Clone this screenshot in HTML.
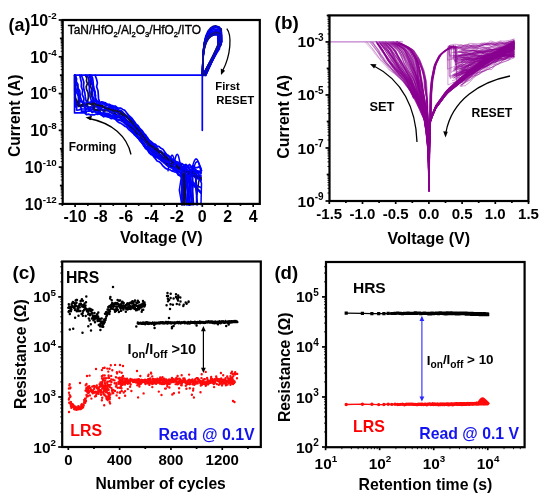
<!DOCTYPE html>
<html><head><meta charset="utf-8"><style>
html,body{margin:0;padding:0;background:#fff;}
svg{display:block;font-family:"Liberation Sans", sans-serif;filter:blur(0.35px);}
</style></head><body>
<svg width="550" height="498" viewBox="0 0 550 498">
<rect width="550" height="498" fill="#fff"/>
<line x1="60.70" y1="198.36" x2="62.70" y2="198.36" stroke="#000" stroke-width="0.9"/>
<line x1="60.70" y1="195.13" x2="62.70" y2="195.13" stroke="#000" stroke-width="0.9"/>
<line x1="60.70" y1="192.83" x2="62.70" y2="192.83" stroke="#000" stroke-width="0.9"/>
<line x1="60.70" y1="191.05" x2="62.70" y2="191.05" stroke="#000" stroke-width="0.9"/>
<line x1="60.70" y1="189.59" x2="62.70" y2="189.59" stroke="#000" stroke-width="0.9"/>
<line x1="60.70" y1="188.36" x2="62.70" y2="188.36" stroke="#000" stroke-width="0.9"/>
<line x1="60.70" y1="187.29" x2="62.70" y2="187.29" stroke="#000" stroke-width="0.9"/>
<line x1="60.70" y1="186.35" x2="62.70" y2="186.35" stroke="#000" stroke-width="0.9"/>
<line x1="60.70" y1="179.97" x2="62.70" y2="179.97" stroke="#000" stroke-width="0.9"/>
<line x1="60.70" y1="176.74" x2="62.70" y2="176.74" stroke="#000" stroke-width="0.9"/>
<line x1="60.70" y1="174.44" x2="62.70" y2="174.44" stroke="#000" stroke-width="0.9"/>
<line x1="60.70" y1="172.66" x2="62.70" y2="172.66" stroke="#000" stroke-width="0.9"/>
<line x1="60.70" y1="171.20" x2="62.70" y2="171.20" stroke="#000" stroke-width="0.9"/>
<line x1="60.70" y1="169.97" x2="62.70" y2="169.97" stroke="#000" stroke-width="0.9"/>
<line x1="60.70" y1="168.90" x2="62.70" y2="168.90" stroke="#000" stroke-width="0.9"/>
<line x1="60.70" y1="167.96" x2="62.70" y2="167.96" stroke="#000" stroke-width="0.9"/>
<line x1="60.70" y1="161.58" x2="62.70" y2="161.58" stroke="#000" stroke-width="0.9"/>
<line x1="60.70" y1="158.35" x2="62.70" y2="158.35" stroke="#000" stroke-width="0.9"/>
<line x1="60.70" y1="156.05" x2="62.70" y2="156.05" stroke="#000" stroke-width="0.9"/>
<line x1="60.70" y1="154.27" x2="62.70" y2="154.27" stroke="#000" stroke-width="0.9"/>
<line x1="60.70" y1="152.81" x2="62.70" y2="152.81" stroke="#000" stroke-width="0.9"/>
<line x1="60.70" y1="151.58" x2="62.70" y2="151.58" stroke="#000" stroke-width="0.9"/>
<line x1="60.70" y1="150.51" x2="62.70" y2="150.51" stroke="#000" stroke-width="0.9"/>
<line x1="60.70" y1="149.57" x2="62.70" y2="149.57" stroke="#000" stroke-width="0.9"/>
<line x1="60.70" y1="143.19" x2="62.70" y2="143.19" stroke="#000" stroke-width="0.9"/>
<line x1="60.70" y1="139.96" x2="62.70" y2="139.96" stroke="#000" stroke-width="0.9"/>
<line x1="60.70" y1="137.66" x2="62.70" y2="137.66" stroke="#000" stroke-width="0.9"/>
<line x1="60.70" y1="135.88" x2="62.70" y2="135.88" stroke="#000" stroke-width="0.9"/>
<line x1="60.70" y1="134.42" x2="62.70" y2="134.42" stroke="#000" stroke-width="0.9"/>
<line x1="60.70" y1="133.19" x2="62.70" y2="133.19" stroke="#000" stroke-width="0.9"/>
<line x1="60.70" y1="132.12" x2="62.70" y2="132.12" stroke="#000" stroke-width="0.9"/>
<line x1="60.70" y1="131.18" x2="62.70" y2="131.18" stroke="#000" stroke-width="0.9"/>
<line x1="60.70" y1="124.80" x2="62.70" y2="124.80" stroke="#000" stroke-width="0.9"/>
<line x1="60.70" y1="121.57" x2="62.70" y2="121.57" stroke="#000" stroke-width="0.9"/>
<line x1="60.70" y1="119.27" x2="62.70" y2="119.27" stroke="#000" stroke-width="0.9"/>
<line x1="60.70" y1="117.49" x2="62.70" y2="117.49" stroke="#000" stroke-width="0.9"/>
<line x1="60.70" y1="116.03" x2="62.70" y2="116.03" stroke="#000" stroke-width="0.9"/>
<line x1="60.70" y1="114.80" x2="62.70" y2="114.80" stroke="#000" stroke-width="0.9"/>
<line x1="60.70" y1="113.73" x2="62.70" y2="113.73" stroke="#000" stroke-width="0.9"/>
<line x1="60.70" y1="112.79" x2="62.70" y2="112.79" stroke="#000" stroke-width="0.9"/>
<line x1="60.70" y1="106.41" x2="62.70" y2="106.41" stroke="#000" stroke-width="0.9"/>
<line x1="60.70" y1="103.18" x2="62.70" y2="103.18" stroke="#000" stroke-width="0.9"/>
<line x1="60.70" y1="100.88" x2="62.70" y2="100.88" stroke="#000" stroke-width="0.9"/>
<line x1="60.70" y1="99.10" x2="62.70" y2="99.10" stroke="#000" stroke-width="0.9"/>
<line x1="60.70" y1="97.64" x2="62.70" y2="97.64" stroke="#000" stroke-width="0.9"/>
<line x1="60.70" y1="96.41" x2="62.70" y2="96.41" stroke="#000" stroke-width="0.9"/>
<line x1="60.70" y1="95.34" x2="62.70" y2="95.34" stroke="#000" stroke-width="0.9"/>
<line x1="60.70" y1="94.40" x2="62.70" y2="94.40" stroke="#000" stroke-width="0.9"/>
<line x1="60.70" y1="88.02" x2="62.70" y2="88.02" stroke="#000" stroke-width="0.9"/>
<line x1="60.70" y1="84.79" x2="62.70" y2="84.79" stroke="#000" stroke-width="0.9"/>
<line x1="60.70" y1="82.49" x2="62.70" y2="82.49" stroke="#000" stroke-width="0.9"/>
<line x1="60.70" y1="80.71" x2="62.70" y2="80.71" stroke="#000" stroke-width="0.9"/>
<line x1="60.70" y1="79.25" x2="62.70" y2="79.25" stroke="#000" stroke-width="0.9"/>
<line x1="60.70" y1="78.02" x2="62.70" y2="78.02" stroke="#000" stroke-width="0.9"/>
<line x1="60.70" y1="76.95" x2="62.70" y2="76.95" stroke="#000" stroke-width="0.9"/>
<line x1="60.70" y1="76.01" x2="62.70" y2="76.01" stroke="#000" stroke-width="0.9"/>
<line x1="60.70" y1="69.63" x2="62.70" y2="69.63" stroke="#000" stroke-width="0.9"/>
<line x1="60.70" y1="66.40" x2="62.70" y2="66.40" stroke="#000" stroke-width="0.9"/>
<line x1="60.70" y1="64.10" x2="62.70" y2="64.10" stroke="#000" stroke-width="0.9"/>
<line x1="60.70" y1="62.32" x2="62.70" y2="62.32" stroke="#000" stroke-width="0.9"/>
<line x1="60.70" y1="60.86" x2="62.70" y2="60.86" stroke="#000" stroke-width="0.9"/>
<line x1="60.70" y1="59.63" x2="62.70" y2="59.63" stroke="#000" stroke-width="0.9"/>
<line x1="60.70" y1="58.56" x2="62.70" y2="58.56" stroke="#000" stroke-width="0.9"/>
<line x1="60.70" y1="57.62" x2="62.70" y2="57.62" stroke="#000" stroke-width="0.9"/>
<line x1="60.70" y1="51.24" x2="62.70" y2="51.24" stroke="#000" stroke-width="0.9"/>
<line x1="60.70" y1="48.01" x2="62.70" y2="48.01" stroke="#000" stroke-width="0.9"/>
<line x1="60.70" y1="45.71" x2="62.70" y2="45.71" stroke="#000" stroke-width="0.9"/>
<line x1="60.70" y1="43.93" x2="62.70" y2="43.93" stroke="#000" stroke-width="0.9"/>
<line x1="60.70" y1="42.47" x2="62.70" y2="42.47" stroke="#000" stroke-width="0.9"/>
<line x1="60.70" y1="41.24" x2="62.70" y2="41.24" stroke="#000" stroke-width="0.9"/>
<line x1="60.70" y1="40.17" x2="62.70" y2="40.17" stroke="#000" stroke-width="0.9"/>
<line x1="60.70" y1="39.23" x2="62.70" y2="39.23" stroke="#000" stroke-width="0.9"/>
<line x1="60.70" y1="32.85" x2="62.70" y2="32.85" stroke="#000" stroke-width="0.9"/>
<line x1="60.70" y1="29.62" x2="62.70" y2="29.62" stroke="#000" stroke-width="0.9"/>
<line x1="60.70" y1="27.32" x2="62.70" y2="27.32" stroke="#000" stroke-width="0.9"/>
<line x1="60.70" y1="25.54" x2="62.70" y2="25.54" stroke="#000" stroke-width="0.9"/>
<line x1="60.70" y1="24.08" x2="62.70" y2="24.08" stroke="#000" stroke-width="0.9"/>
<line x1="60.70" y1="22.85" x2="62.70" y2="22.85" stroke="#000" stroke-width="0.9"/>
<line x1="60.70" y1="21.78" x2="62.70" y2="21.78" stroke="#000" stroke-width="0.9"/>
<line x1="60.70" y1="20.84" x2="62.70" y2="20.84" stroke="#000" stroke-width="0.9"/>
<line x1="58.70" y1="203.90" x2="62.70" y2="203.90" stroke="#000" stroke-width="1.7"/>
<line x1="59.90" y1="185.51" x2="62.70" y2="185.51" stroke="#000" stroke-width="1.7"/>
<line x1="58.70" y1="167.12" x2="62.70" y2="167.12" stroke="#000" stroke-width="1.7"/>
<line x1="59.90" y1="148.73" x2="62.70" y2="148.73" stroke="#000" stroke-width="1.7"/>
<line x1="58.70" y1="130.34" x2="62.70" y2="130.34" stroke="#000" stroke-width="1.7"/>
<line x1="59.90" y1="111.95" x2="62.70" y2="111.95" stroke="#000" stroke-width="1.7"/>
<line x1="58.70" y1="93.56" x2="62.70" y2="93.56" stroke="#000" stroke-width="1.7"/>
<line x1="59.90" y1="75.17" x2="62.70" y2="75.17" stroke="#000" stroke-width="1.7"/>
<line x1="58.70" y1="56.78" x2="62.70" y2="56.78" stroke="#000" stroke-width="1.7"/>
<line x1="59.90" y1="38.39" x2="62.70" y2="38.39" stroke="#000" stroke-width="1.7"/>
<line x1="58.70" y1="20.00" x2="62.70" y2="20.00" stroke="#000" stroke-width="1.7"/>
<line x1="62.38" y1="203.90" x2="62.38" y2="205.90" stroke="#000" stroke-width="1.7"/>
<line x1="75.10" y1="203.90" x2="75.10" y2="206.90" stroke="#000" stroke-width="1.7"/>
<line x1="87.82" y1="203.90" x2="87.82" y2="205.90" stroke="#000" stroke-width="1.7"/>
<line x1="100.54" y1="203.90" x2="100.54" y2="206.90" stroke="#000" stroke-width="1.7"/>
<line x1="113.26" y1="203.90" x2="113.26" y2="205.90" stroke="#000" stroke-width="1.7"/>
<line x1="125.98" y1="203.90" x2="125.98" y2="206.90" stroke="#000" stroke-width="1.7"/>
<line x1="138.70" y1="203.90" x2="138.70" y2="205.90" stroke="#000" stroke-width="1.7"/>
<line x1="151.42" y1="203.90" x2="151.42" y2="206.90" stroke="#000" stroke-width="1.7"/>
<line x1="164.14" y1="203.90" x2="164.14" y2="205.90" stroke="#000" stroke-width="1.7"/>
<line x1="176.86" y1="203.90" x2="176.86" y2="206.90" stroke="#000" stroke-width="1.7"/>
<line x1="189.58" y1="203.90" x2="189.58" y2="205.90" stroke="#000" stroke-width="1.7"/>
<line x1="202.30" y1="203.90" x2="202.30" y2="206.90" stroke="#000" stroke-width="1.7"/>
<line x1="215.02" y1="203.90" x2="215.02" y2="205.90" stroke="#000" stroke-width="1.7"/>
<line x1="227.74" y1="203.90" x2="227.74" y2="206.90" stroke="#000" stroke-width="1.7"/>
<line x1="240.46" y1="203.90" x2="240.46" y2="205.90" stroke="#000" stroke-width="1.7"/>
<line x1="253.18" y1="203.90" x2="253.18" y2="206.90" stroke="#000" stroke-width="1.7"/>
<polyline points="201.0,193.1 199.1,191.3 197.2,188.6 195.3,187.3 193.4,185.5 191.5,184.7 189.6,182.8 187.7,181.6 185.8,180.9 183.9,179.5 181.9,177.6 180.0,175.8 178.1,175.0 176.2,170.8 174.3,170.1 172.4,167.9 170.5,166.9 168.6,164.9 166.7,162.5 164.8,158.7 162.9,157.2 161.0,155.1 159.1,153.6 157.1,152.0 155.2,150.3 153.3,149.5 151.4,147.4 149.5,145.4 147.6,144.4 145.7,142.3 143.8,140.4 141.9,138.2 140.0,136.3 138.1,133.9 136.2,129.4 134.2,127.8 132.3,126.4 130.4,124.3 128.5,122.6 126.6,120.1 124.7,117.8 122.8,115.6 120.9,114.3 119.0,114.6 117.1,112.3 115.2,113.3 113.3,110.7 111.4,111.0 109.4,110.8 107.5,110.3 105.6,109.2 103.7,111.7 101.8,109.5 99.9,109.5 98.0,109.0 96.1,109.5 94.2,109.1 92.3,108.0 90.4,107.2 88.5,107.7 86.5,105.4 84.6,106.3 82.7,106.4 80.8,106.0 78.9,105.8 77.0,105.3 75.1,107.0 75.5,103.8 75.0,100.6 74.8,97.4 75.0,94.3 74.8,91.1 74.8,87.9 74.8,84.7 74.8,81.5 74.8,78.4 74.8,75.2" fill="none" stroke="#0000ff" stroke-width="1.7" stroke-opacity="1" stroke-linejoin="round" stroke-linecap="round" />
<polyline points="201.0,172.1 199.1,172.8 197.2,172.6 195.3,170.8 193.4,171.5 191.5,171.1 189.6,171.2 187.7,172.3 185.8,170.2 183.9,170.3 181.9,170.3 180.0,169.1 178.1,168.4 176.2,167.8 174.3,166.4 172.4,165.2 170.5,163.9 168.6,163.3 166.7,162.5 164.8,160.3 162.9,160.0 161.0,157.7 159.1,156.2 157.1,155.6 155.2,155.1 153.3,153.2 151.4,151.3 149.5,149.3 147.6,146.7 145.7,145.9 143.8,143.1 141.9,140.4 140.0,138.3 138.1,137.0 136.2,132.7 134.2,129.3 132.3,127.4 130.4,126.3 128.5,124.2 126.6,122.1 124.7,119.3 122.8,118.8 120.9,117.7 119.0,116.3 117.1,116.7 115.2,115.0 113.3,115.9 111.4,115.2 109.4,114.1 107.5,113.3 105.6,113.2 103.7,112.8 101.8,113.2 99.9,111.9 98.0,111.3 96.1,110.8 94.2,109.7 92.3,109.8 90.4,108.9 88.5,109.0 86.5,109.2 84.6,109.0 82.7,109.0 80.8,109.0 78.9,110.0 77.0,110.2 76.4,109.8 76.9,106.3 76.5,102.9 75.6,99.4 75.3,95.9 74.8,92.5 74.8,89.0 74.8,85.6 74.8,82.1 74.8,78.6 74.8,75.2" fill="none" stroke="#0000ff" stroke-width="1.7" stroke-opacity="1" stroke-linejoin="round" stroke-linecap="round" />
<polyline points="201.0,177.3 199.1,176.4 197.2,175.2 195.3,173.5 193.4,172.6 191.5,170.9 189.6,170.3 187.7,170.4 185.8,169.1 183.9,167.5 181.9,167.7 180.0,166.6 178.1,166.4 176.2,164.1 174.3,164.2 172.4,163.8 170.5,163.7 168.6,161.4 166.7,161.0 164.8,158.4 162.9,157.9 161.0,155.7 159.1,153.5 157.1,151.7 155.2,148.7 153.3,147.4 151.4,145.5 149.5,144.3 147.6,142.2 145.7,138.0 143.8,137.2 141.9,135.3 140.0,132.1 138.1,131.3 136.2,129.1 134.2,126.8 132.3,125.0 130.4,123.1 128.5,121.6 126.6,120.3 124.7,118.3 122.8,115.9 120.9,113.3 119.0,113.7 117.1,111.7 115.2,110.1 113.3,109.6 111.4,107.9 109.4,107.7 107.5,107.5 105.6,107.4 103.7,106.3 101.8,105.6 99.9,106.9 98.0,107.3 96.1,106.5 94.2,107.3 92.3,107.1 90.4,107.1 88.5,107.5 86.5,105.9 84.6,105.0 82.7,106.1 80.8,105.7 78.9,105.3 78.4,102.2 78.5,99.2 78.6,96.2 78.3,93.2 77.8,90.2 77.8,87.2 76.5,84.2 76.0,81.2 76.2,78.2 75.3,75.2" fill="none" stroke="#10103a" stroke-width="1.7" stroke-opacity="1" stroke-linejoin="round" stroke-linecap="round" />
<polyline points="201.0,171.8 199.1,171.0 197.2,171.8 195.3,171.6 193.4,171.5 191.5,170.2 189.6,170.8 187.7,171.6 185.8,171.5 183.9,171.4 181.9,170.7 180.0,170.2 178.1,169.4 176.2,168.9 174.3,167.8 172.4,165.7 170.5,165.6 168.6,165.2 166.7,164.3 164.8,162.8 162.9,161.2 161.0,160.3 159.1,158.5 157.1,157.1 155.2,156.3 153.3,155.0 151.4,153.8 149.5,152.0 147.6,148.9 145.7,148.5 143.8,145.1 141.9,142.9 140.0,140.5 138.1,137.5 136.2,134.4 134.2,132.4 132.3,129.9 130.4,128.0 128.5,125.9 126.6,123.6 124.7,122.7 122.8,121.6 120.9,120.3 119.0,119.6 117.1,119.2 115.2,117.3 113.3,117.1 111.4,116.8 109.4,115.5 107.5,116.3 105.6,115.0 103.7,114.4 101.8,114.9 99.9,114.2 98.0,113.4 96.1,111.9 94.2,111.2 92.3,112.2 90.4,110.6 88.5,111.1 86.5,111.0 84.6,111.2 82.7,111.2 81.5,111.8 81.2,108.1 79.6,104.4 79.9,100.8 79.4,97.1 78.8,93.5 77.6,89.8 77.4,86.1 76.2,82.5 76.6,78.8 74.8,75.2" fill="none" stroke="#0000ff" stroke-width="1.7" stroke-opacity="1" stroke-linejoin="round" stroke-linecap="round" />
<polyline points="201.0,192.2 199.1,190.2 197.2,189.3 195.3,186.6 193.4,184.8 191.5,183.7 189.6,180.4 187.7,179.6 185.8,177.2 183.9,176.1 181.9,174.2 180.0,172.1 178.1,170.7 176.2,169.3 174.3,167.2 172.4,165.8 170.5,165.2 168.6,164.8 166.7,162.5 164.8,161.0 162.9,159.4 161.0,156.5 159.1,154.5 157.1,152.8 155.2,151.5 153.3,149.1 151.4,147.2 149.5,145.5 147.6,143.2 145.7,139.8 143.8,137.7 141.9,135.2 140.0,133.6 138.1,130.0 136.2,128.5 134.2,127.1 132.3,124.1 130.4,124.6 128.5,122.8 126.6,120.8 124.7,118.9 122.8,116.9 120.9,116.6 119.0,114.8 117.1,112.1 115.2,112.1 113.3,111.7 111.4,110.0 109.4,108.8 107.5,109.0 105.6,108.6 103.7,107.2 101.8,106.2 99.9,106.3 98.0,107.9 96.1,106.2 94.2,106.7 92.3,107.5 90.4,107.7 88.5,107.4 86.5,108.4 84.6,107.0 84.0,106.3 82.9,103.2 81.5,100.1 80.3,97.0 80.1,93.9 79.7,90.7 77.7,87.6 78.0,84.5 76.1,81.4 75.7,78.3 74.8,75.2" fill="none" stroke="#0000ff" stroke-width="1.7" stroke-opacity="1" stroke-linejoin="round" stroke-linecap="round" />
<polyline points="201.0,179.3 199.1,178.3 197.2,176.2 195.3,175.2 193.4,174.5 191.5,173.9 189.6,173.3 187.7,173.1 185.8,171.9 183.9,171.9 181.9,169.8 180.0,168.5 178.1,166.0 176.2,164.9 174.3,163.0 172.4,161.2 170.5,159.2 168.6,159.0 166.7,157.4 164.8,154.4 162.9,153.8 161.0,151.6 159.1,150.9 157.1,149.3 155.2,148.9 153.3,146.2 151.4,145.5 149.5,143.9 147.6,140.1 145.7,138.6 143.8,134.6 141.9,133.9 140.0,131.8 138.1,128.9 136.2,125.5 134.2,123.8 132.3,121.0 130.4,118.9 128.5,118.0 126.6,115.7 124.7,114.6 122.8,113.5 120.9,111.1 119.0,110.6 117.1,110.4 115.2,110.4 113.3,110.4 111.4,108.4 109.4,108.2 107.5,108.6 105.6,107.1 103.7,107.2 101.8,105.6 99.9,104.7 98.0,104.1 96.1,103.7 94.2,103.3 92.3,103.7 90.4,103.0 88.5,102.9 87.8,103.7 87.7,100.8 88.3,98.0 88.3,95.1 88.0,92.3 86.5,89.4 86.2,86.6 87.4,83.7 86.5,80.9 86.8,78.0 85.4,75.2" fill="none" stroke="#10103a" stroke-width="1.7" stroke-opacity="1" stroke-linejoin="round" stroke-linecap="round" />
<polyline points="201.0,180.3 199.1,178.6 197.2,178.7 195.3,177.0 193.4,175.8 191.5,176.2 189.6,175.9 187.7,176.1 185.8,176.4 183.9,174.8 181.9,174.4 180.0,172.7 178.1,171.4 176.2,169.8 174.3,168.0 172.4,167.9 170.5,166.5 168.6,166.4 166.7,163.6 164.8,162.8 162.9,161.1 161.0,158.5 159.1,159.1 157.1,156.1 155.2,154.5 153.3,153.7 151.4,151.2 149.5,150.7 147.6,148.1 145.7,147.2 143.8,145.0 141.9,141.1 140.0,138.8 138.1,137.5 136.2,134.3 134.2,132.8 132.3,130.0 130.4,126.5 128.5,124.7 126.6,123.1 124.7,121.6 122.8,119.9 120.9,118.9 119.0,117.2 117.1,117.5 115.2,116.9 113.3,115.3 111.4,115.8 109.4,115.6 107.5,114.2 105.6,115.1 103.7,114.3 101.8,115.2 99.9,111.2 98.0,112.8 96.1,112.5 94.2,111.2 92.3,112.4 90.4,109.7 89.1,111.1 88.0,107.5 87.2,103.9 85.9,100.3 85.3,96.7 84.9,93.1 83.9,89.6 83.5,86.0 83.9,82.4 82.8,78.8 81.4,75.2" fill="none" stroke="#0000ff" stroke-width="1.7" stroke-opacity="1" stroke-linejoin="round" stroke-linecap="round" />
<polyline points="201.0,175.2 199.1,174.7 197.2,172.6 195.3,172.2 193.4,171.1 191.5,170.6 189.6,170.7 187.7,170.0 185.8,167.9 183.9,168.3 181.9,167.5 180.0,166.4 178.1,165.6 176.2,164.3 174.3,164.0 172.4,163.0 170.5,161.2 168.6,160.7 166.7,159.6 164.8,156.9 162.9,155.1 161.0,152.6 159.1,151.5 157.1,149.9 155.2,147.8 153.3,145.1 151.4,144.5 149.5,142.6 147.6,140.7 145.7,138.6 143.8,136.4 141.9,134.1 140.0,133.8 138.1,130.0 136.2,128.6 134.2,126.4 132.3,122.5 130.4,121.8 128.5,118.7 126.6,117.3 124.7,116.4 122.8,113.6 120.9,111.7 119.0,111.1 117.1,111.4 115.2,109.5 113.3,108.7 111.4,108.6 109.4,106.6 107.5,107.6 105.6,107.6 103.7,107.3 101.8,107.3 99.9,107.0 98.0,106.4 96.1,106.1 94.2,106.2 92.3,105.6 91.6,104.9 91.7,101.9 90.8,98.9 89.9,96.0 90.0,93.0 89.3,90.0 89.4,87.1 88.7,84.1 89.0,81.1 88.6,78.1 86.8,75.2" fill="none" stroke="#0000ff" stroke-width="1.7" stroke-opacity="1" stroke-linejoin="round" stroke-linecap="round" />
<polyline points="201.0,179.1 199.1,177.5 197.2,177.7 195.3,176.3 193.4,175.1 191.5,173.8 189.6,172.1 187.7,172.9 185.8,171.8 183.9,171.5 181.9,170.6 180.0,168.9 178.1,167.9 176.2,166.3 174.3,167.1 172.4,166.3 170.5,166.0 168.6,164.8 166.7,163.9 164.8,163.1 162.9,160.3 161.0,158.4 159.1,156.7 157.1,154.9 155.2,152.9 153.3,151.4 151.4,149.7 149.5,147.3 147.6,144.9 145.7,142.7 143.8,140.1 141.9,138.6 140.0,135.4 138.1,134.1 136.2,132.5 134.2,129.7 132.3,127.7 130.4,127.4 128.5,125.8 126.6,123.4 124.7,121.2 122.8,119.9 120.9,117.0 119.0,117.3 117.1,115.0 115.2,113.9 113.3,113.2 111.4,113.0 109.4,111.7 107.5,110.5 105.6,110.9 103.7,110.5 101.8,110.0 99.9,109.9 98.0,110.4 96.1,109.8 94.2,109.7 94.2,106.2 92.9,102.8 93.1,99.3 91.5,95.9 91.3,92.4 91.5,89.0 90.2,85.5 90.1,82.1 90.4,78.6 88.9,75.2" fill="none" stroke="#10103a" stroke-width="1.7" stroke-opacity="1" stroke-linejoin="round" stroke-linecap="round" />
<polyline points="201.0,173.5 199.1,172.0 197.2,171.6 195.3,169.1 193.4,168.7 191.5,167.4 189.6,167.0 187.7,166.8 185.8,164.4 183.9,165.6 181.9,163.5 180.0,163.4 178.1,162.2 176.2,162.0 174.3,161.2 172.4,159.8 170.5,158.6 168.6,159.4 166.7,157.7 164.8,155.4 162.9,154.4 161.0,151.9 159.1,150.8 157.1,148.0 155.2,146.1 153.3,143.7 151.4,142.3 149.5,141.1 147.6,137.8 145.7,136.6 143.8,133.5 141.9,131.1 140.0,129.6 138.1,128.4 136.2,125.5 134.2,124.1 132.3,122.8 130.4,120.5 128.5,117.9 126.6,117.1 124.7,115.1 122.8,113.4 120.9,112.2 119.0,110.4 117.1,108.7 115.2,107.6 113.3,106.7 111.4,106.8 109.4,104.3 107.5,104.2 105.6,103.8 103.7,103.4 101.8,104.2 99.9,104.2 98.0,103.9 96.7,103.4 96.8,100.6 95.5,97.8 94.8,94.9 95.2,92.1 94.3,89.3 93.6,86.5 93.2,83.6 93.0,80.8 92.6,78.0 91.1,75.2" fill="none" stroke="#0000ff" stroke-width="1.7" stroke-opacity="1" stroke-linejoin="round" stroke-linecap="round" />
<polyline points="201.0,168.4 199.1,166.8 197.2,167.6 195.3,167.6 193.4,165.8 191.5,166.8 189.6,164.5 187.7,166.1 185.8,165.3 183.9,165.0 181.9,164.0 180.0,164.1 178.1,163.0 176.2,161.8 174.3,161.4 172.4,161.2 170.5,161.4 168.6,162.1 166.7,161.6 164.8,160.6 162.9,160.2 161.0,158.1 159.1,156.6 157.1,155.1 155.2,153.3 153.3,151.0 151.4,149.9 149.5,147.7 147.6,144.2 145.7,141.6 143.8,139.9 141.9,136.7 140.0,134.4 138.1,132.5 136.2,130.0 134.2,128.1 132.3,126.3 130.4,124.5 128.5,123.7 126.6,123.0 124.7,120.8 122.8,119.0 120.9,117.8 119.0,116.5 117.1,115.7 115.2,115.0 113.3,114.3 111.4,112.4 109.4,111.6 107.5,110.3 105.6,108.8 103.7,109.9 101.8,108.9 99.9,107.6 99.3,109.1 98.1,105.7 96.4,102.3 95.1,98.9 95.6,95.5 94.5,92.2 93.0,88.8 92.5,85.4 91.7,82.0 90.6,78.6 89.5,75.2" fill="none" stroke="#0000ff" stroke-width="1.7" stroke-opacity="1" stroke-linejoin="round" stroke-linecap="round" />
<polyline points="201.0,180.8 199.1,178.8 197.2,178.2 195.3,177.7 193.4,174.9 191.5,174.6 189.6,173.9 187.7,171.7 185.8,170.3 183.9,169.3 181.9,166.8 180.0,164.9 178.1,164.2 176.2,163.2 174.3,162.0 172.4,159.6 170.5,157.8 168.6,156.9 166.7,155.4 164.8,153.4 162.9,153.0 161.0,151.1 159.1,151.2 157.1,148.3 155.2,146.8 153.3,145.2 151.4,143.5 149.5,141.6 147.6,138.3 145.7,135.0 143.8,133.3 141.9,130.3 140.0,128.6 138.1,125.7 136.2,124.2 134.2,121.3 132.3,119.6 130.4,117.8 128.5,117.0 126.6,116.0 124.7,114.2 122.8,112.1 120.9,110.4 119.0,110.6 117.1,109.1 115.2,108.1 113.3,107.2 111.4,107.0 109.4,105.0 107.5,104.9 105.6,102.9 103.7,102.4 101.8,101.8 99.9,103.0 98.0,101.2 96.1,101.2 94.2,102.3 92.3,101.3 90.4,102.0 88.5,102.3 86.5,102.8 84.6,103.2 82.7,103.0 80.8,101.0 80.2,101.6 78.9,99.0 78.5,96.3 77.1,93.7 76.4,91.0 75.9,88.4 74.9,85.7 74.8,83.1 74.8,80.5 74.8,77.8 74.8,75.2" fill="none" stroke="#0000ff" stroke-width="1.7" stroke-opacity="1" stroke-linejoin="round" stroke-linecap="round" />
<polyline points="201.0,176.7 199.1,175.6 197.2,176.7 195.3,174.5 193.4,176.2 191.5,175.6 189.6,175.7 187.7,174.2 185.8,174.7 183.9,174.4 181.9,173.0 180.0,172.2 178.1,171.6 176.2,170.7 174.3,170.2 172.4,167.8 170.5,167.6 168.6,166.6 166.7,165.3 164.8,163.5 162.9,161.9 161.0,160.5 159.1,158.5 157.1,157.7 155.2,157.5 153.3,155.3 151.4,154.8 149.5,153.2 147.6,150.1 145.7,148.6 143.8,146.1 141.9,142.9 140.0,140.4 138.1,138.3 136.2,136.3 134.2,134.7 132.3,130.4 130.4,129.3 128.5,126.8 126.6,125.1 124.7,123.7 122.8,121.5 120.9,120.7 119.0,120.2 117.1,119.9 115.2,118.5 113.3,118.1 111.4,118.7 109.4,117.5 107.5,117.0 105.6,116.2 103.7,116.8 101.8,115.4 100.5,113.9 99.7,110.0 99.9,106.2 99.7,102.3 98.5,98.4 98.3,94.5 98.0,90.7 96.6,86.8 97.4,82.9 96.5,79.0 95.1,75.2" fill="none" stroke="#0000ff" stroke-width="1.7" stroke-opacity="1" stroke-linejoin="round" stroke-linecap="round" />
<polyline points="201.0,178.3 199.1,177.6 197.2,177.6 195.3,176.5 193.4,175.8 191.5,173.5 189.6,174.4 187.7,172.9 185.8,171.5 183.9,170.5 181.9,169.2 180.0,167.5 178.1,167.4 176.2,165.1 174.3,163.8 172.4,162.1 170.5,159.1 168.6,160.2 166.7,157.4 164.8,156.5 162.9,153.5 161.0,152.2 159.1,152.0 157.1,149.2 155.2,149.0 153.3,146.9 151.4,146.1 149.5,144.7 147.6,142.4 145.7,139.9 143.8,137.1 141.9,134.8 140.0,131.0 138.1,129.8 136.2,127.4 134.2,125.0 132.3,122.5 130.4,120.8 128.5,118.9 126.6,116.3 124.7,115.3 122.8,114.0 120.9,112.5 119.0,111.5 117.1,111.2 115.2,110.6 113.3,110.7 111.4,109.8 109.4,109.5 107.5,108.6 105.6,108.3 103.7,107.3 101.8,106.4 99.9,105.6 98.0,105.2 96.1,104.8 94.2,103.4 92.3,104.1 90.4,104.2 88.5,103.5 86.5,104.3 84.6,104.5 82.7,104.1 80.8,105.3 78.9,106.5 77.6,104.3 77.2,101.4 75.5,98.5 74.8,95.6 74.8,92.6 74.8,89.7 74.8,86.8 74.8,83.9 74.8,81.0 74.8,78.1 74.8,75.2" fill="none" stroke="#10103a" stroke-width="1.7" stroke-opacity="1" stroke-linejoin="round" stroke-linecap="round" />
<polyline points="201.0,172.8 199.1,172.2 197.2,170.8 195.3,171.2 193.4,170.6 191.5,169.8 189.6,169.1 187.7,167.7 185.8,167.6 183.9,167.0 181.9,166.6 180.0,164.4 178.1,163.3 176.2,161.5 174.3,160.4 172.4,159.4 170.5,157.3 168.6,155.5 166.7,154.6 164.8,151.9 162.9,149.3 161.0,148.3 159.1,146.6 157.1,146.1 155.2,144.2 153.3,143.6 151.4,141.8 149.5,140.5 147.6,138.2 145.7,136.8 143.8,133.7 141.9,131.8 140.0,129.2 138.1,127.1 136.2,125.6 134.2,122.0 132.3,118.7 130.4,116.9 128.5,115.1 126.6,112.7 124.7,110.3 122.8,109.4 120.9,108.1 119.0,108.2 117.1,107.5 115.2,106.0 113.3,105.9 111.4,105.4 109.4,104.7 107.5,105.1 105.6,105.7 103.7,103.9 101.8,102.6 99.9,102.6 98.0,102.0 96.1,101.2 94.2,100.1 92.9,101.3 93.7,98.7 92.6,96.1 92.6,93.5 91.9,90.8 92.7,88.2 92.7,85.6 91.3,83.0 91.7,80.4 90.9,77.8 90.4,75.2" fill="none" stroke="#0000ff" stroke-width="1.7" stroke-opacity="1" stroke-linejoin="round" stroke-linecap="round" />
<polyline points="201.0,187.6 199.1,186.7 197.2,185.8 195.3,185.0 193.4,182.3 191.5,182.7 189.6,181.1 187.7,180.2 185.8,179.3 183.9,179.0 181.9,176.5 180.0,174.8 178.1,173.6 176.2,172.1 174.3,171.8 172.4,171.3 170.5,170.1 168.6,169.2 166.7,169.0 164.8,167.7 162.9,165.9 161.0,163.3 159.1,161.7 157.1,161.0 155.2,158.5 153.3,156.1 151.4,153.8 149.5,152.6 147.6,149.7 145.7,146.3 143.8,143.3 141.9,141.5 140.0,140.8 138.1,137.8 136.2,136.2 134.2,134.1 132.3,132.5 130.4,130.9 128.5,129.3 126.6,126.9 124.7,126.1 122.8,124.6 120.9,123.2 119.0,122.6 117.1,121.2 115.2,119.2 113.3,118.2 111.4,116.3 109.4,116.3 107.5,115.8 105.6,116.0 103.7,114.3 101.8,115.1 99.9,113.0 98.0,114.3 96.1,114.1 94.2,115.0 92.3,114.7 90.4,115.1 88.5,114.1 86.5,114.7 85.3,113.7 85.5,109.9 84.6,106.0 83.7,102.2 83.9,98.3 82.2,94.4 82.6,90.6 81.3,86.7 81.5,82.9 80.6,79.0 79.8,75.2" fill="none" stroke="#0000ff" stroke-width="1.7" stroke-opacity="1" stroke-linejoin="round" stroke-linecap="round" />
<polyline points="197.6,204.8 195.6,187.4 195.8,170.5" fill="none" stroke="#0000ff" stroke-width="1.5" stroke-opacity="1" stroke-linejoin="round" stroke-linecap="round" />
<polyline points="191.4,204.8 192.2,189.7 192.6,178.3" fill="none" stroke="#0000ff" stroke-width="1.5" stroke-opacity="1" stroke-linejoin="round" stroke-linecap="round" />
<polyline points="183.9,204.8 183.5,191.4 183.0,176.8" fill="none" stroke="#0000ff" stroke-width="1.5" stroke-opacity="1" stroke-linejoin="round" stroke-linecap="round" />
<polyline points="182.4,204.8 182.4,178.9 181.2,164.5" fill="none" stroke="#10103a" stroke-width="1.5" stroke-opacity="1" stroke-linejoin="round" stroke-linecap="round" />
<polyline points="186.7,204.8 187.8,190.1 186.3,177.3" fill="none" stroke="#0000ff" stroke-width="1.5" stroke-opacity="1" stroke-linejoin="round" stroke-linecap="round" />
<polyline points="181.7,204.8 181.3,191.1 183.3,165.8" fill="none" stroke="#0000ff" stroke-width="1.5" stroke-opacity="1" stroke-linejoin="round" stroke-linecap="round" />
<polyline points="197.0,204.8 196.5,197.2 199.0,180.0" fill="none" stroke="#10103a" stroke-width="1.5" stroke-opacity="1" stroke-linejoin="round" stroke-linecap="round" />
<polyline points="192.2,204.8 189.1,187.2 191.9,168.9" fill="none" stroke="#0000ff" stroke-width="1.5" stroke-opacity="1" stroke-linejoin="round" stroke-linecap="round" />
<polyline points="184.8,204.8 185.2,188.7 185.4,166.1" fill="none" stroke="#0000ff" stroke-width="1.5" stroke-opacity="1" stroke-linejoin="round" stroke-linecap="round" />
<polyline points="182.1,204.8 182.6,188.4 180.5,163.0" fill="none" stroke="#0000ff" stroke-width="1.5" stroke-opacity="1" stroke-linejoin="round" stroke-linecap="round" />
<polyline points="186.8,204.8 185.1,190.8 187.6,171.6" fill="none" stroke="#0000ff" stroke-width="1.5" stroke-opacity="1" stroke-linejoin="round" stroke-linecap="round" />
<polyline points="181.9,204.8 179.3,190.2 182.3,170.7" fill="none" stroke="#0000ff" stroke-width="1.5" stroke-opacity="1" stroke-linejoin="round" stroke-linecap="round" />
<polyline points="193.0,204.8 192.5,179.5 192.6,167.8" fill="none" stroke="#10103a" stroke-width="1.5" stroke-opacity="1" stroke-linejoin="round" stroke-linecap="round" />
<polyline points="184.4,204.8 185.4,194.6 184.1,173.0" fill="none" stroke="#10103a" stroke-width="1.5" stroke-opacity="1" stroke-linejoin="round" stroke-linecap="round" />
<polyline points="190.4,204.8 193.0,186.0 191.9,174.6" fill="none" stroke="#0000ff" stroke-width="1.5" stroke-opacity="1" stroke-linejoin="round" stroke-linecap="round" />
<polyline points="189.2,204.8 188.0,194.7 186.9,177.3" fill="none" stroke="#0000ff" stroke-width="1.5" stroke-opacity="1" stroke-linejoin="round" stroke-linecap="round" />
<polyline points="187.3,204.8 187.3,192.5 185.7,172.6" fill="none" stroke="#0000ff" stroke-width="1.5" stroke-opacity="1" stroke-linejoin="round" stroke-linecap="round" />
<polyline points="201.0,204.8 201.5,183.1 198.5,177.4" fill="none" stroke="#0000ff" stroke-width="1.5" stroke-opacity="1" stroke-linejoin="round" stroke-linecap="round" />
<polyline points="189.7,204.8 187.9,185.5 188.8,177.1" fill="none" stroke="#0000ff" stroke-width="1.5" stroke-opacity="1" stroke-linejoin="round" stroke-linecap="round" />
<polyline points="187.8,204.8 187.2,187.8 187.2,175.2" fill="none" stroke="#0000ff" stroke-width="1.5" stroke-opacity="1" stroke-linejoin="round" stroke-linecap="round" />
<polyline points="188.7,204.8 190.6,192.0 190.4,171.4" fill="none" stroke="#0000ff" stroke-width="1.5" stroke-opacity="1" stroke-linejoin="round" stroke-linecap="round" />
<polyline points="183.2,204.8 184.8,190.9 183.3,174.4" fill="none" stroke="#10103a" stroke-width="1.5" stroke-opacity="1" stroke-linejoin="round" stroke-linecap="round" />
<polyline points="185.0,204.8 184.0,197.3 183.6,173.7" fill="none" stroke="#10103a" stroke-width="1.5" stroke-opacity="1" stroke-linejoin="round" stroke-linecap="round" />
<polyline points="193.8,204.8 191.5,183.1 194.2,168.6" fill="none" stroke="#0000ff" stroke-width="1.5" stroke-opacity="1" stroke-linejoin="round" stroke-linecap="round" />
<polyline points="196.3,204.8 197.0,192.5 195.6,171.4" fill="none" stroke="#0000ff" stroke-width="1.5" stroke-opacity="1" stroke-linejoin="round" stroke-linecap="round" />
<polyline points="188.5,204.8 189.1,191.8 189.6,173.4" fill="none" stroke="#0000ff" stroke-width="1.5" stroke-opacity="1" stroke-linejoin="round" stroke-linecap="round" />
<polyline points="173.0,170.8 173.7,166.5 174.4,162.5 175.1,159.1 175.8,156.5 176.5,154.8 177.2,154.2 177.9,154.8 178.6,156.5 179.2,159.1 179.9,162.5 180.6,166.5 181.3,170.8" fill="none" stroke="#0000ff" stroke-width="1.5" stroke-opacity="1" stroke-linejoin="round" stroke-linecap="round" />
<polyline points="191.5,170.8 192.3,167.7 193.0,164.8 193.8,162.3 194.6,160.4 195.4,159.3 196.1,158.8 196.9,159.3 197.7,160.4 198.5,162.3 199.2,164.8 200.0,167.7 200.8,170.8" fill="none" stroke="#0000ff" stroke-width="1.5" stroke-opacity="1" stroke-linejoin="round" stroke-linecap="round" />
<polyline points="192.8,170.8 193.5,168.4 194.2,166.2 195.0,164.3 195.7,162.8 196.5,161.9 197.2,161.6 198.0,161.9 198.7,162.8 199.4,164.3 200.2,166.2 200.9,168.4 201.7,170.8" fill="none" stroke="#0000ff" stroke-width="1.5" stroke-opacity="1" stroke-linejoin="round" stroke-linecap="round" />
<polyline points="168.0,170.8 168.6,166.8 169.3,163.0 170.0,159.7 170.7,157.3 171.4,155.7 172.1,155.2 172.8,155.7 173.5,157.3 174.2,159.7 174.8,163.0 175.5,166.8 176.2,170.8" fill="none" stroke="#0000ff" stroke-width="1.5" stroke-opacity="1" stroke-linejoin="round" stroke-linecap="round" />
<polyline points="181.9,170.8 182.7,169.4 183.4,168.0 184.2,166.9 184.9,166.0 185.7,165.5 186.4,165.3 187.1,165.5 187.9,166.0 188.6,166.9 189.4,168.0 190.1,169.4 190.9,170.8" fill="none" stroke="#0000ff" stroke-width="1.5" stroke-opacity="1" stroke-linejoin="round" stroke-linecap="round" />
<polyline points="74.5,75.2 202.3,75.2" fill="none" stroke="#0000ff" stroke-width="1.7" stroke-opacity="1" stroke-linejoin="round" stroke-linecap="round" />
<polyline points="74.5,75.2 74.5,112.9 86.5,112.9" fill="none" stroke="#0000ff" stroke-width="1.6" stroke-opacity="1" stroke-linejoin="round" stroke-linecap="round" />
<polyline points="202.3,75.2 202.3,130.3" fill="none" stroke="#0000ff" stroke-width="1.7" stroke-opacity="1" stroke-linejoin="round" stroke-linecap="round" />
<polyline points="202.5,75.3 202.8,62.0 203.2,52.0 204.2,43.0 205.8,36.0 208.0,31.0 210.5,28.0 213.0,26.4 215.5,25.8 216.8,26.2 219.4,27.0 219.6,41.6 217.0,46.8 214.7,52.3 212.3,57.9 210.0,63.6 207.6,69.4 205.3,75.3" fill="none" stroke="#12127a" stroke-width="1.6" stroke-opacity="1" stroke-linejoin="round" stroke-linecap="round" />
<polyline points="202.5,75.3 202.8,62.5 203.2,52.8 204.3,44.1 206.0,37.4 208.3,32.6 210.9,29.7 213.5,28.1 216.1,27.5 217.5,27.9 221.3,29.2 221.5,42.2 218.7,47.2 216.1,52.6 213.5,58.2 210.9,63.8 208.3,69.5 205.7,75.3" fill="none" stroke="#0000ff" stroke-width="1.6" stroke-opacity="1" stroke-linejoin="round" stroke-linecap="round" />
<polyline points="202.5,75.3 202.8,62.3 203.2,52.6 204.3,43.8 206.0,37.0 208.3,32.1 210.9,29.2 213.5,27.7 216.2,27.1 217.5,27.5 220.3,28.3 220.5,45.1 217.5,49.7 214.7,54.6 211.9,59.7 209.1,64.8 206.3,70.0 203.5,75.3" fill="none" stroke="#0000ff" stroke-width="1.6" stroke-opacity="1" stroke-linejoin="round" stroke-linecap="round" />
<polyline points="202.5,75.3 202.8,62.9 203.2,53.6 204.3,45.3 205.9,38.7 208.2,34.1 210.8,31.3 213.4,29.8 216.0,29.3 217.3,29.6 220.0,30.4 220.2,45.9 217.2,50.3 214.3,55.1 211.5,60.1 208.6,65.1 205.7,70.2 202.9,75.3" fill="none" stroke="#0000ff" stroke-width="1.6" stroke-opacity="1" stroke-linejoin="round" stroke-linecap="round" />
<polyline points="202.5,75.3 202.8,62.4 203.2,52.6 204.2,43.9 205.9,37.0 208.1,32.2 210.7,29.2 213.2,27.7 215.8,27.1 217.1,27.5 221.2,28.8 221.4,42.3 218.2,47.4 215.1,52.7 212.0,58.3 208.9,63.9 205.8,69.6 202.8,75.3" fill="none" stroke="#12127a" stroke-width="1.6" stroke-opacity="1" stroke-linejoin="round" stroke-linecap="round" />
<polyline points="202.5,75.3 202.8,62.2 203.3,52.4 204.3,43.5 206.0,36.6 208.4,31.7 211.1,28.7 213.8,27.1 216.5,26.5 217.9,26.9 219.3,27.7 219.5,48.8 216.9,52.8 214.5,57.1 212.1,61.6 209.8,66.1 207.4,70.7 205.0,75.3" fill="none" stroke="#0000ff" stroke-width="1.6" stroke-opacity="1" stroke-linejoin="round" stroke-linecap="round" />
<polyline points="202.5,75.3 202.8,64.4 203.2,56.1 204.3,48.7 205.9,43.0 208.2,38.9 210.8,36.4 213.3,35.1 215.9,34.6 217.3,34.9 218.9,35.7 219.1,45.0 216.3,49.6 213.6,54.5 211.0,59.6 208.3,64.8 205.7,70.0 203.1,75.3" fill="none" stroke="#0000ff" stroke-width="1.6" stroke-opacity="1" stroke-linejoin="round" stroke-linecap="round" />
<polyline points="202.5,75.3 202.8,63.4 203.2,54.4 204.3,46.4 205.9,40.1 208.2,35.6 210.8,32.9 213.4,31.5 216.0,30.9 217.3,31.3 221.4,32.6 221.6,41.5 218.8,46.7 216.2,52.2 213.6,57.8 211.0,63.6 208.4,69.4 205.8,75.3" fill="none" stroke="#0000ff" stroke-width="1.6" stroke-opacity="1" stroke-linejoin="round" stroke-linecap="round" />
<polyline points="202.5,75.3 202.8,64.3 203.3,56.0 204.4,48.5 206.1,42.7 208.5,38.5 211.2,36.0 214.0,34.7 216.7,34.2 218.1,34.5 221.1,35.3 221.3,44.5 218.4,49.2 215.7,54.2 212.9,59.4 210.2,64.6 207.5,69.9 204.8,75.3" fill="none" stroke="#12127a" stroke-width="1.6" stroke-opacity="1" stroke-linejoin="round" stroke-linecap="round" />
<polyline points="202.5,75.3 202.8,64.0 203.2,55.6 204.3,47.9 206.0,42.0 208.3,37.8 210.9,35.2 213.5,33.9 216.1,33.4 217.5,33.7 221.6,35.0 221.8,41.9 218.4,47.0 215.3,52.4 212.2,58.0 209.0,63.7 205.9,69.5 202.7,75.3" fill="none" stroke="#0000ff" stroke-width="1.6" stroke-opacity="1" stroke-linejoin="round" stroke-linecap="round" />
<polyline points="202.5,75.3 202.8,63.5 203.2,54.6 204.2,46.6 205.9,40.4 208.1,35.9 210.7,33.2 213.2,31.8 215.8,31.3 217.1,31.6 217.7,32.4 217.9,47.8 215.3,52.0 212.9,56.5 210.6,61.1 208.2,65.8 205.8,70.5 203.4,75.3" fill="none" stroke="#0000ff" stroke-width="1.6" stroke-opacity="1" stroke-linejoin="round" stroke-linecap="round" />
<polyline points="202.5,75.3 202.8,63.4 203.3,54.4 204.4,46.3 206.1,40.0 208.5,35.5 211.2,32.8 213.9,31.4 216.7,30.9 218.1,31.2 218.8,32.0 219.0,47.5 216.6,51.8 214.4,56.3 212.2,61.0 210.0,65.7 207.8,70.5 205.6,75.3" fill="none" stroke="#0000ff" stroke-width="1.6" stroke-opacity="1" stroke-linejoin="round" stroke-linecap="round" />
<polyline points="202.5,75.3 202.8,63.8 203.3,55.1 204.3,47.3 206.0,41.2 208.4,36.9 211.1,34.3 213.8,32.9 216.4,32.4 217.8,32.8 220.1,33.6 220.3,41.2 217.5,46.4 214.9,52.0 212.3,57.7 209.7,63.5 207.1,69.4 204.5,75.3" fill="none" stroke="#12127a" stroke-width="1.6" stroke-opacity="1" stroke-linejoin="round" stroke-linecap="round" />
<rect x="62.70" y="20.00" width="197.10" height="183.90" fill="none" stroke="#000" stroke-width="2.2"/>
<path d="M131,154.5 C127,136 112,123 89,118.5" fill="none" stroke="#000" stroke-width="1.3"/>
<path d="M85.5,117.5 l6.5,-1.8 l-1.3,4.6 z" fill="#000"/>
<path d="M226.8,28.6 C232,35 231,55 222.5,71" fill="none" stroke="#000" stroke-width="1.3"/>
<path d="M221,75 l-0.2,-6.5 l4.3,2.2 z" fill="#000"/>
<text x="56.80" y="25.73" font-size="16" text-anchor="end" font-weight="bold">10<tspan font-size="9.8" dy="-6.84">-2</tspan></text>
<text x="56.80" y="62.51" font-size="16" text-anchor="end" font-weight="bold">10<tspan font-size="9.8" dy="-6.84">-4</tspan></text>
<text x="56.80" y="99.29" font-size="16" text-anchor="end" font-weight="bold">10<tspan font-size="9.8" dy="-6.84">-6</tspan></text>
<text x="56.80" y="136.07" font-size="16" text-anchor="end" font-weight="bold">10<tspan font-size="9.8" dy="-6.84">-8</tspan></text>
<text x="56.80" y="172.85" font-size="16" text-anchor="end" font-weight="bold">10<tspan font-size="9.8" dy="-6.84">-10</tspan></text>
<text x="56.80" y="209.63" font-size="16" text-anchor="end" font-weight="bold">10<tspan font-size="9.8" dy="-6.84">-12</tspan></text>
<text x="75.10" y="222.46" font-size="16" text-anchor="middle" font-weight="bold">-10</text>
<text x="100.54" y="222.46" font-size="16" text-anchor="middle" font-weight="bold">-8</text>
<text x="125.98" y="222.46" font-size="16" text-anchor="middle" font-weight="bold">-6</text>
<text x="151.42" y="222.46" font-size="16" text-anchor="middle" font-weight="bold">-4</text>
<text x="176.86" y="222.46" font-size="16" text-anchor="middle" font-weight="bold">-2</text>
<text x="202.30" y="222.46" font-size="16" text-anchor="middle" font-weight="bold">0</text>
<text x="227.74" y="222.46" font-size="16" text-anchor="middle" font-weight="bold">2</text>
<text x="253.18" y="222.46" font-size="16" text-anchor="middle" font-weight="bold">4</text>
<line x1="327.50" y1="193.02" x2="329.50" y2="193.02" stroke="#000" stroke-width="0.9"/>
<line x1="327.50" y1="188.35" x2="329.50" y2="188.35" stroke="#000" stroke-width="0.9"/>
<line x1="327.50" y1="185.04" x2="329.50" y2="185.04" stroke="#000" stroke-width="0.9"/>
<line x1="327.50" y1="182.47" x2="329.50" y2="182.47" stroke="#000" stroke-width="0.9"/>
<line x1="327.50" y1="180.37" x2="329.50" y2="180.37" stroke="#000" stroke-width="0.9"/>
<line x1="327.50" y1="178.59" x2="329.50" y2="178.59" stroke="#000" stroke-width="0.9"/>
<line x1="327.50" y1="177.06" x2="329.50" y2="177.06" stroke="#000" stroke-width="0.9"/>
<line x1="327.50" y1="175.70" x2="329.50" y2="175.70" stroke="#000" stroke-width="0.9"/>
<line x1="327.50" y1="166.50" x2="329.50" y2="166.50" stroke="#000" stroke-width="0.9"/>
<line x1="327.50" y1="161.84" x2="329.50" y2="161.84" stroke="#000" stroke-width="0.9"/>
<line x1="327.50" y1="158.52" x2="329.50" y2="158.52" stroke="#000" stroke-width="0.9"/>
<line x1="327.50" y1="155.95" x2="329.50" y2="155.95" stroke="#000" stroke-width="0.9"/>
<line x1="327.50" y1="153.85" x2="329.50" y2="153.85" stroke="#000" stroke-width="0.9"/>
<line x1="327.50" y1="152.08" x2="329.50" y2="152.08" stroke="#000" stroke-width="0.9"/>
<line x1="327.50" y1="150.54" x2="329.50" y2="150.54" stroke="#000" stroke-width="0.9"/>
<line x1="327.50" y1="149.18" x2="329.50" y2="149.18" stroke="#000" stroke-width="0.9"/>
<line x1="327.50" y1="139.99" x2="329.50" y2="139.99" stroke="#000" stroke-width="0.9"/>
<line x1="327.50" y1="135.32" x2="329.50" y2="135.32" stroke="#000" stroke-width="0.9"/>
<line x1="327.50" y1="132.01" x2="329.50" y2="132.01" stroke="#000" stroke-width="0.9"/>
<line x1="327.50" y1="129.44" x2="329.50" y2="129.44" stroke="#000" stroke-width="0.9"/>
<line x1="327.50" y1="127.34" x2="329.50" y2="127.34" stroke="#000" stroke-width="0.9"/>
<line x1="327.50" y1="125.56" x2="329.50" y2="125.56" stroke="#000" stroke-width="0.9"/>
<line x1="327.50" y1="124.03" x2="329.50" y2="124.03" stroke="#000" stroke-width="0.9"/>
<line x1="327.50" y1="122.67" x2="329.50" y2="122.67" stroke="#000" stroke-width="0.9"/>
<line x1="327.50" y1="113.48" x2="329.50" y2="113.48" stroke="#000" stroke-width="0.9"/>
<line x1="327.50" y1="108.81" x2="329.50" y2="108.81" stroke="#000" stroke-width="0.9"/>
<line x1="327.50" y1="105.49" x2="329.50" y2="105.49" stroke="#000" stroke-width="0.9"/>
<line x1="327.50" y1="102.92" x2="329.50" y2="102.92" stroke="#000" stroke-width="0.9"/>
<line x1="327.50" y1="100.83" x2="329.50" y2="100.83" stroke="#000" stroke-width="0.9"/>
<line x1="327.50" y1="99.05" x2="329.50" y2="99.05" stroke="#000" stroke-width="0.9"/>
<line x1="327.50" y1="97.51" x2="329.50" y2="97.51" stroke="#000" stroke-width="0.9"/>
<line x1="327.50" y1="96.16" x2="329.50" y2="96.16" stroke="#000" stroke-width="0.9"/>
<line x1="327.50" y1="86.96" x2="329.50" y2="86.96" stroke="#000" stroke-width="0.9"/>
<line x1="327.50" y1="82.29" x2="329.50" y2="82.29" stroke="#000" stroke-width="0.9"/>
<line x1="327.50" y1="78.98" x2="329.50" y2="78.98" stroke="#000" stroke-width="0.9"/>
<line x1="327.50" y1="76.41" x2="329.50" y2="76.41" stroke="#000" stroke-width="0.9"/>
<line x1="327.50" y1="74.31" x2="329.50" y2="74.31" stroke="#000" stroke-width="0.9"/>
<line x1="327.50" y1="72.54" x2="329.50" y2="72.54" stroke="#000" stroke-width="0.9"/>
<line x1="327.50" y1="71.00" x2="329.50" y2="71.00" stroke="#000" stroke-width="0.9"/>
<line x1="327.50" y1="69.64" x2="329.50" y2="69.64" stroke="#000" stroke-width="0.9"/>
<line x1="327.50" y1="60.45" x2="329.50" y2="60.45" stroke="#000" stroke-width="0.9"/>
<line x1="327.50" y1="55.78" x2="329.50" y2="55.78" stroke="#000" stroke-width="0.9"/>
<line x1="327.50" y1="52.47" x2="329.50" y2="52.47" stroke="#000" stroke-width="0.9"/>
<line x1="327.50" y1="49.90" x2="329.50" y2="49.90" stroke="#000" stroke-width="0.9"/>
<line x1="327.50" y1="47.80" x2="329.50" y2="47.80" stroke="#000" stroke-width="0.9"/>
<line x1="327.50" y1="46.02" x2="329.50" y2="46.02" stroke="#000" stroke-width="0.9"/>
<line x1="327.50" y1="44.48" x2="329.50" y2="44.48" stroke="#000" stroke-width="0.9"/>
<line x1="327.50" y1="43.13" x2="329.50" y2="43.13" stroke="#000" stroke-width="0.9"/>
<line x1="327.50" y1="33.93" x2="329.50" y2="33.93" stroke="#000" stroke-width="0.9"/>
<line x1="327.50" y1="29.26" x2="329.50" y2="29.26" stroke="#000" stroke-width="0.9"/>
<line x1="327.50" y1="25.95" x2="329.50" y2="25.95" stroke="#000" stroke-width="0.9"/>
<line x1="327.50" y1="23.38" x2="329.50" y2="23.38" stroke="#000" stroke-width="0.9"/>
<line x1="327.50" y1="21.28" x2="329.50" y2="21.28" stroke="#000" stroke-width="0.9"/>
<line x1="327.50" y1="19.51" x2="329.50" y2="19.51" stroke="#000" stroke-width="0.9"/>
<line x1="327.50" y1="17.97" x2="329.50" y2="17.97" stroke="#000" stroke-width="0.9"/>
<line x1="327.50" y1="16.61" x2="329.50" y2="16.61" stroke="#000" stroke-width="0.9"/>
<line x1="325.50" y1="201.00" x2="329.50" y2="201.00" stroke="#000" stroke-width="1.7"/>
<line x1="326.70" y1="174.49" x2="329.50" y2="174.49" stroke="#000" stroke-width="1.7"/>
<line x1="325.50" y1="147.97" x2="329.50" y2="147.97" stroke="#000" stroke-width="1.7"/>
<line x1="326.70" y1="121.46" x2="329.50" y2="121.46" stroke="#000" stroke-width="1.7"/>
<line x1="325.50" y1="94.94" x2="329.50" y2="94.94" stroke="#000" stroke-width="1.7"/>
<line x1="326.70" y1="68.43" x2="329.50" y2="68.43" stroke="#000" stroke-width="1.7"/>
<line x1="325.50" y1="41.91" x2="329.50" y2="41.91" stroke="#000" stroke-width="1.7"/>
<line x1="326.70" y1="15.40" x2="329.50" y2="15.40" stroke="#000" stroke-width="1.7"/>
<line x1="329.30" y1="201.00" x2="329.30" y2="204.00" stroke="#000" stroke-width="1.7"/>
<line x1="345.90" y1="201.00" x2="345.90" y2="203.00" stroke="#000" stroke-width="1.7"/>
<line x1="362.50" y1="201.00" x2="362.50" y2="204.00" stroke="#000" stroke-width="1.7"/>
<line x1="379.10" y1="201.00" x2="379.10" y2="203.00" stroke="#000" stroke-width="1.7"/>
<line x1="395.70" y1="201.00" x2="395.70" y2="204.00" stroke="#000" stroke-width="1.7"/>
<line x1="412.30" y1="201.00" x2="412.30" y2="203.00" stroke="#000" stroke-width="1.7"/>
<line x1="428.90" y1="201.00" x2="428.90" y2="204.00" stroke="#000" stroke-width="1.7"/>
<line x1="445.50" y1="201.00" x2="445.50" y2="203.00" stroke="#000" stroke-width="1.7"/>
<line x1="462.10" y1="201.00" x2="462.10" y2="204.00" stroke="#000" stroke-width="1.7"/>
<line x1="478.70" y1="201.00" x2="478.70" y2="203.00" stroke="#000" stroke-width="1.7"/>
<line x1="495.30" y1="201.00" x2="495.30" y2="204.00" stroke="#000" stroke-width="1.7"/>
<line x1="511.90" y1="201.00" x2="511.90" y2="203.00" stroke="#000" stroke-width="1.7"/>
<line x1="528.50" y1="201.00" x2="528.50" y2="204.00" stroke="#000" stroke-width="1.7"/>
<g>
<polyline points="428.8,173.9 428.9,170.9 428.9,167.9 429.0,164.9 429.0,161.9 428.9,158.9 428.7,155.9 428.5,152.9 428.4,149.9 428.3,146.9 428.4,143.9 428.6,140.9 428.8,137.9 428.9,134.9 429.0,131.9 428.8,128.9 428.4,125.9 428.0,122.9 427.7,119.9 427.4,116.9 427.4,113.9 427.5,110.9 427.6,107.9 427.7,104.9 427.7,101.9 427.5,98.9 427.1,95.9 426.7,92.9 426.2,89.9 425.9,86.9 425.7,83.9 425.7,80.9 425.4,77.9 424.9,74.9 424.4,71.9 423.5,68.9 422.2,65.9 420.9,62.9 419.4,59.9 417.3,56.9 415.4,53.9 413.6,50.9 409.8,47.9 404.5,44.9 397.9,42.0" fill="none" stroke="#880090" stroke-width="0.7" stroke-opacity="0.6" stroke-linejoin="round" stroke-linecap="round" />
<polyline points="428.3,131.0 428.3,128.0 428.3,125.0 428.3,122.0 428.2,119.0 427.9,116.0 427.7,113.0 427.4,110.0 427.1,107.0 426.9,104.0 426.7,101.0 426.7,98.0 426.6,95.0 426.5,92.0 426.3,89.0 426.1,86.0 425.8,83.0 425.5,80.0 424.5,77.0 423.7,74.0 422.9,71.0 421.9,68.0 420.9,65.0 419.9,62.0 418.6,59.0 416.7,56.0 414.8,53.0 412.8,50.0 407.8,47.0 401.7,44.0 397.5,42.0" fill="none" stroke="#880090" stroke-width="0.7" stroke-opacity="0.6" stroke-linejoin="round" stroke-linecap="round" />
<polyline points="428.9,173.6 428.9,170.6 428.8,167.6 428.7,164.6 428.7,161.6 428.6,158.6 428.6,155.6 428.6,152.6 428.6,149.6 428.7,146.6 428.7,143.6 428.6,140.6 428.6,137.6 428.4,134.6 428.3,131.6 428.1,128.6 428.0,125.6 427.9,122.6 427.8,119.6 427.7,116.6 427.6,113.6 427.4,110.6 427.2,107.6 426.9,104.6 426.6,101.6 426.3,98.6 426.0,95.6 425.7,92.6 425.5,89.6 425.4,86.6 425.2,83.6 425.0,80.6 424.3,77.6 423.4,74.6 422.5,71.6 421.3,68.6 420.1,65.6 418.9,62.6 417.6,59.6 415.8,56.6 414.0,53.6 412.2,50.6 408.1,47.6 402.5,44.6 396.8,42.0" fill="none" stroke="#880090" stroke-width="0.7" stroke-opacity="0.6" stroke-linejoin="round" stroke-linecap="round" />
<polyline points="429.2,131.7 428.8,128.7 428.1,125.7 427.5,122.7 427.0,119.7 426.8,116.7 426.8,113.7 427.1,110.7 427.4,107.7 427.5,104.7 427.5,101.7 427.0,98.7 426.3,95.7 425.6,92.7 424.9,89.7 424.4,86.7 424.3,83.7 424.4,80.7 424.2,77.7 423.8,74.7 423.2,71.7 422.1,68.7 420.6,65.7 418.9,62.7 417.1,59.7 415.0,56.7 413.1,53.7 411.4,50.7 407.9,47.7 402.9,44.7 396.7,42.0" fill="none" stroke="#880090" stroke-width="0.7" stroke-opacity="0.6" stroke-linejoin="round" stroke-linecap="round" />
<polyline points="429.0,176.0 428.9,173.0 428.7,170.0 428.6,167.0 428.5,164.0 428.5,161.0 428.6,158.0 428.8,155.0 429.0,152.0 429.1,149.0 429.1,146.0 428.8,143.0 428.5,140.0 428.1,137.0 427.9,134.0 427.9,131.0 428.0,128.0 428.3,125.0 428.5,122.0 428.6,119.0 428.5,116.0 428.1,113.0 427.6,110.0 427.1,107.0 426.7,104.0 426.5,101.0 426.5,98.0 426.6,95.0 426.8,92.0 426.9,89.0 426.9,86.0 426.6,83.0 426.0,80.0 424.9,77.0 423.8,74.0 422.9,71.0 421.9,68.0 421.1,65.0 420.3,62.0 419.3,59.0 417.6,56.0 415.7,53.0 413.6,50.0 408.3,47.0 401.8,44.0 397.8,42.0" fill="none" stroke="#880090" stroke-width="0.7" stroke-opacity="0.6" stroke-linejoin="round" stroke-linecap="round" />
<polyline points="428.9,176.2 428.9,173.2 428.9,170.2 428.9,167.2 428.8,164.2 428.7,161.2 428.6,158.2 428.5,155.2 428.5,152.2 428.5,149.2 428.6,146.2 428.7,143.2 428.8,140.2 428.8,137.2 428.7,134.2 428.6,131.2 428.3,128.2 428.0,125.2 427.8,122.2 427.8,119.2 427.8,116.2 427.8,113.2 427.8,110.2 427.8,107.2 427.6,104.2 427.3,101.2 427.0,98.2 426.7,95.2 426.4,92.2 426.2,89.2 426.1,86.2 426.1,83.2 426.1,80.2 425.5,77.2 424.8,74.2 424.0,71.2 422.9,68.2 421.5,65.2 420.3,62.2 418.9,59.2 417.1,56.2 415.3,53.2 413.6,50.2 409.1,47.2 403.2,44.2 397.9,42.0" fill="none" stroke="#880090" stroke-width="0.7" stroke-opacity="0.6" stroke-linejoin="round" stroke-linecap="round" />
<polyline points="428.7,157.0 428.4,154.0 428.2,151.0 428.1,148.0 428.2,145.0 428.4,142.0 428.7,139.0 429.0,136.0 429.0,133.0 428.9,130.0 428.4,127.0 427.8,124.0 427.3,121.0 427.0,118.0 426.9,115.0 427.0,112.0 427.2,109.0 427.3,106.0 427.3,103.0 427.0,100.0 426.5,97.0 425.8,94.0 425.2,91.0 424.7,88.0 424.4,85.0 424.3,82.0 424.2,79.0 423.7,76.0 423.1,73.0 422.4,70.0 421.0,67.0 419.4,64.0 417.8,61.0 415.8,58.0 413.8,55.0 412.1,52.0 409.5,49.0 405.2,46.0 399.2,43.0 396.6,42.0" fill="none" stroke="#880090" stroke-width="0.7" stroke-opacity="0.6" stroke-linejoin="round" stroke-linecap="round" />
<polyline points="428.8,150.5 428.6,147.5 428.3,144.5 428.2,141.5 428.1,138.5 428.2,135.5 428.4,132.5 428.6,129.5 428.6,126.5 428.5,123.5 428.3,120.5 427.8,117.5 427.4,114.5 427.0,111.5 426.7,108.5 426.6,105.5 426.6,102.5 426.7,99.5 426.7,96.5 426.5,93.5 426.3,90.5 425.8,87.5 425.3,84.5 424.8,81.5 424.1,78.5 423.2,75.5 422.6,72.5 421.9,69.5 421.0,66.5 420.0,63.5 418.9,60.5 417.0,57.5 414.9,54.5 412.7,51.5 409.2,48.5 404.0,45.5 397.6,42.5 397.0,42.0" fill="none" stroke="#880090" stroke-width="0.7" stroke-opacity="0.6" stroke-linejoin="round" stroke-linecap="round" />
<polyline points="428.9,169.8 429.1,166.8 429.1,163.8 429.0,160.8 428.8,157.8 428.5,154.8 428.2,151.8 428.0,148.8 428.1,145.8 428.3,142.8 428.6,139.8 428.9,136.8 429.1,133.8 429.1,130.8 428.6,127.8 428.0,124.8 427.4,121.8 427.0,118.8 426.7,115.8 426.8,112.8 427.0,109.8 427.3,106.8 427.4,103.8 427.2,100.8 426.7,97.8 426.0,94.8 425.3,91.8 424.7,88.8 424.2,85.8 424.1,82.8 424.2,79.8 423.8,76.8 423.3,73.8 422.6,70.8 421.4,67.8 419.9,64.8 418.2,61.8 416.3,58.8 414.2,55.8 412.3,52.8 410.5,49.8 406.3,46.8 400.8,43.8 396.5,42.0" fill="none" stroke="#880090" stroke-width="0.7" stroke-opacity="0.6" stroke-linejoin="round" stroke-linecap="round" />
<polyline points="429.0,191.0 429.0,188.0 428.9,185.0 428.9,182.0 428.9,179.0 428.8,176.0 428.8,173.0 428.8,170.0 428.8,167.0 428.8,164.0 428.8,161.0 428.8,158.0 428.7,155.0 428.6,152.0 428.5,149.0 428.5,146.0 428.5,143.0 428.5,140.0 428.6,137.0 428.6,134.0 428.6,131.0 428.5,128.0 428.2,125.0 428.0,122.0 427.7,119.0 427.6,116.0 427.4,113.0 427.4,110.0 427.3,107.0 427.2,104.0 427.1,101.0 426.8,98.0 426.5,95.0 426.2,92.0 425.9,89.0 425.6,86.0 425.4,83.0 425.3,80.0 424.6,77.0 423.9,74.0 423.2,71.0 422.1,68.0 420.9,65.0 419.6,62.0 418.1,59.0 416.2,56.0 414.3,53.0 412.4,50.0 407.7,47.0 401.8,44.0 397.4,42.0" fill="none" stroke="#880090" stroke-width="0.7" stroke-opacity="0.6" stroke-linejoin="round" stroke-linecap="round" />
<polyline points="428.4,143.3 428.2,140.3 428.1,137.3 428.2,134.3 428.4,131.3 428.7,128.3 428.7,125.3 428.7,122.3 428.4,119.3 428.0,116.3 427.6,113.3 427.2,110.3 426.9,107.3 426.9,104.3 427.0,101.3 427.1,98.3 427.2,95.3 427.2,92.3 426.9,89.3 426.5,86.3 426.1,83.3 425.6,80.3 424.7,77.3 424.0,74.3 423.4,71.3 422.8,68.3 421.9,65.3 421.0,62.3 419.7,59.3 417.7,56.3 415.5,53.3 413.3,50.3 408.5,47.3 402.4,44.3 397.9,42.0" fill="none" stroke="#880090" stroke-width="0.7" stroke-opacity="0.6" stroke-linejoin="round" stroke-linecap="round" />
<polyline points="428.8,167.3 428.8,164.3 428.7,161.3 428.7,158.3 428.6,155.3 428.6,152.3 428.6,149.3 428.6,146.3 428.5,143.3 428.5,140.3 428.5,137.3 428.4,134.3 428.4,131.3 428.2,128.3 428.1,125.3 427.9,122.3 427.7,119.3 427.6,116.3 427.4,113.3 427.2,110.3 427.0,107.3 426.8,104.3 426.5,101.3 426.3,98.3 426.0,95.3 425.7,92.3 425.4,89.3 425.2,86.3 424.9,83.3 424.7,80.3 423.9,77.3 423.0,74.3 422.2,71.3 421.1,68.3 419.8,65.3 418.6,62.3 417.3,59.3 415.4,56.3 413.5,53.3 411.7,50.3 407.2,47.3 401.5,44.3 396.7,42.0" fill="none" stroke="#880090" stroke-width="0.7" stroke-opacity="0.6" stroke-linejoin="round" stroke-linecap="round" />
<polyline points="428.7,143.0 428.9,140.0 429.0,137.0 428.9,134.0 428.6,131.0 428.2,128.0 427.8,125.0 427.5,122.0 427.4,119.0 427.5,116.0 427.7,113.0 427.8,110.0 427.8,107.0 427.6,104.0 427.2,101.0 426.7,98.0 426.2,95.0 425.8,92.0 425.5,89.0 425.5,86.0 425.5,83.0 425.6,80.0 425.1,77.0 424.4,74.0 423.5,71.0 422.2,68.0 420.7,65.0 419.3,62.0 417.7,59.0 415.9,56.0 414.3,53.0 412.7,50.0 408.2,47.0 402.4,44.0 397.4,42.0" fill="none" stroke="#880090" stroke-width="0.7" stroke-opacity="0.6" stroke-linejoin="round" stroke-linecap="round" />
<polyline points="429.0,129.1 428.8,126.1 428.3,123.1 427.7,120.1 427.2,117.1 426.8,114.1 426.7,111.1 426.8,108.1 427.0,105.1 427.2,102.1 427.2,99.1 427.0,96.1 426.5,93.1 425.8,90.1 425.2,87.1 424.7,84.1 424.4,81.1 423.9,78.1 423.5,75.1 423.1,72.1 422.4,69.1 421.4,66.1 420.0,63.1 418.5,60.1 416.3,57.1 414.1,54.1 412.0,51.1 408.4,48.1 403.5,45.1 397.4,42.1 397.0,42.0" fill="none" stroke="#880090" stroke-width="0.7" stroke-opacity="0.6" stroke-linejoin="round" stroke-linecap="round" />
<polyline points="428.8,153.3 428.7,150.3 428.6,147.3 428.4,144.3 428.2,141.3 428.0,138.3 427.9,135.3 427.9,132.3 428.0,129.3 428.0,126.3 427.9,123.3 427.8,120.3 427.5,117.3 427.0,114.3 426.5,111.3 426.0,108.3 425.5,105.3 425.0,102.3 424.6,99.3 424.2,96.3 423.8,93.3 423.3,90.3 422.8,87.3 422.2,84.3 421.6,81.3 421.1,78.3 420.5,75.3 420.1,72.3 419.6,69.3 418.9,66.3 418.1,63.3 417.3,60.3 415.6,57.3 413.7,54.3 411.8,51.3 408.3,48.3 403.3,45.3 397.3,42.3 397.0,42.0" fill="none" stroke="#880090" stroke-width="0.7" stroke-opacity="0.6" stroke-linejoin="round" stroke-linecap="round" />
<polyline points="428.4,149.2 428.2,146.2 428.1,143.2 427.9,140.2 427.7,137.2 427.6,134.2 427.4,131.2 427.3,128.2 427.0,125.2 426.8,122.2 426.5,119.2 425.9,116.2 425.3,113.2 424.7,110.2 423.9,107.2 423.2,104.2 422.4,101.2 421.7,98.2 420.9,95.2 420.1,92.2 419.4,89.2 418.6,86.2 417.9,83.2 417.1,80.2 416.1,77.2 415.1,74.2 414.1,71.2 413.1,68.2 411.9,65.2 410.8,62.2 409.5,59.2 407.8,56.2 406.1,53.2 404.4,50.2 400.6,47.2 396.0,44.2 392.5,42.0" fill="none" stroke="#880090" stroke-width="0.7" stroke-opacity="0.6" stroke-linejoin="round" stroke-linecap="round" />
<polyline points="427.4,131.9 427.0,128.9 426.8,125.9 427.0,122.9 427.4,119.9 427.6,116.9 427.6,113.9 427.3,110.9 426.6,107.9 425.6,104.9 424.5,101.9 423.6,98.9 422.8,95.9 422.4,92.9 422.3,89.9 422.4,86.9 422.5,83.9 422.3,80.9 421.7,77.9 420.9,74.9 419.9,71.9 418.8,68.9 417.6,65.9 416.7,62.9 416.1,59.9 414.9,56.9 413.7,53.9 412.3,50.9 408.7,47.9 403.5,44.9 397.0,42.0" fill="none" stroke="#880090" stroke-width="0.7" stroke-opacity="0.6" stroke-linejoin="round" stroke-linecap="round" />
<polyline points="427.4,130.7 427.3,127.7 427.1,124.7 426.9,121.7 426.6,118.7 426.0,115.7 425.3,112.7 424.7,109.7 423.9,106.7 423.2,103.7 422.5,100.7 421.8,97.7 421.1,94.7 420.4,91.7 419.6,88.7 418.9,85.7 418.1,82.7 417.3,79.7 416.3,76.7 415.3,73.7 414.4,70.7 413.4,67.7 412.3,64.7 411.3,61.7 410.0,58.7 408.2,55.7 406.5,52.7 404.4,49.7 400.5,46.7 395.6,43.7 392.9,42.0" fill="none" stroke="#880090" stroke-width="0.7" stroke-opacity="0.6" stroke-linejoin="round" stroke-linecap="round" />
<polyline points="428.9,170.2 428.9,167.2 428.8,164.2 428.7,161.2 428.6,158.2 428.4,155.2 428.2,152.2 428.2,149.2 428.2,146.2 428.2,143.2 428.3,140.2 428.3,137.2 428.2,134.2 428.0,131.2 427.5,128.2 427.1,125.2 426.7,122.2 426.3,119.2 425.9,116.2 425.6,113.2 425.4,110.2 424.9,107.2 424.2,104.2 423.4,101.2 422.4,98.2 421.3,95.2 420.3,92.2 419.4,89.2 418.7,86.2 418.1,83.2 417.6,80.2 416.8,77.2 415.9,74.2 414.8,71.2 413.4,68.2 411.9,65.2 410.3,62.2 408.7,59.2 406.8,56.2 405.1,53.2 403.5,50.2 400.0,47.2 395.6,44.2 391.6,42.0" fill="none" stroke="#880090" stroke-width="0.7" stroke-opacity="0.6" stroke-linejoin="round" stroke-linecap="round" />
<polyline points="428.5,150.4 428.2,147.4 427.9,144.4 427.7,141.4 427.5,138.4 427.5,135.4 427.6,132.4 427.7,129.4 427.6,126.4 427.4,123.4 427.1,120.4 426.4,117.4 425.7,114.4 425.1,111.4 424.5,108.4 423.9,105.4 423.5,102.4 423.1,99.4 422.7,96.4 422.2,93.4 421.5,90.4 420.8,87.4 420.1,84.4 419.5,81.4 418.9,78.4 418.4,75.4 418.1,72.4 417.8,69.4 417.2,66.4 416.6,63.4 415.9,60.4 414.3,57.4 412.6,54.4 410.8,51.4 407.7,48.4 403.1,45.4 397.5,42.4 397.0,42.0" fill="none" stroke="#880090" stroke-width="0.7" stroke-opacity="0.6" stroke-linejoin="round" stroke-linecap="round" />
<polyline points="428.3,158.2 428.3,155.2 428.3,152.2 428.3,149.2 427.9,146.2 427.5,143.2 427.1,140.2 426.7,137.2 426.3,134.2 426.1,131.2 425.8,128.2 425.5,125.2 425.1,122.2 424.5,119.2 423.3,116.2 422.0,113.2 420.7,110.2 419.1,107.2 417.5,104.2 416.1,101.2 414.7,98.2 413.2,95.2 411.8,92.2 410.3,89.2 408.7,86.2 407.0,83.2 405.2,80.2 402.2,77.2 399.3,74.2 396.4,71.2 393.9,68.2 391.7,65.2 389.6,62.2 387.6,59.2 385.9,56.2 384.1,53.2 382.2,50.2 380.0,47.2 377.8,44.2 376.5,42.0" fill="none" stroke="#880090" stroke-width="0.7" stroke-opacity="0.6" stroke-linejoin="round" stroke-linecap="round" />
<polyline points="428.6,166.4 428.5,163.4 428.3,160.4 428.2,157.4 428.1,154.4 428.1,151.4 428.0,148.4 428.0,145.4 427.9,142.4 427.8,139.4 427.6,136.4 427.3,133.4 427.0,130.4 426.5,127.4 426.1,124.4 425.8,121.4 425.4,118.4 425.0,115.4 424.6,112.4 424.2,109.4 423.4,106.4 422.6,103.4 421.7,100.4 420.8,97.4 419.9,94.4 419.2,91.4 418.7,88.4 418.4,85.4 418.1,82.4 417.8,79.4 417.3,76.4 416.7,73.4 416.1,70.4 415.3,67.4 414.5,64.4 413.8,61.4 412.9,58.4 411.8,55.4 410.7,52.4 409.1,49.4 405.3,46.4 400.1,43.4 397.0,42.0" fill="none" stroke="#880090" stroke-width="0.7" stroke-opacity="0.6" stroke-linejoin="round" stroke-linecap="round" />
<polyline points="428.5,165.3 428.6,162.3 428.8,159.3 429.0,156.3 429.0,153.3 428.9,150.3 428.5,147.3 428.1,144.3 427.7,141.3 427.4,138.3 427.4,135.3 427.6,132.3 427.9,129.3 428.0,126.3 428.0,123.3 427.8,120.3 427.1,117.3 426.3,114.3 425.5,111.3 424.7,108.3 424.1,105.3 423.8,102.3 423.5,99.3 423.3,96.3 422.9,93.3 422.4,90.3 421.6,87.3 420.7,84.3 419.8,81.3 418.9,78.3 418.1,75.3 417.7,72.3 417.3,69.3 416.8,66.3 416.2,63.3 415.4,60.3 413.6,57.3 411.6,54.3 409.5,51.3 405.9,48.3 401.1,45.3 395.5,42.3 395.6,42.0" fill="none" stroke="#880090" stroke-width="0.7" stroke-opacity="0.6" stroke-linejoin="round" stroke-linecap="round" />
<polyline points="428.4,165.8 428.3,162.8 428.2,159.8 428.2,156.8 428.2,153.8 428.2,150.8 428.1,147.8 427.9,144.8 427.7,141.8 427.3,138.8 426.9,135.8 426.5,132.8 426.1,129.8 425.6,126.8 425.2,123.8 424.8,120.8 424.1,117.8 423.1,114.8 422.0,111.8 420.7,108.8 419.2,105.8 417.6,102.8 416.0,99.8 414.4,96.8 412.9,93.8 411.4,90.8 410.0,87.8 408.5,84.8 406.9,81.8 404.8,78.8 401.8,75.8 398.9,72.8 395.9,69.8 393.4,66.8 391.1,63.8 388.8,60.8 387.0,57.8 385.3,54.8 383.5,51.8 381.6,48.8 379.4,45.8 377.1,42.8 376.5,42.0" fill="none" stroke="#880090" stroke-width="0.7" stroke-opacity="0.6" stroke-linejoin="round" stroke-linecap="round" />
<polyline points="429.0,191.0 429.0,188.0 428.9,185.0 428.9,182.0 428.9,179.0 428.9,176.0 428.8,173.0 428.7,170.0 428.6,167.0 428.6,164.0 428.6,161.0 428.6,158.0 428.6,155.0 428.7,152.0 428.6,149.0 428.5,146.0 428.3,143.0 428.1,140.0 427.8,137.0 427.6,134.0 427.4,131.0 427.3,128.0 427.2,125.0 427.1,122.0 426.9,119.0 426.4,116.0 425.7,113.0 425.0,110.0 424.1,107.0 423.2,104.0 422.3,101.0 421.5,98.0 420.7,95.0 419.9,92.0 419.1,89.0 418.3,86.0 417.3,83.0 416.3,80.0 414.8,77.0 413.3,74.0 411.9,71.0 410.4,68.0 408.9,65.0 407.5,62.0 406.0,59.0 404.1,56.0 402.2,53.0 400.1,50.0 396.3,47.0 391.9,44.0 388.9,42.0" fill="none" stroke="#880090" stroke-width="0.7" stroke-opacity="0.6" stroke-linejoin="round" stroke-linecap="round" />
<polyline points="428.6,168.3 428.4,165.3 428.2,162.3 428.1,159.3 428.2,156.3 428.4,153.3 428.7,150.3 428.7,147.3 428.6,144.3 428.3,141.3 427.7,138.3 427.1,135.3 426.5,132.3 426.2,129.3 426.0,126.3 426.0,123.3 426.1,120.3 425.7,117.3 425.0,114.3 424.1,111.3 422.7,108.3 421.1,105.3 419.6,102.3 418.2,99.3 417.0,96.3 416.0,93.3 415.1,90.3 414.2,87.3 413.2,84.3 411.8,81.3 409.8,78.3 407.1,75.3 404.5,72.3 401.9,69.3 399.8,66.3 397.9,63.3 396.2,60.3 394.7,57.3 393.1,54.3 391.3,51.3 388.7,48.3 385.3,45.3 381.7,42.3 381.6,42.0" fill="none" stroke="#880090" stroke-width="0.7" stroke-opacity="0.6" stroke-linejoin="round" stroke-linecap="round" />
<polyline points="428.2,143.6 428.1,140.6 427.9,137.6 427.3,134.6 426.6,131.6 425.7,128.6 424.9,125.6 424.4,122.6 424.1,119.6 423.5,116.6 423.0,113.6 422.3,110.6 421.0,107.6 419.4,104.6 417.6,101.6 415.6,98.6 413.6,95.6 411.9,92.6 410.4,89.6 409.2,86.6 408.1,83.6 406.9,80.6 404.5,77.6 401.7,74.6 398.5,71.6 395.3,68.6 392.5,65.6 389.8,62.6 387.4,59.6 385.9,56.6 384.5,53.6 383.1,50.6 381.3,47.6 379.2,44.6 376.5,42.0" fill="none" stroke="#880090" stroke-width="0.7" stroke-opacity="0.6" stroke-linejoin="round" stroke-linecap="round" />
<polyline points="428.8,175.7 428.7,172.7 428.6,169.7 428.4,166.7 428.4,163.7 428.4,160.7 428.5,157.7 428.6,154.7 428.7,151.7 428.6,148.7 428.4,145.7 428.0,142.7 427.5,139.7 427.1,136.7 426.8,133.7 426.6,130.7 426.5,127.7 426.4,124.7 426.3,121.7 425.8,118.7 424.9,115.7 423.8,112.7 422.6,109.7 421.2,106.7 419.8,103.7 418.6,100.7 417.4,97.7 416.4,94.7 415.3,91.7 414.1,88.7 412.7,85.7 411.1,82.7 409.3,79.7 406.6,76.7 404.0,73.7 401.5,70.7 399.3,67.7 397.3,64.7 395.4,61.7 393.5,58.7 391.6,55.7 389.6,52.7 387.3,49.7 384.2,46.7 381.1,43.7 379.8,42.0" fill="none" stroke="#880090" stroke-width="0.7" stroke-opacity="0.6" stroke-linejoin="round" stroke-linecap="round" />
<polyline points="428.1,161.6 428.0,158.6 428.0,155.6 428.1,152.6 428.4,149.6 428.4,146.6 428.4,143.6 428.1,140.6 427.7,137.6 427.1,134.6 426.5,131.6 426.0,128.6 425.7,125.6 425.7,122.6 425.7,119.6 425.4,116.6 425.0,113.6 424.3,110.6 423.3,107.6 422.0,104.6 420.7,101.6 419.6,98.6 418.6,95.6 417.9,92.6 417.5,89.6 417.1,86.6 416.8,83.6 416.2,80.6 415.1,77.6 413.7,74.6 412.3,71.6 410.9,68.6 409.7,65.6 408.8,62.6 408.1,59.6 407.1,56.6 406.0,53.6 404.9,50.6 401.8,47.6 397.4,44.6 392.6,42.0" fill="none" stroke="#880090" stroke-width="0.7" stroke-opacity="0.6" stroke-linejoin="round" stroke-linecap="round" />
<polyline points="428.1,155.8 428.2,152.8 428.3,149.8 428.1,146.8 427.9,143.8 427.5,140.8 427.1,137.8 426.6,134.8 426.1,131.8 425.7,128.8 425.2,125.8 424.9,122.8 424.5,119.8 423.6,116.8 422.6,113.8 421.4,110.8 419.8,107.8 418.2,104.8 416.5,101.8 414.9,98.8 413.3,95.8 411.8,92.8 410.5,89.8 409.1,86.8 407.6,83.8 405.9,80.8 403.3,77.8 400.3,74.8 397.2,71.8 394.4,68.8 392.0,65.8 389.8,62.8 387.7,59.8 386.1,56.8 384.6,53.8 382.9,50.8 380.8,47.8 378.5,44.8 376.5,42.0" fill="none" stroke="#880090" stroke-width="0.7" stroke-opacity="0.6" stroke-linejoin="round" stroke-linecap="round" />
<polyline points="427.6,126.5 427.1,123.5 426.6,120.5 425.9,117.5 425.2,114.5 424.7,111.5 424.1,108.5 423.6,105.5 423.1,102.5 422.6,99.5 421.8,96.5 420.9,93.5 419.9,90.5 418.9,87.5 418.0,84.5 417.2,81.5 416.4,78.5 415.6,75.5 414.9,72.5 414.2,69.5 413.1,66.5 411.9,63.5 410.6,60.5 408.7,57.5 406.8,54.5 404.9,51.5 402.1,48.5 398.2,45.5 393.4,42.5 392.6,42.0" fill="none" stroke="#880090" stroke-width="0.7" stroke-opacity="0.6" stroke-linejoin="round" stroke-linecap="round" />
<polyline points="428.5,161.4 428.5,158.4 428.4,155.4 428.4,152.4 428.3,149.4 428.1,146.4 427.9,143.4 427.7,140.4 427.4,137.4 427.2,134.4 427.0,131.4 426.6,128.4 426.2,125.4 425.8,122.4 425.3,119.4 424.4,116.4 423.5,113.4 422.5,110.4 421.3,107.4 420.0,104.4 418.7,101.4 417.3,98.4 415.9,95.4 414.4,92.4 413.0,89.4 411.5,86.4 409.9,83.4 408.4,80.4 405.9,77.4 403.3,74.4 400.7,71.4 398.2,68.4 395.8,65.4 393.4,62.4 391.1,59.4 389.1,56.4 387.1,53.4 385.1,50.4 382.6,47.4 380.0,44.4 378.1,42.0" fill="none" stroke="#880090" stroke-width="0.7" stroke-opacity="0.6" stroke-linejoin="round" stroke-linecap="round" />
<polyline points="427.7,141.8 427.6,138.8 427.5,135.8 427.4,132.8 427.3,129.8 427.0,126.8 426.6,123.8 426.1,120.8 425.4,117.8 424.6,114.8 423.9,111.8 423.1,108.8 422.3,105.8 421.5,102.8 420.6,99.8 419.6,96.8 418.6,93.8 417.5,90.8 416.4,87.8 415.3,84.8 414.3,81.8 413.1,78.8 411.7,75.8 410.3,72.8 409.0,69.8 407.6,66.8 406.1,63.8 404.6,60.8 402.8,57.8 401.0,54.8 399.2,51.8 396.8,48.8 393.4,45.8 389.3,42.8 388.2,42.0" fill="none" stroke="#880090" stroke-width="0.7" stroke-opacity="0.6" stroke-linejoin="round" stroke-linecap="round" />
<polyline points="428.1,145.2 427.7,142.2 427.1,139.2 426.5,136.2 426.0,133.2 425.7,130.2 425.3,127.2 425.1,124.2 424.9,121.2 424.3,118.2 423.4,115.2 422.2,112.2 420.8,109.2 419.1,106.2 417.5,103.2 416.1,100.2 414.7,97.2 413.5,94.2 412.4,91.2 411.3,88.2 410.1,85.2 408.7,82.2 406.8,79.2 404.2,76.2 401.5,73.2 398.9,70.2 397.0,67.2 395.2,64.2 393.6,61.2 392.3,58.2 391.0,55.2 389.5,52.2 387.6,49.2 384.9,46.2 381.9,43.2 381.0,42.0" fill="none" stroke="#880090" stroke-width="0.7" stroke-opacity="0.6" stroke-linejoin="round" stroke-linecap="round" />
<polyline points="427.3,139.8 427.1,136.8 426.8,133.8 426.7,130.8 426.3,127.8 426.0,124.8 425.5,121.8 424.9,118.8 423.9,115.8 422.9,112.8 421.9,109.8 420.7,106.8 419.6,103.8 418.4,100.8 417.2,97.8 416.0,94.8 414.8,91.8 413.5,88.8 412.2,85.8 410.9,82.8 409.5,79.8 407.4,76.8 405.3,73.8 403.3,70.8 401.5,67.8 399.8,64.8 398.0,61.8 396.3,58.8 394.6,55.8 392.9,52.8 391.1,49.8 388.2,46.8 385.1,43.8 383.3,42.0" fill="none" stroke="#880090" stroke-width="0.7" stroke-opacity="0.6" stroke-linejoin="round" stroke-linecap="round" />
<polyline points="427.5,126.9 427.3,123.9 427.2,120.9 426.9,117.9 426.4,114.9 425.9,111.9 425.4,108.9 424.7,105.9 424.0,102.9 423.3,99.9 422.6,96.9 421.9,93.9 421.3,90.9 420.7,87.9 420.1,84.9 419.5,81.9 418.7,78.9 417.9,75.9 417.0,72.9 416.2,69.9 415.1,66.9 414.0,63.9 413.0,60.9 411.4,57.9 409.7,54.9 407.9,51.9 405.3,48.9 401.1,45.9 395.6,42.9 394.0,42.0" fill="none" stroke="#880090" stroke-width="0.7" stroke-opacity="0.6" stroke-linejoin="round" stroke-linecap="round" />
<polyline points="428.3,168.4 428.3,165.4 428.4,162.4 428.6,159.4 428.8,156.4 428.9,153.4 428.8,150.4 428.5,147.4 427.9,144.4 427.4,141.4 426.9,138.4 426.6,135.4 426.6,132.4 426.8,129.4 426.9,126.4 426.8,123.4 426.5,120.4 425.6,117.4 424.3,114.4 423.0,111.4 421.6,108.4 420.4,105.4 419.4,102.4 418.6,99.4 417.8,96.4 416.9,93.4 415.9,90.4 414.6,87.4 413.0,84.4 411.2,81.4 409.0,78.4 406.7,75.4 404.6,72.4 402.7,69.4 401.2,66.4 399.8,63.4 398.1,60.4 396.3,57.4 394.2,54.4 391.9,51.4 389.0,48.4 385.7,45.4 382.2,42.4 382.6,42.0" fill="none" stroke="#880090" stroke-width="0.7" stroke-opacity="0.6" stroke-linejoin="round" stroke-linecap="round" />
<polyline points="427.2,132.5 427.1,129.5 427.1,126.5 427.2,123.5 427.4,120.5 427.2,117.5 426.8,114.5 426.2,111.5 425.4,108.5 424.5,105.5 423.7,102.5 423.0,99.5 422.5,96.5 422.2,93.5 422.0,90.5 421.8,87.5 421.4,84.5 420.9,81.5 420.2,78.5 419.3,75.5 418.6,72.5 417.9,69.5 417.1,66.5 416.5,63.5 416.1,60.5 414.9,57.5 413.5,54.5 411.9,51.5 408.8,48.5 404.0,45.5 397.8,42.5 397.0,42.0" fill="none" stroke="#880090" stroke-width="0.7" stroke-opacity="0.6" stroke-linejoin="round" stroke-linecap="round" />
<polyline points="428.8,172.4 428.8,169.4 428.8,166.4 428.8,163.4 428.7,160.4 428.7,157.4 428.6,154.4 428.5,151.4 428.5,148.4 428.4,145.4 428.3,142.4 428.3,139.4 428.2,136.4 428.2,133.4 428.1,130.4 427.9,127.4 427.7,124.4 427.5,121.4 427.2,118.4 426.9,115.4 426.6,112.4 426.3,109.4 425.8,106.4 425.4,103.4 424.8,100.4 424.2,97.4 423.6,94.4 423.0,91.4 422.5,88.4 422.0,85.4 421.6,82.4 421.2,79.4 420.8,76.4 420.4,73.4 420.0,70.4 419.1,67.4 418.2,64.4 417.2,61.4 415.8,58.4 414.0,55.4 412.2,52.4 409.9,49.4 405.5,46.4 399.8,43.4 397.0,42.0" fill="none" stroke="#880090" stroke-width="0.7" stroke-opacity="0.6" stroke-linejoin="round" stroke-linecap="round" />
<polyline points="426.5,132.5 426.2,129.5 426.1,126.5 426.3,123.5 426.5,120.5 426.2,117.5 425.6,114.5 424.8,111.5 423.5,108.5 422.0,105.5 420.6,102.5 419.4,99.5 418.4,96.5 417.8,93.5 417.2,90.5 416.7,87.5 415.9,84.5 414.8,81.5 413.2,78.5 411.1,75.5 409.0,72.5 407.0,69.5 405.4,66.5 404.0,63.5 402.9,60.5 401.6,57.5 400.2,54.5 398.6,51.5 395.8,48.5 391.9,45.5 387.3,42.5 387.0,42.0" fill="none" stroke="#880090" stroke-width="0.7" stroke-opacity="0.6" stroke-linejoin="round" stroke-linecap="round" />
<polyline points="428.7,176.5 428.5,173.5 428.3,170.5 428.2,167.5 428.3,164.5 428.4,161.5 428.7,158.5 428.9,155.5 428.9,152.5 428.7,149.5 428.1,146.5 427.4,143.5 426.8,140.5 426.4,137.5 426.3,134.5 426.5,131.5 426.7,128.5 426.7,125.5 426.5,122.5 425.8,119.5 424.5,116.5 422.9,113.5 421.5,110.5 420.0,107.5 418.8,104.5 417.8,101.5 417.0,98.5 416.2,95.5 415.1,92.5 413.7,89.5 412.0,86.5 410.0,83.5 408.0,80.5 405.4,77.5 402.8,74.5 400.6,71.5 398.8,68.5 397.2,65.5 395.6,62.5 393.7,59.5 391.7,56.5 389.4,53.5 387.0,50.5 384.1,47.5 381.2,44.5 379.9,42.0" fill="none" stroke="#880090" stroke-width="0.7" stroke-opacity="0.6" stroke-linejoin="round" stroke-linecap="round" />
<polyline points="428.5,138.8 428.6,135.8 428.4,132.8 428.1,129.8 427.7,126.8 427.3,123.8 427.0,120.8 426.7,117.8 426.6,114.8 426.5,111.8 426.4,108.8 426.0,105.8 425.5,102.8 424.8,99.8 424.0,96.8 423.2,93.8 422.4,90.8 421.9,87.8 421.5,84.8 421.3,81.8 421.2,78.8 420.9,75.8 420.6,72.8 420.0,69.8 418.9,66.8 417.7,63.8 416.6,60.8 415.0,57.8 413.2,54.8 411.7,51.8 409.1,48.8 404.8,45.8 399.0,42.8 397.0,42.0" fill="none" stroke="#880090" stroke-width="0.7" stroke-opacity="0.6" stroke-linejoin="round" stroke-linecap="round" />
<polyline points="427.4,140.2 427.1,137.2 426.8,134.2 426.6,131.2 426.3,128.2 425.8,125.2 425.4,122.2 424.8,119.2 423.7,116.2 422.6,113.2 421.5,110.2 420.1,107.2 418.7,104.2 417.3,101.2 415.9,98.2 414.4,95.2 412.9,92.2 411.3,89.2 409.7,86.2 408.0,83.2 406.3,80.2 403.6,77.2 400.7,74.2 397.9,71.2 395.3,68.2 393.0,65.2 390.6,62.2 388.4,59.2 386.5,56.2 384.5,53.2 382.5,50.2 380.2,47.2 378.0,44.2 376.5,42.0" fill="none" stroke="#880090" stroke-width="0.7" stroke-opacity="0.6" stroke-linejoin="round" stroke-linecap="round" />
<polyline points="428.7,140.5 428.4,137.5 427.9,134.5 427.4,131.5 426.8,128.5 426.5,125.5 426.5,122.5 426.7,119.5 426.7,116.5 426.7,113.5 426.5,110.5 425.8,107.5 424.8,104.5 423.8,101.5 422.7,98.5 421.9,95.5 421.3,92.5 421.1,89.5 421.1,86.5 421.1,83.5 420.9,80.5 420.5,77.5 419.7,74.5 418.8,71.5 417.7,68.5 416.6,65.5 415.7,62.5 415.0,59.5 413.8,56.5 412.6,53.5 411.4,50.5 407.8,47.5 402.6,44.5 397.0,42.0" fill="none" stroke="#880090" stroke-width="0.7" stroke-opacity="0.6" stroke-linejoin="round" stroke-linecap="round" />
<polyline points="428.4,166.4 428.4,163.4 428.4,160.4 428.3,157.4 428.3,154.4 428.1,151.4 427.8,148.4 427.4,145.4 427.1,142.4 426.8,139.4 426.6,136.4 426.4,133.4 426.3,130.4 425.8,127.4 425.2,124.4 424.5,121.4 423.4,118.4 422.1,115.4 420.8,112.4 419.6,109.4 418.1,106.4 416.8,103.4 415.5,100.4 413.9,97.4 412.3,94.4 410.6,91.4 408.9,88.4 407.1,85.4 405.3,82.4 403.3,79.4 400.5,76.4 397.8,73.4 395.1,70.4 392.9,67.4 390.7,64.4 388.5,61.4 386.4,58.4 384.6,55.4 382.8,52.4 381.0,49.4 379.1,46.4 377.2,43.4 376.5,42.0" fill="none" stroke="#880090" stroke-width="0.7" stroke-opacity="0.6" stroke-linejoin="round" stroke-linecap="round" />
<polyline points="427.4,140.5 426.9,137.5 426.4,134.5 426.1,131.5 425.7,128.5 425.4,125.5 425.2,122.5 424.8,119.5 423.9,116.5 422.9,113.5 421.7,110.5 420.1,107.5 418.5,104.5 417.0,101.5 415.6,98.5 414.3,95.5 413.0,92.5 411.8,89.5 410.6,86.5 409.2,83.5 407.6,80.5 405.1,77.5 402.3,74.5 399.6,71.5 397.2,68.5 395.2,65.5 393.4,62.5 391.6,59.5 390.2,56.5 388.6,53.5 386.9,50.5 384.5,47.5 381.8,44.5 379.6,42.0" fill="none" stroke="#880090" stroke-width="0.7" stroke-opacity="0.6" stroke-linejoin="round" stroke-linecap="round" />
<polyline points="429.0,191.0 428.9,188.0 428.9,185.0 428.9,182.0 428.9,179.0 428.8,176.0 428.8,173.0 428.8,170.0 428.7,167.0 428.5,164.0 428.4,161.0 428.3,158.0 428.3,155.0 428.3,152.0 428.3,149.0 428.2,146.0 428.1,143.0 427.9,140.0 427.6,137.0 427.2,134.0 426.8,131.0 426.4,128.0 426.0,125.0 425.6,122.0 425.2,119.0 424.5,116.0 423.7,113.0 422.8,110.0 421.5,107.0 420.1,104.0 418.7,101.0 417.2,98.0 415.7,95.0 414.3,92.0 413.0,89.0 411.7,86.0 410.4,83.0 408.9,80.0 406.4,77.0 403.8,74.0 401.1,71.0 398.5,68.0 396.2,65.0 393.8,62.0 391.7,59.0 389.9,56.0 388.0,53.0 386.2,50.0 383.6,47.0 380.8,44.0 378.8,42.0" fill="none" stroke="#880090" stroke-width="0.7" stroke-opacity="0.6" stroke-linejoin="round" stroke-linecap="round" />
<polyline points="427.6,140.7 427.2,137.7 426.8,134.7 426.5,131.7 426.4,128.7 426.2,125.7 426.0,122.7 425.7,119.7 424.9,116.7 423.8,113.7 422.7,110.7 421.2,107.7 419.8,104.7 418.5,101.7 417.3,98.7 416.1,95.7 415.0,92.7 413.8,89.7 412.5,86.7 411.0,83.7 409.3,80.7 406.9,77.7 404.2,74.7 401.6,71.7 399.2,68.7 397.2,65.7 395.3,62.7 393.3,59.7 391.6,56.7 389.7,53.7 387.6,50.7 384.9,47.7 382.0,44.7 379.7,42.0" fill="none" stroke="#880090" stroke-width="0.7" stroke-opacity="0.6" stroke-linejoin="round" stroke-linecap="round" />
<polyline points="429.0,191.0 429.0,188.0 428.9,185.0 428.9,182.0 428.8,179.0 428.6,176.0 428.5,173.0 428.5,170.0 428.5,167.0 428.6,164.0 428.6,161.0 428.7,158.0 428.6,155.0 428.4,152.0 428.2,149.0 427.8,146.0 427.4,143.0 427.2,140.0 427.1,137.0 427.1,134.0 427.2,131.0 427.0,128.0 426.7,125.0 426.1,122.0 425.4,119.0 424.3,116.0 423.2,113.0 422.4,110.0 421.4,107.0 420.5,104.0 419.7,101.0 418.8,98.0 417.7,95.0 416.5,92.0 415.1,89.0 413.7,86.0 412.3,83.0 411.1,80.0 409.2,77.0 407.6,74.0 406.0,71.0 404.5,68.0 403.0,65.0 401.4,62.0 399.5,59.0 397.6,56.0 395.6,53.0 393.7,50.0 390.6,47.0 387.3,44.0 385.2,42.0" fill="none" stroke="#880090" stroke-width="0.7" stroke-opacity="0.6" stroke-linejoin="round" stroke-linecap="round" />
<polyline points="428.3,153.9 428.0,150.9 427.8,147.9 427.8,144.9 427.9,141.9 428.2,138.9 428.3,135.9 428.3,132.9 428.0,129.9 427.3,126.9 426.5,123.9 425.8,120.9 425.1,117.9 424.5,114.9 424.1,111.9 423.7,108.9 423.1,105.9 422.3,102.9 421.2,99.9 419.8,96.9 418.2,93.9 416.5,90.9 415.0,87.9 413.8,84.9 412.8,81.9 411.7,78.9 410.2,75.9 408.5,72.9 406.6,69.9 404.4,66.9 402.0,63.9 399.5,60.9 397.1,57.9 394.9,54.9 392.9,51.9 390.8,48.9 388.1,45.9 384.9,42.9 383.3,42.0" fill="none" stroke="#880090" stroke-width="0.7" stroke-opacity="0.6" stroke-linejoin="round" stroke-linecap="round" />
<polyline points="428.0,150.5 427.9,147.5 427.8,144.5 427.8,141.5 427.6,138.5 427.4,135.5 427.0,132.5 426.5,129.5 425.8,126.5 425.2,123.5 424.7,120.5 423.9,117.5 423.1,114.5 422.2,111.5 421.2,108.5 419.9,105.5 418.4,102.5 416.8,99.5 415.0,96.5 413.3,93.5 411.6,90.5 410.1,87.5 408.6,84.5 407.2,81.5 405.2,78.5 402.5,75.5 399.7,72.5 396.8,69.5 394.1,66.5 391.5,63.5 388.9,60.5 386.9,57.5 385.1,54.5 383.4,51.5 381.5,48.5 379.4,45.5 377.3,42.5 376.5,42.0" fill="none" stroke="#880090" stroke-width="0.7" stroke-opacity="0.6" stroke-linejoin="round" stroke-linecap="round" />
<polyline points="426.7,135.4 426.9,132.4 427.1,129.4 426.9,126.4 426.5,123.4 425.8,120.4 424.4,117.4 423.0,114.4 421.7,111.4 420.4,108.4 419.4,105.4 418.5,102.4 417.7,99.4 416.7,96.4 415.4,93.4 413.8,90.4 412.0,87.4 410.1,84.4 408.2,81.4 406.0,78.4 403.6,75.4 401.4,72.4 399.5,69.4 397.8,66.4 395.9,63.4 393.8,60.4 391.6,57.4 389.3,54.4 387.0,51.4 384.4,48.4 381.8,45.4 379.3,42.4 379.6,42.0" fill="none" stroke="#880090" stroke-width="0.7" stroke-opacity="0.6" stroke-linejoin="round" stroke-linecap="round" />
<polyline points="428.1,140.2 427.6,137.2 426.9,134.2 426.2,131.2 425.4,128.2 424.9,125.2 424.7,122.2 424.5,119.2 424.2,116.2 423.7,113.2 423.0,110.2 421.7,107.2 420.1,104.2 418.5,101.2 416.9,98.2 415.4,95.2 414.3,92.2 413.5,89.2 413.0,86.2 412.4,83.2 411.6,80.2 409.8,77.2 407.8,74.2 405.5,71.2 403.4,68.2 401.6,65.2 400.0,62.2 398.8,59.2 397.8,56.2 396.8,53.2 395.7,50.2 393.1,47.2 389.6,44.2 386.2,42.0" fill="none" stroke="#880090" stroke-width="0.7" stroke-opacity="0.6" stroke-linejoin="round" stroke-linecap="round" />
<polyline points="428.3,154.1 428.3,151.1 428.1,148.1 427.8,145.1 427.4,142.1 426.9,139.1 426.5,136.1 426.2,133.1 426.0,130.1 425.7,127.1 425.3,124.1 424.9,121.1 424.0,118.1 422.8,115.1 421.5,112.1 420.1,109.1 418.5,106.1 417.0,103.1 415.6,100.1 414.1,97.1 412.7,94.1 411.2,91.1 409.7,88.1 408.1,85.1 406.3,82.1 404.1,79.1 401.1,76.1 398.1,73.1 395.3,70.1 393.1,67.1 390.9,64.1 388.8,61.1 387.0,58.1 385.2,55.1 383.4,52.1 381.4,49.1 379.1,46.1 377.0,43.1 376.5,42.0" fill="none" stroke="#880090" stroke-width="0.7" stroke-opacity="0.6" stroke-linejoin="round" stroke-linecap="round" />
<polyline points="429.0,191.0 429.0,188.0 428.9,185.0 428.8,182.0 428.7,179.0 428.5,176.0 428.4,173.0 428.3,170.0 428.4,167.0 428.5,164.0 428.7,161.0 428.7,158.0 428.6,155.0 428.3,152.0 427.9,149.0 427.3,146.0 426.8,143.0 426.6,140.0 426.6,137.0 426.7,134.0 426.9,131.0 426.7,128.0 426.1,125.0 425.3,122.0 424.1,119.0 422.5,116.0 421.1,113.0 419.9,110.0 418.6,107.0 417.6,104.0 416.7,101.0 415.5,98.0 414.0,95.0 412.2,92.0 410.2,89.0 408.1,86.0 406.0,83.0 404.2,80.0 401.5,77.0 399.0,74.0 396.6,71.0 394.6,68.0 392.5,65.0 390.1,62.0 387.7,59.0 385.5,56.0 383.3,53.0 381.2,50.0 379.1,47.0 377.3,44.0 376.5,42.0" fill="none" stroke="#880090" stroke-width="0.7" stroke-opacity="0.6" stroke-linejoin="round" stroke-linecap="round" />
<polyline points="426.0,126.4 426.0,123.4 426.2,120.4 426.1,117.4 425.8,114.4 425.2,111.4 424.1,108.4 422.7,105.4 421.1,102.4 419.6,99.4 418.3,96.4 417.3,93.4 416.6,90.4 416.0,87.4 415.4,84.4 414.5,81.4 412.9,78.4 410.7,75.4 408.3,72.4 405.9,69.4 403.8,66.4 401.9,63.4 400.3,60.4 398.9,57.4 397.5,54.4 396.0,51.4 393.4,48.4 389.8,45.4 385.5,42.4 384.8,42.0" fill="none" stroke="#880090" stroke-width="0.7" stroke-opacity="0.6" stroke-linejoin="round" stroke-linecap="round" />
<polyline points="428.0,136.6 427.4,133.6 427.0,130.6 427.0,127.6 427.2,124.6 427.7,121.6 428.0,118.6 427.9,115.6 427.6,112.6 426.9,109.6 425.8,106.6 424.7,103.6 423.8,100.6 423.1,97.6 422.8,94.6 422.7,91.6 422.7,88.6 422.7,85.6 422.3,82.6 421.6,79.6 420.6,76.6 419.5,73.6 418.5,70.6 417.4,67.6 416.5,64.6 415.9,61.6 415.1,58.6 413.8,55.6 412.3,52.6 410.1,49.6 405.4,46.6 399.3,43.6 396.1,42.0" fill="none" stroke="#880090" stroke-width="0.7" stroke-opacity="0.6" stroke-linejoin="round" stroke-linecap="round" />
<polyline points="428.1,140.5 427.9,137.5 427.8,134.5 427.5,131.5 427.2,128.5 426.9,125.5 426.6,122.5 426.3,119.5 425.7,116.5 425.2,113.5 424.7,110.5 423.9,107.5 423.1,104.5 422.2,101.5 421.2,98.5 420.2,95.5 419.2,92.5 418.3,89.5 417.4,86.5 416.6,83.5 415.8,80.5 414.6,77.5 413.3,74.5 411.9,71.5 410.5,68.5 408.9,65.5 407.4,62.5 405.8,59.5 404.0,56.5 402.3,53.5 400.6,50.5 397.3,47.5 393.3,44.5 389.3,42.0" fill="none" stroke="#880090" stroke-width="0.7" stroke-opacity="0.6" stroke-linejoin="round" stroke-linecap="round" />
<polyline points="427.2,127.3 426.7,124.3 426.1,121.3 425.3,118.3 424.5,115.3 423.8,112.3 423.2,109.3 422.4,106.3 421.6,103.3 420.7,100.3 419.6,97.3 418.4,94.3 417.0,91.3 415.7,88.3 414.4,85.3 413.3,82.3 412.1,79.3 410.6,76.3 409.1,73.3 407.5,70.3 405.8,67.3 404.0,64.3 402.1,61.3 400.1,58.3 398.0,55.3 396.1,52.3 394.0,49.3 390.9,46.3 387.3,43.3 385.6,42.0" fill="none" stroke="#880090" stroke-width="0.7" stroke-opacity="0.6" stroke-linejoin="round" stroke-linecap="round" />
<polyline points="429.0,191.0 428.9,188.0 428.9,185.0 428.9,182.0 428.9,179.0 428.8,176.0 428.7,173.0 428.5,170.0 428.2,167.0 428.1,164.0 428.0,161.0 428.1,158.0 428.3,155.0 428.5,152.0 428.5,149.0 428.3,146.0 427.8,143.0 427.2,140.0 426.6,137.0 426.1,134.0 425.7,131.0 425.5,128.0 425.4,125.0 425.3,122.0 425.0,119.0 424.1,116.0 422.9,113.0 421.5,110.0 419.8,107.0 418.1,104.0 416.7,101.0 415.4,98.0 414.4,95.0 413.4,92.0 412.5,89.0 411.3,86.0 410.0,83.0 408.3,80.0 405.7,77.0 403.0,74.0 400.5,71.0 398.5,68.0 396.9,65.0 395.4,62.0 394.1,59.0 392.8,56.0 391.3,53.0 389.6,50.0 386.7,47.0 383.5,44.0 381.8,42.0" fill="none" stroke="#880090" stroke-width="0.7" stroke-opacity="0.6" stroke-linejoin="round" stroke-linecap="round" />
<polyline points="428.8,156.8 429.0,153.8 429.2,150.8 429.1,147.8 428.7,144.8 428.2,141.8 427.6,138.8 427.2,135.8 427.1,132.8 427.3,129.8 427.7,126.8 428.1,123.8 428.3,120.8 428.1,117.8 427.4,114.8 426.6,111.8 425.6,108.8 424.6,105.8 424.0,102.8 423.6,99.8 423.5,96.8 423.5,93.8 423.5,90.8 423.2,87.8 422.6,84.8 421.7,81.8 420.7,78.8 419.8,75.8 419.0,72.8 418.6,69.8 418.1,66.8 417.7,63.8 417.4,60.8 416.3,57.8 414.5,54.8 412.5,51.8 409.2,48.8 404.1,45.8 397.8,42.8 397.0,42.0" fill="none" stroke="#880090" stroke-width="0.7" stroke-opacity="0.6" stroke-linejoin="round" stroke-linecap="round" />
<polyline points="429.0,191.0 428.9,188.0 428.9,185.0 428.8,182.0 428.8,179.0 428.8,176.0 428.7,173.0 428.7,170.0 428.6,167.0 428.5,164.0 428.4,161.0 428.4,158.0 428.4,155.0 428.4,152.0 428.3,149.0 428.2,146.0 428.0,143.0 427.8,140.0 427.6,137.0 427.4,134.0 427.1,131.0 426.9,128.0 426.6,125.0 426.4,122.0 426.1,119.0 425.5,116.0 425.0,113.0 424.4,110.0 423.5,107.0 422.6,104.0 421.8,101.0 420.9,98.0 420.1,95.0 419.4,92.0 418.7,89.0 418.1,86.0 417.4,83.0 416.8,80.0 415.8,77.0 414.7,74.0 413.7,71.0 412.7,68.0 411.6,65.0 410.6,62.0 409.5,59.0 408.1,56.0 406.6,53.0 405.1,50.0 401.3,47.0 396.6,44.0 393.2,42.0" fill="none" stroke="#880090" stroke-width="0.7" stroke-opacity="0.6" stroke-linejoin="round" stroke-linecap="round" />
<polyline points="428.8,157.9 428.7,154.9 428.5,151.9 428.2,148.9 427.8,145.9 427.4,142.9 427.1,139.9 427.0,136.9 427.1,133.9 427.2,130.9 427.0,127.9 426.6,124.9 426.0,121.9 425.1,118.9 423.8,115.9 422.6,112.9 421.5,109.9 420.3,106.9 419.2,103.9 418.2,100.9 417.0,97.9 415.6,94.9 414.0,91.9 412.2,88.9 410.3,85.9 408.4,82.9 406.5,79.9 403.8,76.9 401.2,73.9 398.7,70.9 396.4,67.9 394.1,64.9 391.7,61.9 389.2,58.9 386.8,55.9 384.5,52.9 382.2,49.9 379.7,46.9 377.5,43.9 376.5,42.0" fill="none" stroke="#880090" stroke-width="0.7" stroke-opacity="0.6" stroke-linejoin="round" stroke-linecap="round" />
<polyline points="428.2,152.4 428.0,149.4 427.7,146.4 427.5,143.4 427.3,140.4 427.2,137.4 427.1,134.4 427.0,131.4 426.6,128.4 426.1,125.4 425.5,122.4 424.9,119.4 423.8,116.4 422.9,113.4 422.0,110.4 420.9,107.4 419.9,104.4 418.8,101.4 417.6,98.4 416.2,95.4 414.8,92.4 413.4,89.4 412.0,86.4 410.6,83.4 409.3,80.4 407.4,77.4 405.4,74.4 403.4,71.4 401.5,68.4 399.7,65.4 397.7,62.4 395.8,59.4 393.9,56.4 392.1,53.4 390.4,50.4 387.9,47.4 385.1,44.4 382.6,42.0" fill="none" stroke="#880090" stroke-width="0.7" stroke-opacity="0.6" stroke-linejoin="round" stroke-linecap="round" />
<polyline points="428.7,159.7 428.6,156.7 428.3,153.7 428.0,150.7 427.6,147.7 427.4,144.7 427.4,141.7 427.5,138.7 427.6,135.7 427.7,132.7 427.5,129.7 426.9,126.7 426.2,123.7 425.4,120.7 424.4,117.7 423.5,114.7 422.8,111.7 422.2,108.7 421.6,105.7 420.8,102.7 419.9,99.7 418.6,96.7 417.1,93.7 415.5,90.7 414.1,87.7 412.7,84.7 411.7,81.7 410.5,78.7 409.1,75.7 407.6,72.7 406.0,69.7 404.4,66.7 402.5,63.7 400.4,60.7 398.3,57.7 396.3,54.7 394.6,51.7 392.5,48.7 389.7,45.7 386.4,42.7 385.3,42.0" fill="none" stroke="#880090" stroke-width="0.7" stroke-opacity="0.6" stroke-linejoin="round" stroke-linecap="round" />
<polyline points="428.7,156.5 428.5,153.5 428.1,150.5 427.5,147.5 426.9,144.5 426.5,141.5 426.4,138.5 426.5,135.5 426.7,132.5 426.8,129.5 426.4,126.5 425.7,123.5 424.7,120.5 423.1,117.5 421.5,114.5 420.1,111.5 418.9,108.5 417.8,105.5 416.8,102.5 415.8,99.5 414.5,96.5 412.9,93.5 411.0,90.5 408.8,87.5 406.7,84.5 404.7,81.5 402.4,78.5 399.8,75.5 397.4,72.5 395.1,69.5 393.2,66.5 391.1,63.5 388.6,60.5 386.4,57.5 384.2,54.5 382.0,51.5 379.9,48.5 378.0,45.5 376.4,42.5 376.5,42.0" fill="none" stroke="#880090" stroke-width="0.7" stroke-opacity="0.6" stroke-linejoin="round" stroke-linecap="round" />
<polyline points="429.0,191.0 428.9,188.0 428.9,185.0 428.9,182.0 428.8,179.0 428.8,176.0 428.7,173.0 428.7,170.0 428.6,167.0 428.5,164.0 428.5,161.0 428.4,158.0 428.3,155.0 428.3,152.0 428.2,149.0 428.0,146.0 427.8,143.0 427.6,140.0 427.4,137.0 427.1,134.0 426.9,131.0 426.5,128.0 426.1,125.0 425.7,122.0 425.1,119.0 424.2,116.0 423.3,113.0 422.4,110.0 421.2,107.0 420.0,104.0 418.7,101.0 417.4,98.0 416.0,95.0 414.6,92.0 413.3,89.0 411.9,86.0 410.5,83.0 409.1,80.0 406.8,77.0 404.5,74.0 402.1,71.0 399.9,68.0 397.8,65.0 395.7,62.0 393.6,59.0 391.8,56.0 389.9,53.0 388.1,50.0 385.4,47.0 382.5,44.0 380.6,42.0" fill="none" stroke="#880090" stroke-width="0.7" stroke-opacity="0.6" stroke-linejoin="round" stroke-linecap="round" />
<polyline points="428.5,161.1 428.4,158.1 428.4,155.1 428.3,152.1 428.2,149.1 427.9,146.1 427.7,143.1 427.5,140.1 427.4,137.1 427.3,134.1 427.2,131.1 426.9,128.1 426.6,125.1 426.3,122.1 425.8,119.1 425.1,116.1 424.5,113.1 423.9,110.1 423.1,107.1 422.4,104.1 421.8,101.1 421.1,98.1 420.4,95.1 419.6,92.1 418.9,89.1 418.3,86.1 417.7,83.1 417.1,80.1 416.4,77.1 415.8,74.1 415.2,71.1 414.6,68.1 413.9,65.1 413.2,62.1 412.2,59.1 410.8,56.1 409.4,53.1 408.0,50.1 404.2,47.1 399.5,44.1 395.8,42.0" fill="none" stroke="#880090" stroke-width="0.7" stroke-opacity="0.6" stroke-linejoin="round" stroke-linecap="round" />
<polyline points="428.7,158.1 428.7,155.1 428.7,152.1 428.6,149.1 428.3,146.1 428.1,143.1 427.9,140.1 427.7,137.1 427.7,134.1 427.6,131.1 427.6,128.1 427.4,125.1 427.2,122.1 426.8,119.1 426.1,116.1 425.4,113.1 424.7,110.1 423.8,107.1 423.0,104.1 422.3,101.1 421.5,98.1 420.7,95.1 419.8,92.1 418.8,89.1 417.7,86.1 416.6,83.1 415.5,80.1 414.0,77.1 412.5,74.1 411.1,71.1 409.6,68.1 408.1,65.1 406.6,62.1 404.8,59.1 402.7,56.1 400.6,53.1 398.5,50.1 394.9,47.1 390.7,44.1 387.9,42.0" fill="none" stroke="#880090" stroke-width="0.7" stroke-opacity="0.6" stroke-linejoin="round" stroke-linecap="round" />
<polyline points="427.6,143.5 427.3,140.5 427.0,137.5 426.8,134.5 426.6,131.5 426.3,128.5 425.8,125.5 425.3,122.5 424.7,119.5 423.6,116.5 422.5,113.5 421.3,110.5 419.9,107.5 418.6,104.5 417.2,101.5 415.8,98.5 414.3,95.5 412.8,92.5 411.2,89.5 409.5,86.5 407.8,83.5 406.1,80.5 403.4,77.5 400.6,74.5 397.8,71.5 395.3,68.5 393.0,65.5 390.6,62.5 388.3,59.5 386.4,56.5 384.5,53.5 382.5,50.5 380.3,47.5 378.1,44.5 376.5,42.0" fill="none" stroke="#880090" stroke-width="0.7" stroke-opacity="0.6" stroke-linejoin="round" stroke-linecap="round" />
<polyline points="428.6,170.1 428.5,167.1 428.4,164.1 428.4,161.1 428.5,158.1 428.7,155.1 428.8,152.1 428.8,149.1 428.6,146.1 428.2,143.1 427.8,140.1 427.3,137.1 427.0,134.1 426.9,131.1 426.9,128.1 426.9,125.1 426.9,122.1 426.6,119.1 425.9,116.1 425.0,113.1 423.9,110.1 422.6,107.1 421.4,104.1 420.4,101.1 419.4,98.1 418.6,95.1 417.8,92.1 416.9,89.1 415.8,86.1 414.5,83.1 413.0,80.1 410.8,77.1 408.6,74.1 406.6,71.1 404.7,68.1 403.1,65.1 401.5,62.1 399.9,59.1 398.1,56.1 396.0,53.1 393.8,50.1 390.3,47.1 386.5,44.1 384.2,42.0" fill="none" stroke="#880090" stroke-width="0.7" stroke-opacity="0.6" stroke-linejoin="round" stroke-linecap="round" />
<polyline points="428.0,146.0 427.7,143.0 427.5,140.0 427.3,137.0 427.1,134.0 426.9,131.0 426.5,128.0 426.0,125.0 425.5,122.0 424.9,119.0 423.9,116.0 422.9,113.0 421.9,110.0 420.6,107.0 419.3,104.0 417.9,101.0 416.5,98.0 414.9,95.0 413.3,92.0 411.7,89.0 410.1,86.0 408.5,83.0 406.8,80.0 404.1,77.0 401.3,74.0 398.5,71.0 396.0,68.0 393.5,65.0 391.0,62.0 388.6,59.0 386.6,56.0 384.6,53.0 382.6,50.0 380.2,47.0 377.9,44.0 376.5,42.0" fill="none" stroke="#880090" stroke-width="0.7" stroke-opacity="0.6" stroke-linejoin="round" stroke-linecap="round" />
<polyline points="428.7,165.3 428.7,162.3 428.5,159.3 428.3,156.3 428.1,153.3 428.0,150.3 427.8,147.3 427.7,144.3 427.8,141.3 427.8,138.3 427.8,135.3 427.7,132.3 427.4,129.3 426.9,126.3 426.3,123.3 425.9,120.3 425.2,117.3 424.8,114.3 424.5,111.3 424.1,108.3 423.6,105.3 423.0,102.3 422.3,99.3 421.4,96.3 420.5,93.3 419.6,90.3 418.9,87.3 418.5,84.3 418.2,81.3 418.0,78.3 417.6,75.3 417.3,72.3 416.8,69.3 416.0,66.3 415.1,63.3 414.2,60.3 412.7,57.3 411.3,54.3 410.1,51.3 407.5,48.3 403.4,45.3 398.0,42.3 397.0,42.0" fill="none" stroke="#880090" stroke-width="0.7" stroke-opacity="0.6" stroke-linejoin="round" stroke-linecap="round" />
<polyline points="428.5,147.7 428.4,144.7 428.3,141.7 428.1,138.7 428.0,135.7 427.9,132.7 427.8,129.7 427.8,126.7 427.7,123.7 427.6,120.7 427.2,117.7 426.9,114.7 426.4,111.7 425.9,108.7 425.4,105.7 424.8,102.7 424.3,99.7 423.8,96.7 423.3,93.7 422.8,90.7 422.4,87.7 421.9,84.7 421.4,81.7 420.9,78.7 420.4,75.7 419.9,72.7 419.4,69.7 418.6,66.7 417.8,63.7 417.0,60.7 415.4,57.7 413.7,54.7 411.9,51.7 409.0,48.7 404.3,45.7 398.3,42.7 397.0,42.0" fill="none" stroke="#880090" stroke-width="0.7" stroke-opacity="0.6" stroke-linejoin="round" stroke-linecap="round" />
<polyline points="428.5,171.7 428.5,168.7 428.5,165.7 428.5,162.7 428.5,159.7 428.4,156.7 428.3,153.7 428.1,150.7 427.8,147.7 427.6,144.7 427.4,141.7 427.2,138.7 427.1,135.7 427.0,132.7 426.8,129.7 426.4,126.7 425.9,123.7 425.3,120.7 424.4,117.7 423.4,114.7 422.5,111.7 421.6,108.7 420.7,105.7 419.7,102.7 418.7,99.7 417.5,96.7 416.3,93.7 415.0,90.7 413.7,87.7 412.5,84.7 411.4,81.7 410.0,78.7 408.3,75.7 406.7,72.7 405.1,69.7 403.6,66.7 402.1,63.7 400.4,60.7 398.7,57.7 397.0,54.7 395.4,51.7 393.2,48.7 390.3,45.7 386.7,42.7 385.9,42.0" fill="none" stroke="#880090" stroke-width="0.7" stroke-opacity="0.6" stroke-linejoin="round" stroke-linecap="round" />
<polyline points="427.3,140.2 427.2,137.2 427.3,134.2 427.4,131.2 427.3,128.2 426.9,125.2 426.5,122.2 425.8,119.2 424.8,116.2 423.9,113.2 423.2,110.2 422.4,107.2 421.8,104.2 421.2,101.2 420.5,98.2 419.7,95.2 418.8,92.2 417.7,89.2 416.6,86.2 415.5,83.2 414.6,80.2 413.5,77.2 412.5,74.2 411.7,71.2 410.8,68.2 409.8,65.2 408.7,62.2 407.3,59.2 405.5,56.2 403.7,53.2 402.0,50.2 398.6,47.2 394.5,44.2 391.4,42.0" fill="none" stroke="#880090" stroke-width="0.7" stroke-opacity="0.6" stroke-linejoin="round" stroke-linecap="round" />
<polyline points="428.1,161.4 428.0,158.4 428.1,155.4 428.2,152.4 428.2,149.4 428.1,146.4 427.9,143.4 427.6,140.4 427.1,137.4 426.6,134.4 426.1,131.4 425.7,128.4 425.4,125.4 425.1,122.4 424.9,119.4 424.1,116.4 423.3,113.4 422.3,110.4 421.0,107.4 419.5,104.4 418.1,101.4 416.8,98.4 415.6,95.4 414.6,92.4 413.7,89.4 412.8,86.4 411.8,83.4 410.7,80.4 408.8,77.4 406.8,74.4 404.7,71.4 402.9,68.4 401.3,65.4 399.9,62.4 398.7,59.4 397.5,56.4 396.2,53.4 394.9,50.4 392.2,47.4 388.8,44.4 385.7,42.0" fill="none" stroke="#880090" stroke-width="0.7" stroke-opacity="0.6" stroke-linejoin="round" stroke-linecap="round" />
<polyline points="429.0,191.0 429.0,188.0 428.9,185.0 428.9,182.0 428.9,179.0 428.9,176.0 428.9,173.0 428.8,170.0 428.7,167.0 428.6,164.0 428.5,161.0 428.5,158.0 428.5,155.0 428.6,152.0 428.6,149.0 428.6,146.0 428.5,143.0 428.3,140.0 428.0,137.0 427.8,134.0 427.5,131.0 427.3,128.0 427.2,125.0 427.2,122.0 427.1,119.0 426.7,116.0 426.3,113.0 425.7,110.0 424.9,107.0 424.0,104.0 423.2,101.0 422.4,98.0 421.7,95.0 421.0,92.0 420.4,89.0 419.8,86.0 419.2,83.0 418.4,80.0 417.3,77.0 416.2,74.0 415.0,71.0 413.7,68.0 412.4,65.0 411.2,62.0 409.8,59.0 408.1,56.0 406.4,53.0 404.5,50.0 400.4,47.0 395.5,44.0 392.1,42.0" fill="none" stroke="#880090" stroke-width="0.7" stroke-opacity="0.6" stroke-linejoin="round" stroke-linecap="round" />
<polyline points="427.2,126.3 426.9,123.3 426.6,120.3 426.0,117.3 425.4,114.3 424.8,111.3 424.1,108.3 423.3,105.3 422.6,102.3 421.8,99.3 421.0,96.3 420.1,93.3 419.2,90.3 418.3,87.3 417.4,84.3 416.6,81.3 415.6,78.3 414.4,75.3 413.3,72.3 412.1,69.3 410.8,66.3 409.5,63.3 408.2,60.3 406.4,57.3 404.6,54.3 402.8,51.3 399.9,48.3 396.0,45.3 391.2,42.3 390.7,42.0" fill="none" stroke="#880090" stroke-width="0.7" stroke-opacity="0.6" stroke-linejoin="round" stroke-linecap="round" />
<polyline points="427.6,144.3 427.2,141.3 427.0,138.3 426.9,135.3 426.9,132.3 426.9,129.3 426.6,126.3 426.2,123.3 425.7,120.3 424.5,117.3 423.3,114.3 422.2,111.3 421.0,108.3 419.9,105.3 418.9,102.3 417.9,99.3 416.8,96.3 415.5,93.3 414.1,90.3 412.6,87.3 410.9,84.3 409.3,81.3 407.2,78.3 404.9,75.3 402.8,72.3 400.8,69.3 399.0,66.3 397.1,63.3 395.1,60.3 393.1,57.3 391.0,54.3 388.9,51.3 386.4,48.3 383.7,45.3 380.8,42.3 380.9,42.0" fill="none" stroke="#880090" stroke-width="0.7" stroke-opacity="0.6" stroke-linejoin="round" stroke-linecap="round" />
<polyline points="427.4,137.7 426.7,134.7 426.0,131.7 425.5,128.7 425.3,125.7 425.3,122.7 425.4,119.7 424.9,116.7 424.2,113.7 423.1,110.7 421.6,107.7 419.9,104.7 418.2,101.7 416.6,98.7 415.4,95.7 414.4,92.7 413.6,89.7 412.8,86.7 411.9,83.7 410.6,80.7 408.4,77.7 405.7,74.7 403.0,71.7 400.5,68.7 398.5,65.7 396.9,62.7 395.4,59.7 394.3,56.7 393.0,53.7 391.5,50.7 388.9,47.7 385.6,44.7 382.3,42.0" fill="none" stroke="#880090" stroke-width="0.7" stroke-opacity="0.6" stroke-linejoin="round" stroke-linecap="round" />
<polyline points="428.8,176.7 428.7,173.7 428.7,170.7 428.7,167.7 428.6,164.7 428.6,161.7 428.5,158.7 428.4,155.7 428.3,152.7 428.2,149.7 428.0,146.7 427.8,143.7 427.7,140.7 427.5,137.7 427.3,134.7 427.0,131.7 426.7,128.7 426.2,125.7 425.7,122.7 425.2,119.7 424.2,116.7 423.3,113.7 422.3,110.7 421.1,107.7 419.8,104.7 418.5,101.7 417.1,98.7 415.5,95.7 414.0,92.7 412.4,89.7 410.8,86.7 409.1,83.7 407.5,80.7 405.1,77.7 402.4,74.7 399.6,71.7 396.9,68.7 394.4,65.7 391.8,62.7 389.3,59.7 387.2,56.7 385.2,53.7 383.1,50.7 380.9,47.7 378.6,44.7 376.5,42.0" fill="none" stroke="#880090" stroke-width="0.7" stroke-opacity="0.6" stroke-linejoin="round" stroke-linecap="round" />
<polyline points="428.9,177.4 428.8,174.4 428.7,171.4 428.6,168.4 428.5,165.4 428.5,162.4 428.5,159.4 428.6,156.4 428.7,153.4 428.7,150.4 428.6,147.4 428.4,144.4 428.1,141.4 427.8,138.4 427.5,135.4 427.3,132.4 427.3,129.4 427.2,126.4 427.2,123.4 427.1,120.4 426.6,117.4 426.0,114.4 425.3,111.4 424.4,108.4 423.5,105.4 422.6,102.4 421.9,99.4 421.2,96.4 420.6,93.4 419.9,90.4 419.2,87.4 418.3,84.4 417.4,81.4 416.2,78.4 414.9,75.4 413.6,72.4 412.4,69.4 411.2,66.4 410.0,63.4 408.9,60.4 407.3,57.4 405.5,54.4 403.6,51.4 400.6,48.4 396.4,45.4 391.4,42.4 390.9,42.0" fill="none" stroke="#880090" stroke-width="0.7" stroke-opacity="0.6" stroke-linejoin="round" stroke-linecap="round" />
<polyline points="429.0,191.0 428.9,188.0 428.8,185.0 428.7,182.0 428.7,179.0 428.7,176.0 428.7,173.0 428.7,170.0 428.6,167.0 428.5,164.0 428.3,161.0 428.1,158.0 427.9,155.0 427.8,152.0 427.8,149.0 427.7,146.0 427.7,143.0 427.6,140.0 427.4,137.0 427.0,134.0 426.5,131.0 425.8,128.0 425.1,125.0 424.5,122.0 423.9,119.0 423.1,116.0 422.4,113.0 421.6,110.0 420.4,107.0 419.1,104.0 417.6,101.0 415.9,98.0 414.2,95.0 412.7,92.0 411.3,89.0 410.1,86.0 409.0,83.0 407.9,80.0 405.7,77.0 403.4,74.0 401.0,71.0 398.6,68.0 396.4,65.0 394.3,62.0 392.4,59.0 390.9,56.0 389.5,53.0 388.2,50.0 386.0,47.0 383.4,44.0 381.1,42.0" fill="none" stroke="#880090" stroke-width="0.7" stroke-opacity="0.6" stroke-linejoin="round" stroke-linecap="round" />
<polyline points="429.0,191.0 429.0,188.0 428.9,185.0 428.9,182.0 428.9,179.0 428.8,176.0 428.8,173.0 428.8,170.0 428.7,167.0 428.7,164.0 428.7,161.0 428.7,158.0 428.7,155.0 428.6,152.0 428.6,149.0 428.5,146.0 428.3,143.0 428.2,140.0 428.1,137.0 428.0,134.0 428.0,131.0 427.9,128.0 427.8,125.0 427.6,122.0 427.4,119.0 427.1,116.0 426.7,113.0 426.3,110.0 425.8,107.0 425.2,104.0 424.7,101.0 424.2,98.0 423.7,95.0 423.2,92.0 422.7,89.0 422.2,86.0 421.7,83.0 421.2,80.0 420.8,77.0 420.3,74.0 419.9,71.0 419.1,68.0 418.3,65.0 417.4,62.0 416.3,59.0 414.5,56.0 412.7,53.0 410.9,50.0 406.4,47.0 400.9,44.0 397.0,42.0" fill="none" stroke="#880090" stroke-width="0.7" stroke-opacity="0.6" stroke-linejoin="round" stroke-linecap="round" />
<polyline points="427.6,141.2 427.4,138.2 427.2,135.2 427.0,132.2 426.7,129.2 426.3,126.2 425.8,123.2 425.4,120.2 424.6,117.2 423.7,114.2 422.9,111.2 421.9,108.2 420.9,105.2 419.8,102.2 418.7,99.2 417.5,96.2 416.3,93.2 415.1,90.2 414.0,87.2 412.9,84.2 411.7,81.2 410.2,78.2 408.5,75.2 406.7,72.2 405.0,69.2 403.4,66.2 401.7,63.2 400.1,60.2 398.5,57.2 396.8,54.2 395.2,51.2 392.8,48.2 389.6,45.2 386.0,42.2 385.7,42.0" fill="none" stroke="#880090" stroke-width="0.7" stroke-opacity="0.6" stroke-linejoin="round" stroke-linecap="round" />
<polyline points="428.6,153.2 428.4,150.2 428.3,147.2 428.2,144.2 428.2,141.2 428.3,138.2 428.3,135.2 428.3,132.2 428.2,129.2 428.0,126.2 427.7,123.2 427.4,120.2 426.9,117.2 426.6,114.2 426.3,111.2 426.1,108.2 425.7,105.2 425.4,102.2 424.9,99.2 424.3,96.2 423.6,93.2 422.8,90.2 422.2,87.2 421.7,84.2 421.3,81.2 421.0,78.2 420.7,75.2 420.4,72.2 419.9,69.2 419.0,66.2 418.0,63.2 417.0,60.2 415.0,57.2 413.1,54.2 411.4,51.2 408.0,48.2 403.3,45.2 397.5,42.2 397.0,42.0" fill="none" stroke="#880090" stroke-width="0.7" stroke-opacity="0.6" stroke-linejoin="round" stroke-linecap="round" />
<polyline points="428.8,173.8 428.6,170.8 428.3,167.8 428.1,164.8 428.0,161.8 428.0,158.8 428.2,155.8 428.4,152.8 428.7,149.8 428.6,146.8 428.3,143.8 427.7,140.8 427.1,137.8 426.5,134.8 426.0,131.8 425.8,128.8 425.8,125.8 425.9,122.8 426.0,119.8 425.4,116.8 424.6,113.8 423.5,110.8 422.1,107.8 420.6,104.8 419.3,101.8 418.3,98.8 417.5,95.8 417.0,92.8 416.5,89.8 416.0,86.8 415.2,83.8 414.2,80.8 412.5,77.8 410.7,74.8 408.9,71.8 407.5,68.8 406.4,65.8 405.6,62.8 404.9,59.8 403.9,56.8 402.7,53.8 401.2,50.8 398.1,47.8 394.0,44.8 389.9,42.0" fill="none" stroke="#880090" stroke-width="0.7" stroke-opacity="0.6" stroke-linejoin="round" stroke-linecap="round" />
<polyline points="428.7,155.3 428.7,152.3 428.5,149.3 428.1,146.3 427.6,143.3 427.2,140.3 426.9,137.3 426.8,134.3 427.0,131.3 427.1,128.3 427.0,125.3 426.9,122.3 426.4,119.3 425.4,116.3 424.4,113.3 423.5,110.3 422.5,107.3 421.7,104.3 421.2,101.3 420.8,98.3 420.3,95.3 419.7,92.3 419.0,89.3 418.1,86.3 417.1,83.3 416.1,80.3 415.0,77.3 414.0,74.3 413.4,71.3 412.8,68.3 412.2,65.3 411.6,62.3 410.7,59.3 409.2,56.3 407.5,53.3 405.7,50.3 401.8,47.3 397.2,44.3 393.9,42.0" fill="none" stroke="#880090" stroke-width="0.7" stroke-opacity="0.6" stroke-linejoin="round" stroke-linecap="round" />
<polyline points="427.8,141.3 427.3,138.3 427.1,135.3 427.1,132.3 427.3,129.3 427.6,126.3 427.8,123.3 427.7,120.3 427.1,117.3 426.3,114.3 425.3,111.3 424.3,108.3 423.4,105.3 422.7,102.3 422.3,99.3 422.1,96.3 421.8,93.3 421.4,90.3 420.7,87.3 419.8,84.3 418.7,81.3 417.5,78.3 416.3,75.3 415.3,72.3 414.6,69.3 413.9,66.3 413.3,63.3 412.6,60.3 411.1,57.3 409.2,54.3 407.1,51.3 403.6,48.3 398.8,45.3 393.3,42.3 393.6,42.0" fill="none" stroke="#880090" stroke-width="0.7" stroke-opacity="0.6" stroke-linejoin="round" stroke-linecap="round" />
<polyline points="429.0,191.0 428.9,188.0 428.8,185.0 428.8,182.0 428.8,179.0 428.9,176.0 428.9,173.0 428.8,170.0 428.6,167.0 428.4,164.0 428.1,161.0 427.9,158.0 427.9,155.0 428.0,152.0 428.2,149.0 428.3,146.0 428.4,143.0 428.2,140.0 427.7,137.0 427.1,134.0 426.5,131.0 425.8,128.0 425.4,125.0 425.3,122.0 425.2,119.0 424.9,116.0 424.5,113.0 423.8,110.0 422.6,107.0 421.2,104.0 419.8,101.0 418.4,98.0 417.1,95.0 416.2,92.0 415.6,89.0 415.1,86.0 414.6,83.0 413.9,80.0 412.3,77.0 410.6,74.0 408.7,71.0 406.8,68.0 405.2,65.0 403.8,62.0 402.7,59.0 401.6,56.0 400.5,53.0 399.3,50.0 396.1,47.0 392.1,44.0 388.7,42.0" fill="none" stroke="#880090" stroke-width="0.7" stroke-opacity="0.6" stroke-linejoin="round" stroke-linecap="round" />
<polyline points="427.0,129.3 426.7,126.3 426.3,123.3 425.9,120.3 425.2,117.3 424.4,114.3 423.7,111.3 422.9,108.3 422.0,105.3 421.1,102.3 420.3,99.3 419.3,96.3 418.3,93.3 417.4,90.3 416.4,87.3 415.5,84.3 414.6,81.3 413.5,78.3 412.2,75.3 410.9,72.3 409.7,69.3 408.4,66.3 407.2,63.3 405.9,60.3 404.3,57.3 402.7,54.3 401.0,51.3 398.4,48.3 394.8,45.3 390.4,42.3 389.9,42.0" fill="none" stroke="#880090" stroke-width="0.7" stroke-opacity="0.6" stroke-linejoin="round" stroke-linecap="round" />
<polyline points="429.0,191.0 428.9,188.0 428.9,185.0 428.8,182.0 428.8,179.0 428.8,176.0 428.7,173.0 428.6,170.0 428.6,167.0 428.5,164.0 428.4,161.0 428.4,158.0 428.3,155.0 428.3,152.0 428.2,149.0 428.0,146.0 427.8,143.0 427.6,140.0 427.3,137.0 427.1,134.0 426.8,131.0 426.4,128.0 426.0,125.0 425.6,122.0 425.0,119.0 424.1,116.0 423.2,113.0 422.3,110.0 421.1,107.0 419.8,104.0 418.6,101.0 417.2,98.0 415.9,95.0 414.5,92.0 413.2,89.0 411.8,86.0 410.4,83.0 409.0,80.0 406.7,77.0 404.4,74.0 402.0,71.0 399.8,68.0 397.8,65.0 395.7,62.0 393.7,59.0 391.9,56.0 390.1,53.0 388.3,50.0 385.6,47.0 382.7,44.0 380.8,42.0" fill="none" stroke="#880090" stroke-width="0.7" stroke-opacity="0.6" stroke-linejoin="round" stroke-linecap="round" />
<polyline points="427.4,144.8 427.2,141.8 427.2,138.8 427.1,135.8 427.0,132.8 426.8,129.8 426.2,126.8 425.5,123.8 424.7,120.8 423.6,117.8 422.5,114.8 421.5,111.8 420.6,108.8 419.5,105.8 418.3,102.8 417.1,99.8 415.6,96.8 413.9,93.8 412.2,90.8 410.4,87.8 408.8,84.8 407.3,81.8 405.5,78.8 403.2,75.8 400.9,72.8 398.5,69.8 396.4,66.8 394.2,63.8 391.8,60.8 389.7,57.8 387.8,54.8 386.0,51.8 384.1,48.8 381.9,45.8 379.7,42.8 378.9,42.0" fill="none" stroke="#880090" stroke-width="0.7" stroke-opacity="0.6" stroke-linejoin="round" stroke-linecap="round" />
<polyline points="428.1,159.7 428.0,156.7 428.1,153.7 428.2,150.7 428.3,147.7 428.2,144.7 428.1,141.7 427.8,138.7 427.4,135.7 426.8,132.7 426.3,129.7 425.8,126.7 425.4,123.7 425.3,120.7 424.9,117.7 424.3,114.7 423.6,111.7 422.6,108.7 421.3,105.7 419.9,102.7 418.5,99.7 417.0,96.7 415.8,93.7 414.8,90.7 414.0,87.7 413.1,84.7 412.2,81.7 410.8,78.7 408.7,75.7 406.6,72.7 404.4,69.7 402.4,66.7 400.6,63.7 399.0,60.7 397.6,57.7 396.2,54.7 394.8,51.7 392.7,48.7 389.7,45.7 385.9,42.7 384.8,42.0" fill="none" stroke="#880090" stroke-width="0.7" stroke-opacity="0.6" stroke-linejoin="round" stroke-linecap="round" />
<polyline points="428.4,159.7 428.1,156.7 427.9,153.7 427.8,150.7 427.7,147.7 427.8,144.7 427.9,141.7 427.9,138.7 427.8,135.7 427.4,132.7 426.8,129.7 425.9,126.7 425.0,123.7 424.4,120.7 423.6,117.7 422.9,114.7 422.3,111.7 421.5,108.7 420.3,105.7 418.9,102.7 417.2,99.7 415.3,96.7 413.3,93.7 411.5,90.7 409.9,87.7 408.5,84.7 407.2,81.7 405.5,78.7 403.1,75.7 400.3,72.7 397.3,69.7 394.5,66.7 391.7,63.7 388.9,60.7 386.7,57.7 384.9,54.7 383.3,51.7 381.6,48.7 379.8,45.7 377.7,42.7 376.5,42.0" fill="none" stroke="#880090" stroke-width="0.7" stroke-opacity="0.6" stroke-linejoin="round" stroke-linecap="round" />
<polyline points="427.7,131.9 427.5,128.9 427.1,125.9 426.8,122.9 426.4,119.9 425.8,116.9 425.2,113.9 424.7,110.9 424.0,107.9 423.3,104.9 422.5,101.9 421.7,98.9 420.7,95.9 419.7,92.9 418.7,89.9 417.8,86.9 416.9,83.9 416.1,80.9 415.1,77.9 413.9,74.9 412.7,71.9 411.5,68.9 410.1,65.9 408.6,62.9 407.1,59.9 405.2,56.9 403.4,53.9 401.6,50.9 398.5,47.9 394.6,44.9 390.1,42.0" fill="none" stroke="#880090" stroke-width="0.7" stroke-opacity="0.6" stroke-linejoin="round" stroke-linecap="round" />
<polyline points="427.7,140.1 427.9,137.1 428.1,134.1 428.0,131.1 427.6,128.1 427.0,125.1 426.3,122.1 425.6,119.1 424.9,116.1 424.4,113.1 424.3,110.1 424.0,107.1 423.7,104.1 423.3,101.1 422.6,98.1 421.6,95.1 420.5,92.1 419.5,89.1 418.8,86.1 418.3,83.1 418.1,80.1 417.9,77.1 417.8,74.1 417.7,71.1 417.2,68.1 416.3,65.1 415.2,62.1 413.9,59.1 412.2,56.1 410.7,53.1 409.4,50.1 405.8,47.1 401.2,44.1 397.0,42.0" fill="none" stroke="#880090" stroke-width="0.7" stroke-opacity="0.6" stroke-linejoin="round" stroke-linecap="round" />
<polyline points="428.5,143.9 428.7,140.9 428.6,137.9 428.2,134.9 427.6,131.9 426.8,128.9 426.2,125.9 425.8,122.9 425.8,119.9 425.6,116.9 425.6,113.9 425.5,110.9 425.0,107.9 424.1,104.9 422.9,101.9 421.5,98.9 420.2,95.9 419.1,92.9 418.4,89.9 418.0,86.9 417.8,83.9 417.6,80.9 417.0,77.9 416.0,74.9 414.7,71.9 413.1,68.9 411.4,65.9 409.8,62.9 408.6,59.9 407.1,56.9 406.0,53.9 404.8,50.9 402.1,47.9 398.1,44.9 392.3,42.0" fill="none" stroke="#880090" stroke-width="0.7" stroke-opacity="0.6" stroke-linejoin="round" stroke-linecap="round" />
<polyline points="428.4,147.7 428.1,144.7 427.8,141.7 427.5,138.7 427.4,135.7 427.4,132.7 427.4,129.7 427.3,126.7 427.1,123.7 426.8,120.7 426.2,117.7 425.4,114.7 424.6,111.7 423.8,108.7 423.0,105.7 422.3,102.7 421.6,99.7 421.0,96.7 420.2,93.7 419.4,90.7 418.5,87.7 417.5,84.7 416.5,81.7 415.4,78.7 414.1,75.7 413.0,72.7 412.0,69.7 410.9,66.7 409.8,63.7 408.6,60.7 406.9,57.7 405.0,54.7 403.1,51.7 400.4,48.7 396.5,45.7 391.7,42.7 390.9,42.0" fill="none" stroke="#880090" stroke-width="0.7" stroke-opacity="0.6" stroke-linejoin="round" stroke-linecap="round" />
<polyline points="425.9,130.1 425.4,127.1 424.9,124.1 424.4,121.1 423.5,118.1 422.2,115.1 421.0,112.1 419.6,109.1 418.0,106.1 416.5,103.1 415.0,100.1 413.4,97.1 411.9,94.1 410.3,91.1 408.7,88.1 407.1,85.1 405.4,82.1 403.3,79.1 400.3,76.1 397.4,73.1 394.5,70.1 392.3,67.1 390.1,64.1 388.0,61.1 386.2,58.1 384.6,55.1 382.9,52.1 381.1,49.1 379.1,46.1 377.1,43.1 376.5,42.0" fill="none" stroke="#880090" stroke-width="0.7" stroke-opacity="0.6" stroke-linejoin="round" stroke-linecap="round" />
<polyline points="428.8,174.7 428.8,171.7 428.7,168.7 428.6,165.7 428.6,162.7 428.5,159.7 428.4,156.7 428.4,153.7 428.4,150.7 428.3,147.7 428.1,144.7 428.0,141.7 427.8,138.7 427.6,135.7 427.3,132.7 427.1,129.7 426.7,126.7 426.3,123.7 426.0,120.7 425.4,117.7 424.7,114.7 424.0,111.7 423.1,108.7 422.0,105.7 420.9,102.7 419.7,99.7 418.5,96.7 417.3,93.7 416.1,90.7 414.9,87.7 413.8,84.7 412.6,81.7 411.0,78.7 409.0,75.7 407.0,72.7 404.9,69.7 402.9,66.7 400.9,63.7 398.9,60.7 397.0,57.7 395.1,54.7 393.3,51.7 390.9,48.7 387.8,45.7 384.3,42.7 383.3,42.0" fill="none" stroke="#880090" stroke-width="0.7" stroke-opacity="0.6" stroke-linejoin="round" stroke-linecap="round" />
<polyline points="428.4,148.4 428.6,145.4 428.6,142.4 428.4,139.4 427.9,136.4 427.2,133.4 426.5,130.4 426.0,127.4 425.7,124.4 425.8,121.4 425.8,118.4 425.7,115.4 425.5,112.4 424.9,109.4 423.8,106.4 422.5,103.4 421.2,100.4 420.0,97.4 419.0,94.4 418.5,91.4 418.2,88.4 418.1,85.4 417.8,82.4 417.3,79.4 416.3,76.4 415.0,73.4 413.5,70.4 412.1,67.4 410.8,64.4 409.9,61.4 409.0,58.4 408.0,55.4 407.1,52.4 405.4,49.4 401.7,46.4 396.5,43.4 393.5,42.0" fill="none" stroke="#880090" stroke-width="0.7" stroke-opacity="0.6" stroke-linejoin="round" stroke-linecap="round" />
<polyline points="428.7,156.6 428.3,153.6 428.0,150.6 427.6,147.6 427.4,144.6 427.4,141.6 427.5,138.6 427.8,135.6 427.9,132.6 427.8,129.6 427.2,126.6 426.4,123.6 425.5,120.6 424.4,117.6 423.5,114.6 422.8,111.6 422.2,108.6 421.6,105.6 421.0,102.6 420.0,99.6 418.7,96.6 417.2,93.6 415.5,90.6 413.8,87.6 412.4,84.6 411.1,81.6 409.9,78.6 408.3,75.6 406.8,72.6 405.1,69.6 403.3,66.6 401.2,63.6 398.9,60.6 396.6,57.6 394.4,54.6 392.4,51.6 390.2,48.6 387.6,45.6 384.6,42.6 383.7,42.0" fill="none" stroke="#880090" stroke-width="0.7" stroke-opacity="0.6" stroke-linejoin="round" stroke-linecap="round" />
<polyline points="429.0,191.0 428.9,188.0 428.9,185.0 428.9,182.0 428.9,179.0 428.9,176.0 428.8,173.0 428.6,170.0 428.5,167.0 428.4,164.0 428.3,161.0 428.4,158.0 428.5,155.0 428.6,152.0 428.7,149.0 428.5,146.0 428.3,143.0 427.9,140.0 427.5,137.0 427.2,134.0 427.0,131.0 426.9,128.0 426.9,125.0 427.0,122.0 426.9,119.0 426.5,116.0 425.9,113.0 425.2,110.0 424.2,107.0 423.3,104.0 422.6,101.0 422.0,98.0 421.6,95.0 421.3,92.0 421.0,89.0 420.6,86.0 420.2,83.0 419.5,80.0 418.7,77.0 417.9,74.0 417.3,71.0 416.6,68.0 416.0,65.0 415.6,62.0 414.9,59.0 413.6,56.0 412.2,53.0 410.6,50.0 406.2,47.0 400.7,44.0 397.0,42.0" fill="none" stroke="#880090" stroke-width="0.7" stroke-opacity="0.6" stroke-linejoin="round" stroke-linecap="round" />
<polyline points="428.0,136.4 428.0,133.4 428.0,130.4 427.9,127.4 427.8,124.4 427.6,121.4 427.3,118.4 426.8,115.4 426.3,112.4 425.9,109.4 425.4,106.4 425.0,103.4 424.6,100.4 424.1,97.4 423.6,94.4 423.0,91.4 422.4,88.4 421.9,85.4 421.3,82.4 420.8,79.4 420.3,76.4 419.9,73.4 419.6,70.4 418.9,67.4 418.1,64.4 417.3,61.4 415.9,58.4 414.0,55.4 412.2,52.4 409.8,49.4 405.4,46.4 399.7,43.4 397.0,42.0" fill="none" stroke="#880090" stroke-width="0.7" stroke-opacity="0.6" stroke-linejoin="round" stroke-linecap="round" />
<polyline points="427.1,143.6 426.9,140.6 426.9,137.6 427.1,134.6 427.4,131.6 427.5,128.6 427.3,125.6 426.6,122.6 425.6,119.6 424.2,116.6 422.8,113.6 421.7,110.6 420.7,107.6 419.9,104.6 419.2,101.6 418.5,98.6 417.4,95.6 415.9,92.6 414.1,89.6 412.1,86.6 410.1,83.6 408.3,80.6 406.2,77.6 404.1,74.6 402.2,71.6 400.4,68.6 398.6,65.6 396.5,62.6 394.1,59.6 391.7,56.6 389.2,53.6 386.8,50.6 384.1,47.6 381.5,44.6 379.9,42.0" fill="none" stroke="#880090" stroke-width="0.7" stroke-opacity="0.6" stroke-linejoin="round" stroke-linecap="round" />
<polyline points="428.7,157.8 428.7,154.8 428.7,151.8 428.6,148.8 428.4,145.8 428.2,142.8 428.1,139.8 427.9,136.8 427.9,133.8 427.8,130.8 427.8,127.8 427.7,124.8 427.6,121.8 427.3,118.8 426.9,115.8 426.4,112.8 426.0,109.8 425.4,106.8 424.8,103.8 424.4,100.8 423.9,97.8 423.4,94.8 422.9,91.8 422.4,88.8 421.9,85.8 421.3,82.8 420.8,79.8 420.3,76.8 419.8,73.8 419.4,70.8 418.7,67.8 417.9,64.8 417.1,61.8 416.0,58.8 414.2,55.8 412.4,52.8 410.4,49.8 405.9,46.8 400.3,43.8 397.0,42.0" fill="none" stroke="#880090" stroke-width="0.7" stroke-opacity="0.6" stroke-linejoin="round" stroke-linecap="round" />
<polyline points="426.8,130.2 426.5,127.2 426.5,124.2 426.7,121.2 426.9,118.2 426.8,115.2 426.5,112.2 425.7,109.2 424.6,106.2 423.3,103.2 422.1,100.2 421.1,97.2 420.3,94.2 419.9,91.2 419.6,88.2 419.3,85.2 418.9,82.2 418.1,79.2 416.7,76.2 415.2,73.2 413.6,70.2 411.9,67.2 410.5,64.2 409.5,61.2 408.3,58.2 407.0,55.2 405.6,52.2 403.4,49.2 399.3,46.2 394.0,43.2 391.6,42.0" fill="none" stroke="#880090" stroke-width="0.7" stroke-opacity="0.6" stroke-linejoin="round" stroke-linecap="round" />
<polyline points="428.2,142.2 427.7,139.2 427.0,136.2 426.3,133.2 425.7,130.2 425.3,127.2 425.1,124.2 425.1,121.2 424.9,118.2 424.3,115.2 423.4,112.2 422.1,109.2 420.4,106.2 418.7,103.2 417.1,100.2 415.6,97.2 414.4,94.2 413.5,91.2 412.7,88.2 411.8,85.2 410.7,82.2 409.1,79.2 406.5,76.2 403.9,73.2 401.2,70.2 399.1,67.2 397.2,64.2 395.7,61.2 394.4,58.2 393.3,55.2 391.9,52.2 390.0,49.2 387.1,46.2 383.6,43.2 382.3,42.0" fill="none" stroke="#880090" stroke-width="0.7" stroke-opacity="0.6" stroke-linejoin="round" stroke-linecap="round" />
<polyline points="429.0,191.0 429.0,188.0 429.0,185.0 429.0,182.0 428.9,179.0 428.9,176.0 428.7,173.0 428.6,170.0 428.4,167.0 428.4,164.0 428.4,161.0 428.5,158.0 428.7,155.0 428.8,152.0 428.8,149.0 428.6,146.0 428.2,143.0 427.8,140.0 427.4,137.0 427.1,134.0 427.0,131.0 427.1,128.0 427.2,125.0 427.3,122.0 427.1,119.0 426.5,116.0 425.8,113.0 424.9,110.0 423.8,107.0 422.9,104.0 422.2,101.0 421.6,98.0 421.2,95.0 420.8,92.0 420.3,89.0 419.7,86.0 418.9,83.0 417.9,80.0 416.6,77.0 415.5,74.0 414.5,71.0 413.6,68.0 412.7,65.0 412.0,62.0 411.0,59.0 409.5,56.0 407.7,53.0 405.8,50.0 401.5,47.0 396.4,44.0 393.3,42.0" fill="none" stroke="#880090" stroke-width="0.7" stroke-opacity="0.6" stroke-linejoin="round" stroke-linecap="round" />
<polyline points="427.3,141.8 427.2,138.8 427.1,135.8 426.9,132.8 426.5,129.8 425.9,126.8 425.1,123.8 424.4,120.8 423.4,117.8 422.3,114.8 421.3,111.8 420.2,108.8 419.0,105.8 417.6,102.8 416.2,99.8 414.5,96.8 412.7,93.8 410.9,90.8 409.2,87.8 407.5,84.8 405.9,81.8 404.0,78.8 401.4,75.8 398.7,72.8 395.9,69.8 393.5,66.8 391.0,63.8 388.5,60.8 386.4,57.8 384.6,54.8 382.8,51.8 381.0,48.8 379.1,45.8 377.3,42.8 376.5,42.0" fill="none" stroke="#880090" stroke-width="0.7" stroke-opacity="0.6" stroke-linejoin="round" stroke-linecap="round" />
<polyline points="428.9,177.1 428.9,174.1 428.9,171.1 428.8,168.1 428.6,165.1 428.3,162.1 428.0,159.1 427.8,156.1 427.8,153.1 428.0,150.1 428.1,147.1 428.3,144.1 428.2,141.1 428.0,138.1 427.4,135.1 426.6,132.1 425.8,129.1 425.0,126.1 424.5,123.1 424.3,120.1 423.8,117.1 423.3,114.1 422.6,111.1 421.4,108.1 419.8,105.1 417.9,102.1 415.9,99.1 413.9,96.1 412.2,93.1 410.8,90.1 409.7,87.1 408.6,84.1 407.4,81.1 405.2,78.1 402.3,75.1 399.1,72.1 395.9,69.1 393.0,66.1 390.3,63.1 387.9,60.1 386.3,57.1 384.9,54.1 383.5,51.1 381.8,48.1 379.6,45.1 377.2,42.1 376.5,42.0" fill="none" stroke="#880090" stroke-width="0.7" stroke-opacity="0.6" stroke-linejoin="round" stroke-linecap="round" />
<polyline points="428.3,153.4 428.4,150.4 428.4,147.4 428.4,144.4 428.4,141.4 428.2,138.4 428.0,135.4 427.6,132.4 427.3,129.4 427.0,126.4 426.8,123.4 426.7,120.4 426.4,117.4 426.1,114.4 425.8,111.4 425.2,108.4 424.4,105.4 423.5,102.4 422.6,99.4 421.8,96.4 421.0,93.4 420.3,90.4 419.9,87.4 419.5,84.4 419.0,81.4 418.3,78.4 417.5,75.4 416.5,72.4 415.4,69.4 414.2,66.4 413.0,63.4 412.0,60.4 410.5,57.4 409.0,54.4 407.5,51.4 404.7,48.4 400.4,45.4 395.0,42.4 393.9,42.0" fill="none" stroke="#880090" stroke-width="0.7" stroke-opacity="0.6" stroke-linejoin="round" stroke-linecap="round" />
<polyline points="427.4,129.1 426.9,126.1 426.3,123.1 425.8,120.1 424.9,117.1 424.2,114.1 423.5,111.1 422.8,108.1 422.0,105.1 421.1,102.1 420.1,99.1 418.9,96.1 417.6,93.1 416.2,90.1 414.9,87.1 413.7,84.1 412.6,81.1 411.2,78.1 409.6,75.1 408.0,72.1 406.3,69.1 404.5,66.1 402.6,63.1 400.6,60.1 398.6,57.1 396.6,54.1 394.8,51.1 392.2,48.1 389.1,45.1 385.5,42.1 385.2,42.0" fill="none" stroke="#880090" stroke-width="0.7" stroke-opacity="0.6" stroke-linejoin="round" stroke-linecap="round" />
<polyline points="428.6,162.9 428.8,159.9 428.9,156.9 428.9,153.9 428.7,150.9 428.2,147.9 427.6,144.9 427.0,141.9 426.8,138.9 426.7,135.9 427.0,132.9 427.3,129.9 427.3,126.9 427.0,123.9 426.3,120.9 425.1,117.9 423.7,114.9 422.3,111.9 421.1,108.9 420.0,105.9 419.2,102.9 418.5,99.9 417.6,96.9 416.5,93.9 415.0,90.9 413.2,87.9 411.2,84.9 409.3,81.9 407.1,78.9 404.7,75.9 402.5,72.9 400.6,69.9 398.9,66.9 397.1,63.9 395.0,60.9 392.7,57.9 390.3,54.9 387.8,51.9 385.1,48.9 382.3,45.9 379.7,42.9 379.6,42.0" fill="none" stroke="#880090" stroke-width="0.7" stroke-opacity="0.6" stroke-linejoin="round" stroke-linecap="round" />
<polyline points="428.5,160.5 428.1,157.5 427.8,154.5 427.6,151.5 427.6,148.5 427.7,145.5 427.9,142.5 428.0,139.5 428.0,136.5 427.7,133.5 427.1,130.5 426.2,127.5 425.3,124.5 424.6,121.5 423.9,118.5 423.4,115.5 423.0,112.5 422.5,109.5 421.7,106.5 420.5,103.5 419.0,100.5 417.3,97.5 415.5,94.5 413.8,91.5 412.4,88.5 411.4,85.5 410.6,82.5 409.7,79.5 408.1,76.5 406.1,73.5 403.9,70.5 401.6,67.5 399.3,64.5 397.0,61.5 395.0,58.5 393.3,55.5 392.0,52.5 390.6,49.5 388.4,46.5 385.5,43.5 383.0,42.0" fill="none" stroke="#880090" stroke-width="0.7" stroke-opacity="0.6" stroke-linejoin="round" stroke-linecap="round" />
<polyline points="428.5,164.1 428.5,161.1 428.5,158.1 428.5,155.1 428.5,152.1 428.5,149.1 428.4,146.1 428.2,143.1 427.9,140.1 427.7,137.1 427.4,134.1 427.2,131.1 427.0,128.1 426.8,125.1 426.6,122.1 426.3,119.1 425.8,116.1 425.1,113.1 424.4,110.1 423.4,107.1 422.4,104.1 421.4,101.1 420.4,98.1 419.5,95.1 418.6,92.1 417.8,89.1 416.9,86.1 416.0,83.1 415.0,80.1 413.4,77.1 411.8,74.1 410.3,71.1 408.7,68.1 407.2,65.1 405.8,62.1 404.3,59.1 402.6,56.1 400.8,53.1 398.9,50.1 395.4,47.1 391.3,44.1 388.2,42.0" fill="none" stroke="#880090" stroke-width="0.7" stroke-opacity="0.6" stroke-linejoin="round" stroke-linecap="round" />
<polyline points="428.5,153.8 428.4,150.8 428.3,147.8 428.1,144.8 428.0,141.8 427.8,138.8 427.7,135.8 427.5,132.8 427.4,129.8 427.1,126.8 426.9,123.8 426.6,120.8 426.2,117.8 425.6,114.8 425.1,111.8 424.5,108.8 423.7,105.8 423.0,102.8 422.3,99.8 421.6,96.8 420.8,93.8 420.1,90.8 419.4,87.8 418.8,84.8 418.1,81.8 417.4,78.8 416.6,75.8 415.8,72.8 414.9,69.8 413.9,66.8 412.9,63.8 411.9,60.8 410.5,57.8 408.9,54.8 407.3,51.8 404.8,48.8 400.7,45.8 395.5,42.8 394.0,42.0" fill="none" stroke="#880090" stroke-width="0.7" stroke-opacity="0.6" stroke-linejoin="round" stroke-linecap="round" />
<polyline points="428.3,159.6 427.9,156.6 427.8,153.6 427.8,150.6 427.8,147.6 428.0,144.6 428.2,141.6 428.2,138.6 427.9,135.6 427.4,132.6 426.6,129.6 425.7,126.6 425.0,123.6 424.6,120.6 424.1,117.6 423.7,114.6 423.3,111.6 422.6,108.6 421.5,105.6 420.1,102.6 418.4,99.6 416.6,96.6 414.8,93.6 413.4,90.6 412.2,87.6 411.4,84.6 410.6,81.6 409.3,78.6 407.3,75.6 405.0,72.6 402.5,69.6 400.0,66.6 397.6,63.6 395.3,60.6 393.5,57.6 392.1,54.6 390.8,51.6 389.1,48.6 386.6,45.6 383.5,42.6 382.0,42.0" fill="none" stroke="#880090" stroke-width="0.7" stroke-opacity="0.6" stroke-linejoin="round" stroke-linecap="round" />
<polyline points="428.3,154.3 428.4,151.3 428.4,148.3 428.4,145.3 428.2,142.3 428.0,139.3 427.6,136.3 427.3,133.3 426.9,130.3 426.6,127.3 426.3,124.3 426.2,121.3 425.9,118.3 425.4,115.3 424.7,112.3 423.9,109.3 422.8,106.3 421.6,103.3 420.5,100.3 419.4,97.3 418.3,94.3 417.4,91.3 416.6,88.3 415.8,85.3 414.9,82.3 413.7,79.3 412.0,76.3 410.2,73.3 408.4,70.3 406.6,67.3 405.0,64.3 403.4,61.3 401.9,58.3 400.3,55.3 398.6,52.3 396.6,49.3 393.2,46.3 389.0,43.3 387.0,42.0" fill="none" stroke="#880090" stroke-width="0.7" stroke-opacity="0.6" stroke-linejoin="round" stroke-linecap="round" />
<polyline points="427.7,141.2 427.7,138.2 427.9,135.2 428.1,132.2 428.3,129.2 428.3,126.2 428.1,123.2 427.7,120.2 427.0,117.2 426.3,114.2 425.8,111.2 425.3,108.2 425.0,105.2 424.8,102.2 424.6,99.2 424.3,96.2 423.8,93.2 423.1,90.2 422.3,87.2 421.5,84.2 420.7,81.2 420.2,78.2 419.8,75.2 419.7,72.2 419.5,69.2 418.9,66.2 418.2,63.2 417.3,60.2 415.3,57.2 413.2,54.2 411.1,51.2 407.6,48.2 402.8,45.2 397.0,42.2 397.0,42.0" fill="none" stroke="#880090" stroke-width="0.7" stroke-opacity="0.6" stroke-linejoin="round" stroke-linecap="round" />
<polyline points="428.4,136.9 428.5,133.9 428.5,130.9 428.2,127.9 427.8,124.9 427.3,121.9 426.8,118.9 426.4,115.9 426.1,112.9 426.0,109.9 425.8,106.9 425.6,103.9 425.2,100.9 424.6,97.9 423.8,94.9 422.9,91.9 422.1,88.9 421.5,85.9 421.0,82.9 420.8,79.9 420.6,76.9 420.5,73.9 420.3,70.9 419.5,67.9 418.5,64.9 417.4,61.9 415.8,58.9 413.8,55.9 412.0,52.9 410.3,49.9 406.1,46.9 400.9,43.9 397.0,42.0" fill="none" stroke="#880090" stroke-width="0.7" stroke-opacity="0.6" stroke-linejoin="round" stroke-linecap="round" />
<polyline points="428.6,163.6 428.6,160.6 428.7,157.6 428.8,154.6 428.8,151.6 428.7,148.6 428.4,145.6 428.1,142.6 427.9,139.6 427.7,136.6 427.6,133.6 427.7,130.6 427.8,127.6 427.9,124.6 427.8,121.6 427.5,118.6 427.0,115.6 426.4,112.6 425.7,109.6 425.1,106.6 424.5,103.6 424.1,100.6 423.8,97.6 423.5,94.6 423.1,91.6 422.6,88.6 422.0,85.6 421.3,82.6 420.6,79.6 420.0,76.6 419.4,73.6 419.1,70.6 418.5,67.6 417.9,64.6 417.3,61.6 416.1,58.6 414.3,55.6 412.4,52.6 410.1,49.6 405.5,46.6 399.7,43.6 397.0,42.0" fill="none" stroke="#880090" stroke-width="0.7" stroke-opacity="0.6" stroke-linejoin="round" stroke-linecap="round" />
<polyline points="428.5,157.1 428.4,154.1 428.3,151.1 428.2,148.1 428.1,145.1 428.1,142.1 428.0,139.1 427.9,136.1 427.8,133.1 427.5,130.1 427.2,127.1 426.9,124.1 426.6,121.1 426.2,118.1 425.8,115.1 425.4,112.1 424.9,109.1 424.3,106.1 423.6,103.1 422.9,100.1 422.1,97.1 421.3,94.1 420.6,91.1 419.9,88.1 419.4,85.1 419.0,82.1 418.5,79.1 417.8,76.1 417.2,73.1 416.5,70.1 415.5,67.1 414.5,64.1 413.5,61.1 412.1,58.1 410.6,55.1 409.1,52.1 406.8,49.1 402.8,46.1 397.5,43.1 395.3,42.0" fill="none" stroke="#880090" stroke-width="0.7" stroke-opacity="0.6" stroke-linejoin="round" stroke-linecap="round" />
<polyline points="429.0,191.0 428.9,188.0 428.9,185.0 428.9,182.0 428.8,179.0 428.8,176.0 428.6,173.0 428.4,170.0 428.2,167.0 428.1,164.0 428.0,161.0 428.1,158.0 428.2,155.0 428.4,152.0 428.3,149.0 428.1,146.0 427.6,143.0 427.0,140.0 426.4,137.0 425.9,134.0 425.6,131.0 425.3,128.0 425.0,125.0 424.8,122.0 424.3,119.0 423.1,116.0 421.8,113.0 420.3,110.0 418.5,107.0 416.7,104.0 415.1,101.0 413.6,98.0 412.3,95.0 411.0,92.0 409.7,89.0 408.2,86.0 406.5,83.0 404.6,80.0 401.4,77.0 398.2,74.0 395.2,71.0 392.7,68.0 390.6,65.0 388.7,62.0 387.0,59.0 385.6,56.0 383.9,53.0 382.1,50.0 379.9,47.0 377.6,44.0 376.5,42.0" fill="none" stroke="#880090" stroke-width="0.7" stroke-opacity="0.6" stroke-linejoin="round" stroke-linecap="round" />
<polyline points="428.4,161.6 428.3,158.6 428.3,155.6 428.2,152.6 428.2,149.6 428.0,146.6 427.8,143.6 427.5,140.6 427.3,137.6 427.0,134.6 426.8,131.6 426.4,128.6 426.0,125.6 425.6,122.6 425.2,119.6 424.4,116.6 423.5,113.6 422.7,110.6 421.6,107.6 420.5,104.6 419.4,101.6 418.2,98.6 417.1,95.6 415.9,92.6 414.8,89.6 413.8,86.6 412.7,83.6 411.7,80.6 410.0,77.6 408.3,74.6 406.5,71.6 404.9,68.6 403.3,65.6 401.8,62.6 400.3,59.6 398.8,56.6 397.3,53.6 395.7,50.6 393.0,47.6 389.6,44.6 386.3,42.0" fill="none" stroke="#880090" stroke-width="0.7" stroke-opacity="0.6" stroke-linejoin="round" stroke-linecap="round" />
<polyline points="428.6,175.7 428.5,172.7 428.4,169.7 428.4,166.7 428.6,163.7 428.8,160.7 428.9,157.7 429.0,154.7 428.8,151.7 428.5,148.7 428.0,145.7 427.5,142.7 427.2,139.7 427.1,136.7 427.3,133.7 427.7,130.7 427.9,127.7 427.9,124.7 427.7,121.7 427.0,118.7 426.0,115.7 425.1,112.7 424.3,109.7 423.7,106.7 423.3,103.7 423.2,100.7 423.1,97.7 422.8,94.7 422.3,91.7 421.5,88.7 420.6,85.7 419.6,82.7 418.8,79.7 418.1,76.7 417.8,73.7 417.7,70.7 417.5,67.7 417.2,64.7 416.7,61.7 415.5,58.7 413.6,55.7 411.6,52.7 409.4,49.7 404.9,46.7 399.5,43.7 397.0,42.0" fill="none" stroke="#880090" stroke-width="0.7" stroke-opacity="0.6" stroke-linejoin="round" stroke-linecap="round" />
<polyline points="428.7,169.6 428.6,166.6 428.6,163.6 428.6,160.6 428.6,157.6 428.6,154.6 428.6,151.6 428.5,148.6 428.3,145.6 428.1,142.6 428.0,139.6 427.8,136.6 427.7,133.6 427.6,130.6 427.5,127.6 427.4,124.6 427.2,121.6 426.9,118.6 426.5,115.6 426.0,112.6 425.5,109.6 424.8,106.6 424.2,103.6 423.7,100.6 423.1,97.6 422.6,94.6 422.0,91.6 421.5,88.6 421.1,85.6 420.5,82.6 420.0,79.6 419.5,76.6 418.9,73.6 418.5,70.6 417.7,67.6 417.0,64.6 416.3,61.6 415.1,58.6 413.5,55.6 411.9,52.6 409.8,49.6 405.4,46.6 399.9,43.6 396.9,42.0" fill="none" stroke="#880090" stroke-width="0.7" stroke-opacity="0.6" stroke-linejoin="round" stroke-linecap="round" />
<polyline points="427.0,129.9 426.5,126.9 425.7,123.9 424.9,120.9 423.6,117.9 422.4,114.9 421.3,111.9 420.4,108.9 419.4,105.9 418.4,102.9 417.3,99.9 415.9,96.9 414.2,93.9 412.4,90.9 410.6,87.9 408.8,84.9 407.2,81.9 405.4,78.9 403.2,75.9 401.0,72.9 398.8,69.9 396.8,66.9 394.6,63.9 392.2,60.9 390.0,57.9 387.9,54.9 386.0,51.9 384.1,48.9 381.9,45.9 379.8,42.9 379.1,42.0" fill="none" stroke="#880090" stroke-width="0.7" stroke-opacity="0.6" stroke-linejoin="round" stroke-linecap="round" />
<polyline points="372.6,42.0 374.8,46.0 378.6,50.0 380.1,54.0 383.1,58.0 385.3,62.0 390.1,66.0 392.7,70.0 397.2,74.0 401.1,78.0 404.6,82.0 407.1,86.0 409.6,90.0 412.1,94.0 413.3,98.0" fill="none" stroke="#880090" stroke-width="0.5" stroke-opacity="0.5" stroke-linejoin="round" stroke-linecap="round" />
<polyline points="367.0,42.0 370.5,46.0 373.7,50.0 376.1,54.0 379.4,58.0 383.2,62.0 387.0,66.0 390.0,70.0 395.5,74.0 398.7,78.0 403.5,82.0 406.6,86.0 409.4,90.0 411.7,94.0 413.3,98.0" fill="none" stroke="#880090" stroke-width="0.5" stroke-opacity="0.5" stroke-linejoin="round" stroke-linecap="round" />
<polyline points="371.2,42.0 374.2,46.0 376.5,50.0 380.0,54.0 382.5,58.0 385.0,62.0 388.5,66.0 392.6,70.0 396.2,74.0 400.0,78.0 403.9,82.0 406.7,86.0 409.1,90.0 412.4,94.0 413.8,98.0" fill="none" stroke="#880090" stroke-width="0.5" stroke-opacity="0.5" stroke-linejoin="round" stroke-linecap="round" />
<polyline points="369.7,42.0 372.9,46.0 376.5,50.0 379.0,54.0 381.5,58.0 384.9,62.0 388.4,66.0 392.2,70.0 396.0,74.0 399.7,78.0 404.6,82.0 407.0,86.0 409.7,90.0 411.7,94.0 413.9,98.0" fill="none" stroke="#880090" stroke-width="0.5" stroke-opacity="0.5" stroke-linejoin="round" stroke-linecap="round" />
<polyline points="366.6,42.0 370.0,46.0 373.4,50.0 376.8,54.0 379.0,58.0 383.1,62.0 386.8,66.0 390.5,70.0 395.4,74.0 399.6,78.0 403.3,82.0 406.5,86.0 409.3,90.0 412.7,94.0 413.7,98.0" fill="none" stroke="#880090" stroke-width="0.5" stroke-opacity="0.5" stroke-linejoin="round" stroke-linecap="round" />
<polyline points="372.6,42.0 375.3,46.0 379.1,50.0 380.7,54.0 383.8,58.0 386.9,62.0 389.4,66.0 393.0,70.0 397.1,74.0 401.9,78.0 404.6,82.0 406.3,86.0 409.9,90.0 412.1,94.0 413.1,98.0" fill="none" stroke="#880090" stroke-width="0.5" stroke-opacity="0.5" stroke-linejoin="round" stroke-linecap="round" />
<polyline points="370.8,42.0 373.2,46.0 376.4,50.0 378.8,54.0 381.7,58.0 384.4,62.0 389.6,66.0 391.6,70.0 396.3,74.0 400.9,78.0 404.0,82.0 407.2,86.0 409.4,90.0 412.3,94.0 414.1,98.0" fill="none" stroke="#880090" stroke-width="0.5" stroke-opacity="0.5" stroke-linejoin="round" stroke-linecap="round" />
<polyline points="369.6,42.0 372.9,46.0 375.8,50.0 379.1,54.0 380.7,58.0 384.4,62.0 388.0,66.0 392.0,70.0 395.0,74.0 400.1,78.0 403.8,82.0 406.8,86.0 410.4,90.0 411.8,94.0 413.9,98.0" fill="none" stroke="#880090" stroke-width="0.5" stroke-opacity="0.5" stroke-linejoin="round" stroke-linecap="round" />
<polyline points="371.6,42.0 374.9,46.0 377.7,50.0 379.9,54.0 382.8,58.0 385.6,62.0 388.1,66.0 392.4,70.0 396.7,74.0 400.8,78.0 404.8,82.0 407.3,86.0 409.2,90.0 412.0,94.0 413.4,98.0" fill="none" stroke="#880090" stroke-width="0.5" stroke-opacity="0.5" stroke-linejoin="round" stroke-linecap="round" />
<polyline points="364.9,42.0 368.4,46.0 372.4,50.0 374.9,54.0 378.6,58.0 381.7,62.0 385.4,66.0 389.0,70.0 394.5,74.0 399.9,78.0 403.2,82.0 405.9,86.0 409.7,90.0 411.2,94.0 413.4,98.0" fill="none" stroke="#880090" stroke-width="0.5" stroke-opacity="0.5" stroke-linejoin="round" stroke-linecap="round" />
<polyline points="372.9,42.0 375.8,46.0 378.4,50.0 381.4,54.0 383.9,58.0 386.5,62.0 389.2,66.0 393.2,70.0 397.5,74.0 401.0,78.0 403.9,82.0 406.9,86.0 410.4,90.0 411.3,94.0 414.2,98.0" fill="none" stroke="#880090" stroke-width="0.5" stroke-opacity="0.5" stroke-linejoin="round" stroke-linecap="round" />
<polyline points="372.0,42.0 375.1,46.0 377.8,50.0 379.8,54.0 383.1,58.0 385.5,62.0 389.2,66.0 392.9,70.0 396.6,74.0 400.3,78.0 404.1,82.0 407.2,86.0 409.8,90.0 411.2,94.0 413.9,98.0" fill="none" stroke="#880090" stroke-width="0.5" stroke-opacity="0.5" stroke-linejoin="round" stroke-linecap="round" />
<polyline points="329.5,41.9 402.3,41.9" fill="none" stroke="#b060c0" stroke-width="1.0" stroke-opacity="1" stroke-linejoin="round" stroke-linecap="round" />
<polyline points="429.1,191.0 429.1,187.0 429.2,183.0 429.2,179.0 429.3,175.0 429.3,171.0 429.4,167.0 429.5,163.0 429.5,159.0 429.6,155.0 429.6,151.0 429.7,147.0 429.8,143.0 430.0,139.0 430.1,135.0 430.2,131.0 430.3,127.0 430.4,123.0 430.6,119.0 430.6,115.0 430.7,111.0 430.8,107.0 430.8,103.0 430.9,99.0 431.0,95.0 431.2,91.0 431.6,87.0 431.9,83.0 432.4,79.0 433.2,75.0 434.0,71.0 434.8,67.0 436.2,63.0 438.2,59.0 440.2,55.0 445.0,51.0 451.4,47.0 447.9,46.4 447.9,85.0 456.1,81.3 464.4,75.7 472.7,69.0 480.9,65.6 489.2,62.9 497.5,55.5 505.7,50.7 514.0,46.1" fill="none" stroke="#880090" stroke-width="0.6" stroke-opacity="0.6" stroke-linejoin="round" stroke-linecap="round" />
<polyline points="429.3,164.0 429.4,160.0 429.4,156.0 429.5,152.0 429.6,148.0 429.7,144.0 429.8,140.0 429.9,136.0 430.0,132.0 430.1,128.0 430.2,124.0 430.3,120.0 430.1,116.0 430.2,112.0 430.2,108.0 430.3,104.0 430.4,100.0 430.4,96.0 430.6,92.0 431.0,88.0 431.3,84.0 431.7,80.0 432.5,76.0 433.3,72.0 434.1,68.0 435.2,64.0 437.2,60.0 439.2,56.0 443.3,52.0 449.2,48.0 451.4,48.6 451.0,59.3 459.2,58.3 467.0,57.5 474.9,58.6 482.7,56.4 490.5,53.1 498.3,54.3 506.2,54.7 514.0,52.9" fill="none" stroke="#880090" stroke-width="0.6" stroke-opacity="0.6" stroke-linejoin="round" stroke-linecap="round" />
<polyline points="429.8,152.0 429.9,148.0 430.0,144.0 430.1,140.0 430.2,136.0 430.3,132.0 430.4,128.0 430.5,124.0 430.6,120.0 431.2,116.0 431.2,112.0 431.3,108.0 431.3,104.0 431.4,100.0 431.5,96.0 431.7,92.0 432.0,88.0 432.4,84.0 432.7,80.0 433.5,76.0 434.3,72.0 435.1,68.0 436.2,64.0 438.2,60.0 440.2,56.0 444.3,52.0 450.2,48.0 449.2,48.8 450.1,57.0 457.3,56.5 465.4,54.8 473.5,52.6 481.6,49.3 489.7,47.3 497.8,47.3 505.9,45.4 514.0,43.0" fill="none" stroke="#880090" stroke-width="0.6" stroke-opacity="0.6" stroke-linejoin="round" stroke-linecap="round" />
<polyline points="429.2,158.0 429.3,154.0 429.3,150.0 429.4,146.0 429.6,142.0 429.7,138.0 429.8,134.0 429.9,130.0 430.0,126.0 430.1,122.0 429.5,118.0 429.6,114.0 429.6,110.0 429.7,106.0 429.8,102.0 429.8,98.0 429.9,94.0 430.2,90.0 430.6,86.0 430.9,82.0 431.5,78.0 432.3,74.0 433.1,70.0 433.9,66.0 435.6,62.0 437.6,58.0 440.3,54.0 445.1,50.0 452.1,46.0 449.6,46.2 450.1,78.5 457.6,75.0 465.7,72.7 473.7,69.8 481.8,67.4 489.8,64.3 497.9,60.4 505.9,58.5 514.0,55.2" fill="none" stroke="#880090" stroke-width="0.6" stroke-opacity="0.6" stroke-linejoin="round" stroke-linecap="round" />
<polyline points="429.7,154.0 429.8,150.0 429.9,146.0 430.0,142.0 430.1,138.0 430.2,134.0 430.3,130.0 430.4,126.0 430.5,122.0 431.0,118.0 431.0,114.0 431.1,110.0 431.2,106.0 431.2,102.0 431.3,98.0 431.4,94.0 431.7,90.0 432.0,86.0 432.4,82.0 433.0,78.0 433.8,74.0 434.6,70.0 435.4,66.0 437.1,62.0 439.1,58.0 441.8,54.0 446.6,50.0 453.6,46.0 448.7,45.6 449.1,76.3 456.9,73.6 465.1,70.3 473.2,66.3 481.4,63.2 489.5,61.3 497.7,54.8 505.8,53.2 514.0,49.1" fill="none" stroke="#880090" stroke-width="0.6" stroke-opacity="0.6" stroke-linejoin="round" stroke-linecap="round" />
<polyline points="429.4,160.0 429.4,156.0 429.5,152.0 429.6,148.0 429.7,144.0 429.8,140.0 429.9,136.0 430.0,132.0 430.1,128.0 430.2,124.0 430.3,120.0 430.1,116.0 430.2,112.0 430.3,108.0 430.3,104.0 430.4,100.0 430.5,96.0 430.7,92.0 431.0,88.0 431.4,84.0 431.7,80.0 432.5,76.0 433.3,72.0 434.1,68.0 435.2,64.0 437.2,60.0 439.2,56.0 443.3,52.0 449.2,48.0 455.4,46.2 455.6,63.0 462.7,61.8 470.0,62.3 477.3,58.3 484.7,56.9 492.0,59.0 499.3,57.8 506.7,55.4 514.0,55.0" fill="none" stroke="#880090" stroke-width="0.6" stroke-opacity="0.6" stroke-linejoin="round" stroke-linecap="round" />
<polyline points="430.0,127.0 430.1,123.0 429.6,119.0 429.7,115.0 429.7,111.0 429.8,107.0 429.9,103.0 429.9,99.0 430.0,95.0 430.3,91.0 430.6,87.0 431.0,83.0 431.4,79.0 432.2,75.0 433.0,71.0 433.8,67.0 435.2,63.0 437.2,59.0 439.2,55.0 444.0,51.0 450.5,47.0 456.7,46.5 461.1,44.7 465.5,45.9 469.9,46.9 474.3,45.2 478.8,45.6 483.2,46.5 487.6,45.3 492.0,42.5 496.4,45.3 500.8,44.7 505.2,43.9 509.6,44.4 514.0,45.4" fill="none" stroke="#880090" stroke-width="0.6" stroke-opacity="0.6" stroke-linejoin="round" stroke-linecap="round" />
<polyline points="430.3,129.0 430.4,125.0 430.5,121.0 430.8,117.0 430.8,113.0 430.9,109.0 430.9,105.0 431.0,101.0 431.1,97.0 431.2,93.0 431.6,89.0 431.9,85.0 432.2,81.0 432.9,77.0 433.7,73.0 434.5,69.0 435.3,65.0 437.3,61.0 439.3,57.0 442.7,53.0 448.1,49.0 451.2,45.9 451.2,72.5 459.0,66.9 466.9,63.2 474.7,61.8 482.6,59.5 490.4,54.6 498.3,52.8 506.1,48.9 514.0,45.3" fill="none" stroke="#880090" stroke-width="0.6" stroke-opacity="0.6" stroke-linejoin="round" stroke-linecap="round" />
<polyline points="429.1,191.0 429.2,187.0 429.3,183.0 429.3,179.0 429.4,175.0 429.4,171.0 429.5,167.0 429.6,163.0 429.6,159.0 429.7,155.0 429.7,151.0 429.8,147.0 429.9,143.0 430.1,139.0 430.2,135.0 430.3,131.0 430.4,127.0 430.5,123.0 430.9,119.0 431.0,115.0 431.0,111.0 431.1,107.0 431.1,103.0 431.2,99.0 431.3,95.0 431.5,91.0 431.9,87.0 432.2,83.0 432.7,79.0 433.5,75.0 434.3,71.0 435.1,67.0 436.5,63.0 438.5,59.0 440.5,55.0 445.3,51.0 451.7,47.0 456.9,47.2 457.5,63.4 464.0,61.8 471.2,61.8 478.3,58.3 485.4,59.3 492.6,57.5 499.7,58.6 506.9,57.4 514.0,55.2" fill="none" stroke="#880090" stroke-width="0.6" stroke-opacity="0.6" stroke-linejoin="round" stroke-linecap="round" />
<polyline points="430.3,127.0 430.4,123.0 430.7,119.0 430.7,115.0 430.8,111.0 430.9,107.0 430.9,103.0 431.0,99.0 431.1,95.0 431.3,91.0 431.7,87.0 432.0,83.0 432.5,79.0 433.3,75.0 434.1,71.0 434.9,67.0 436.3,63.0 438.3,59.0 440.3,55.0 445.1,51.0 451.5,47.0 456.4,46.9 457.0,83.4 463.6,78.1 470.8,74.6 478.0,72.3 485.2,66.4 492.4,63.4 499.6,58.1 506.8,52.4 514.0,49.9" fill="none" stroke="#880090" stroke-width="0.6" stroke-opacity="0.6" stroke-linejoin="round" stroke-linecap="round" />
<polyline points="429.6,157.0 429.6,153.0 429.7,149.0 429.8,145.0 429.9,141.0 430.1,137.0 430.2,133.0 430.3,129.0 430.4,125.0 430.5,121.0 430.7,117.0 430.8,113.0 430.9,109.0 430.9,105.0 431.0,101.0 431.1,97.0 431.2,93.0 431.5,89.0 431.9,85.0 432.2,81.0 432.9,77.0 433.7,73.0 434.5,69.0 435.3,65.0 437.3,61.0 439.3,57.0 442.7,53.0 448.1,49.0 448.0,49.0 447.7,60.2 456.3,57.3 464.5,56.0 472.8,56.7 481.0,55.8 489.3,54.1 497.5,52.5 505.8,50.2 514.0,49.7" fill="none" stroke="#880090" stroke-width="0.6" stroke-opacity="0.6" stroke-linejoin="round" stroke-linecap="round" />
<polyline points="429.7,159.0 429.8,155.0 429.9,151.0 430.0,147.0 430.1,143.0 430.2,139.0 430.3,135.0 430.4,131.0 430.5,127.0 430.6,123.0 431.3,119.0 431.4,115.0 431.4,111.0 431.5,107.0 431.6,103.0 431.6,99.0 431.7,95.0 432.0,91.0 432.3,87.0 432.6,83.0 433.1,79.0 433.9,75.0 434.7,71.0 435.5,67.0 436.9,63.0 438.9,59.0 440.9,55.0 445.7,51.0 452.2,47.0 450.4,47.4 455.3,47.5 460.2,48.3 465.0,44.4 469.9,45.6 474.8,46.4 479.7,45.4 484.6,44.2 489.5,43.2 494.4,44.3 499.3,44.0 504.2,42.9 509.1,41.6 514.0,40.7" fill="none" stroke="#880090" stroke-width="0.6" stroke-opacity="0.6" stroke-linejoin="round" stroke-linecap="round" />
<polyline points="429.9,139.0 430.0,135.0 430.1,131.0 430.2,127.0 430.3,123.0 430.4,119.0 430.5,115.0 430.5,111.0 430.6,107.0 430.7,103.0 430.7,99.0 430.8,95.0 431.1,91.0 431.4,87.0 431.7,83.0 432.2,79.0 433.0,75.0 433.8,71.0 434.6,67.0 436.0,63.0 438.0,59.0 440.0,55.0 444.8,51.0 451.2,47.0 455.5,47.6 456.4,81.0 462.8,76.7 470.1,72.4 477.5,67.2 484.8,63.9 492.1,58.7 499.4,56.0 506.7,51.0 514.0,47.4" fill="none" stroke="#880090" stroke-width="0.6" stroke-opacity="0.6" stroke-linejoin="round" stroke-linecap="round" />
<polyline points="429.5,159.0 429.5,155.0 429.6,151.0 429.7,147.0 429.8,143.0 429.9,139.0 430.0,135.0 430.1,131.0 430.2,127.0 430.3,123.0 430.4,119.0 430.5,115.0 430.5,111.0 430.6,107.0 430.7,103.0 430.7,99.0 430.8,95.0 431.1,91.0 431.4,87.0 431.7,83.0 432.2,79.0 433.0,75.0 433.8,71.0 434.6,67.0 436.0,63.0 438.0,59.0 440.0,55.0 444.8,51.0 451.3,47.0 455.4,45.2 455.1,69.8 462.7,68.7 470.0,63.5 477.4,60.9 484.7,59.6 492.0,54.1 499.3,50.9 506.7,48.2 514.0,45.1" fill="none" stroke="#880090" stroke-width="0.6" stroke-opacity="0.6" stroke-linejoin="round" stroke-linecap="round" />
<polyline points="429.6,151.0 429.7,147.0 429.8,143.0 429.9,139.0 430.0,135.0 430.1,131.0 430.2,127.0 430.3,123.0 430.4,119.0 430.4,115.0 430.5,111.0 430.6,107.0 430.6,103.0 430.7,99.0 430.8,95.0 431.0,91.0 431.4,87.0 431.7,83.0 432.2,79.0 433.0,75.0 433.8,71.0 434.6,67.0 436.0,63.0 438.0,59.0 440.0,55.0 444.8,51.0 451.2,47.0 454.4,47.0 455.4,64.5 461.9,62.6 469.3,59.0 476.8,57.3 484.2,54.7 491.7,54.6 499.1,52.7 506.6,50.2 514.0,48.2" fill="none" stroke="#880090" stroke-width="0.6" stroke-opacity="0.6" stroke-linejoin="round" stroke-linecap="round" />
<polyline points="428.9,191.0 429.0,187.0 429.0,183.0 429.1,179.0 429.1,175.0 429.2,171.0 429.3,167.0 429.3,163.0 429.4,159.0 429.4,155.0 429.5,151.0 429.6,147.0 429.7,143.0 429.8,139.0 429.9,135.0 430.0,131.0 430.2,127.0 430.2,123.0 430.1,119.0 430.2,115.0 430.2,111.0 430.3,107.0 430.4,103.0 430.4,99.0 430.5,95.0 430.8,91.0 431.1,87.0 431.5,83.0 431.9,79.0 432.7,75.0 433.5,71.0 434.3,67.0 435.7,63.0 437.7,59.0 439.7,55.0 444.5,51.0 451.0,47.0 447.1,48.1 447.5,69.2 455.5,66.0 463.9,65.4 472.2,65.0 480.6,61.6 488.9,59.5 497.3,56.0 505.6,56.1 514.0,52.2" fill="none" stroke="#880090" stroke-width="0.6" stroke-opacity="0.6" stroke-linejoin="round" stroke-linecap="round" />
<polyline points="430.2,125.0 430.3,121.0 430.2,117.0 430.2,113.0 430.3,109.0 430.4,105.0 430.4,101.0 430.5,97.0 430.6,93.0 431.0,89.0 431.3,85.0 431.7,81.0 432.4,77.0 433.2,73.0 434.0,69.0 434.8,65.0 436.8,61.0 438.8,57.0 442.2,53.0 447.5,49.0 455.8,49.0 456.0,57.0 463.1,53.5 470.4,53.6 477.7,52.6 484.9,50.7 492.2,49.2 499.5,46.7 506.7,46.3 514.0,44.2" fill="none" stroke="#880090" stroke-width="0.6" stroke-opacity="0.6" stroke-linejoin="round" stroke-linecap="round" />
<polyline points="429.2,167.0 429.2,163.0 429.3,159.0 429.3,155.0 429.4,151.0 429.5,147.0 429.6,143.0 429.7,139.0 429.8,135.0 430.0,131.0 430.1,127.0 430.2,123.0 429.8,119.0 429.9,115.0 429.9,111.0 430.0,107.0 430.1,103.0 430.1,99.0 430.2,95.0 430.5,91.0 430.8,87.0 431.2,83.0 431.6,79.0 432.4,75.0 433.2,71.0 434.0,67.0 435.4,63.0 437.4,59.0 439.4,55.0 444.2,51.0 450.7,47.0 455.9,47.8 456.3,67.5 463.2,66.2 470.5,62.9 477.7,60.5 485.0,56.4 492.2,56.5 499.5,51.9 506.7,50.9 514.0,46.3" fill="none" stroke="#880090" stroke-width="0.6" stroke-opacity="0.6" stroke-linejoin="round" stroke-linecap="round" />
<polyline points="429.8,154.0 429.9,150.0 430.0,146.0 430.1,142.0 430.2,138.0 430.3,134.0 430.4,130.0 430.5,126.0 430.6,122.0 431.3,118.0 431.4,114.0 431.5,110.0 431.5,106.0 431.6,102.0 431.7,98.0 431.7,94.0 432.1,90.0 432.4,86.0 432.8,82.0 433.3,78.0 434.1,74.0 434.9,70.0 435.7,66.0 437.4,62.0 439.4,58.0 442.1,54.0 446.9,50.0 453.9,46.0 453.6,48.5 458.2,47.1 462.9,47.9 467.5,47.9 472.2,46.5 476.8,47.7 481.5,45.6 486.1,44.3 490.8,42.5 495.4,43.6 500.1,43.2 504.7,43.4 509.4,41.7 514.0,41.4" fill="none" stroke="#880090" stroke-width="0.6" stroke-opacity="0.6" stroke-linejoin="round" stroke-linecap="round" />
<polyline points="429.1,191.0 429.2,187.0 429.2,183.0 429.3,179.0 429.3,175.0 429.4,171.0 429.4,167.0 429.5,163.0 429.6,159.0 429.6,155.0 429.7,151.0 429.8,147.0 429.9,143.0 430.0,139.0 430.1,135.0 430.2,131.0 430.3,127.0 430.4,123.0 430.7,119.0 430.8,115.0 430.8,111.0 430.9,107.0 431.0,103.0 431.0,99.0 431.1,95.0 431.4,91.0 431.7,87.0 432.0,83.0 432.5,79.0 433.3,75.0 434.1,71.0 434.9,67.0 436.3,63.0 438.3,59.0 440.3,55.0 445.1,51.0 451.6,47.0 448.5,46.7 449.1,55.2 456.7,55.9 464.9,55.7 473.1,54.5 481.2,55.7 489.4,55.2 497.6,55.5 505.8,55.5 514.0,56.7" fill="none" stroke="#880090" stroke-width="0.6" stroke-opacity="0.6" stroke-linejoin="round" stroke-linecap="round" />
<polyline points="429.8,146.0 429.9,142.0 430.0,138.0 430.1,134.0 430.2,130.0 430.4,126.0 430.4,122.0 430.7,118.0 430.8,114.0 430.8,110.0 430.9,106.0 431.0,102.0 431.0,98.0 431.1,94.0 431.4,90.0 431.8,86.0 432.1,82.0 432.7,78.0 433.5,74.0 434.3,70.0 435.1,66.0 436.8,62.0 438.8,58.0 441.5,54.0 446.3,50.0 453.3,46.0 455.0,46.8 459.6,45.8 464.1,46.0 468.6,44.8 473.2,46.0 477.7,45.5 482.2,44.2 486.8,44.0 491.3,46.2 495.9,45.1 500.4,44.2 504.9,43.6 509.5,44.5 514.0,42.2" fill="none" stroke="#880090" stroke-width="0.6" stroke-opacity="0.6" stroke-linejoin="round" stroke-linecap="round" />
<polyline points="429.8,143.0 429.9,139.0 430.0,135.0 430.1,131.0 430.2,127.0 430.3,123.0 430.2,119.0 430.3,115.0 430.4,111.0 430.4,107.0 430.5,103.0 430.6,99.0 430.6,95.0 430.9,91.0 431.3,87.0 431.6,83.0 432.1,79.0 432.9,75.0 433.7,71.0 434.5,67.0 435.9,63.0 437.9,59.0 439.9,55.0 444.7,51.0 451.1,47.0 450.2,48.4 455.1,47.7 460.0,46.9 464.9,46.4 469.8,46.3 474.7,44.2 479.6,43.4 484.6,44.5 489.5,44.0 494.4,42.5 499.3,43.1 504.2,42.0 509.1,42.3 514.0,41.4" fill="none" stroke="#880090" stroke-width="0.6" stroke-opacity="0.6" stroke-linejoin="round" stroke-linecap="round" />
<polyline points="429.2,191.0 429.3,187.0 429.3,183.0 429.4,179.0 429.4,175.0 429.5,171.0 429.5,167.0 429.6,163.0 429.7,159.0 429.7,155.0 429.8,151.0 429.9,147.0 430.0,143.0 430.1,139.0 430.2,135.0 430.3,131.0 430.4,127.0 430.5,123.0 431.0,119.0 431.1,115.0 431.2,111.0 431.2,107.0 431.3,103.0 431.4,99.0 431.4,95.0 431.7,91.0 432.0,87.0 432.4,83.0 432.8,79.0 433.6,75.0 434.4,71.0 435.2,67.0 436.6,63.0 438.6,59.0 440.6,55.0 445.4,51.0 451.9,47.0 453.7,46.0 453.8,57.8 461.3,57.4 468.8,57.6 476.3,55.4 483.9,58.4 491.4,56.9 498.9,56.3 506.5,55.8 514.0,56.6" fill="none" stroke="#880090" stroke-width="0.6" stroke-opacity="0.6" stroke-linejoin="round" stroke-linecap="round" />
<polyline points="429.8,139.0 429.9,135.0 430.1,131.0 430.2,127.0 430.3,123.0 430.1,119.0 430.2,115.0 430.3,111.0 430.3,107.0 430.4,103.0 430.5,99.0 430.5,95.0 430.8,91.0 431.1,87.0 431.5,83.0 431.9,79.0 432.7,75.0 433.5,71.0 434.3,67.0 435.7,63.0 437.7,59.0 439.7,55.0 444.5,51.0 451.0,47.0 453.9,46.8 458.5,46.5 463.1,46.0 467.7,46.3 472.4,44.7 477.0,46.5 481.6,43.0 486.2,43.5 490.9,40.9 495.5,42.5 500.1,41.0 504.7,41.1 509.4,40.3 514.0,39.4" fill="none" stroke="#880090" stroke-width="0.6" stroke-opacity="0.6" stroke-linejoin="round" stroke-linecap="round" />
<polyline points="429.6,144.0 429.7,140.0 429.8,136.0 429.9,132.0 430.1,128.0 430.2,124.0 430.2,120.0 429.9,116.0 430.0,112.0 430.0,108.0 430.1,104.0 430.2,100.0 430.2,96.0 430.4,92.0 430.8,88.0 431.1,84.0 431.5,80.0 432.3,76.0 433.1,72.0 433.9,68.0 435.0,64.0 437.0,60.0 439.0,56.0 443.1,52.0 449.0,48.0 455.8,46.2 456.5,73.7 463.1,70.7 470.3,65.1 477.6,63.6 484.9,60.0 492.2,56.1 499.4,52.5 506.7,46.7 514.0,45.7" fill="none" stroke="#880090" stroke-width="0.6" stroke-opacity="0.6" stroke-linejoin="round" stroke-linecap="round" />
<polyline points="430.0,137.0 430.1,133.0 430.2,129.0 430.3,125.0 430.4,121.0 430.5,117.0 430.6,113.0 430.7,109.0 430.7,105.0 430.8,101.0 430.9,97.0 431.0,93.0 431.3,89.0 431.7,85.0 432.0,81.0 432.7,77.0 433.5,73.0 434.3,69.0 435.1,65.0 437.1,61.0 439.1,57.0 442.5,53.0 447.9,49.0 453.6,45.1 453.7,60.0 461.1,57.1 468.7,57.9 476.2,57.8 483.8,54.8 491.3,55.4 498.9,53.5 506.4,52.1 514.0,52.2" fill="none" stroke="#880090" stroke-width="0.6" stroke-opacity="0.6" stroke-linejoin="round" stroke-linecap="round" />
<polyline points="429.8,141.0 429.9,137.0 430.0,133.0 430.1,129.0 430.2,125.0 430.3,121.0 430.2,117.0 430.3,113.0 430.4,109.0 430.4,105.0 430.5,101.0 430.5,97.0 430.7,93.0 431.0,89.0 431.4,85.0 431.7,81.0 432.4,77.0 433.2,73.0 434.0,69.0 434.8,65.0 436.8,61.0 438.8,57.0 442.2,53.0 447.5,49.0 454.8,48.8 459.4,47.9 463.9,50.0 468.5,44.2 473.0,47.9 477.6,47.4 482.1,45.4 486.7,43.8 491.2,44.4 495.8,44.7 500.3,41.3 504.9,44.3 509.4,41.7 514.0,42.4" fill="none" stroke="#880090" stroke-width="0.6" stroke-opacity="0.6" stroke-linejoin="round" stroke-linecap="round" />
<polyline points="429.6,145.0 429.7,141.0 429.8,137.0 429.9,133.0 430.0,129.0 430.2,125.0 430.2,121.0 430.0,117.0 430.0,113.0 430.1,109.0 430.2,105.0 430.2,101.0 430.3,97.0 430.4,93.0 430.8,89.0 431.1,85.0 431.4,81.0 432.1,77.0 432.9,73.0 433.7,69.0 434.5,65.0 436.5,61.0 438.5,57.0 441.9,53.0 447.3,49.0 449.9,45.1 454.8,44.2 459.7,44.8 464.7,45.9 469.6,43.3 474.5,43.6 479.5,45.6 484.4,42.8 489.3,43.4 494.3,44.5 499.2,42.8 504.1,42.7 509.1,43.3 514.0,42.7" fill="none" stroke="#880090" stroke-width="0.6" stroke-opacity="0.6" stroke-linejoin="round" stroke-linecap="round" />
<polyline points="430.1,127.0 430.2,123.0 429.9,119.0 430.0,115.0 430.0,111.0 430.1,107.0 430.2,103.0 430.2,99.0 430.3,95.0 430.6,91.0 430.9,87.0 431.3,83.0 431.7,79.0 432.5,75.0 433.3,71.0 434.1,67.0 435.5,63.0 437.5,59.0 439.5,55.0 444.3,51.0 450.8,47.0 449.2,49.0 454.2,48.4 459.2,47.5 464.2,47.3 469.2,47.1 474.1,46.5 479.1,46.4 484.1,44.7 489.1,44.2 494.1,44.0 499.1,45.8 504.0,44.8 509.0,41.7 514.0,38.8" fill="none" stroke="#880090" stroke-width="0.6" stroke-opacity="0.6" stroke-linejoin="round" stroke-linecap="round" />
<polyline points="430.3,132.0 430.4,128.0 430.5,124.0 430.5,120.0 431.0,116.0 431.0,112.0 431.1,108.0 431.2,104.0 431.2,100.0 431.3,96.0 431.5,92.0 431.9,88.0 432.2,84.0 432.5,80.0 433.3,76.0 434.1,72.0 434.9,68.0 436.0,64.0 438.0,60.0 440.0,56.0 444.1,52.0 450.0,48.0 449.7,45.3 450.2,77.3 457.7,71.5 465.8,68.1 473.8,66.3 481.8,61.2 489.9,54.7 497.9,51.4 506.0,45.2 514.0,42.2" fill="none" stroke="#880090" stroke-width="0.6" stroke-opacity="0.6" stroke-linejoin="round" stroke-linecap="round" />
<polyline points="514.0,43.8 511.0,45.5 508.0,47.2 505.0,48.9 502.0,50.5 499.0,52.2 496.0,53.9 493.0,55.6 490.0,57.4 487.0,59.6 484.0,61.7 481.0,63.9 478.0,66.0 475.0,68.2 472.0,70.3 469.0,72.5 466.0,75.0 463.0,77.6 460.0,80.2 457.0,82.7 454.0,85.3 451.0,87.9 448.0,90.4 445.0,94.0 442.0,98.1 439.0,102.2 436.0,106.3 433.0,113.1 430.0,121.3 429.6,135.0 429.2,141.4" fill="none" stroke="#880090" stroke-width="0.6" stroke-opacity="0.6" stroke-linejoin="round" stroke-linecap="round" />
<polyline points="514.0,46.7 511.0,48.3 508.0,49.9 505.0,51.5 502.0,53.1 499.0,54.7 496.0,56.3 493.0,58.0 490.0,59.7 487.0,61.8 484.0,63.9 481.0,66.0 478.0,68.1 475.0,70.2 472.0,72.3 469.0,74.4 466.0,76.9 463.0,79.4 460.0,81.9 457.0,84.4 454.0,86.9 451.0,89.4 448.0,91.9 445.0,95.5 442.0,99.5 439.0,103.6 436.0,107.6 433.0,114.4 430.0,122.4 429.6,135.0 429.2,144.6" fill="none" stroke="#880090" stroke-width="0.6" stroke-opacity="0.6" stroke-linejoin="round" stroke-linecap="round" />
<polyline points="514.0,48.3 511.0,49.9 508.0,51.4 505.0,53.0 502.0,54.6 499.0,56.2 496.0,57.8 493.0,59.3 490.0,61.1 487.0,63.1 484.0,65.2 481.0,67.3 478.0,69.3 475.0,71.4 472.0,73.4 469.0,75.5 466.0,78.0 463.0,80.4 460.0,82.9 457.0,85.4 454.0,87.9 451.0,90.3 448.0,92.8 445.0,96.3 442.0,100.3 439.0,104.3 436.0,108.3 433.0,115.0 430.0,123.1 429.6,135.0 429.2,154.0" fill="none" stroke="#880090" stroke-width="0.6" stroke-opacity="0.6" stroke-linejoin="round" stroke-linecap="round" />
<polyline points="514.0,40.4 511.0,42.1 508.0,43.9 505.0,45.6 502.0,47.4 499.0,49.1 496.0,50.9 493.0,52.6 490.0,54.5 487.0,56.8 484.0,59.0 481.0,61.2 478.0,63.4 475.0,65.7 472.0,67.9 469.0,70.1 466.0,72.8 463.0,75.4 460.0,78.0 457.0,80.7 454.0,83.3 451.0,85.9 448.0,88.6 445.0,92.2 442.0,96.4 439.0,100.6 436.0,104.8 433.0,111.7 430.0,119.9 429.6,135.0 429.2,171.8" fill="none" stroke="#880090" stroke-width="0.6" stroke-opacity="0.6" stroke-linejoin="round" stroke-linecap="round" />
<polyline points="514.0,42.3 511.0,44.0 508.0,45.7 505.0,47.4 502.0,49.1 499.0,50.8 496.0,52.5 493.0,54.3 490.0,56.1 487.0,58.3 484.0,60.5 481.0,62.7 478.0,64.9 475.0,67.1 472.0,69.2 469.0,71.4 466.0,74.0 463.0,76.6 460.0,79.2 457.0,81.8 454.0,84.4 451.0,87.0 448.0,89.6 445.0,93.2 442.0,97.4 439.0,101.5 436.0,105.7 433.0,112.5 430.0,120.7 429.6,135.0 429.2,152.2" fill="none" stroke="#880090" stroke-width="0.6" stroke-opacity="0.6" stroke-linejoin="round" stroke-linecap="round" />
<polyline points="514.0,45.5 511.0,47.1 508.0,48.7 505.0,50.4 502.0,52.0 499.0,53.7 496.0,55.3 493.0,56.9 490.0,58.7 487.0,60.9 484.0,63.0 481.0,65.1 478.0,67.2 475.0,69.3 472.0,71.5 469.0,73.6 466.0,76.1 463.0,78.6 460.0,81.2 457.0,83.7 454.0,86.2 451.0,88.8 448.0,91.3 445.0,94.9 442.0,98.9 439.0,103.0 436.0,107.1 433.0,113.8 430.0,122.0 429.6,135.0 429.2,164.1" fill="none" stroke="#880090" stroke-width="0.6" stroke-opacity="0.6" stroke-linejoin="round" stroke-linecap="round" />
<polyline points="514.0,41.3 511.0,43.0 508.0,44.8 505.0,46.5 502.0,48.2 499.0,49.9 496.0,51.7 493.0,53.4 490.0,55.3 487.0,57.5 484.0,59.7 481.0,61.9 478.0,64.1 475.0,66.3 472.0,68.5 469.0,70.7 466.0,73.4 463.0,76.0 460.0,78.6 457.0,81.2 454.0,83.8 451.0,86.5 448.0,89.1 445.0,92.7 442.0,96.9 439.0,101.0 436.0,105.2 433.0,112.1 430.0,120.3 429.6,135.0 429.2,151.2" fill="none" stroke="#880090" stroke-width="0.6" stroke-opacity="0.6" stroke-linejoin="round" stroke-linecap="round" />
<polyline points="514.0,47.7 511.0,49.2 508.0,50.8 505.0,52.4 502.0,54.0 499.0,55.6 496.0,57.2 493.0,58.8 490.0,60.6 487.0,62.6 484.0,64.7 481.0,66.8 478.0,68.9 475.0,70.9 472.0,73.0 469.0,75.1 466.0,77.6 463.0,80.0 460.0,82.5 457.0,85.0 454.0,87.5 451.0,90.0 448.0,92.5 445.0,96.0 442.0,100.0 439.0,104.0 436.0,108.1 433.0,114.8 430.0,122.8 429.6,135.0 429.2,191.0" fill="none" stroke="#880090" stroke-width="0.6" stroke-opacity="0.6" stroke-linejoin="round" stroke-linecap="round" />
<polyline points="514.0,43.7 511.0,45.4 508.0,47.1 505.0,48.8 502.0,50.4 499.0,52.1 496.0,53.8 493.0,55.5 490.0,57.3 487.0,59.5 484.0,61.6 481.0,63.8 478.0,65.9 475.0,68.1 472.0,70.3 469.0,72.4 466.0,75.0 463.0,77.5 460.0,80.1 457.0,82.7 454.0,85.2 451.0,87.8 448.0,90.4 445.0,94.0 442.0,98.1 439.0,102.2 436.0,106.3 433.0,113.1 430.0,121.3 429.6,135.0 429.2,140.2" fill="none" stroke="#880090" stroke-width="0.6" stroke-opacity="0.6" stroke-linejoin="round" stroke-linecap="round" />
<polyline points="514.0,46.3 511.0,47.9 508.0,49.5 505.0,51.1 502.0,52.8 499.0,54.4 496.0,56.0 493.0,57.6 490.0,59.4 487.0,61.5 484.0,63.6 481.0,65.7 478.0,67.8 475.0,69.9 472.0,72.0 469.0,74.1 466.0,76.7 463.0,79.2 460.0,81.7 457.0,84.2 454.0,86.7 451.0,89.2 448.0,91.7 445.0,95.3 442.0,99.3 439.0,103.4 436.0,107.4 433.0,114.2 430.0,122.3 429.6,135.0 429.2,147.8" fill="none" stroke="#880090" stroke-width="0.6" stroke-opacity="0.6" stroke-linejoin="round" stroke-linecap="round" />
<polyline points="514.0,43.0 511.0,44.7 508.0,46.4 505.0,48.1 502.0,49.8 499.0,51.5 496.0,53.2 493.0,54.9 490.0,56.7 487.0,58.9 484.0,61.1 481.0,63.2 478.0,65.4 475.0,67.6 472.0,69.7 469.0,71.9 466.0,74.5 463.0,77.1 460.0,79.7 457.0,82.2 454.0,84.8 451.0,87.4 448.0,90.0 445.0,93.6 442.0,97.7 439.0,101.9 436.0,106.0 433.0,112.8 430.0,121.0 429.6,135.0 429.2,150.7" fill="none" stroke="#880090" stroke-width="0.6" stroke-opacity="0.6" stroke-linejoin="round" stroke-linecap="round" />
<polyline points="514.0,42.4 511.0,44.1 508.0,45.8 505.0,47.5 502.0,49.2 499.0,50.9 496.0,52.7 493.0,54.4 490.0,56.2 487.0,58.4 484.0,60.6 481.0,62.8 478.0,65.0 475.0,67.1 472.0,69.3 469.0,71.5 466.0,74.1 463.0,76.7 460.0,79.3 457.0,81.9 454.0,84.5 451.0,87.1 448.0,89.7 445.0,93.3 442.0,97.4 439.0,101.6 436.0,105.7 433.0,112.5 430.0,120.7 429.6,135.0 429.2,175.0" fill="none" stroke="#880090" stroke-width="0.6" stroke-opacity="0.6" stroke-linejoin="round" stroke-linecap="round" />
<polyline points="514.0,47.9 511.0,49.5 508.0,51.1 505.0,52.7 502.0,54.3 499.0,55.9 496.0,57.5 493.0,59.0 490.0,60.8 487.0,62.9 484.0,64.9 481.0,67.0 478.0,69.1 475.0,71.1 472.0,73.2 469.0,75.3 466.0,77.7 463.0,80.2 460.0,82.7 457.0,85.2 454.0,87.7 451.0,90.1 448.0,92.6 445.0,96.1 442.0,100.1 439.0,104.2 436.0,108.2 433.0,114.9 430.0,123.0 429.6,135.0 429.2,166.8" fill="none" stroke="#880090" stroke-width="0.6" stroke-opacity="0.6" stroke-linejoin="round" stroke-linecap="round" />
<polyline points="514.0,42.4 511.0,44.1 508.0,45.8 505.0,47.5 502.0,49.2 499.0,50.9 496.0,52.6 493.0,54.3 490.0,56.2 487.0,58.4 484.0,60.6 481.0,62.8 478.0,64.9 475.0,67.1 472.0,69.3 469.0,71.5 466.0,74.1 463.0,76.7 460.0,79.3 457.0,81.9 454.0,84.5 451.0,87.1 448.0,89.7 445.0,93.3 442.0,97.4 439.0,101.6 436.0,105.7 433.0,112.5 430.0,120.7 429.6,135.0 429.2,173.1" fill="none" stroke="#880090" stroke-width="0.6" stroke-opacity="0.6" stroke-linejoin="round" stroke-linecap="round" />
<polyline points="514.0,43.3 511.0,45.0 508.0,46.7 505.0,48.4 502.0,50.1 499.0,51.8 496.0,53.4 493.0,55.1 490.0,57.0 487.0,59.1 484.0,61.3 481.0,63.5 478.0,65.6 475.0,67.8 472.0,70.0 469.0,72.1 466.0,74.7 463.0,77.3 460.0,79.9 457.0,82.4 454.0,85.0 451.0,87.6 448.0,90.2 445.0,93.8 442.0,97.9 439.0,102.0 436.0,106.1 433.0,112.9 430.0,121.1 429.6,135.0 429.2,143.0" fill="none" stroke="#880090" stroke-width="0.6" stroke-opacity="0.6" stroke-linejoin="round" stroke-linecap="round" />
<polyline points="514.0,47.3 511.0,48.9 508.0,50.5 505.0,52.1 502.0,53.7 499.0,55.3 496.0,56.9 493.0,58.5 490.0,60.3 487.0,62.4 484.0,64.4 481.0,66.5 478.0,68.6 475.0,70.7 472.0,72.8 469.0,74.9 466.0,77.3 463.0,79.8 460.0,82.3 457.0,84.8 454.0,87.3 451.0,89.8 448.0,92.3 445.0,95.8 442.0,99.8 439.0,103.9 436.0,107.9 433.0,114.6 430.0,122.7 429.6,135.0 429.2,160.7" fill="none" stroke="#880090" stroke-width="0.6" stroke-opacity="0.6" stroke-linejoin="round" stroke-linecap="round" />
<polyline points="514.0,48.1 511.0,49.7 508.0,51.3 505.0,52.9 502.0,54.5 499.0,56.1 496.0,57.6 493.0,59.2 490.0,61.0 487.0,63.0 484.0,65.1 481.0,67.2 478.0,69.2 475.0,71.3 472.0,73.4 469.0,75.4 466.0,77.9 463.0,80.4 460.0,82.8 457.0,85.3 454.0,87.8 451.0,90.3 448.0,92.7 445.0,96.2 442.0,100.2 439.0,104.3 436.0,108.3 433.0,115.0 430.0,123.0 429.6,135.0 429.2,153.2" fill="none" stroke="#880090" stroke-width="0.6" stroke-opacity="0.6" stroke-linejoin="round" stroke-linecap="round" />
<polyline points="514.0,44.7 511.0,46.4 508.0,48.0 505.0,49.7 502.0,51.3 499.0,53.0 496.0,54.7 493.0,56.3 490.0,58.1 487.0,60.3 484.0,62.4 481.0,64.5 478.0,66.7 475.0,68.8 472.0,70.9 469.0,73.1 466.0,75.6 463.0,78.2 460.0,80.7 457.0,83.3 454.0,85.8 451.0,88.4 448.0,90.9 445.0,94.5 442.0,98.6 439.0,102.7 436.0,106.7 433.0,113.5 430.0,121.7 429.6,135.0 429.2,171.9" fill="none" stroke="#880090" stroke-width="0.6" stroke-opacity="0.6" stroke-linejoin="round" stroke-linecap="round" />
<polyline points="514.0,46.3 511.0,47.9 508.0,49.5 505.0,51.1 502.0,52.8 499.0,54.4 496.0,56.0 493.0,57.6 490.0,59.4 487.0,61.5 484.0,63.6 481.0,65.7 478.0,67.8 475.0,69.9 472.0,72.0 469.0,74.1 466.0,76.7 463.0,79.2 460.0,81.7 457.0,84.2 454.0,86.7 451.0,89.2 448.0,91.7 445.0,95.3 442.0,99.3 439.0,103.4 436.0,107.4 433.0,114.2 430.0,122.3 429.6,135.0 429.2,163.0" fill="none" stroke="#880090" stroke-width="0.6" stroke-opacity="0.6" stroke-linejoin="round" stroke-linecap="round" />
<polyline points="514.0,43.1 511.0,44.8 508.0,46.5 505.0,48.2 502.0,49.9 499.0,51.6 496.0,53.2 493.0,54.9 490.0,56.8 487.0,59.0 484.0,61.1 481.0,63.3 478.0,65.5 475.0,67.6 472.0,69.8 469.0,72.0 466.0,74.6 463.0,77.1 460.0,79.7 457.0,82.3 454.0,84.9 451.0,87.5 448.0,90.0 445.0,93.6 442.0,97.8 439.0,101.9 436.0,106.0 433.0,112.8 430.0,121.0 429.6,135.0 429.2,150.6" fill="none" stroke="#880090" stroke-width="0.6" stroke-opacity="0.6" stroke-linejoin="round" stroke-linecap="round" />
<polyline points="514.0,44.8 511.0,46.4 508.0,48.1 505.0,49.7 502.0,51.4 499.0,53.0 496.0,54.7 493.0,56.4 490.0,58.2 487.0,60.3 484.0,62.4 481.0,64.6 478.0,66.7 475.0,68.8 472.0,71.0 469.0,73.1 466.0,75.7 463.0,78.2 460.0,80.7 457.0,83.3 454.0,85.8 451.0,88.4 448.0,90.9 445.0,94.5 442.0,98.6 439.0,102.7 436.0,106.8 433.0,113.5 430.0,121.7 429.6,135.0 429.2,164.5" fill="none" stroke="#880090" stroke-width="0.6" stroke-opacity="0.6" stroke-linejoin="round" stroke-linecap="round" />
<polyline points="514.0,47.8 511.0,49.4 508.0,51.0 505.0,52.6 502.0,54.2 499.0,55.7 496.0,57.3 493.0,58.9 490.0,60.7 487.0,62.8 484.0,64.8 481.0,66.9 478.0,69.0 475.0,71.0 472.0,73.1 469.0,75.2 466.0,77.7 463.0,80.1 460.0,82.6 457.0,85.1 454.0,87.6 451.0,90.1 448.0,92.5 445.0,96.0 442.0,100.1 439.0,104.1 436.0,108.1 433.0,114.8 430.0,122.9 429.6,135.0 429.2,161.3" fill="none" stroke="#880090" stroke-width="0.6" stroke-opacity="0.6" stroke-linejoin="round" stroke-linecap="round" />
<polyline points="514.0,47.2 511.0,48.8 508.0,50.5 505.0,52.1 502.0,53.7 499.0,55.3 496.0,56.9 493.0,58.5 490.0,60.2 487.0,62.3 484.0,64.4 481.0,66.5 478.0,68.6 475.0,70.6 472.0,72.7 469.0,74.8 466.0,77.3 463.0,79.8 460.0,82.3 457.0,84.8 454.0,87.3 451.0,89.8 448.0,92.2 445.0,95.8 442.0,99.8 439.0,103.8 436.0,107.9 433.0,114.6 430.0,122.7 429.6,135.0 429.2,175.3" fill="none" stroke="#880090" stroke-width="0.6" stroke-opacity="0.6" stroke-linejoin="round" stroke-linecap="round" />
<polyline points="514.0,48.8 511.0,50.4 508.0,52.0 505.0,53.5 502.0,55.1 499.0,56.7 496.0,58.2 493.0,59.8 490.0,61.5 487.0,63.6 484.0,65.6 481.0,67.7 478.0,69.7 475.0,71.8 472.0,73.8 469.0,75.9 466.0,78.3 463.0,80.8 460.0,83.2 457.0,85.7 454.0,88.2 451.0,90.6 448.0,93.1 445.0,96.6 442.0,100.6 439.0,104.6 436.0,108.6 433.0,115.3 430.0,123.3 429.6,135.0 429.2,151.2" fill="none" stroke="#880090" stroke-width="0.6" stroke-opacity="0.6" stroke-linejoin="round" stroke-linecap="round" />
<polyline points="514.0,48.7 511.0,50.3 508.0,51.9 505.0,53.4 502.0,55.0 499.0,56.6 496.0,58.1 493.0,59.7 490.0,61.4 487.0,63.5 484.0,65.6 481.0,67.6 478.0,69.7 475.0,71.7 472.0,73.8 469.0,75.8 466.0,78.3 463.0,80.7 460.0,83.2 457.0,85.7 454.0,88.1 451.0,90.6 448.0,93.0 445.0,96.5 442.0,100.5 439.0,104.5 436.0,108.5 433.0,115.2 430.0,123.3 429.6,135.0 429.2,146.1" fill="none" stroke="#880090" stroke-width="0.6" stroke-opacity="0.6" stroke-linejoin="round" stroke-linecap="round" />
<polyline points="514.0,45.4 511.0,47.0 508.0,48.7 505.0,50.3 502.0,52.0 499.0,53.6 496.0,55.2 493.0,56.9 490.0,58.7 487.0,60.8 484.0,62.9 481.0,65.1 478.0,67.2 475.0,69.3 472.0,71.4 469.0,73.5 466.0,76.1 463.0,78.6 460.0,81.1 457.0,83.7 454.0,86.2 451.0,88.7 448.0,91.3 445.0,94.8 442.0,98.9 439.0,103.0 436.0,107.0 433.0,113.8 430.0,121.9 429.6,135.0 429.2,143.0" fill="none" stroke="#880090" stroke-width="0.6" stroke-opacity="0.6" stroke-linejoin="round" stroke-linecap="round" />
<polyline points="514.0,45.8 511.0,47.5 508.0,49.1 505.0,50.7 502.0,52.4 499.0,54.0 496.0,55.6 493.0,57.3 490.0,59.1 487.0,61.2 484.0,63.3 481.0,65.4 478.0,67.5 475.0,69.6 472.0,71.7 469.0,73.8 466.0,76.4 463.0,78.9 460.0,81.4 457.0,83.9 454.0,86.4 451.0,89.0 448.0,91.5 445.0,95.0 442.0,99.1 439.0,103.2 436.0,107.2 433.0,114.0 430.0,122.1 429.6,135.0 429.2,163.7" fill="none" stroke="#880090" stroke-width="0.6" stroke-opacity="0.6" stroke-linejoin="round" stroke-linecap="round" />
<polyline points="514.0,48.8 511.0,50.4 508.0,52.0 505.0,53.5 502.0,55.1 499.0,56.7 496.0,58.2 493.0,59.8 490.0,61.5 487.0,63.6 484.0,65.6 481.0,67.7 478.0,69.7 475.0,71.8 472.0,73.8 469.0,75.9 466.0,78.3 463.0,80.8 460.0,83.2 457.0,85.7 454.0,88.2 451.0,90.6 448.0,93.1 445.0,96.6 442.0,100.6 439.0,104.6 436.0,108.6 433.0,115.3 430.0,123.3 429.6,135.0 429.2,150.7" fill="none" stroke="#880090" stroke-width="0.6" stroke-opacity="0.6" stroke-linejoin="round" stroke-linecap="round" />
<polyline points="514.0,40.9 511.0,42.7 508.0,44.4 505.0,46.2 502.0,47.9 499.0,49.6 496.0,51.4 493.0,53.1 490.0,55.0 487.0,57.2 484.0,59.4 481.0,61.6 478.0,63.9 475.0,66.1 472.0,68.3 469.0,70.5 466.0,73.1 463.0,75.8 460.0,78.4 457.0,81.0 454.0,83.6 451.0,86.3 448.0,88.9 445.0,92.5 442.0,96.7 439.0,100.9 436.0,105.0 433.0,111.9 430.0,120.1 429.6,135.0 429.2,149.8" fill="none" stroke="#880090" stroke-width="0.6" stroke-opacity="0.6" stroke-linejoin="round" stroke-linecap="round" />
<polyline points="514.0,44.7 511.0,46.3 508.0,48.0 505.0,49.6 502.0,51.3 499.0,53.0 496.0,54.6 493.0,56.3 490.0,58.1 487.0,60.2 484.0,62.4 481.0,64.5 478.0,66.6 475.0,68.8 472.0,70.9 469.0,73.1 466.0,75.6 463.0,78.1 460.0,80.7 457.0,83.2 454.0,85.8 451.0,88.3 448.0,90.9 445.0,94.4 442.0,98.5 439.0,102.6 436.0,106.7 433.0,113.5 430.0,121.6 429.6,135.0 429.2,145.7" fill="none" stroke="#880090" stroke-width="0.6" stroke-opacity="0.6" stroke-linejoin="round" stroke-linecap="round" />
<polyline points="514.0,43.0 511.0,44.7 508.0,46.4 505.0,48.1 502.0,49.8 499.0,51.5 496.0,53.2 493.0,54.8 490.0,56.7 487.0,58.9 484.0,61.0 481.0,63.2 478.0,65.4 475.0,67.6 472.0,69.7 469.0,71.9 466.0,74.5 463.0,77.1 460.0,79.6 457.0,82.2 454.0,84.8 451.0,87.4 448.0,90.0 445.0,93.6 442.0,97.7 439.0,101.8 436.0,106.0 433.0,112.8 430.0,120.9 429.6,135.0 429.2,158.1" fill="none" stroke="#880090" stroke-width="0.6" stroke-opacity="0.6" stroke-linejoin="round" stroke-linecap="round" />
<polyline points="514.0,44.2 511.0,45.8 508.0,47.5 505.0,49.2 502.0,50.8 499.0,52.5 496.0,54.2 493.0,55.8 490.0,57.7 487.0,59.8 484.0,62.0 481.0,64.1 478.0,66.3 475.0,68.4 472.0,70.6 469.0,72.7 466.0,75.3 463.0,77.8 460.0,80.4 457.0,82.9 454.0,85.5 451.0,88.0 448.0,90.6 445.0,94.2 442.0,98.3 439.0,102.4 436.0,106.5 433.0,113.3 430.0,121.4 429.6,135.0 429.2,176.3" fill="none" stroke="#880090" stroke-width="0.6" stroke-opacity="0.6" stroke-linejoin="round" stroke-linecap="round" />
<polyline points="514.0,43.5 511.0,45.2 508.0,46.8 505.0,48.5 502.0,50.2 499.0,51.9 496.0,53.6 493.0,55.3 490.0,57.1 487.0,59.3 484.0,61.4 481.0,63.6 478.0,65.7 475.0,67.9 472.0,70.1 469.0,72.2 466.0,74.8 463.0,77.4 460.0,80.0 457.0,82.5 454.0,85.1 451.0,87.7 448.0,90.2 445.0,93.8 442.0,98.0 439.0,102.1 436.0,106.2 433.0,113.0 430.0,121.1 429.6,135.0 429.2,191.0" fill="none" stroke="#880090" stroke-width="0.6" stroke-opacity="0.6" stroke-linejoin="round" stroke-linecap="round" />
<polyline points="514.0,44.5 511.0,46.1 508.0,47.8 505.0,49.4 502.0,51.1 499.0,52.8 496.0,54.4 493.0,56.1 490.0,57.9 487.0,60.0 484.0,62.2 481.0,64.3 478.0,66.5 475.0,68.6 472.0,70.8 469.0,72.9 466.0,75.4 463.0,78.0 460.0,80.6 457.0,83.1 454.0,85.7 451.0,88.2 448.0,90.8 445.0,94.3 442.0,98.4 439.0,102.5 436.0,106.6 433.0,113.4 430.0,121.5 429.6,135.0 429.2,152.6" fill="none" stroke="#880090" stroke-width="0.6" stroke-opacity="0.6" stroke-linejoin="round" stroke-linecap="round" />
<polyline points="514.0,42.8 511.0,44.5 508.0,46.2 505.0,47.9 502.0,49.6 499.0,51.3 496.0,53.0 493.0,54.7 490.0,56.6 487.0,58.7 484.0,60.9 481.0,63.1 478.0,65.3 475.0,67.4 472.0,69.6 469.0,71.8 466.0,74.4 463.0,77.0 460.0,79.6 457.0,82.1 454.0,84.7 451.0,87.3 448.0,89.9 445.0,93.5 442.0,97.6 439.0,101.8 436.0,105.9 433.0,112.7 430.0,120.9 429.6,135.0 429.2,163.4" fill="none" stroke="#880090" stroke-width="0.6" stroke-opacity="0.6" stroke-linejoin="round" stroke-linecap="round" />
<polyline points="514.0,43.5 511.0,45.2 508.0,46.8 505.0,48.5 502.0,50.2 499.0,51.9 496.0,53.6 493.0,55.2 490.0,57.1 487.0,59.3 484.0,61.4 481.0,63.6 478.0,65.7 475.0,67.9 472.0,70.1 469.0,72.2 466.0,74.8 463.0,77.4 460.0,79.9 457.0,82.5 454.0,85.1 451.0,87.7 448.0,90.2 445.0,93.8 442.0,97.9 439.0,102.1 436.0,106.2 433.0,113.0 430.0,121.1 429.6,135.0 429.2,175.2" fill="none" stroke="#880090" stroke-width="0.6" stroke-opacity="0.6" stroke-linejoin="round" stroke-linecap="round" />
<polyline points="514.0,42.6 511.0,44.3 508.0,46.0 505.0,47.7 502.0,49.4 499.0,51.1 496.0,52.8 493.0,54.5 490.0,56.4 487.0,58.6 484.0,60.8 481.0,62.9 478.0,65.1 475.0,67.3 472.0,69.5 469.0,71.7 466.0,74.2 463.0,76.8 460.0,79.4 457.0,82.0 454.0,84.6 451.0,87.2 448.0,89.8 445.0,93.4 442.0,97.5 439.0,101.7 436.0,105.8 433.0,112.6 430.0,120.8 429.6,135.0 429.2,166.8" fill="none" stroke="#880090" stroke-width="0.6" stroke-opacity="0.6" stroke-linejoin="round" stroke-linecap="round" />
<polyline points="514.0,46.9 511.0,48.5 508.0,50.1 505.0,51.8 502.0,53.4 499.0,55.0 496.0,56.6 493.0,58.2 490.0,60.0 487.0,62.0 484.0,64.1 481.0,66.2 478.0,68.3 475.0,70.4 472.0,72.5 469.0,74.6 466.0,77.1 463.0,79.6 460.0,82.1 457.0,84.6 454.0,87.1 451.0,89.6 448.0,92.1 445.0,95.6 442.0,99.6 439.0,103.7 436.0,107.7 433.0,114.5 430.0,122.5 429.6,135.0 429.2,163.6" fill="none" stroke="#880090" stroke-width="0.6" stroke-opacity="0.6" stroke-linejoin="round" stroke-linecap="round" />
<polyline points="514.0,48.5 511.0,50.0 508.0,51.6 505.0,53.2 502.0,54.8 499.0,56.3 496.0,57.9 493.0,59.5 490.0,61.2 487.0,63.3 484.0,65.3 481.0,67.4 478.0,69.5 475.0,71.5 472.0,73.6 469.0,75.6 466.0,78.1 463.0,80.6 460.0,83.0 457.0,85.5 454.0,88.0 451.0,90.4 448.0,92.9 445.0,96.4 442.0,100.4 439.0,104.4 436.0,108.4 433.0,115.1 430.0,123.2 429.6,135.0 429.2,148.6" fill="none" stroke="#880090" stroke-width="0.6" stroke-opacity="0.6" stroke-linejoin="round" stroke-linecap="round" />
<polyline points="514.0,44.6 511.0,46.2 508.0,47.9 505.0,49.5 502.0,51.2 499.0,52.9 496.0,54.5 493.0,56.2 490.0,58.0 487.0,60.1 484.0,62.3 481.0,64.4 478.0,66.6 475.0,68.7 472.0,70.8 469.0,73.0 466.0,75.5 463.0,78.1 460.0,80.6 457.0,83.2 454.0,85.7 451.0,88.3 448.0,90.8 445.0,94.4 442.0,98.5 439.0,102.6 436.0,106.7 433.0,113.5 430.0,121.6 429.6,135.0 429.2,167.4" fill="none" stroke="#880090" stroke-width="0.6" stroke-opacity="0.6" stroke-linejoin="round" stroke-linecap="round" />
<polyline points="514.0,42.1 511.0,43.8 508.0,45.5 505.0,47.2 502.0,49.0 499.0,50.7 496.0,52.4 493.0,54.1 490.0,56.0 487.0,58.2 484.0,60.3 481.0,62.5 478.0,64.7 475.0,66.9 472.0,69.1 469.0,71.3 466.0,73.9 463.0,76.5 460.0,79.1 457.0,81.7 454.0,84.3 451.0,86.9 448.0,89.5 445.0,93.1 442.0,97.3 439.0,101.4 436.0,105.6 433.0,112.4 430.0,120.6 429.6,135.0 429.2,175.7" fill="none" stroke="#880090" stroke-width="0.6" stroke-opacity="0.6" stroke-linejoin="round" stroke-linecap="round" />
<polyline points="514.0,45.0 511.0,46.7 508.0,48.3 505.0,50.0 502.0,51.6 499.0,53.3 496.0,54.9 493.0,56.6 490.0,58.4 487.0,60.5 484.0,62.6 481.0,64.8 478.0,66.9 475.0,69.0 472.0,71.1 469.0,73.3 466.0,75.8 463.0,78.4 460.0,80.9 457.0,83.4 454.0,86.0 451.0,88.5 448.0,91.1 445.0,94.6 442.0,98.7 439.0,102.8 436.0,106.9 433.0,113.6 430.0,121.8 429.6,135.0 429.2,177.7" fill="none" stroke="#880090" stroke-width="0.6" stroke-opacity="0.6" stroke-linejoin="round" stroke-linecap="round" />
<polyline points="514.0,46.1 511.0,47.7 508.0,49.3 505.0,51.0 502.0,52.6 499.0,54.2 496.0,55.8 493.0,57.5 490.0,59.3 487.0,61.4 484.0,63.5 481.0,65.6 478.0,67.7 475.0,69.8 472.0,71.9 469.0,74.0 466.0,76.5 463.0,79.0 460.0,81.6 457.0,84.1 454.0,86.6 451.0,89.1 448.0,91.6 445.0,95.2 442.0,99.2 439.0,103.3 436.0,107.4 433.0,114.1 430.0,122.2 429.6,135.0 429.2,176.3" fill="none" stroke="#880090" stroke-width="0.6" stroke-opacity="0.6" stroke-linejoin="round" stroke-linecap="round" />
<polyline points="514.0,48.2 511.0,49.8 508.0,51.4 505.0,53.0 502.0,54.6 499.0,56.1 496.0,57.7 493.0,59.3 490.0,61.1 487.0,63.1 484.0,65.2 481.0,67.2 478.0,69.3 475.0,71.4 472.0,73.4 469.0,75.5 466.0,78.0 463.0,80.4 460.0,82.9 457.0,85.4 454.0,87.8 451.0,90.3 448.0,92.8 445.0,96.3 442.0,100.3 439.0,104.3 436.0,108.3 433.0,115.0 430.0,123.1 429.6,135.0 429.2,164.8" fill="none" stroke="#880090" stroke-width="0.6" stroke-opacity="0.6" stroke-linejoin="round" stroke-linecap="round" />
<polyline points="514.0,44.1 511.0,45.8 508.0,47.5 505.0,49.1 502.0,50.8 499.0,52.5 496.0,54.2 493.0,55.8 490.0,57.6 487.0,59.8 484.0,61.9 481.0,64.1 478.0,66.2 475.0,68.4 472.0,70.5 469.0,72.7 466.0,75.2 463.0,77.8 460.0,80.4 457.0,82.9 454.0,85.5 451.0,88.0 448.0,90.6 445.0,94.2 442.0,98.3 439.0,102.4 436.0,106.5 433.0,113.3 430.0,121.4 429.6,135.0 429.2,172.7" fill="none" stroke="#880090" stroke-width="0.6" stroke-opacity="0.6" stroke-linejoin="round" stroke-linecap="round" />
<polyline points="514.0,47.7 511.0,49.3 508.0,50.9 505.0,52.5 502.0,54.1 499.0,55.6 496.0,57.2 493.0,58.8 490.0,60.6 487.0,62.7 484.0,64.7 481.0,66.8 478.0,68.9 475.0,71.0 472.0,73.0 469.0,75.1 466.0,77.6 463.0,80.1 460.0,82.5 457.0,85.0 454.0,87.5 451.0,90.0 448.0,92.5 445.0,96.0 442.0,100.0 439.0,104.0 436.0,108.1 433.0,114.8 430.0,122.9 429.6,135.0 429.2,163.4" fill="none" stroke="#880090" stroke-width="0.6" stroke-opacity="0.6" stroke-linejoin="round" stroke-linecap="round" />
<polyline points="514.0,42.7 511.0,44.4 508.0,46.1 505.0,47.8 502.0,49.5 499.0,51.2 496.0,52.9 493.0,54.6 490.0,56.5 487.0,58.6 484.0,60.8 481.0,63.0 478.0,65.2 475.0,67.4 472.0,69.5 469.0,71.7 466.0,74.3 463.0,76.9 460.0,79.5 457.0,82.1 454.0,84.6 451.0,87.2 448.0,89.8 445.0,93.4 442.0,97.6 439.0,101.7 436.0,105.8 433.0,112.7 430.0,120.8 429.6,135.0 429.2,170.5" fill="none" stroke="#880090" stroke-width="0.6" stroke-opacity="0.6" stroke-linejoin="round" stroke-linecap="round" />
<polyline points="514.0,41.5 511.0,43.3 508.0,45.0 505.0,46.7 502.0,48.4 499.0,50.2 496.0,51.9 493.0,53.6 490.0,55.5 487.0,57.7 484.0,59.9 481.0,62.1 478.0,64.3 475.0,66.5 472.0,68.7 469.0,70.9 466.0,73.5 463.0,76.1 460.0,78.7 457.0,81.4 454.0,84.0 451.0,86.6 448.0,89.2 445.0,92.8 442.0,97.0 439.0,101.2 436.0,105.3 433.0,112.2 430.0,120.4 429.6,135.0 429.2,191.0" fill="none" stroke="#880090" stroke-width="0.6" stroke-opacity="0.6" stroke-linejoin="round" stroke-linecap="round" />
<polyline points="514.0,45.2 511.0,46.8 508.0,48.5 505.0,50.1 502.0,51.7 499.0,53.4 496.0,55.0 493.0,56.7 490.0,58.5 487.0,60.6 484.0,62.7 481.0,64.9 478.0,67.0 475.0,69.1 472.0,71.3 469.0,73.4 466.0,75.9 463.0,78.5 460.0,81.0 457.0,83.5 454.0,86.1 451.0,88.6 448.0,91.1 445.0,94.7 442.0,98.8 439.0,102.9 436.0,106.9 433.0,113.7 430.0,121.8 429.6,135.0 429.2,176.0" fill="none" stroke="#880090" stroke-width="0.6" stroke-opacity="0.6" stroke-linejoin="round" stroke-linecap="round" />
<polyline points="514.0,42.2 511.0,43.9 508.0,45.6 505.0,47.3 502.0,49.0 499.0,50.7 496.0,52.5 493.0,54.2 490.0,56.0 487.0,58.2 484.0,60.4 481.0,62.6 478.0,64.8 475.0,67.0 472.0,69.2 469.0,71.4 466.0,74.0 463.0,76.6 460.0,79.2 457.0,81.8 454.0,84.4 451.0,86.9 448.0,89.5 445.0,93.2 442.0,97.3 439.0,101.5 436.0,105.6 433.0,112.4 430.0,120.6 429.6,135.0 429.2,169.3" fill="none" stroke="#880090" stroke-width="0.6" stroke-opacity="0.6" stroke-linejoin="round" stroke-linecap="round" />
<polyline points="514.0,44.2 511.0,45.9 508.0,47.5 505.0,49.2 502.0,50.9 499.0,52.5 496.0,54.2 493.0,55.9 490.0,57.7 487.0,59.9 484.0,62.0 481.0,64.1 478.0,66.3 475.0,68.4 472.0,70.6 469.0,72.7 466.0,75.3 463.0,77.8 460.0,80.4 457.0,83.0 454.0,85.5 451.0,88.1 448.0,90.6 445.0,94.2 442.0,98.3 439.0,102.4 436.0,106.5 433.0,113.3 430.0,121.4 429.6,135.0 429.2,164.2" fill="none" stroke="#880090" stroke-width="0.6" stroke-opacity="0.6" stroke-linejoin="round" stroke-linecap="round" />
<polyline points="514.0,41.2 511.0,42.9 508.0,44.7 505.0,46.4 502.0,48.1 499.0,49.9 496.0,51.6 493.0,53.3 490.0,55.2 487.0,57.4 484.0,59.6 481.0,61.8 478.0,64.1 475.0,66.3 472.0,68.5 469.0,70.7 466.0,73.3 463.0,75.9 460.0,78.5 457.0,81.2 454.0,83.8 451.0,86.4 448.0,89.0 445.0,92.7 442.0,96.8 439.0,101.0 436.0,105.2 433.0,112.0 430.0,120.2 429.6,135.0 429.2,176.9" fill="none" stroke="#880090" stroke-width="0.6" stroke-opacity="0.6" stroke-linejoin="round" stroke-linecap="round" />
<polyline points="514.0,44.6 511.0,46.2 508.0,47.9 505.0,49.5 502.0,51.2 499.0,52.9 496.0,54.5 493.0,56.2 490.0,58.0 487.0,60.1 484.0,62.3 481.0,64.4 478.0,66.6 475.0,68.7 472.0,70.8 469.0,73.0 466.0,75.5 463.0,78.1 460.0,80.6 457.0,83.2 454.0,85.7 451.0,88.3 448.0,90.8 445.0,94.4 442.0,98.5 439.0,102.6 436.0,106.7 433.0,113.5 430.0,121.6 429.6,135.0 429.2,165.0" fill="none" stroke="#880090" stroke-width="0.6" stroke-opacity="0.6" stroke-linejoin="round" stroke-linecap="round" />
<polyline points="514.0,43.9 511.0,45.6 508.0,47.3 505.0,49.0 502.0,50.6 499.0,52.3 496.0,54.0 493.0,55.6 490.0,57.5 487.0,59.6 484.0,61.8 481.0,63.9 478.0,66.1 475.0,68.2 472.0,70.4 469.0,72.5 466.0,75.1 463.0,77.7 460.0,80.2 457.0,82.8 454.0,85.4 451.0,87.9 448.0,90.5 445.0,94.1 442.0,98.2 439.0,102.3 436.0,106.4 433.0,113.2 430.0,121.3 429.6,135.0 429.2,191.0" fill="none" stroke="#880090" stroke-width="0.6" stroke-opacity="0.6" stroke-linejoin="round" stroke-linecap="round" />
<polyline points="514.0,40.4 511.0,42.1 508.0,43.9 505.0,45.6 502.0,47.4 499.0,49.1 496.0,50.9 493.0,52.6 490.0,54.5 487.0,56.7 484.0,59.0 481.0,61.2 478.0,63.4 475.0,65.7 472.0,67.9 469.0,70.1 466.0,72.7 463.0,75.4 460.0,78.0 457.0,80.7 454.0,83.3 451.0,85.9 448.0,88.6 445.0,92.2 442.0,96.4 439.0,100.6 436.0,104.8 433.0,111.7 430.0,119.9 429.6,135.0 429.2,159.0" fill="none" stroke="#880090" stroke-width="0.6" stroke-opacity="0.6" stroke-linejoin="round" stroke-linecap="round" />
<polyline points="514.0,48.6 511.0,50.2 508.0,51.8 505.0,53.3 502.0,54.9 499.0,56.5 496.0,58.1 493.0,59.6 490.0,61.4 487.0,63.4 484.0,65.5 481.0,67.5 478.0,69.6 475.0,71.6 472.0,73.7 469.0,75.7 466.0,78.2 463.0,80.7 460.0,83.1 457.0,85.6 454.0,88.1 451.0,90.5 448.0,93.0 445.0,96.5 442.0,100.5 439.0,104.5 436.0,108.5 433.0,115.2 430.0,123.2 429.6,135.0 429.2,175.3" fill="none" stroke="#880090" stroke-width="0.6" stroke-opacity="0.6" stroke-linejoin="round" stroke-linecap="round" />
<polyline points="514.0,46.5 511.0,48.1 508.0,49.7 505.0,51.4 502.0,53.0 499.0,54.6 496.0,56.2 493.0,57.8 490.0,59.6 487.0,61.7 484.0,63.8 481.0,65.9 478.0,68.0 475.0,70.1 472.0,72.2 469.0,74.3 466.0,76.8 463.0,79.3 460.0,81.8 457.0,84.3 454.0,86.8 451.0,89.3 448.0,91.8 445.0,95.4 442.0,99.4 439.0,103.5 436.0,107.5 433.0,114.3 430.0,122.4 429.6,135.0 429.2,170.9" fill="none" stroke="#880090" stroke-width="0.6" stroke-opacity="0.6" stroke-linejoin="round" stroke-linecap="round" />
<polyline points="514.0,46.8 511.0,48.4 508.0,50.1 505.0,51.7 502.0,53.3 499.0,54.9 496.0,56.5 493.0,58.1 490.0,59.9 487.0,62.0 484.0,64.1 481.0,66.2 478.0,68.2 475.0,70.3 472.0,72.4 469.0,74.5 466.0,77.0 463.0,79.5 460.0,82.0 457.0,84.5 454.0,87.0 451.0,89.5 448.0,92.0 445.0,95.6 442.0,99.6 439.0,103.6 436.0,107.7 433.0,114.4 430.0,122.5 429.6,135.0 429.2,161.6" fill="none" stroke="#880090" stroke-width="0.6" stroke-opacity="0.6" stroke-linejoin="round" stroke-linecap="round" />
<polyline points="514.0,40.9 511.0,42.7 508.0,44.4 505.0,46.1 502.0,47.9 499.0,49.6 496.0,51.3 493.0,53.1 490.0,55.0 487.0,57.2 484.0,59.4 481.0,61.6 478.0,63.8 475.0,66.1 472.0,68.3 469.0,70.5 466.0,73.1 463.0,75.7 460.0,78.4 457.0,81.0 454.0,83.6 451.0,86.2 448.0,88.9 445.0,92.5 442.0,96.7 439.0,100.9 436.0,105.0 433.0,111.9 430.0,120.1 429.6,135.0 429.2,152.5" fill="none" stroke="#880090" stroke-width="0.6" stroke-opacity="0.6" stroke-linejoin="round" stroke-linecap="round" />
<polyline points="514.0,46.7 511.0,48.3 508.0,49.9 505.0,51.5 502.0,53.1 499.0,54.7 496.0,56.4 493.0,58.0 490.0,59.7 487.0,61.8 484.0,63.9 481.0,66.0 478.0,68.1 475.0,70.2 472.0,72.3 469.0,74.4 466.0,76.9 463.0,79.4 460.0,81.9 457.0,84.4 454.0,86.9 451.0,89.4 448.0,91.9 445.0,95.5 442.0,99.5 439.0,103.6 436.0,107.6 433.0,114.4 430.0,122.4 429.6,135.0 429.2,140.0" fill="none" stroke="#880090" stroke-width="0.6" stroke-opacity="0.6" stroke-linejoin="round" stroke-linecap="round" />
<polyline points="514.0,47.9 511.0,49.5 508.0,51.1 505.0,52.7 502.0,54.3 499.0,55.9 496.0,57.5 493.0,59.0 490.0,60.8 487.0,62.9 484.0,64.9 481.0,67.0 478.0,69.1 475.0,71.1 472.0,73.2 469.0,75.3 466.0,77.7 463.0,80.2 460.0,82.7 457.0,85.2 454.0,87.7 451.0,90.1 448.0,92.6 445.0,96.1 442.0,100.1 439.0,104.2 436.0,108.2 433.0,114.9 430.0,123.0 429.6,135.0 429.2,152.0" fill="none" stroke="#880090" stroke-width="0.6" stroke-opacity="0.6" stroke-linejoin="round" stroke-linecap="round" />
<polyline points="514.0,42.1 511.0,43.8 508.0,45.5 505.0,47.2 502.0,48.9 499.0,50.6 496.0,52.4 493.0,54.1 490.0,55.9 487.0,58.1 484.0,60.3 481.0,62.5 478.0,64.7 475.0,66.9 472.0,69.1 469.0,71.3 466.0,73.9 463.0,76.5 460.0,79.1 457.0,81.7 454.0,84.3 451.0,86.9 448.0,89.5 445.0,93.1 442.0,97.3 439.0,101.4 436.0,105.6 433.0,112.4 430.0,120.6 429.6,135.0 429.2,153.5" fill="none" stroke="#880090" stroke-width="0.6" stroke-opacity="0.6" stroke-linejoin="round" stroke-linecap="round" />
<polyline points="514.0,46.8 511.0,48.4 508.0,50.0 505.0,51.6 502.0,53.2 499.0,54.8 496.0,56.4 493.0,58.0 490.0,59.8 487.0,61.9 484.0,64.0 481.0,66.1 478.0,68.2 475.0,70.3 472.0,72.4 469.0,74.5 466.0,77.0 463.0,79.5 460.0,82.0 457.0,84.5 454.0,87.0 451.0,89.5 448.0,92.0 445.0,95.5 442.0,99.6 439.0,103.6 436.0,107.7 433.0,114.4 430.0,122.5 429.6,135.0 429.2,163.9" fill="none" stroke="#880090" stroke-width="0.6" stroke-opacity="0.6" stroke-linejoin="round" stroke-linecap="round" />
<polyline points="514.0,44.7 511.0,46.3 508.0,48.0 505.0,49.7 502.0,51.3 499.0,53.0 496.0,54.6 493.0,56.3 490.0,58.1 487.0,60.2 484.0,62.4 481.0,64.5 478.0,66.7 475.0,68.8 472.0,70.9 469.0,73.1 466.0,75.6 463.0,78.2 460.0,80.7 457.0,83.2 454.0,85.8 451.0,88.3 448.0,90.9 445.0,94.5 442.0,98.5 439.0,102.6 436.0,106.7 433.0,113.5 430.0,121.6 429.6,135.0 429.2,159.9" fill="none" stroke="#880090" stroke-width="0.6" stroke-opacity="0.6" stroke-linejoin="round" stroke-linecap="round" />
<polyline points="514.0,46.6 511.0,48.2 508.0,49.8 505.0,51.4 502.0,53.0 499.0,54.7 496.0,56.3 493.0,57.9 490.0,59.7 487.0,61.8 484.0,63.9 481.0,66.0 478.0,68.1 475.0,70.2 472.0,72.3 469.0,74.3 466.0,76.9 463.0,79.4 460.0,81.9 457.0,84.4 454.0,86.9 451.0,89.4 448.0,91.9 445.0,95.4 442.0,99.5 439.0,103.5 436.0,107.6 433.0,114.3 430.0,122.4 429.6,135.0 429.2,169.8" fill="none" stroke="#880090" stroke-width="0.6" stroke-opacity="0.6" stroke-linejoin="round" stroke-linecap="round" />
<polyline points="459.7,51.9 464.2,50.1 468.7,51.0 473.2,50.3 477.8,52.8 482.3,52.3 486.8,50.6 491.4,49.7 495.9,49.5 500.4,48.9 504.9,51.4 509.5,48.1 514.0,46.6" fill="none" stroke="#880090" stroke-width="0.7" stroke-opacity="0.55" stroke-linejoin="round" stroke-linecap="round" />
<polyline points="455.1,78.5 460.0,77.6 464.9,74.3 469.8,70.3 474.7,68.5 479.6,64.0 484.5,60.6 489.4,57.8 494.4,53.2 499.3,51.4 504.2,46.9 509.1,44.6 514.0,42.1" fill="none" stroke="#880090" stroke-width="0.7" stroke-opacity="0.55" stroke-linejoin="round" stroke-linecap="round" />
<polyline points="454.4,60.0 459.4,59.4 464.4,59.4 469.3,58.8 474.3,61.1 479.3,56.7 484.2,56.1 489.2,55.7 494.1,54.5 499.1,54.3 504.1,54.5 509.0,54.1 514.0,53.6" fill="none" stroke="#880090" stroke-width="0.7" stroke-opacity="0.55" stroke-linejoin="round" stroke-linecap="round" />
<polyline points="452.1,52.5 457.3,51.7 462.4,52.0 467.6,52.3 472.7,50.4 477.9,50.6 483.1,50.8 488.2,48.9 493.4,49.6 498.5,49.0 503.7,49.3 508.8,47.2 514.0,47.1" fill="none" stroke="#880090" stroke-width="0.7" stroke-opacity="0.55" stroke-linejoin="round" stroke-linecap="round" />
<polyline points="461.4,51.2 465.8,50.1 470.1,50.5 474.5,49.7 478.9,52.4 483.3,51.6 487.7,52.2 492.1,53.0 496.5,53.8 500.8,53.3 505.2,54.2 509.6,53.0 514.0,55.9" fill="none" stroke="#880090" stroke-width="0.7" stroke-opacity="0.55" stroke-linejoin="round" stroke-linecap="round" />
<polyline points="459.8,85.5 464.4,82.7 468.9,78.9 473.4,74.5 477.9,72.9 482.4,68.9 486.9,67.2 491.4,63.4 495.9,62.1 500.5,56.9 505.0,56.1 509.5,51.2 514.0,49.5" fill="none" stroke="#880090" stroke-width="0.7" stroke-opacity="0.55" stroke-linejoin="round" stroke-linecap="round" />
<polyline points="458.8,74.6 463.4,73.5 468.0,71.3 472.6,69.2 477.2,68.5 481.8,66.6 486.4,66.0 491.0,62.8 495.6,62.3 500.2,58.4 504.8,59.8 509.4,55.9 514.0,54.7" fill="none" stroke="#880090" stroke-width="0.7" stroke-opacity="0.55" stroke-linejoin="round" stroke-linecap="round" />
<polyline points="460.8,85.8 465.2,82.0 469.7,77.9 474.1,72.9 478.5,69.9 483.0,66.4 487.4,63.2 491.8,58.8 496.3,56.3 500.7,53.0 505.1,49.0 509.6,45.3 514.0,43.6" fill="none" stroke="#880090" stroke-width="0.7" stroke-opacity="0.55" stroke-linejoin="round" stroke-linecap="round" />
<polyline points="454.8,61.3 459.7,61.0 464.7,58.5 469.6,59.3 474.5,58.8 479.5,56.2 484.4,54.7 489.3,53.0 494.3,52.5 499.2,50.6 504.1,49.3 509.1,48.6 514.0,48.3" fill="none" stroke="#880090" stroke-width="0.7" stroke-opacity="0.55" stroke-linejoin="round" stroke-linecap="round" />
<polyline points="456.9,71.9 461.6,69.4 466.4,69.3 471.2,66.2 475.9,65.1 480.7,60.6 485.4,59.8 490.2,57.9 495.0,57.1 499.7,53.5 504.5,53.2 509.2,51.9 514.0,49.2" fill="none" stroke="#880090" stroke-width="0.7" stroke-opacity="0.55" stroke-linejoin="round" stroke-linecap="round" />
<polyline points="454.5,75.6 459.5,73.2 464.5,70.7 469.4,67.8 474.4,65.0 479.3,62.1 484.3,61.4 489.2,59.6 494.2,55.2 499.1,54.1 504.1,53.8 509.0,49.2 514.0,47.3" fill="none" stroke="#880090" stroke-width="0.7" stroke-opacity="0.55" stroke-linejoin="round" stroke-linecap="round" />
<polyline points="460.9,72.7 465.3,70.5 469.7,70.2 474.2,68.0 478.6,64.1 483.0,63.2 487.4,59.6 491.9,56.5 496.3,54.9 500.7,53.4 505.1,51.6 509.6,47.8 514.0,44.5" fill="none" stroke="#880090" stroke-width="0.7" stroke-opacity="0.55" stroke-linejoin="round" stroke-linecap="round" />
<polyline points="452.8,74.4 457.9,72.7 463.0,70.1 468.1,64.9 473.2,63.1 478.3,60.9 483.4,58.5 488.5,58.3 493.6,54.8 498.7,51.6 503.8,50.5 508.9,46.6 514.0,46.3" fill="none" stroke="#880090" stroke-width="0.7" stroke-opacity="0.55" stroke-linejoin="round" stroke-linecap="round" />
<polyline points="461.6,69.5 465.9,68.4 470.3,65.2 474.7,63.6 479.0,61.3 483.4,59.1 487.8,58.0 492.1,55.7 496.5,52.0 500.9,50.4 505.3,48.2 509.6,43.9 514.0,43.0" fill="none" stroke="#880090" stroke-width="0.7" stroke-opacity="0.55" stroke-linejoin="round" stroke-linecap="round" />
<polyline points="454.2,52.4 459.1,52.6 464.1,52.0 469.1,53.2 474.1,53.3 479.1,51.9 484.1,52.4 489.1,51.0 494.1,51.8 499.0,53.4 504.0,54.6 509.0,52.1 514.0,53.6" fill="none" stroke="#880090" stroke-width="0.7" stroke-opacity="0.55" stroke-linejoin="round" stroke-linecap="round" />
<polyline points="457.5,58.5 462.2,57.6 466.9,56.7 471.6,55.6 476.3,54.2 481.0,52.6 485.7,51.8 490.5,51.5 495.2,49.5 499.9,47.7 504.6,47.8 509.3,46.1 514.0,43.8" fill="none" stroke="#880090" stroke-width="0.7" stroke-opacity="0.55" stroke-linejoin="round" stroke-linecap="round" />
<polyline points="460.2,75.3 464.6,71.7 469.1,70.8 473.6,67.9 478.1,64.4 482.6,62.0 487.1,62.4 491.6,60.5 496.1,57.5 500.5,56.4 505.0,51.6 509.5,51.5 514.0,50.4" fill="none" stroke="#880090" stroke-width="0.7" stroke-opacity="0.55" stroke-linejoin="round" stroke-linecap="round" />
<polyline points="455.3,68.7 460.2,67.1 465.1,67.9 470.0,65.9 474.9,64.5 479.7,64.1 484.6,62.5 489.5,61.2 494.4,60.7 499.3,58.9 504.2,59.0 509.1,59.1 514.0,54.5" fill="none" stroke="#880090" stroke-width="0.7" stroke-opacity="0.55" stroke-linejoin="round" stroke-linecap="round" />
<polyline points="455.7,61.8 460.5,61.0 465.4,58.9 470.3,59.1 475.1,55.1 480.0,54.5 484.8,52.7 489.7,51.7 494.6,48.6 499.4,48.6 504.3,47.4 509.1,44.6 514.0,43.4" fill="none" stroke="#880090" stroke-width="0.7" stroke-opacity="0.55" stroke-linejoin="round" stroke-linecap="round" />
<polyline points="454.0,71.4 459.0,69.1 464.0,67.8 469.0,64.6 474.0,62.2 479.0,60.9 484.0,58.5 489.0,55.7 494.0,52.4 499.0,49.7 504.0,47.1 509.0,45.2 514.0,43.7" fill="none" stroke="#880090" stroke-width="0.7" stroke-opacity="0.55" stroke-linejoin="round" stroke-linecap="round" />
<polyline points="460.2,72.4 464.7,71.9 469.2,69.9 473.7,68.8 478.2,64.4 482.6,65.6 487.1,61.9 491.6,58.4 496.1,56.7 500.6,55.6 505.0,53.1 509.5,53.1 514.0,51.0" fill="none" stroke="#880090" stroke-width="0.7" stroke-opacity="0.55" stroke-linejoin="round" stroke-linecap="round" />
<polyline points="454.7,75.0 459.6,75.7 464.6,71.2 469.5,69.6 474.5,69.6 479.4,64.6 484.4,62.7 489.3,60.7 494.2,57.7 499.2,54.6 504.1,51.8 509.1,51.1 514.0,48.3" fill="none" stroke="#880090" stroke-width="0.7" stroke-opacity="0.55" stroke-linejoin="round" stroke-linecap="round" />
<polyline points="457.5,57.4 462.2,53.5 466.9,55.1 471.6,54.5 476.3,53.9 481.0,51.3 485.7,51.2 490.4,50.0 495.2,48.9 499.9,48.3 504.6,46.4 509.3,46.8 514.0,42.4" fill="none" stroke="#880090" stroke-width="0.7" stroke-opacity="0.55" stroke-linejoin="round" stroke-linecap="round" />
<polyline points="456.3,76.2 461.1,73.8 465.9,70.2 470.7,68.3 475.5,64.7 480.4,61.6 485.2,59.7 490.0,57.9 494.8,54.9 499.6,52.3 504.4,48.9 509.2,46.7 514.0,43.3" fill="none" stroke="#880090" stroke-width="0.7" stroke-opacity="0.55" stroke-linejoin="round" stroke-linecap="round" />
<polyline points="460.6,78.8 465.0,78.0 469.5,72.6 473.9,70.8 478.4,69.7 482.8,63.0 487.3,62.4 491.7,58.2 496.2,56.7 500.6,53.6 505.1,52.4 509.5,46.8 514.0,46.6" fill="none" stroke="#880090" stroke-width="0.7" stroke-opacity="0.55" stroke-linejoin="round" stroke-linecap="round" />
<polyline points="452.3,76.2 457.5,74.9 462.6,70.7 467.7,70.1 472.9,67.8 478.0,64.5 483.2,63.8 488.3,58.3 493.4,56.8 498.6,53.7 503.7,49.9 508.9,48.2 514.0,48.1" fill="none" stroke="#880090" stroke-width="0.7" stroke-opacity="0.55" stroke-linejoin="round" stroke-linecap="round" />
<polyline points="457.5,66.9 462.2,66.2 466.9,65.4 471.6,64.3 476.3,63.0 481.1,66.3 485.8,60.7 490.5,63.2 495.2,59.9 499.9,59.3 504.6,58.1 509.3,56.1 514.0,57.5" fill="none" stroke="#880090" stroke-width="0.7" stroke-opacity="0.55" stroke-linejoin="round" stroke-linecap="round" />
<polyline points="453.0,70.3 458.1,68.7 463.2,67.0 468.3,65.2 473.3,62.1 478.4,60.3 483.5,57.4 488.6,55.3 493.7,54.2 498.8,50.3 503.8,50.4 508.9,46.2 514.0,45.0" fill="none" stroke="#880090" stroke-width="0.7" stroke-opacity="0.55" stroke-linejoin="round" stroke-linecap="round" />
<polyline points="455.9,64.2 460.8,64.2 465.6,61.4 470.4,60.8 475.3,57.8 480.1,58.0 485.0,56.3 489.8,53.1 494.6,52.3 499.5,51.6 504.3,50.7 509.2,47.8 514.0,47.8" fill="none" stroke="#880090" stroke-width="0.7" stroke-opacity="0.55" stroke-linejoin="round" stroke-linecap="round" />
<polyline points="458.1,64.7 462.7,64.9 467.4,62.8 472.1,62.5 476.7,61.5 481.4,61.3 486.0,59.3 490.7,58.0 495.4,59.8 500.0,57.3 504.7,56.4 509.3,57.3 514.0,55.3" fill="none" stroke="#880090" stroke-width="0.7" stroke-opacity="0.55" stroke-linejoin="round" stroke-linecap="round" />
<polyline points="454.0,69.4 459.0,66.3 464.0,66.8 469.0,63.9 474.0,62.1 479.0,61.1 484.0,60.6 489.0,56.8 494.0,55.6 499.0,53.2 504.0,52.6 509.0,49.4 514.0,47.6" fill="none" stroke="#880090" stroke-width="0.7" stroke-opacity="0.55" stroke-linejoin="round" stroke-linecap="round" />
<polyline points="457.6,62.6 462.3,61.2 467.0,60.7 471.7,61.6 476.4,59.3 481.1,58.4 485.8,56.2 490.5,56.2 495.2,53.4 499.9,53.1 504.6,52.8 509.3,52.7 514.0,50.1" fill="none" stroke="#880090" stroke-width="0.7" stroke-opacity="0.55" stroke-linejoin="round" stroke-linecap="round" />
<polyline points="454.0,77.7 459.0,75.4 464.0,69.9 469.0,70.3 474.0,68.7 479.0,62.3 484.0,64.1 489.0,58.1 494.0,56.1 499.0,54.3 504.0,51.6 509.0,48.2 514.0,47.4" fill="none" stroke="#880090" stroke-width="0.7" stroke-opacity="0.55" stroke-linejoin="round" stroke-linecap="round" />
<polyline points="461.9,55.3 466.2,52.5 470.6,53.5 474.9,51.7 479.3,51.8 483.6,49.1 488.0,48.1 492.3,46.3 496.6,44.9 501.0,43.8 505.3,44.0 509.7,43.4 514.0,43.8" fill="none" stroke="#880090" stroke-width="0.7" stroke-opacity="0.55" stroke-linejoin="round" stroke-linecap="round" />
<polyline points="453.5,78.1 458.5,75.8 463.6,73.8 468.6,70.4 473.7,70.0 478.7,68.0 483.7,67.7 488.8,64.8 493.8,61.3 498.9,60.1 503.9,59.8 509.0,56.9 514.0,56.6" fill="none" stroke="#880090" stroke-width="0.7" stroke-opacity="0.55" stroke-linejoin="round" stroke-linecap="round" />
<polyline points="461.6,61.2 466.0,59.5 470.4,58.1 474.7,56.4 479.1,55.8 483.4,57.4 487.8,55.1 492.2,53.6 496.5,52.1 500.9,51.0 505.3,49.5 509.6,49.8 514.0,49.3" fill="none" stroke="#880090" stroke-width="0.7" stroke-opacity="0.55" stroke-linejoin="round" stroke-linecap="round" />
<polyline points="460.0,82.6 464.5,79.9 469.0,77.5 473.5,74.3 478.0,69.6 482.5,67.8 487.0,66.1 491.5,59.7 496.0,57.9 500.5,55.4 505.0,51.3 509.5,47.1 514.0,44.7" fill="none" stroke="#880090" stroke-width="0.7" stroke-opacity="0.55" stroke-linejoin="round" stroke-linecap="round" />
<polyline points="461.7,59.2 466.0,57.9 470.4,57.3 474.7,55.8 479.1,55.2 483.5,56.3 487.8,53.4 492.2,54.8 496.6,51.6 500.9,53.1 505.3,51.0 509.6,50.9 514.0,49.3" fill="none" stroke="#880090" stroke-width="0.7" stroke-opacity="0.55" stroke-linejoin="round" stroke-linecap="round" />
<polyline points="456.2,83.4 461.0,80.9 465.8,80.5 470.6,76.9 475.4,73.8 480.3,71.8 485.1,71.0 489.9,68.2 494.7,66.1 499.5,63.1 504.4,61.5 509.2,59.9 514.0,57.9" fill="none" stroke="#880090" stroke-width="0.7" stroke-opacity="0.55" stroke-linejoin="round" stroke-linecap="round" />
<polyline points="461.6,59.7 466.0,59.0 470.3,59.3 474.7,58.1 479.1,59.2 483.4,57.5 487.8,57.3 492.2,56.1 496.5,56.7 500.9,55.3 505.3,56.1 509.6,56.4 514.0,54.1" fill="none" stroke="#880090" stroke-width="0.7" stroke-opacity="0.55" stroke-linejoin="round" stroke-linecap="round" />
<polyline points="455.1,51.1 460.0,47.5 464.9,49.5 469.8,48.7 474.7,48.5 479.6,48.6 484.5,47.6 489.5,47.0 494.4,45.9 499.3,45.8 504.2,45.3 509.1,45.3 514.0,46.2" fill="none" stroke="#880090" stroke-width="0.7" stroke-opacity="0.55" stroke-linejoin="round" stroke-linecap="round" />
<polyline points="459.3,50.1 463.9,50.5 468.4,51.0 473.0,50.2 477.6,51.8 482.1,50.9 486.7,54.0 491.2,54.8 495.8,54.2 500.3,55.1 504.9,55.1 509.4,54.0 514.0,55.9" fill="none" stroke="#880090" stroke-width="0.7" stroke-opacity="0.55" stroke-linejoin="round" stroke-linecap="round" />
<polyline points="456.4,78.2 461.2,75.2 466.0,72.1 470.8,71.2 475.6,66.2 480.4,64.9 485.2,61.5 490.0,59.2 494.8,57.2 499.6,54.6 504.4,52.8 509.2,46.8 514.0,45.0" fill="none" stroke="#880090" stroke-width="0.7" stroke-opacity="0.55" stroke-linejoin="round" stroke-linecap="round" />
<polyline points="461.6,68.1 465.9,66.6 470.3,65.3 474.7,62.0 479.0,62.0 483.4,57.0 487.8,58.5 492.1,55.5 496.5,55.2 500.9,52.5 505.3,52.2 509.6,51.3 514.0,50.0" fill="none" stroke="#880090" stroke-width="0.7" stroke-opacity="0.55" stroke-linejoin="round" stroke-linecap="round" />
<polyline points="461.9,48.8 466.3,48.7 470.6,48.9 475.0,48.6 479.3,50.3 483.6,49.3 488.0,49.6 492.3,52.0 496.6,49.5 501.0,51.1 505.3,49.5 509.7,51.0 514.0,50.7" fill="none" stroke="#880090" stroke-width="0.7" stroke-opacity="0.55" stroke-linejoin="round" stroke-linecap="round" />
<polyline points="454.0,68.2 459.0,65.6 464.0,64.6 469.0,60.5 474.0,60.0 479.0,58.4 484.0,57.0 489.0,55.7 494.0,52.5 499.0,50.0 504.0,48.6 509.0,46.8 514.0,44.4" fill="none" stroke="#880090" stroke-width="0.7" stroke-opacity="0.55" stroke-linejoin="round" stroke-linecap="round" />
<polyline points="457.7,78.0 462.4,77.6 467.1,74.4 471.8,71.7 476.5,69.7 481.2,69.1 485.9,65.7 490.6,61.7 495.2,58.7 499.9,56.7 504.6,53.2 509.3,51.8 514.0,49.3" fill="none" stroke="#880090" stroke-width="0.7" stroke-opacity="0.55" stroke-linejoin="round" stroke-linecap="round" />
<polyline points="461.5,64.7 465.9,64.5 470.3,62.0 474.7,61.3 479.0,61.1 483.4,60.0 487.8,60.1 492.1,58.4 496.5,58.7 500.9,58.2 505.3,59.6 509.6,55.8 514.0,56.6" fill="none" stroke="#880090" stroke-width="0.7" stroke-opacity="0.55" stroke-linejoin="round" stroke-linecap="round" />
<polyline points="457.5,76.2 462.2,73.5 466.9,72.1 471.6,68.3 476.3,65.9 481.0,62.1 485.7,60.1 490.4,57.4 495.2,54.9 499.9,51.5 504.6,48.7 509.3,46.0 514.0,42.8" fill="none" stroke="#880090" stroke-width="0.7" stroke-opacity="0.55" stroke-linejoin="round" stroke-linecap="round" />
<polyline points="453.2,82.8 458.3,81.2 463.3,78.8 468.4,75.1 473.5,72.5 478.5,68.8 483.6,65.3 488.7,61.0 493.7,60.1 498.8,57.5 503.9,54.5 508.9,50.5 514.0,48.2" fill="none" stroke="#880090" stroke-width="0.7" stroke-opacity="0.55" stroke-linejoin="round" stroke-linecap="round" />
<polyline points="458.7,83.1 463.3,80.8 467.9,76.1 472.5,73.9 477.1,71.6 481.7,67.1 486.3,65.5 490.9,59.7 495.6,56.9 500.2,55.1 504.8,51.5 509.4,49.9 514.0,45.5" fill="none" stroke="#880090" stroke-width="0.7" stroke-opacity="0.55" stroke-linejoin="round" stroke-linecap="round" />
<polyline points="454.7,55.9 459.6,56.3 464.6,54.8 469.5,54.7 474.5,52.9 479.4,55.8 484.4,52.9 489.3,53.3 494.2,51.7 499.2,53.1 504.1,51.5 509.1,52.0 514.0,51.1" fill="none" stroke="#880090" stroke-width="0.7" stroke-opacity="0.55" stroke-linejoin="round" stroke-linecap="round" />
<polyline points="459.1,75.0 463.6,72.3 468.2,71.8 472.8,68.8 477.4,67.1 481.9,63.7 486.5,61.6 491.1,60.0 495.7,57.7 500.3,54.8 504.8,50.7 509.4,51.0 514.0,46.4" fill="none" stroke="#880090" stroke-width="0.7" stroke-opacity="0.55" stroke-linejoin="round" stroke-linecap="round" />
<polyline points="453.5,87.7 458.6,84.3 463.6,79.9 468.6,76.8 473.7,73.8 478.7,70.5 483.8,65.6 488.8,62.5 493.8,57.1 498.9,54.0 503.9,52.4 509.0,48.0 514.0,43.0" fill="none" stroke="#880090" stroke-width="0.7" stroke-opacity="0.55" stroke-linejoin="round" stroke-linecap="round" />
<polyline points="460.2,68.4 464.7,67.9 469.2,65.5 473.7,65.9 478.2,63.9 482.6,63.7 487.1,61.4 491.6,58.5 496.1,58.9 500.6,58.2 505.0,55.0 509.5,54.7 514.0,53.0" fill="none" stroke="#880090" stroke-width="0.7" stroke-opacity="0.55" stroke-linejoin="round" stroke-linecap="round" />
<polyline points="454.2,77.7 459.2,74.1 464.2,72.2 469.1,70.5 474.1,68.9 479.1,65.4 484.1,64.1 489.1,60.3 494.1,58.7 499.0,57.5 504.0,54.9 509.0,53.5 514.0,51.8" fill="none" stroke="#880090" stroke-width="0.7" stroke-opacity="0.55" stroke-linejoin="round" stroke-linecap="round" />
<polyline points="456.7,47.5 461.5,49.6 466.2,48.5 471.0,47.1 475.8,47.3 480.6,46.3 485.3,44.3 490.1,45.3 494.9,43.9 499.7,42.6 504.4,43.7 509.2,42.3 514.0,40.6" fill="none" stroke="#880090" stroke-width="0.7" stroke-opacity="0.55" stroke-linejoin="round" stroke-linecap="round" />
<polyline points="457.7,56.7 462.4,54.5 467.1,55.0 471.8,52.0 476.5,51.7 481.1,52.5 485.8,52.0 490.5,49.4 495.2,49.5 499.9,49.6 504.6,48.5 509.3,47.1 514.0,47.1" fill="none" stroke="#880090" stroke-width="0.7" stroke-opacity="0.55" stroke-linejoin="round" stroke-linecap="round" />
<polyline points="461.4,76.2 465.8,72.6 470.1,70.9 474.5,69.8 478.9,67.1 483.3,63.2 487.7,62.0 492.1,61.1 496.5,59.8 500.8,57.5 505.2,55.5 509.6,53.3 514.0,50.4" fill="none" stroke="#880090" stroke-width="0.7" stroke-opacity="0.55" stroke-linejoin="round" stroke-linecap="round" />
<polyline points="452.3,80.6 457.4,79.3 462.5,76.4 467.7,74.4 472.8,72.0 478.0,70.6 483.1,66.5 488.3,65.7 493.4,63.6 498.6,60.9 503.7,60.1 508.9,58.0 514.0,54.1" fill="none" stroke="#880090" stroke-width="0.7" stroke-opacity="0.55" stroke-linejoin="round" stroke-linecap="round" />
<polyline points="461.3,61.3 465.7,59.4 470.1,59.2 474.5,58.0 478.9,59.6 483.3,57.5 487.7,57.5 492.1,57.1 496.4,57.1 500.8,55.2 505.2,57.1 509.6,55.0 514.0,56.0" fill="none" stroke="#880090" stroke-width="0.7" stroke-opacity="0.55" stroke-linejoin="round" stroke-linecap="round" />
<polyline points="456.2,53.5 461.0,55.5 465.8,54.2 470.6,54.5 475.4,53.0 480.3,52.6 485.1,54.3 489.9,53.6 494.7,54.0 499.5,52.3 504.4,52.4 509.2,52.9 514.0,52.1" fill="none" stroke="#880090" stroke-width="0.7" stroke-opacity="0.55" stroke-linejoin="round" stroke-linecap="round" />
<polyline points="461.7,85.8 466.0,81.6 470.4,79.3 474.8,75.9 479.1,74.3 483.5,71.2 487.8,68.2 492.2,67.0 496.6,61.6 500.9,60.1 505.3,57.4 509.6,54.9 514.0,51.5" fill="none" stroke="#880090" stroke-width="0.7" stroke-opacity="0.55" stroke-linejoin="round" stroke-linecap="round" />
<polyline points="454.1,61.0 459.1,59.0 464.1,57.5 469.1,55.9 474.1,54.4 479.0,53.7 484.0,52.8 489.0,49.2 494.0,50.5 499.0,47.7 504.0,48.1 509.0,47.0 514.0,46.0" fill="none" stroke="#880090" stroke-width="0.7" stroke-opacity="0.55" stroke-linejoin="round" stroke-linecap="round" />
<polyline points="454.8,60.6 459.8,59.5 464.7,58.2 469.6,58.9 474.6,59.5 479.5,57.5 484.4,57.9 489.4,56.2 494.3,56.5 499.2,56.2 504.1,55.3 509.1,55.2 514.0,54.9" fill="none" stroke="#880090" stroke-width="0.7" stroke-opacity="0.55" stroke-linejoin="round" stroke-linecap="round" />
<polyline points="459.9,69.2 464.4,67.6 468.9,65.6 473.4,63.2 477.9,60.2 482.4,58.7 486.9,58.2 491.4,56.2 496.0,52.6 500.5,51.4 505.0,47.5 509.5,47.9 514.0,44.8" fill="none" stroke="#880090" stroke-width="0.7" stroke-opacity="0.55" stroke-linejoin="round" stroke-linecap="round" />
<polyline points="457.0,67.9 461.8,69.1 466.5,66.4 471.3,65.0 476.0,60.3 480.8,60.7 485.5,57.0 490.3,56.4 495.0,53.5 499.8,51.7 504.5,50.1 509.3,49.3 514.0,45.9" fill="none" stroke="#880090" stroke-width="0.7" stroke-opacity="0.55" stroke-linejoin="round" stroke-linecap="round" />
<polyline points="458.2,55.5 462.9,56.9 467.5,54.5 472.2,54.6 476.8,56.2 481.5,55.2 486.1,55.7 490.8,57.2 495.4,56.6 500.1,57.7 504.7,55.9 509.4,56.7 514.0,57.1" fill="none" stroke="#880090" stroke-width="0.7" stroke-opacity="0.55" stroke-linejoin="round" stroke-linecap="round" />
<polyline points="460.0,71.4 464.5,70.4 469.0,67.5 473.5,67.4 478.0,65.1 482.5,63.3 487.0,64.8 491.5,62.0 496.0,62.0 500.5,59.2 505.0,58.1 509.5,55.4 514.0,55.0" fill="none" stroke="#880090" stroke-width="0.7" stroke-opacity="0.55" stroke-linejoin="round" stroke-linecap="round" />
<polyline points="461.0,85.5 465.4,81.0 469.8,76.9 474.2,73.1 478.7,70.5 483.1,69.0 487.5,65.9 491.9,62.1 496.3,60.3 500.7,58.0 505.2,54.1 509.6,50.2 514.0,46.7" fill="none" stroke="#880090" stroke-width="0.7" stroke-opacity="0.55" stroke-linejoin="round" stroke-linecap="round" />
<polyline points="454.8,60.1 459.8,60.1 464.7,58.5 469.6,60.3 474.6,60.3 479.5,58.2 484.4,57.8 489.3,57.8 494.3,56.6 499.2,56.5 504.1,55.6 509.1,55.6 514.0,54.2" fill="none" stroke="#880090" stroke-width="0.7" stroke-opacity="0.55" stroke-linejoin="round" stroke-linecap="round" />
<polyline points="452.1,77.1 457.3,73.9 462.4,72.2 467.6,68.3 472.8,65.9 477.9,63.5 483.1,60.0 488.2,57.2 493.4,55.6 498.5,53.3 503.7,49.6 508.8,46.3 514.0,43.9" fill="none" stroke="#880090" stroke-width="0.7" stroke-opacity="0.55" stroke-linejoin="round" stroke-linecap="round" />
<polyline points="461.2,70.1 465.6,69.0 470.0,65.1 474.4,62.3 478.8,61.0 483.2,58.4 487.6,54.8 492.0,53.4 496.4,50.3 500.8,47.7 505.2,47.3 509.6,44.4 514.0,42.4" fill="none" stroke="#880090" stroke-width="0.7" stroke-opacity="0.55" stroke-linejoin="round" stroke-linecap="round" />
<polyline points="460.6,57.1 465.1,57.9 469.5,57.3 474.0,54.9 478.4,51.7 482.9,52.4 487.3,51.9 491.8,50.6 496.2,49.0 500.7,46.9 505.1,47.3 509.6,45.9 514.0,44.5" fill="none" stroke="#880090" stroke-width="0.7" stroke-opacity="0.55" stroke-linejoin="round" stroke-linecap="round" />
<polyline points="461.2,49.1 465.6,50.1 470.0,50.2 474.4,50.6 478.8,47.9 483.2,47.4 487.6,48.8 492.0,48.0 496.4,45.9 500.8,47.8 505.2,48.3 509.6,48.0 514.0,45.5" fill="none" stroke="#880090" stroke-width="0.7" stroke-opacity="0.55" stroke-linejoin="round" stroke-linecap="round" />
<polyline points="461.8,70.5 466.1,67.0 470.5,63.4 474.8,63.4 479.2,62.4 483.5,59.1 487.9,58.9 492.2,57.2 496.6,55.0 500.9,53.3 505.3,49.9 509.6,48.7 514.0,46.3" fill="none" stroke="#880090" stroke-width="0.7" stroke-opacity="0.55" stroke-linejoin="round" stroke-linecap="round" />
<polyline points="461.5,84.6 465.9,82.2 470.3,80.0 474.7,76.0 479.0,70.2 483.4,67.7 487.8,65.9 492.1,63.0 496.5,58.6 500.9,54.4 505.3,51.2 509.6,49.8 514.0,46.0" fill="none" stroke="#880090" stroke-width="0.7" stroke-opacity="0.55" stroke-linejoin="round" stroke-linecap="round" />
<polyline points="456.2,83.2 461.0,79.2 465.8,78.0 470.6,75.3 475.5,72.0 480.3,67.9 485.1,66.3 489.9,63.7 494.7,61.4 499.5,58.3 504.4,55.3 509.2,54.4 514.0,51.3" fill="none" stroke="#880090" stroke-width="0.7" stroke-opacity="0.55" stroke-linejoin="round" stroke-linecap="round" />
<polyline points="458.7,62.8 463.3,61.0 467.9,60.8 472.5,59.6 477.1,59.5 481.7,58.9 486.3,59.7 491.0,57.6 495.6,56.6 500.2,55.3 504.8,54.5 509.4,54.2 514.0,52.5" fill="none" stroke="#880090" stroke-width="0.7" stroke-opacity="0.55" stroke-linejoin="round" stroke-linecap="round" />
<polyline points="456.8,66.2 461.6,64.5 466.4,60.8 471.1,60.6 475.9,59.9 480.6,58.2 485.4,56.1 490.2,54.5 494.9,54.6 499.7,50.7 504.5,49.0 509.2,46.9 514.0,45.8" fill="none" stroke="#880090" stroke-width="0.7" stroke-opacity="0.55" stroke-linejoin="round" stroke-linecap="round" />
<polyline points="453.2,55.3 458.2,55.3 463.3,55.1 468.4,55.8 473.4,55.3 478.5,56.6 483.6,56.7 488.7,55.3 493.7,56.7 498.8,55.4 503.9,55.1 508.9,54.8 514.0,52.6" fill="none" stroke="#880090" stroke-width="0.7" stroke-opacity="0.55" stroke-linejoin="round" stroke-linecap="round" />
<polyline points="455.3,64.6 460.2,62.5 465.1,62.7 470.0,61.3 474.9,58.4 479.8,58.7 484.6,57.8 489.5,58.0 494.4,54.0 499.3,53.5 504.2,52.5 509.1,51.1 514.0,51.7" fill="none" stroke="#880090" stroke-width="0.7" stroke-opacity="0.55" stroke-linejoin="round" stroke-linecap="round" />
<polyline points="452.4,57.5 457.5,58.1 462.7,54.3 467.8,53.7 472.9,53.5 478.1,52.3 483.2,53.6 488.3,53.6 493.5,49.9 498.6,49.7 503.7,50.2 508.9,51.2 514.0,48.7" fill="none" stroke="#880090" stroke-width="0.7" stroke-opacity="0.55" stroke-linejoin="round" stroke-linecap="round" />
<polyline points="458.0,51.9 462.7,52.2 467.4,51.3 472.0,51.3 476.7,50.4 481.3,51.5 486.0,50.6 490.7,49.4 495.3,52.4 500.0,50.0 504.7,50.5 509.3,51.6 514.0,49.7" fill="none" stroke="#880090" stroke-width="0.7" stroke-opacity="0.55" stroke-linejoin="round" stroke-linecap="round" />
<polyline points="458.1,52.1 462.8,52.2 467.5,54.2 472.1,50.6 476.8,51.9 481.4,52.3 486.1,50.8 490.7,51.7 495.4,48.4 500.0,47.2 504.7,49.0 509.3,47.4 514.0,46.3" fill="none" stroke="#880090" stroke-width="0.7" stroke-opacity="0.55" stroke-linejoin="round" stroke-linecap="round" />
<polyline points="461.9,52.7 466.2,51.3 470.6,50.5 474.9,50.3 479.3,51.9 483.6,52.1 487.9,50.7 492.3,51.4 496.6,52.6 501.0,50.6 505.3,52.2 509.7,52.7 514.0,49.9" fill="none" stroke="#880090" stroke-width="0.7" stroke-opacity="0.55" stroke-linejoin="round" stroke-linecap="round" />
<polyline points="452.5,86.0 457.7,84.1 462.8,82.2 467.9,79.3 473.0,76.2 478.2,74.5 483.3,70.1 488.4,67.2 493.5,64.2 498.6,64.2 503.8,59.5 508.9,57.1 514.0,54.4" fill="none" stroke="#880090" stroke-width="0.7" stroke-opacity="0.55" stroke-linejoin="round" stroke-linecap="round" />
<polyline points="454.0,68.4 459.0,65.6 464.0,62.5 469.0,62.4 474.0,58.5 479.0,58.3 484.0,55.7 489.0,51.2 494.0,50.7 499.0,49.5 504.0,44.8 509.0,44.0 514.0,42.0" fill="none" stroke="#880090" stroke-width="0.7" stroke-opacity="0.55" stroke-linejoin="round" stroke-linecap="round" />
<polyline points="459.8,58.1 464.3,56.6 468.9,57.9 473.4,55.7 477.9,56.8 482.4,56.0 486.9,56.5 491.4,57.1 495.9,54.5 500.5,54.9 505.0,54.6 509.5,54.5 514.0,52.8" fill="none" stroke="#880090" stroke-width="0.7" stroke-opacity="0.55" stroke-linejoin="round" stroke-linecap="round" />
<polyline points="458.0,74.0 462.7,71.4 467.4,70.2 472.0,67.3 476.7,66.6 481.4,64.4 486.0,60.5 490.7,60.1 495.3,56.2 500.0,55.2 504.7,54.8 509.3,53.4 514.0,49.6" fill="none" stroke="#880090" stroke-width="0.7" stroke-opacity="0.55" stroke-linejoin="round" stroke-linecap="round" />
<polyline points="453.0,75.3 458.1,73.9 463.2,69.8 468.3,70.6 473.3,67.6 478.4,66.1 483.5,62.5 488.6,59.7 493.7,57.5 498.8,56.4 503.8,53.9 508.9,50.5 514.0,48.3" fill="none" stroke="#880090" stroke-width="0.7" stroke-opacity="0.55" stroke-linejoin="round" stroke-linecap="round" />
<polyline points="458.2,80.5 462.9,77.7 467.5,74.6 472.2,71.7 476.8,68.4 481.5,65.4 486.1,63.0 490.8,58.9 495.4,56.1 500.1,52.0 504.7,49.2 509.4,46.8 514.0,44.3" fill="none" stroke="#880090" stroke-width="0.7" stroke-opacity="0.55" stroke-linejoin="round" stroke-linecap="round" />
<polyline points="460.6,86.2 465.1,85.8 469.5,82.4 474.0,77.5 478.4,74.5 482.9,71.8 487.3,69.5 491.8,69.6 496.2,63.7 500.7,62.2 505.1,58.8 509.6,54.8 514.0,53.2" fill="none" stroke="#880090" stroke-width="0.7" stroke-opacity="0.55" stroke-linejoin="round" stroke-linecap="round" />
<polyline points="459.5,55.9 464.1,55.8 468.6,54.5 473.1,53.6 477.7,56.0 482.2,55.3 486.8,55.9 491.3,54.3 495.8,54.8 500.4,55.8 504.9,55.5 509.5,55.4 514.0,54.8" fill="none" stroke="#880090" stroke-width="0.7" stroke-opacity="0.55" stroke-linejoin="round" stroke-linecap="round" />
<polyline points="453.4,56.3 458.4,55.5 463.5,55.1 468.5,54.6 473.6,52.7 478.6,51.2 483.7,50.4 488.7,51.9 493.8,49.1 498.8,50.3 503.9,47.0 508.9,46.8 514.0,44.3" fill="none" stroke="#880090" stroke-width="0.7" stroke-opacity="0.55" stroke-linejoin="round" stroke-linecap="round" />
<polyline points="455.3,61.9 460.2,60.1 465.1,60.2 470.0,58.6 474.9,57.0 479.8,58.1 484.7,55.4 489.5,54.9 494.4,55.5 499.3,54.7 504.2,52.8 509.1,52.6 514.0,51.3" fill="none" stroke="#880090" stroke-width="0.7" stroke-opacity="0.55" stroke-linejoin="round" stroke-linecap="round" />
<polyline points="461.4,66.2 465.7,64.0 470.1,62.4 474.5,60.1 478.9,60.1 483.3,56.9 487.7,55.7 492.1,52.5 496.5,52.6 500.8,50.2 505.2,46.7 509.6,44.4 514.0,41.9" fill="none" stroke="#880090" stroke-width="0.7" stroke-opacity="0.55" stroke-linejoin="round" stroke-linecap="round" />
<polyline points="454.5,75.0 459.5,71.5 464.4,70.0 469.4,69.1 474.4,68.3 479.3,66.9 484.3,67.2 489.2,64.2 494.2,61.4 499.1,61.7 504.1,57.8 509.0,58.7 514.0,56.5" fill="none" stroke="#880090" stroke-width="0.7" stroke-opacity="0.55" stroke-linejoin="round" stroke-linecap="round" />
<polyline points="461.4,72.7 465.8,72.2 470.2,70.4 474.6,65.8 479.0,63.7 483.3,62.0 487.7,58.9 492.1,56.3 496.5,53.5 500.9,52.8 505.2,50.5 509.6,48.3 514.0,43.2" fill="none" stroke="#880090" stroke-width="0.7" stroke-opacity="0.55" stroke-linejoin="round" stroke-linecap="round" />
<polyline points="453.6,75.7 458.6,72.9 463.6,70.8 468.7,68.9 473.7,66.6 478.8,66.1 483.8,62.2 488.8,61.3 493.9,59.0 498.9,57.3 503.9,54.7 509.0,52.6 514.0,51.9" fill="none" stroke="#880090" stroke-width="0.7" stroke-opacity="0.55" stroke-linejoin="round" stroke-linecap="round" />
<polyline points="456.2,75.4 461.0,73.9 465.8,72.0 470.6,68.5 475.4,66.9 480.3,66.5 485.1,63.7 489.9,61.8 494.7,60.2 499.5,58.8 504.4,57.0 509.2,54.9 514.0,53.4" fill="none" stroke="#880090" stroke-width="0.7" stroke-opacity="0.55" stroke-linejoin="round" stroke-linecap="round" />
<polyline points="457.9,51.2 462.6,52.7 467.2,52.5 471.9,54.9 476.6,53.4 481.3,52.8 485.9,54.0 490.6,54.3 495.3,56.0 500.0,55.2 504.6,56.1 509.3,55.6 514.0,54.9" fill="none" stroke="#880090" stroke-width="0.7" stroke-opacity="0.55" stroke-linejoin="round" stroke-linecap="round" />
<polyline points="461.5,59.8 465.9,59.6 470.3,58.1 474.7,60.3 479.0,58.2 483.4,58.3 487.8,58.5 492.1,57.9 496.5,57.7 500.9,56.1 505.3,57.5 509.6,56.5 514.0,56.4" fill="none" stroke="#880090" stroke-width="0.7" stroke-opacity="0.55" stroke-linejoin="round" stroke-linecap="round" />
<polyline points="460.8,62.8 465.2,59.3 469.7,59.2 474.1,59.9 478.5,56.9 483.0,57.2 487.4,54.3 491.8,53.7 496.3,52.0 500.7,51.4 505.1,50.7 509.6,48.8 514.0,48.4" fill="none" stroke="#880090" stroke-width="0.7" stroke-opacity="0.55" stroke-linejoin="round" stroke-linecap="round" />
<polyline points="460.8,47.8 465.2,47.9 469.7,47.8 474.1,47.5 478.5,48.2 483.0,47.8 487.4,47.6 491.8,49.8 496.3,51.0 500.7,48.6 505.1,48.2 509.6,47.7 514.0,48.8" fill="none" stroke="#880090" stroke-width="0.7" stroke-opacity="0.55" stroke-linejoin="round" stroke-linecap="round" />
<polyline points="453.6,70.8 458.6,67.1 463.6,66.8 468.7,65.3 473.7,63.9 478.7,62.0 483.8,58.6 488.8,56.7 493.9,56.1 498.9,56.0 503.9,53.3 509.0,50.1 514.0,49.3" fill="none" stroke="#880090" stroke-width="0.7" stroke-opacity="0.55" stroke-linejoin="round" stroke-linecap="round" />
<polyline points="458.2,77.2 462.9,73.9 467.5,70.8 472.2,68.5 476.8,65.7 481.5,60.7 486.1,60.1 490.8,56.8 495.4,52.8 500.1,51.9 504.7,47.9 509.4,45.2 514.0,42.8" fill="none" stroke="#880090" stroke-width="0.7" stroke-opacity="0.55" stroke-linejoin="round" stroke-linecap="round" />
<polyline points="455.9,84.3 460.8,80.1 465.6,79.8 470.5,75.8 475.3,71.8 480.1,68.3 485.0,66.1 489.8,62.6 494.6,58.1 499.5,56.7 504.3,53.5 509.2,48.7 514.0,42.8" fill="none" stroke="#880090" stroke-width="0.7" stroke-opacity="0.55" stroke-linejoin="round" stroke-linecap="round" />
<polyline points="456.7,86.7 461.5,81.8 466.3,79.1 471.0,75.2 475.8,71.8 480.6,68.6 485.4,66.9 490.1,64.6 494.9,59.8 499.7,56.7 504.5,52.5 509.2,51.0 514.0,47.0" fill="none" stroke="#880090" stroke-width="0.7" stroke-opacity="0.55" stroke-linejoin="round" stroke-linecap="round" />
<polyline points="452.8,86.8 457.9,83.8 463.0,82.2 468.1,77.9 473.2,76.4 478.3,72.9 483.4,71.1 488.5,69.2 493.6,66.5 498.7,64.0 503.8,62.0 508.9,60.1 514.0,54.4" fill="none" stroke="#880090" stroke-width="0.7" stroke-opacity="0.55" stroke-linejoin="round" stroke-linecap="round" />
</g>
<rect x="329.50" y="15.40" width="198.90" height="185.60" fill="none" stroke="#000" stroke-width="2.2"/>
<path d="M417,142 C416,108 402,80 374,66" fill="none" stroke="#000" stroke-width="1.3"/>
<path d="M370,64 l6.5,0.3 l-2.4,4.2 z" fill="#000"/>
<path d="M510,76 C480,82 452,100 446,132" fill="none" stroke="#000" stroke-width="1.3"/>
<path d="M445.5,137.5 l-2.3,-6.2 l4.6,0.4 z" fill="#000"/>
<text x="323.70" y="47.46" font-size="15.5" text-anchor="end" font-weight="bold">10<tspan font-size="10.0" dy="-6.24">-3</tspan></text>
<text x="323.70" y="100.49" font-size="15.5" text-anchor="end" font-weight="bold">10<tspan font-size="10.0" dy="-6.24">-5</tspan></text>
<text x="323.70" y="153.52" font-size="15.5" text-anchor="end" font-weight="bold">10<tspan font-size="10.0" dy="-6.24">-7</tspan></text>
<text x="323.70" y="206.55" font-size="15.5" text-anchor="end" font-weight="bold">10<tspan font-size="10.0" dy="-6.24">-9</tspan></text>
<text x="329.30" y="218.64" font-size="15.0" text-anchor="middle" font-weight="bold">-1.5</text>
<text x="362.50" y="218.64" font-size="15.0" text-anchor="middle" font-weight="bold">-1.0</text>
<text x="395.70" y="218.64" font-size="15.0" text-anchor="middle" font-weight="bold">-0.5</text>
<text x="428.90" y="218.64" font-size="15.0" text-anchor="middle" font-weight="bold">0.0</text>
<text x="462.10" y="218.64" font-size="15.0" text-anchor="middle" font-weight="bold">0.5</text>
<text x="495.30" y="218.64" font-size="15.0" text-anchor="middle" font-weight="bold">1.0</text>
<text x="528.50" y="218.64" font-size="15.0" text-anchor="middle" font-weight="bold">1.5</text>
<line x1="60.20" y1="431.94" x2="62.20" y2="431.94" stroke="#000" stroke-width="0.9"/>
<line x1="60.20" y1="423.13" x2="62.20" y2="423.13" stroke="#000" stroke-width="0.9"/>
<line x1="60.20" y1="416.88" x2="62.20" y2="416.88" stroke="#000" stroke-width="0.9"/>
<line x1="60.20" y1="412.03" x2="62.20" y2="412.03" stroke="#000" stroke-width="0.9"/>
<line x1="60.20" y1="408.07" x2="62.20" y2="408.07" stroke="#000" stroke-width="0.9"/>
<line x1="60.20" y1="404.72" x2="62.20" y2="404.72" stroke="#000" stroke-width="0.9"/>
<line x1="60.20" y1="401.82" x2="62.20" y2="401.82" stroke="#000" stroke-width="0.9"/>
<line x1="60.20" y1="399.26" x2="62.20" y2="399.26" stroke="#000" stroke-width="0.9"/>
<line x1="60.20" y1="381.91" x2="62.20" y2="381.91" stroke="#000" stroke-width="0.9"/>
<line x1="60.20" y1="373.09" x2="62.20" y2="373.09" stroke="#000" stroke-width="0.9"/>
<line x1="60.20" y1="366.84" x2="62.20" y2="366.84" stroke="#000" stroke-width="0.9"/>
<line x1="60.20" y1="361.99" x2="62.20" y2="361.99" stroke="#000" stroke-width="0.9"/>
<line x1="60.20" y1="358.03" x2="62.20" y2="358.03" stroke="#000" stroke-width="0.9"/>
<line x1="60.20" y1="354.68" x2="62.20" y2="354.68" stroke="#000" stroke-width="0.9"/>
<line x1="60.20" y1="351.78" x2="62.20" y2="351.78" stroke="#000" stroke-width="0.9"/>
<line x1="60.20" y1="349.22" x2="62.20" y2="349.22" stroke="#000" stroke-width="0.9"/>
<line x1="60.20" y1="331.87" x2="62.20" y2="331.87" stroke="#000" stroke-width="0.9"/>
<line x1="60.20" y1="323.06" x2="62.20" y2="323.06" stroke="#000" stroke-width="0.9"/>
<line x1="60.20" y1="316.81" x2="62.20" y2="316.81" stroke="#000" stroke-width="0.9"/>
<line x1="60.20" y1="311.96" x2="62.20" y2="311.96" stroke="#000" stroke-width="0.9"/>
<line x1="60.20" y1="308.00" x2="62.20" y2="308.00" stroke="#000" stroke-width="0.9"/>
<line x1="60.20" y1="304.65" x2="62.20" y2="304.65" stroke="#000" stroke-width="0.9"/>
<line x1="60.20" y1="301.75" x2="62.20" y2="301.75" stroke="#000" stroke-width="0.9"/>
<line x1="60.20" y1="299.19" x2="62.20" y2="299.19" stroke="#000" stroke-width="0.9"/>
<line x1="60.20" y1="281.84" x2="62.20" y2="281.84" stroke="#000" stroke-width="0.9"/>
<line x1="60.20" y1="273.03" x2="62.20" y2="273.03" stroke="#000" stroke-width="0.9"/>
<line x1="60.20" y1="266.78" x2="62.20" y2="266.78" stroke="#000" stroke-width="0.9"/>
<line x1="60.20" y1="261.93" x2="62.20" y2="261.93" stroke="#000" stroke-width="0.9"/>
<line x1="58.20" y1="447.00" x2="62.20" y2="447.00" stroke="#000" stroke-width="1.7"/>
<line x1="58.20" y1="396.97" x2="62.20" y2="396.97" stroke="#000" stroke-width="1.7"/>
<line x1="58.20" y1="346.93" x2="62.20" y2="346.93" stroke="#000" stroke-width="1.7"/>
<line x1="58.20" y1="296.90" x2="62.20" y2="296.90" stroke="#000" stroke-width="1.7"/>
<line x1="68.30" y1="447.00" x2="68.30" y2="450.00" stroke="#000" stroke-width="1.7"/>
<line x1="93.96" y1="447.00" x2="93.96" y2="449.00" stroke="#000" stroke-width="1.7"/>
<line x1="119.62" y1="447.00" x2="119.62" y2="450.00" stroke="#000" stroke-width="1.7"/>
<line x1="145.28" y1="447.00" x2="145.28" y2="449.00" stroke="#000" stroke-width="1.7"/>
<line x1="170.94" y1="447.00" x2="170.94" y2="450.00" stroke="#000" stroke-width="1.7"/>
<line x1="196.60" y1="447.00" x2="196.60" y2="449.00" stroke="#000" stroke-width="1.7"/>
<line x1="222.26" y1="447.00" x2="222.26" y2="450.00" stroke="#000" stroke-width="1.7"/>
<line x1="247.92" y1="447.00" x2="247.92" y2="449.00" stroke="#000" stroke-width="1.7"/>
<path d="M68.3 307.8h0M68.6 311.8h0M68.8 304.3h0M69.1 310.9h0M69.3 306.6h0M69.6 306.6h0M69.8 314.0h0M70.1 308.0h0M70.4 307.4h0M70.6 310.0h0M70.9 311.3h0M71.1 307.4h0M71.4 309.5h0M71.6 304.2h0M71.9 306.3h0M72.1 306.0h0M72.4 303.0h0M72.7 302.4h0M72.9 302.0h0M73.2 306.7h0M73.4 306.9h0M73.7 306.4h0M73.9 307.7h0M74.2 303.0h0M74.5 307.2h0M74.7 308.3h0M75.0 310.1h0M75.2 304.6h0M75.5 306.1h0M75.7 300.6h0M76.0 305.8h0M76.3 300.0h0M76.5 302.7h0M76.8 311.2h0M77.0 300.0h0M77.3 310.2h0M77.5 308.6h0M77.8 306.4h0M78.1 309.1h0M78.3 309.3h0M78.6 311.1h0M78.8 306.7h0M79.1 305.5h0M79.3 305.4h0M79.6 304.1h0M79.8 307.3h0M80.1 304.8h0M80.4 311.1h0M80.6 301.1h0M80.9 303.8h0M81.1 304.3h0M81.4 300.4h0M81.6 314.0h0M81.9 299.3h0M82.2 306.5h0M82.4 305.7h0M82.7 313.1h0M82.9 300.7h0M83.2 311.1h0M83.4 305.0h0M83.7 307.0h0M84.0 305.2h0M84.2 309.7h0M84.5 303.6h0M84.7 307.2h0M82.5 332.8h0M69.8 329.4h0M75.1 317.7h0M73.2 328.8h0M82.9 315.8h0M78.5 315.8h0M85.0 309.2h0M85.2 307.6h0M85.5 305.4h0M85.7 315.9h0M86.0 302.3h0M86.3 296.6h0M86.5 309.0h0M86.8 309.2h0M87.0 311.2h0M87.3 309.5h0M87.5 309.9h0M87.8 311.8h0M88.1 314.3h0M88.3 309.6h0M88.6 310.1h0M88.8 318.4h0M89.1 313.7h0M89.3 308.7h0M89.6 320.5h0M89.9 315.3h0M90.1 310.8h0M90.4 309.0h0M90.6 314.4h0M90.9 310.7h0M91.1 310.1h0M91.4 309.5h0M91.7 312.5h0M91.9 318.4h0M92.2 313.3h0M92.4 310.0h0M92.7 317.6h0M92.9 315.8h0M93.2 318.7h0M93.4 320.2h0M93.7 315.7h0M94.0 316.0h0M94.2 316.6h0M94.5 313.0h0M94.7 319.6h0M95.0 322.3h0M95.2 318.3h0M95.5 317.1h0M95.8 317.3h0M96.0 315.7h0M96.3 315.9h0M96.5 317.5h0M96.8 316.2h0M97.0 317.9h0M97.3 314.1h0M97.6 321.1h0M97.8 320.3h0M98.1 316.4h0M98.3 312.6h0M98.6 320.8h0M98.8 325.0h0M99.1 318.8h0M99.3 319.9h0M99.6 319.9h0M99.9 324.4h0M100.1 319.1h0M100.4 326.0h0M100.6 321.8h0M100.9 326.3h0M101.1 323.4h0M101.4 322.7h0M101.7 318.6h0M101.9 321.6h0M102.2 323.4h0M102.4 326.8h0M102.7 325.6h0M88.3 326.3h0M97.5 319.9h0M90.8 324.3h0M100.0 326.3h0M100.3 321.2h0M91.0 330.4h0M102.9 322.9h0M103.2 326.7h0M103.5 321.4h0M103.7 323.0h0M104.0 323.6h0M104.2 319.4h0M104.5 320.2h0M104.7 321.9h0M105.0 313.8h0M105.3 319.4h0M105.5 319.9h0M105.8 318.4h0M106.0 312.2h0M106.3 316.4h0M106.5 312.1h0M106.8 315.7h0M107.0 315.1h0M107.3 313.2h0M107.6 309.5h0M107.8 309.3h0M108.1 312.9h0M108.3 306.9h0M108.6 310.4h0M108.8 309.7h0M109.1 306.6h0M109.4 313.9h0M109.6 306.1h0M109.9 311.6h0M110.1 298.4h0M110.4 297.0h0M110.6 308.9h0M110.9 307.9h0M111.2 305.1h0M111.4 305.8h0M111.7 300.3h0M111.9 304.1h0M112.2 302.9h0M112.4 305.3h0M112.7 308.7h0M112.9 306.2h0M113.2 307.1h0M113.5 303.9h0M113.7 304.7h0M114.0 306.3h0M114.2 305.2h0M114.5 309.8h0M114.7 303.4h0M115.0 311.7h0M115.3 303.1h0M115.5 309.2h0M115.8 303.7h0M116.0 310.9h0M116.3 306.4h0M116.5 307.2h0M116.8 308.2h0M117.1 304.1h0M117.3 302.9h0M117.6 299.9h0M117.8 309.7h0M118.1 303.9h0M118.3 304.2h0M118.6 305.9h0M118.9 312.0h0M119.1 300.8h0M119.4 306.7h0M119.6 304.8h0M119.9 307.6h0M120.1 300.6h0M120.4 304.8h0M120.6 308.5h0M120.9 310.7h0M121.2 310.8h0M121.4 303.4h0M121.7 306.2h0M121.9 305.7h0M122.2 301.9h0M122.4 301.7h0M122.7 308.3h0M123.0 306.7h0M123.2 305.6h0M123.5 309.6h0M123.7 303.0h0M124.0 307.6h0M124.2 306.0h0M124.5 305.8h0M124.8 307.5h0M125.0 306.5h0M125.3 306.8h0M125.5 306.8h0M125.8 311.8h0M126.0 305.1h0M126.3 309.0h0M126.5 307.8h0M126.8 305.0h0M127.1 308.4h0M127.3 303.4h0M127.6 309.5h0M127.8 303.6h0M128.1 304.5h0M128.3 307.0h0M128.6 308.5h0M128.9 308.7h0M129.1 308.7h0M129.4 305.4h0M129.6 303.1h0M129.9 307.6h0M130.1 306.9h0M130.4 303.1h0M130.7 308.9h0M130.9 306.6h0M131.2 303.1h0M131.4 307.3h0M131.7 302.0h0M131.9 303.4h0M132.2 307.2h0M132.4 301.3h0M132.7 306.1h0M133.0 301.9h0M133.2 308.2h0M133.5 303.8h0M133.7 306.5h0M134.0 301.5h0M134.2 305.0h0M134.5 308.8h0M134.8 307.4h0M135.0 300.5h0M135.3 308.8h0M135.5 308.7h0M135.8 304.9h0M136.0 310.3h0M136.3 302.8h0M136.6 305.7h0M136.8 309.3h0M137.1 309.9h0M137.3 309.8h0M137.6 302.7h0M137.8 300.7h0M138.1 307.2h0M138.4 301.7h0M138.6 305.6h0M138.9 302.2h0M139.1 309.2h0M139.4 308.4h0M139.6 307.7h0M139.9 306.1h0M140.1 306.1h0M140.4 305.1h0M140.7 307.2h0M140.9 306.7h0M141.2 307.4h0M141.4 304.7h0M141.7 311.7h0M141.9 306.8h0M142.2 310.2h0M142.5 310.0h0M142.7 303.4h0M143.0 300.9h0M143.2 309.8h0M143.5 304.8h0M143.7 306.2h0M144.0 305.2h0M144.3 306.4h0M144.5 302.4h0M144.8 305.7h0M145.0 304.6h0M177.8 298.6h0M180.5 301.6h0M176.0 294.3h0M188.5 302.0h0M167.9 298.7h0M183.3 305.9h0M167.5 293.1h0M177.0 298.5h0M186.6 303.7h0M173.6 298.4h0M179.4 304.5h0M170.6 298.1h0M168.0 301.3h0M166.6 305.2h0M178.0 300.5h0M168.0 296.0h0M176.8 304.1h0M178.4 296.7h0M188.6 301.6h0M178.2 295.6h0M172.9 304.7h0M169.1 299.9h0M180.3 297.6h0M183.7 304.8h0M185.7 302.6h0M170.7 293.8h0M176.0 297.1h0M170.5 304.3h0M170.0 309.0h0M169.0 318.0h0M167.0 296.0h0M113.0 287.0h0M196.6 325.5h0M172.0 327.0h0M100.4 330.0h0M154.6 328.1h0M228.7 324.6h0M226.2 326.0h0M154.2 324.9h0M136.3 326.5h0M171.9 328.3h0M218.0 324.3h0M173.6 325.9h0" stroke="#000" stroke-width="2.50" stroke-linecap="round" fill="none"/>
<path d="M137.6 323.4h0M137.7 322.3h0M137.8 323.8h0M138.0 323.5h0M138.1 322.6h0M138.2 323.1h0M138.4 323.4h0M138.5 323.7h0M138.6 323.4h0M138.7 324.0h0M138.9 323.4h0M139.0 322.9h0M139.1 323.1h0M139.2 323.7h0M139.4 323.1h0M139.5 323.7h0M139.6 323.8h0M139.8 323.6h0M139.9 323.8h0M140.0 323.3h0M140.1 323.4h0M140.3 323.1h0M140.4 323.1h0M140.5 322.6h0M140.7 323.1h0M140.8 322.9h0M140.9 322.7h0M141.0 323.4h0M141.2 323.5h0M141.3 323.2h0M141.4 324.0h0M141.6 323.8h0M141.7 323.8h0M141.8 323.1h0M141.9 322.7h0M142.1 323.6h0M142.2 323.5h0M142.3 323.7h0M142.5 323.5h0M142.6 323.9h0M142.7 323.2h0M142.8 323.6h0M143.0 322.9h0M143.1 322.3h0M143.2 323.1h0M143.4 324.0h0M143.5 322.6h0M143.6 323.8h0M143.7 323.0h0M143.9 323.1h0M144.0 323.3h0M144.1 323.4h0M144.3 322.9h0M144.4 323.3h0M144.5 323.5h0M144.6 323.7h0M144.8 322.9h0M144.9 324.0h0M145.0 324.1h0M145.2 324.4h0M145.3 322.7h0M145.4 323.4h0M145.5 322.4h0M145.7 323.4h0M145.8 323.5h0M145.9 322.7h0M146.0 322.6h0M146.2 323.3h0M146.3 323.5h0M146.4 322.9h0M146.6 323.1h0M146.7 322.1h0M146.8 322.9h0M146.9 323.3h0M147.1 323.3h0M147.2 324.0h0M147.3 322.7h0M147.5 322.2h0M147.6 323.4h0M147.7 323.0h0M147.8 323.4h0M148.0 323.6h0M148.1 323.5h0M148.2 323.9h0M148.4 323.8h0M148.5 322.5h0M148.6 323.2h0M148.7 324.1h0M148.9 323.0h0M149.0 323.7h0M149.1 323.2h0M149.3 323.0h0M149.4 323.9h0M149.5 323.7h0M149.6 323.1h0M149.8 323.6h0M149.9 322.6h0M150.0 322.9h0M150.2 323.6h0M150.3 323.2h0M150.4 322.7h0M150.5 323.4h0M150.7 323.3h0M150.8 323.8h0M150.9 323.6h0M151.1 323.1h0M151.2 323.0h0M151.3 323.1h0M151.4 323.1h0M151.6 323.8h0M151.7 323.9h0M151.8 323.8h0M152.0 323.3h0M152.1 323.1h0M152.2 323.6h0M152.3 323.0h0M152.5 323.3h0M152.6 322.4h0M152.7 323.0h0M152.8 323.8h0M153.0 322.7h0M153.1 322.5h0M153.2 323.1h0M153.4 323.9h0M153.5 323.8h0M153.6 323.0h0M153.7 322.9h0M153.9 323.1h0M154.0 322.7h0M154.1 323.2h0M154.3 323.0h0M154.4 322.5h0M154.5 322.9h0M154.6 323.0h0M154.8 322.7h0M154.9 322.6h0M155.0 323.5h0M155.2 324.0h0M155.3 323.0h0M155.4 322.9h0M155.5 323.3h0M155.7 323.0h0M155.8 322.8h0M155.9 323.7h0M156.1 322.6h0M156.2 322.8h0M156.3 322.8h0M156.4 322.7h0M156.6 323.0h0M156.7 323.4h0M156.8 323.7h0M157.0 323.4h0M157.1 323.1h0M157.2 322.5h0M157.3 323.1h0M157.5 322.7h0M157.6 323.0h0M157.7 323.5h0M157.9 323.2h0M158.0 323.0h0M158.1 322.7h0M158.2 323.1h0M158.4 323.1h0M158.5 322.6h0M158.6 322.8h0M158.8 323.5h0M158.9 322.3h0M159.0 322.9h0M159.1 322.5h0M159.3 323.7h0M159.4 323.3h0M159.5 323.3h0M159.6 323.2h0M159.8 323.2h0M159.9 323.2h0M160.0 322.3h0M160.2 323.2h0M160.3 323.3h0M160.4 322.4h0M160.5 323.4h0M160.7 323.3h0M160.8 322.3h0M160.9 322.8h0M161.1 322.9h0M161.2 322.8h0M161.3 323.2h0M161.4 322.4h0M161.6 322.9h0M161.7 323.1h0M161.8 323.3h0M162.0 323.0h0M162.1 322.9h0M162.2 323.3h0M162.3 322.1h0M162.5 323.4h0M162.6 322.9h0M162.7 322.4h0M162.9 322.8h0M163.0 322.2h0M163.1 322.1h0M163.2 322.8h0M163.4 322.6h0M163.5 323.3h0M163.6 322.6h0M163.8 322.4h0M163.9 322.5h0M164.0 323.7h0M164.1 323.0h0M164.3 322.7h0M164.4 322.5h0M164.5 322.5h0M164.7 322.9h0M164.8 323.2h0M164.9 323.5h0M165.0 323.5h0M165.2 323.1h0M165.3 322.7h0M165.4 322.6h0M165.6 321.9h0M165.7 322.5h0M165.8 323.1h0M165.9 322.8h0M166.1 323.1h0M166.2 322.3h0M166.3 323.3h0M166.4 323.1h0M166.6 323.0h0M166.7 323.1h0M166.8 321.9h0M167.0 322.7h0M167.1 322.5h0M167.2 323.7h0M167.3 322.8h0M167.5 322.7h0M167.6 323.3h0M167.7 322.4h0M167.9 323.6h0M168.0 322.6h0M168.1 322.9h0M168.2 322.5h0M168.4 323.3h0M168.5 321.9h0M168.6 323.2h0M168.8 322.5h0M168.9 322.9h0M169.0 322.4h0M169.1 323.0h0M169.3 323.0h0M169.4 323.2h0M169.5 323.0h0M169.7 323.2h0M169.8 323.3h0M169.9 322.7h0M170.0 322.4h0M170.2 322.3h0M170.3 323.2h0M170.4 322.7h0M170.6 323.3h0M170.7 322.9h0M170.8 322.4h0M170.9 323.3h0M171.1 323.7h0M171.2 322.8h0M171.3 322.4h0M171.5 322.5h0M171.6 323.3h0M171.7 322.6h0M171.8 322.7h0M172.0 323.2h0M172.1 322.9h0M172.2 322.9h0M172.4 322.6h0M172.5 322.6h0M172.6 322.9h0M172.7 322.9h0M172.9 323.1h0M173.0 322.6h0M173.1 323.0h0M173.2 323.0h0M173.4 322.9h0M173.5 323.1h0M173.6 323.3h0M173.8 322.9h0M173.9 322.9h0M174.0 322.4h0M174.1 323.0h0M174.3 322.8h0M174.4 322.7h0M174.5 322.4h0M174.7 323.1h0M174.8 324.0h0M174.9 323.0h0M175.0 322.8h0M175.2 323.0h0M175.3 322.5h0M175.4 322.8h0M175.6 322.5h0M175.7 322.5h0M175.8 322.9h0M175.9 322.9h0M176.1 322.7h0M176.2 322.4h0M176.3 322.9h0M176.5 322.3h0M176.6 323.1h0M176.7 322.6h0M176.8 322.8h0M177.0 323.1h0M177.1 323.0h0M177.2 322.2h0M177.4 322.7h0M177.5 322.9h0M177.6 322.3h0M177.7 321.7h0M177.9 322.7h0M178.0 322.7h0M178.1 322.9h0M178.3 322.8h0M178.4 322.8h0M178.5 322.9h0M178.6 323.4h0M178.8 323.0h0M178.9 323.0h0M179.0 322.6h0M179.2 323.2h0M179.3 322.6h0M179.4 323.1h0M179.5 321.8h0M179.7 322.8h0M179.8 322.7h0M179.9 322.5h0M180.0 323.3h0M180.2 322.9h0M180.3 322.7h0M180.4 322.5h0M180.6 323.6h0M180.7 323.0h0M180.8 323.0h0M180.9 322.4h0M181.1 323.3h0M181.2 323.0h0M181.3 322.6h0M181.5 322.7h0M181.6 322.0h0M181.7 323.0h0M181.8 322.2h0M182.0 323.1h0M182.1 322.5h0M182.2 322.4h0M182.4 322.8h0M182.5 322.8h0M182.6 322.2h0M182.7 322.6h0M182.9 322.9h0M183.0 322.6h0M183.1 322.1h0M183.3 322.6h0M183.4 322.2h0M183.5 322.4h0M183.6 322.7h0M183.8 322.6h0M183.9 322.6h0M184.0 321.9h0M184.2 322.8h0M184.3 322.6h0M184.4 322.5h0M184.5 322.7h0M184.7 323.5h0M184.8 322.1h0M184.9 321.9h0M185.1 323.0h0M185.2 322.3h0M185.3 323.2h0M185.4 322.2h0M185.6 322.4h0M185.7 323.0h0M185.8 323.0h0M186.0 322.8h0M186.1 322.8h0M186.2 322.6h0M186.3 322.4h0M186.5 322.5h0M186.6 323.2h0M186.7 322.9h0M186.8 322.6h0M187.0 322.8h0M187.1 323.0h0M187.2 323.1h0M187.4 322.5h0M187.5 322.6h0M187.6 322.7h0M187.7 323.8h0M187.9 322.7h0M188.0 323.2h0M188.1 321.9h0M188.3 323.0h0M188.4 322.0h0M188.5 322.1h0M188.6 322.3h0M188.8 322.5h0M188.9 322.7h0M189.0 322.7h0M189.2 322.7h0M189.3 322.4h0M189.4 323.7h0M189.5 322.7h0M189.7 322.9h0M189.8 323.5h0M189.9 323.0h0M190.1 322.8h0M190.2 322.7h0M190.3 323.4h0M190.4 322.1h0M190.6 322.1h0M190.7 322.6h0M190.8 321.6h0M191.0 322.2h0M191.1 323.0h0M191.2 322.3h0M191.3 322.6h0M191.5 322.8h0M191.6 322.0h0M191.7 322.7h0M191.9 322.3h0M192.0 322.0h0M192.1 322.4h0M192.2 322.5h0M192.4 322.3h0M192.5 322.2h0M192.6 322.9h0M192.8 323.0h0M192.9 322.8h0M193.0 322.5h0M193.1 322.0h0M193.3 322.1h0M193.4 322.0h0M193.5 322.6h0M193.6 322.9h0M193.8 322.9h0M193.9 322.5h0M194.0 322.3h0M194.2 322.6h0M194.3 322.5h0M194.4 322.8h0M194.5 323.1h0M194.7 322.2h0M194.8 323.4h0M194.9 321.5h0M195.1 321.7h0M195.2 321.8h0M195.3 322.0h0M195.4 322.4h0M195.6 323.4h0M195.7 322.2h0M195.8 323.0h0M196.0 322.3h0M196.1 322.5h0M196.2 322.0h0M196.3 323.5h0M196.5 322.4h0M196.6 322.2h0M196.7 323.5h0M196.9 322.5h0M197.0 322.6h0M197.1 322.4h0M197.2 322.1h0M197.4 321.8h0M197.5 322.4h0M197.6 323.2h0M197.8 322.6h0M197.9 322.4h0M198.0 322.9h0M198.1 322.0h0M198.3 323.0h0M198.4 322.4h0M198.5 322.1h0M198.7 322.7h0M198.8 322.7h0M198.9 322.3h0M199.0 322.5h0M199.2 322.9h0M199.3 323.0h0M199.4 322.0h0M199.6 321.2h0M199.7 323.3h0M199.8 322.3h0M199.9 322.2h0M200.1 322.6h0M200.2 322.2h0M200.3 322.9h0M200.4 321.8h0M200.6 322.3h0M200.7 321.8h0M200.8 323.1h0M201.0 322.3h0M201.1 322.9h0M201.2 323.0h0M201.3 321.8h0M201.5 322.3h0M201.6 322.7h0M201.7 322.4h0M201.9 322.3h0M202.0 322.7h0M202.1 322.8h0M202.2 322.1h0M202.4 322.3h0M202.5 322.7h0M202.6 322.5h0M202.8 322.4h0M202.9 321.9h0M203.0 323.1h0M203.1 322.2h0M203.3 322.5h0M203.4 322.3h0M203.5 322.4h0M203.7 322.4h0M203.8 322.0h0M203.9 322.5h0M204.0 322.9h0M204.2 322.5h0M204.3 322.7h0M204.4 322.5h0M204.6 322.3h0M204.7 323.1h0M204.8 322.0h0M204.9 322.5h0M205.1 322.8h0M205.2 322.4h0M205.3 321.8h0M205.5 321.8h0M205.6 323.0h0M205.7 321.9h0M205.8 322.3h0M206.0 322.5h0M206.1 322.3h0M206.2 321.5h0M206.4 321.5h0M206.5 322.3h0M206.6 322.0h0M206.7 322.2h0M206.9 322.3h0M207.0 322.4h0M207.1 321.7h0M207.2 321.5h0M207.4 322.7h0M207.5 322.0h0M207.6 321.8h0M207.8 321.4h0M207.9 322.5h0M208.0 321.7h0M208.1 321.8h0M208.3 322.5h0M208.4 322.4h0M208.5 322.5h0M208.7 321.7h0M208.8 321.0h0M208.9 321.8h0M209.0 322.1h0M209.2 322.0h0M209.3 322.7h0M209.4 322.4h0M209.6 321.8h0M209.7 322.5h0M209.8 322.2h0M209.9 322.0h0M210.1 322.7h0M210.2 321.5h0M210.3 322.7h0M210.5 322.7h0M210.6 321.3h0M210.7 322.1h0M210.8 322.2h0M211.0 321.7h0M211.1 322.0h0M211.2 321.9h0M211.4 322.2h0M211.5 322.0h0M211.6 321.3h0M211.7 322.7h0M211.9 322.6h0M212.0 321.8h0M212.1 322.6h0M212.3 323.1h0M212.4 321.5h0M212.5 322.0h0M212.6 322.0h0M212.8 322.4h0M212.9 322.1h0M213.0 321.6h0M213.2 322.8h0M213.3 322.0h0M213.4 322.5h0M213.5 323.2h0M213.7 321.8h0M213.8 322.0h0M213.9 322.6h0M214.0 322.1h0M214.2 322.4h0M214.3 322.2h0M214.4 323.4h0M214.6 322.5h0M214.7 322.3h0M214.8 322.2h0M214.9 322.3h0M215.1 321.4h0M215.2 322.0h0M215.3 322.5h0M215.5 321.6h0M215.6 322.2h0M215.7 322.1h0M215.8 321.9h0M216.0 323.3h0M216.1 322.5h0M216.2 322.3h0M216.4 321.8h0M216.5 322.2h0M216.6 322.0h0M216.7 322.1h0M216.9 322.2h0M217.0 323.3h0M217.1 322.7h0M217.3 322.9h0M217.4 322.7h0M217.5 323.4h0M217.6 321.8h0M217.8 321.5h0M217.9 322.2h0M218.0 322.2h0M218.2 322.1h0M218.3 321.8h0M218.4 322.4h0M218.5 322.9h0M218.7 322.2h0M218.8 322.0h0M218.9 322.6h0M219.1 322.0h0M219.2 321.9h0M219.3 322.2h0M219.4 321.1h0M219.6 322.9h0M219.7 322.0h0M219.8 322.3h0M220.0 322.2h0M220.1 322.3h0M220.2 321.5h0M220.3 322.9h0M220.5 322.3h0M220.6 322.2h0M220.7 323.5h0M220.8 321.5h0M221.0 322.4h0M221.1 322.0h0M221.2 321.4h0M221.4 322.9h0M221.5 321.4h0M221.6 322.1h0M221.7 322.0h0M221.9 322.1h0M222.0 321.6h0M222.1 322.7h0M222.3 322.2h0M222.4 321.5h0M222.5 321.5h0M222.6 322.2h0M222.8 321.5h0M222.9 322.2h0M223.0 322.2h0M223.2 321.8h0M223.3 321.2h0M223.4 321.4h0M223.5 322.2h0M223.7 321.8h0M223.8 322.9h0M223.9 321.8h0M224.1 322.2h0M224.2 322.3h0M224.3 322.1h0M224.4 322.2h0M224.6 322.5h0M224.7 321.9h0M224.8 322.2h0M225.0 321.8h0M225.1 322.9h0M225.2 322.1h0M225.3 322.4h0M225.5 320.7h0M225.6 321.8h0M225.7 321.5h0M225.9 322.0h0M226.0 321.8h0M226.1 321.5h0M226.2 321.9h0M226.4 322.4h0M226.5 322.5h0M226.6 321.7h0M226.8 322.5h0M226.9 321.7h0M227.0 322.3h0M227.1 321.6h0M227.3 322.4h0M227.4 323.0h0M227.5 321.8h0M227.6 322.5h0M227.8 321.3h0M227.9 321.7h0M228.0 323.2h0M228.2 321.9h0M228.3 322.2h0M228.4 321.2h0M228.5 321.9h0M228.7 321.6h0M228.8 322.5h0M228.9 321.7h0M229.1 323.1h0M229.2 321.4h0M229.3 322.1h0M229.4 321.0h0M229.6 321.7h0M229.7 322.5h0M229.8 321.9h0M230.0 321.3h0M230.1 322.1h0M230.2 322.3h0M230.3 322.1h0M230.5 322.4h0M230.6 321.3h0M230.7 322.7h0M230.9 322.2h0M231.0 321.0h0M231.1 322.7h0M231.2 321.7h0M231.4 322.1h0M231.5 321.0h0M231.6 321.6h0M231.8 321.1h0M231.9 322.3h0M232.0 321.8h0M232.1 321.5h0M232.3 321.7h0M232.4 322.4h0M232.5 321.5h0M232.7 322.1h0M232.8 321.3h0M232.9 321.1h0M233.0 321.7h0M233.2 321.7h0M233.3 322.0h0M233.4 322.3h0M233.6 321.7h0M233.7 321.7h0M233.8 322.2h0M233.9 322.1h0M234.1 321.8h0M234.2 322.0h0M234.3 320.9h0M234.4 321.6h0M234.6 321.1h0M234.7 321.7h0M234.8 322.3h0M235.0 321.1h0M235.1 322.3h0M235.2 321.6h0M235.3 321.7h0M235.5 321.6h0M235.6 322.2h0M235.7 321.5h0M235.9 320.9h0M236.0 322.0h0M236.1 321.8h0M236.2 322.1h0M236.4 322.1h0M236.5 321.3h0M236.6 321.9h0M236.8 321.9h0M236.9 321.8h0M237.0 321.9h0M237.1 322.0h0M237.3 321.6h0M237.4 321.7h0M237.5 322.2h0" stroke="#000" stroke-width="2.10" stroke-linecap="round" fill="none"/>
<path d="M68.9 388.5h0M69.1 398.3h0M69.4 385.4h0M69.0 392.7h0M70.1 388.4h0M70.5 387.7h0M70.5 396.4h0M68.9 399.5h0M69.6 394.9h0M70.2 396.8h0M69.7 384.2h0M70.8 401.9h0M69.9 395.7h0M69.2 402.8h0M69.0 412.0h0M70.6 404.2h0M70.7 404.0h0M70.9 405.9h0M71.0 402.2h0M71.1 403.1h0M71.3 407.8h0M71.4 404.5h0M71.5 405.3h0M71.6 405.2h0M71.8 404.6h0M71.9 405.4h0M72.0 404.4h0M72.1 406.7h0M72.3 406.6h0M72.4 406.7h0M72.5 405.2h0M72.7 404.2h0M72.8 405.8h0M72.9 405.3h0M73.0 406.8h0M73.2 404.9h0M73.3 405.7h0M73.4 406.9h0M73.6 407.2h0M73.7 407.0h0M73.8 405.7h0M73.9 406.4h0M74.1 409.1h0M74.2 408.2h0M74.3 406.5h0M74.5 409.3h0M74.6 407.3h0M74.7 407.5h0M74.8 406.7h0M75.0 409.1h0M75.1 407.8h0M75.2 407.7h0M75.4 406.9h0M75.5 406.6h0M75.6 408.1h0M75.7 408.0h0M75.9 409.5h0M76.0 407.1h0M76.1 407.7h0M76.3 409.1h0M76.4 409.0h0M76.5 407.5h0M76.6 409.7h0M76.8 408.7h0M76.9 409.1h0M77.0 408.6h0M77.2 409.2h0M77.3 407.9h0M77.4 408.1h0M77.5 409.4h0M77.7 408.7h0M77.8 408.7h0M77.9 409.4h0M78.1 408.5h0M78.2 408.7h0M78.3 406.1h0M78.4 407.7h0M78.6 409.0h0M78.7 407.3h0M78.8 407.9h0M78.9 408.4h0M79.1 408.0h0M79.2 408.9h0M79.3 408.5h0M79.5 407.8h0M79.6 409.0h0M79.7 407.5h0M79.8 407.1h0M80.0 408.1h0M80.1 408.4h0M80.2 407.5h0M80.4 406.6h0M80.5 407.1h0M80.6 407.7h0M80.7 408.1h0M80.9 409.1h0M81.0 407.1h0M81.1 407.0h0M81.3 405.0h0M81.4 408.3h0M81.5 407.9h0M81.6 406.9h0M81.8 406.1h0M81.9 404.1h0M82.0 407.4h0M82.2 405.8h0M82.3 408.0h0M82.4 407.1h0M82.5 407.6h0M82.7 406.0h0M82.8 407.3h0M82.9 404.6h0M83.1 407.3h0M83.2 405.7h0M83.3 404.5h0M83.4 405.2h0M83.6 404.5h0M83.7 405.6h0M84.0 402.3h0M84.2 400.0h0M84.5 401.4h0M84.7 400.8h0M85.0 401.0h0M85.2 401.3h0M85.5 401.8h0M85.7 398.8h0M86.0 401.0h0M86.3 389.8h0M86.5 394.9h0M86.8 396.5h0M87.0 390.0h0M87.3 391.9h0M87.5 392.0h0M87.8 386.7h0M88.1 388.3h0M88.3 390.3h0M88.6 387.1h0M85.0 398.6h0M85.2 402.8h0M85.5 390.6h0M85.7 385.3h0M86.0 390.8h0M86.3 388.2h0M86.5 383.9h0M86.8 389.0h0M87.0 388.6h0M87.3 389.2h0M87.5 395.6h0M87.8 396.3h0M88.1 393.0h0M88.3 389.2h0M88.6 393.1h0M88.8 391.1h0M89.1 392.1h0M89.3 386.1h0M89.6 375.6h0M89.9 395.4h0M90.1 388.0h0M90.4 388.5h0M90.6 390.9h0M90.9 390.7h0M91.1 389.5h0M91.4 398.6h0M91.7 391.6h0M91.9 392.1h0M92.2 386.6h0M92.4 390.5h0M92.7 393.3h0M92.9 390.6h0M93.2 392.6h0M93.4 386.3h0M93.7 392.9h0M94.0 385.9h0M94.2 388.8h0M94.5 387.1h0M94.7 391.9h0M95.0 396.4h0M95.2 392.4h0M95.5 386.6h0M95.8 391.7h0M96.0 396.1h0M96.3 394.6h0M96.5 393.5h0M96.8 385.4h0M97.0 388.2h0M97.3 387.6h0M97.6 388.6h0M97.8 392.1h0M98.1 391.2h0M98.3 389.2h0M98.6 393.8h0M98.8 387.4h0M99.1 389.4h0M99.3 391.5h0M99.6 384.2h0M99.9 386.7h0M100.1 384.1h0M100.4 385.8h0M100.6 390.3h0M100.9 390.4h0M101.1 392.7h0M101.4 392.6h0M101.7 385.3h0M101.9 400.3h0M102.2 397.7h0M102.4 384.9h0M102.7 387.6h0M102.9 388.6h0M103.2 392.0h0M103.5 394.0h0M103.7 391.0h0M104.0 378.2h0M104.2 405.2h0M104.5 395.2h0M104.7 395.1h0M105.0 387.3h0M105.3 391.5h0M105.5 395.6h0M105.8 388.6h0M106.0 396.6h0M106.3 391.4h0M106.5 398.8h0M106.8 391.2h0M107.0 398.4h0M107.3 383.0h0M107.6 398.2h0M107.8 393.2h0M108.1 389.1h0M108.3 396.3h0M108.6 389.7h0M108.8 395.1h0M109.1 395.7h0M109.4 396.2h0M109.6 402.0h0M109.9 397.8h0M110.1 403.4h0M110.4 394.5h0M104.6 394.7h0M112.0 390.2h0M117.1 373.4h0M102.2 383.4h0M115.1 364.9h0M100.5 382.5h0M101.9 376.3h0M109.6 368.7h0M115.9 377.1h0M110.5 381.2h0M113.5 390.3h0M116.5 385.2h0M106.0 378.3h0M108.2 385.0h0M114.6 383.3h0M110.8 365.2h0M104.8 382.6h0M105.6 386.2h0M113.1 379.7h0M104.3 380.4h0M102.5 387.8h0M105.9 392.0h0M119.6 377.7h0M109.8 381.3h0M101.2 382.7h0M108.3 371.6h0M116.2 383.3h0M105.4 389.2h0M104.7 375.5h0M116.2 377.4h0M102.6 384.9h0M108.6 375.5h0M111.3 379.4h0M109.0 386.1h0M114.5 380.4h0M104.6 367.7h0M119.8 387.7h0M121.7 372.7h0M103.4 386.7h0M103.0 368.1h0M113.3 389.9h0M119.0 382.0h0M120.1 380.1h0M105.1 385.7h0M118.5 378.2h0M110.0 387.1h0M120.6 384.0h0M121.1 385.4h0M107.3 368.6h0M106.5 397.5h0M102.2 388.3h0M105.2 380.4h0M120.8 386.1h0M107.6 400.0h0M107.0 386.0h0M112.6 393.2h0M109.1 377.7h0M118.6 383.7h0M120.7 384.3h0M101.9 370.1h0M105.8 385.2h0M121.5 388.2h0M120.1 392.2h0M102.9 379.1h0M109.7 399.3h0M106.2 389.6h0M106.7 388.7h0M120.5 382.3h0M107.2 382.2h0M120.0 380.9h0M109.1 377.9h0M113.3 393.0h0M105.8 391.0h0M100.9 390.9h0M119.4 381.5h0M107.5 387.8h0M102.9 380.2h0M109.3 392.6h0M107.7 381.8h0M117.4 392.4h0M109.9 385.0h0M103.0 375.4h0M104.1 388.9h0M108.7 377.0h0M111.6 388.1h0M108.3 378.0h0M108.4 393.4h0M110.8 384.6h0M111.2 375.9h0M116.0 386.5h0M104.4 387.7h0M119.3 383.6h0M104.2 385.6h0M102.1 378.4h0M112.2 391.7h0M119.5 371.7h0M121.7 390.9h0M102.7 386.4h0M116.8 372.2h0M117.7 387.7h0M122.2 377.2h0M112.3 370.3h0M102.1 386.5h0M102.2 381.9h0M118.5 381.9h0M101.0 394.8h0M105.0 383.6h0M111.5 382.0h0M120.8 386.6h0M116.6 395.4h0M119.6 379.5h0M119.9 379.6h0M120.1 381.4h0M120.4 381.2h0M120.6 382.2h0M120.9 383.4h0M121.2 382.6h0M121.4 381.3h0M121.7 380.8h0M121.9 381.1h0M122.2 382.5h0M122.4 380.1h0M122.7 379.1h0M123.0 381.2h0M123.2 383.2h0M123.5 383.5h0M123.7 382.5h0M124.0 378.5h0M124.2 381.3h0M124.5 382.6h0M124.8 383.2h0M125.0 384.5h0M125.3 380.0h0M125.5 382.1h0M125.8 379.0h0M126.0 381.2h0M126.3 380.9h0M126.5 382.8h0M126.8 381.8h0M127.1 378.7h0M127.3 381.3h0M127.6 382.1h0M127.8 383.8h0M128.1 380.4h0M128.3 380.1h0M128.6 380.6h0M128.9 383.1h0M129.1 381.1h0M129.4 381.7h0M129.6 382.2h0M129.9 380.2h0M130.1 383.2h0M130.4 378.9h0M130.7 384.4h0M130.9 380.5h0M131.2 380.1h0M131.4 380.3h0M131.7 379.7h0M131.9 380.1h0M132.2 380.2h0M132.4 379.7h0M132.7 381.2h0M133.0 382.0h0M133.2 380.6h0M133.5 381.8h0M133.7 380.2h0M134.0 381.9h0M134.2 381.0h0M134.5 379.8h0M134.8 381.7h0M135.0 381.2h0M135.3 380.5h0M135.5 381.4h0M135.8 382.4h0M136.0 379.6h0M136.3 380.7h0M136.6 382.5h0M136.8 381.5h0M137.1 382.8h0M137.3 385.3h0M137.6 379.5h0M137.8 382.1h0M138.1 380.9h0M138.4 383.8h0M138.6 382.4h0M138.9 379.3h0M139.1 383.2h0M139.4 381.5h0M139.6 381.0h0M139.9 381.5h0M140.1 381.8h0M140.4 380.1h0M140.7 380.9h0M140.9 383.7h0M141.2 379.9h0M141.4 380.5h0M141.7 382.7h0M141.9 380.0h0M142.2 381.2h0M142.5 382.0h0M142.7 380.1h0M143.0 381.0h0M143.2 380.1h0M143.5 381.2h0M143.7 381.9h0M144.0 381.5h0M144.3 381.9h0M144.5 382.1h0M144.8 382.8h0M145.0 379.8h0M145.3 381.7h0M145.5 384.0h0M145.8 381.1h0M146.0 381.1h0M146.3 381.5h0M146.6 380.3h0M146.8 382.4h0M147.1 381.5h0M147.3 381.2h0M147.6 382.7h0M147.8 383.4h0M148.1 379.2h0M148.4 380.7h0M148.6 381.1h0M148.9 379.3h0M149.1 382.6h0M149.4 384.9h0M149.6 382.8h0M149.9 383.5h0M150.2 378.4h0M150.4 380.8h0M150.7 379.4h0M150.9 382.7h0M151.2 381.3h0M151.4 381.2h0M151.7 382.3h0M152.0 382.7h0M152.2 384.1h0M152.5 383.7h0M152.7 383.0h0M153.0 378.9h0M153.2 383.5h0M153.5 381.6h0M153.7 379.1h0M154.0 381.8h0M154.3 381.1h0M154.5 381.4h0M154.8 383.0h0M155.0 379.3h0M155.3 382.5h0M155.5 383.4h0M155.8 379.7h0M156.1 383.7h0M156.3 380.4h0M156.6 380.3h0M156.8 383.0h0M157.1 381.5h0M157.3 378.6h0M157.6 380.5h0M157.9 382.6h0M158.1 380.6h0M158.4 380.7h0M158.6 381.5h0M158.9 381.5h0M159.1 380.4h0M159.4 380.0h0M159.6 382.2h0M159.9 383.5h0M160.2 377.5h0M160.4 382.2h0M160.7 383.1h0M160.9 380.1h0M161.2 383.8h0M161.4 379.1h0M161.7 383.0h0M162.0 384.1h0M162.2 384.0h0M162.5 377.3h0M162.7 381.6h0M163.0 379.9h0M163.2 382.1h0M163.5 383.7h0M163.8 382.2h0M164.0 384.1h0M164.3 378.8h0M164.5 380.2h0M164.8 380.7h0M165.0 382.6h0M165.3 383.4h0M165.6 380.2h0M165.8 380.0h0M166.1 382.9h0M166.3 379.4h0M166.6 382.4h0M166.8 380.2h0M167.1 381.4h0M167.3 384.8h0M167.6 381.1h0M167.9 381.6h0M168.1 380.2h0M168.4 382.4h0M168.6 383.9h0M168.9 382.5h0M169.1 379.4h0M169.4 382.1h0M169.7 384.0h0M169.9 380.0h0M170.2 381.3h0M170.4 380.0h0M170.7 380.6h0M170.9 379.9h0M171.2 379.4h0M171.5 382.3h0M171.7 381.4h0M172.0 378.0h0M172.2 379.8h0M172.5 380.3h0M172.7 379.7h0M173.0 381.7h0M173.2 381.2h0M173.5 382.1h0M173.8 379.3h0M174.0 380.3h0M174.3 380.8h0M174.5 380.9h0M174.8 380.9h0M175.0 380.3h0M175.3 381.3h0M175.6 384.1h0M175.8 380.3h0M176.1 378.9h0M176.3 382.0h0M176.6 380.0h0M176.8 382.8h0M177.1 383.2h0M177.4 384.2h0M177.6 381.7h0M177.9 378.8h0M178.1 384.1h0M178.4 383.0h0M178.6 383.6h0M178.9 381.7h0M179.2 380.9h0M179.4 381.5h0M179.7 378.6h0M179.9 383.1h0M180.2 380.5h0M180.4 380.5h0M180.7 382.1h0M180.9 380.1h0M181.2 382.8h0M181.5 380.5h0M181.7 385.3h0M182.0 383.5h0M182.2 382.6h0M182.5 382.0h0M182.7 381.6h0M183.0 380.7h0M183.3 378.5h0M183.5 380.6h0M183.8 380.3h0M184.0 380.7h0M184.3 381.7h0M184.5 378.5h0M184.8 379.5h0M185.1 380.4h0M185.3 380.8h0M185.6 383.0h0M185.8 385.8h0M186.1 381.3h0M186.3 382.6h0M186.6 381.5h0M186.8 381.9h0M187.1 384.3h0M187.4 381.8h0M187.6 382.4h0M187.9 381.6h0M188.1 380.5h0M188.4 383.2h0M188.6 381.3h0M188.9 383.9h0M189.2 379.7h0M189.4 382.2h0M189.7 384.2h0M189.9 380.5h0M190.2 382.1h0M190.4 383.9h0M190.7 382.2h0M191.0 380.2h0M191.2 381.0h0M191.5 382.0h0M191.7 380.6h0M192.0 380.9h0M192.2 381.7h0M192.5 379.5h0M192.8 384.2h0M193.0 380.6h0M193.3 381.5h0M193.5 381.7h0M193.8 383.8h0M194.0 380.9h0M194.3 384.8h0M194.5 384.5h0M194.8 382.7h0M195.1 379.4h0M195.3 379.4h0M195.6 381.1h0M195.8 382.0h0M196.1 382.6h0M196.3 383.5h0M196.6 382.3h0M196.9 381.6h0M197.1 382.2h0M197.4 378.3h0M197.6 383.4h0M197.9 379.1h0M198.1 378.4h0M198.4 380.4h0M198.7 380.8h0M198.9 379.6h0M199.2 381.2h0M199.4 381.7h0M199.7 382.5h0M199.9 382.1h0M200.2 380.7h0M200.4 381.7h0M200.7 383.6h0M201.0 381.1h0M201.2 381.3h0M201.5 378.1h0M201.7 382.0h0M202.0 384.8h0M202.2 382.7h0M202.5 381.2h0M202.8 383.5h0M203.0 383.5h0M203.3 383.7h0M203.5 379.7h0M203.8 379.7h0M204.0 382.7h0M204.3 382.4h0M204.6 382.3h0M204.8 379.2h0M205.1 382.8h0M205.3 384.6h0M205.6 383.4h0M205.8 385.7h0M206.1 382.3h0M206.4 381.7h0M206.6 384.4h0M206.9 383.1h0M207.1 377.9h0M207.4 379.1h0M207.6 382.0h0M207.9 380.7h0M208.1 384.4h0M208.4 384.1h0M208.7 383.6h0M208.9 381.0h0M209.2 381.2h0M209.4 382.8h0M209.7 381.0h0M209.9 382.6h0M210.2 382.0h0M210.5 382.8h0M210.7 381.7h0M211.0 380.3h0M211.2 376.9h0M211.5 379.4h0M211.7 379.2h0M212.0 382.6h0M212.3 379.2h0M212.5 380.6h0M212.8 382.3h0M213.0 382.6h0M213.3 383.2h0M213.5 382.2h0M213.8 384.0h0M214.0 380.6h0M214.3 383.4h0M214.6 379.3h0M214.8 380.9h0M215.1 382.2h0M215.3 382.5h0M215.6 381.1h0M215.8 380.5h0M216.1 379.5h0M216.4 377.9h0M216.6 378.4h0M216.9 384.1h0M217.1 378.6h0M217.4 379.0h0M217.6 378.9h0M217.9 381.1h0M218.2 381.1h0M218.4 380.5h0M218.7 379.4h0M218.9 381.3h0M219.2 379.2h0M219.4 382.0h0M219.7 383.9h0M220.0 380.0h0M220.2 381.8h0M220.5 380.7h0M220.7 380.8h0M221.0 379.3h0M221.2 381.6h0M221.5 381.5h0M221.7 383.5h0M222.0 385.4h0M222.3 379.8h0M222.5 383.3h0M222.8 380.1h0M223.0 380.6h0M223.3 379.6h0M223.5 382.3h0M223.8 383.5h0M224.1 381.3h0M224.3 381.8h0M224.6 380.2h0M224.8 381.0h0M225.1 379.4h0M225.3 381.4h0M225.6 378.2h0M225.9 385.2h0M226.1 383.5h0M226.4 380.5h0M226.6 380.7h0M226.9 380.8h0M227.1 381.7h0M227.4 381.9h0M227.6 384.5h0M227.9 380.7h0M228.2 378.4h0M228.4 381.9h0M228.7 382.2h0M228.9 380.1h0M229.2 382.8h0M229.4 381.2h0M229.7 380.2h0M230.0 381.3h0M230.2 379.4h0M230.5 380.8h0M230.7 384.2h0M231.0 383.4h0M231.2 382.5h0M231.5 381.7h0M231.8 381.9h0M232.0 379.6h0M232.3 381.8h0M232.5 380.3h0M232.8 380.5h0M233.0 384.0h0M233.3 380.3h0M233.6 381.6h0M233.8 381.6h0M234.1 383.1h0M234.3 381.1h0M234.6 382.3h0M234.8 382.1h0M200.5 392.3h0M224.5 382.0h0M191.9 394.7h0M176.3 378.0h0M221.2 378.5h0M214.1 387.1h0M120.5 380.0h0M196.6 378.1h0M127.5 380.0h0M148.1 376.1h0M167.3 386.5h0M195.2 383.3h0M139.4 386.5h0M223.4 380.1h0M159.1 379.3h0M173.9 393.3h0M177.6 375.9h0M223.2 375.2h0M139.6 384.4h0M200.8 385.5h0M211.1 378.1h0M165.8 388.6h0M125.1 391.1h0M181.7 375.3h0M218.8 384.8h0M186.4 388.7h0M201.7 374.3h0M174.6 381.5h0M158.8 391.6h0M120.0 392.8h0M140.3 376.0h0M156.0 383.4h0M200.4 381.0h0M210.9 379.2h0M149.1 379.9h0M179.1 388.3h0M152.2 376.4h0M223.6 381.1h0M203.0 380.5h0M151.2 373.6h0M165.1 388.6h0M152.3 387.1h0M121.7 377.8h0M189.8 388.3h0M230.4 384.7h0M130.3 380.9h0M122.6 384.7h0M189.1 374.6h0M205.7 371.9h0M230.3 378.2h0M148.6 374.6h0M123.0 375.9h0M153.4 380.0h0M179.0 392.5h0M224.6 383.4h0M220.9 373.0h0M193.3 388.8h0M152.2 384.1h0M151.0 372.6h0M216.2 376.4h0M127.8 389.1h0M119.3 398.0h0M161.5 395.0h0M138.1 397.4h0M181.0 385.1h0M115.0 390.9h0M143.6 393.4h0M193.1 390.6h0M123.7 392.5h0M125.1 395.7h0M130.1 386.7h0M172.3 394.5h0M169.4 387.5h0M131.4 391.0h0M193.9 397.5h0M232.4 378.2h0M234.4 373.5h0M230.4 376.1h0M235.6 373.8h0M233.3 376.1h0M235.2 374.0h0M231.0 373.3h0M237.0 378.3h0M235.1 374.4h0M231.0 378.0h0M232.0 371.7h0M227.2 376.4h0M232.0 377.8h0M232.8 373.9h0M237.2 373.9h0M235.2 372.3h0M234.5 402.0h0M120.0 365.0h0M123.0 366.0h0M96.0 369.0h0M87.0 376.0h0M137.0 371.0h0M80.0 383.0h0M233.0 401.0h0" stroke="#ff0a0a" stroke-width="2.40" stroke-linecap="round" fill="none"/>
<line x1="203.40" y1="329.50" x2="203.40" y2="369.50" stroke="#000" stroke-width="1.2"/>
<path d="M203.4,326 l-2.4,5.2 l4.8,0 z" fill="#000"/>
<path d="M203.4,373 l-2.4,-5.2 l4.8,0 z" fill="#000"/>
<rect x="62.20" y="261.50" width="198.60" height="185.50" fill="none" stroke="#000" stroke-width="2.2"/>
<text x="56.00" y="452.55" font-size="15.5" text-anchor="end" font-weight="bold">10<tspan font-size="9.8" dy="-6.38">2</tspan></text>
<text x="56.00" y="402.52" font-size="15.5" text-anchor="end" font-weight="bold">10<tspan font-size="9.8" dy="-6.38">3</tspan></text>
<text x="56.00" y="352.48" font-size="15.5" text-anchor="end" font-weight="bold">10<tspan font-size="9.8" dy="-6.38">4</tspan></text>
<text x="56.00" y="302.45" font-size="15.5" text-anchor="end" font-weight="bold">10<tspan font-size="9.8" dy="-6.38">5</tspan></text>
<text x="68.30" y="465.04" font-size="15.0" text-anchor="middle" font-weight="bold">0</text>
<text x="119.62" y="465.04" font-size="15.0" text-anchor="middle" font-weight="bold">400</text>
<text x="170.94" y="465.04" font-size="15.0" text-anchor="middle" font-weight="bold">800</text>
<text x="222.26" y="465.04" font-size="15.0" text-anchor="middle" font-weight="bold">1200</text>
<line x1="324.00" y1="431.94" x2="326.00" y2="431.94" stroke="#000" stroke-width="0.9"/>
<line x1="324.00" y1="423.13" x2="326.00" y2="423.13" stroke="#000" stroke-width="0.9"/>
<line x1="324.00" y1="416.88" x2="326.00" y2="416.88" stroke="#000" stroke-width="0.9"/>
<line x1="324.00" y1="412.03" x2="326.00" y2="412.03" stroke="#000" stroke-width="0.9"/>
<line x1="324.00" y1="408.07" x2="326.00" y2="408.07" stroke="#000" stroke-width="0.9"/>
<line x1="324.00" y1="404.72" x2="326.00" y2="404.72" stroke="#000" stroke-width="0.9"/>
<line x1="324.00" y1="401.82" x2="326.00" y2="401.82" stroke="#000" stroke-width="0.9"/>
<line x1="324.00" y1="399.26" x2="326.00" y2="399.26" stroke="#000" stroke-width="0.9"/>
<line x1="324.00" y1="381.91" x2="326.00" y2="381.91" stroke="#000" stroke-width="0.9"/>
<line x1="324.00" y1="373.09" x2="326.00" y2="373.09" stroke="#000" stroke-width="0.9"/>
<line x1="324.00" y1="366.84" x2="326.00" y2="366.84" stroke="#000" stroke-width="0.9"/>
<line x1="324.00" y1="361.99" x2="326.00" y2="361.99" stroke="#000" stroke-width="0.9"/>
<line x1="324.00" y1="358.03" x2="326.00" y2="358.03" stroke="#000" stroke-width="0.9"/>
<line x1="324.00" y1="354.68" x2="326.00" y2="354.68" stroke="#000" stroke-width="0.9"/>
<line x1="324.00" y1="351.78" x2="326.00" y2="351.78" stroke="#000" stroke-width="0.9"/>
<line x1="324.00" y1="349.22" x2="326.00" y2="349.22" stroke="#000" stroke-width="0.9"/>
<line x1="324.00" y1="331.87" x2="326.00" y2="331.87" stroke="#000" stroke-width="0.9"/>
<line x1="324.00" y1="323.06" x2="326.00" y2="323.06" stroke="#000" stroke-width="0.9"/>
<line x1="324.00" y1="316.81" x2="326.00" y2="316.81" stroke="#000" stroke-width="0.9"/>
<line x1="324.00" y1="311.96" x2="326.00" y2="311.96" stroke="#000" stroke-width="0.9"/>
<line x1="324.00" y1="308.00" x2="326.00" y2="308.00" stroke="#000" stroke-width="0.9"/>
<line x1="324.00" y1="304.65" x2="326.00" y2="304.65" stroke="#000" stroke-width="0.9"/>
<line x1="324.00" y1="301.75" x2="326.00" y2="301.75" stroke="#000" stroke-width="0.9"/>
<line x1="324.00" y1="299.19" x2="326.00" y2="299.19" stroke="#000" stroke-width="0.9"/>
<line x1="324.00" y1="281.84" x2="326.00" y2="281.84" stroke="#000" stroke-width="0.9"/>
<line x1="324.00" y1="273.03" x2="326.00" y2="273.03" stroke="#000" stroke-width="0.9"/>
<line x1="324.00" y1="266.78" x2="326.00" y2="266.78" stroke="#000" stroke-width="0.9"/>
<line x1="322.00" y1="447.00" x2="326.00" y2="447.00" stroke="#000" stroke-width="1.7"/>
<line x1="322.00" y1="396.97" x2="326.00" y2="396.97" stroke="#000" stroke-width="1.7"/>
<line x1="322.00" y1="346.93" x2="326.00" y2="346.93" stroke="#000" stroke-width="1.7"/>
<line x1="322.00" y1="296.90" x2="326.00" y2="296.90" stroke="#000" stroke-width="1.7"/>
<line x1="325.60" y1="447.20" x2="325.60" y2="450.20" stroke="#000" stroke-width="1.7"/>
<line x1="341.87" y1="447.20" x2="341.87" y2="449.20" stroke="#000" stroke-width="0.9"/>
<line x1="351.39" y1="447.20" x2="351.39" y2="449.20" stroke="#000" stroke-width="0.9"/>
<line x1="358.14" y1="447.20" x2="358.14" y2="449.20" stroke="#000" stroke-width="0.9"/>
<line x1="363.38" y1="447.20" x2="363.38" y2="449.20" stroke="#000" stroke-width="0.9"/>
<line x1="367.66" y1="447.20" x2="367.66" y2="449.20" stroke="#000" stroke-width="0.9"/>
<line x1="371.28" y1="447.20" x2="371.28" y2="449.20" stroke="#000" stroke-width="0.9"/>
<line x1="374.41" y1="447.20" x2="374.41" y2="449.20" stroke="#000" stroke-width="0.9"/>
<line x1="377.18" y1="447.20" x2="377.18" y2="449.20" stroke="#000" stroke-width="0.9"/>
<line x1="379.65" y1="447.20" x2="379.65" y2="450.20" stroke="#000" stroke-width="1.7"/>
<line x1="395.92" y1="447.20" x2="395.92" y2="449.20" stroke="#000" stroke-width="0.9"/>
<line x1="405.44" y1="447.20" x2="405.44" y2="449.20" stroke="#000" stroke-width="0.9"/>
<line x1="412.19" y1="447.20" x2="412.19" y2="449.20" stroke="#000" stroke-width="0.9"/>
<line x1="417.43" y1="447.20" x2="417.43" y2="449.20" stroke="#000" stroke-width="0.9"/>
<line x1="421.71" y1="447.20" x2="421.71" y2="449.20" stroke="#000" stroke-width="0.9"/>
<line x1="425.33" y1="447.20" x2="425.33" y2="449.20" stroke="#000" stroke-width="0.9"/>
<line x1="428.46" y1="447.20" x2="428.46" y2="449.20" stroke="#000" stroke-width="0.9"/>
<line x1="431.23" y1="447.20" x2="431.23" y2="449.20" stroke="#000" stroke-width="0.9"/>
<line x1="433.70" y1="447.20" x2="433.70" y2="450.20" stroke="#000" stroke-width="1.7"/>
<line x1="449.97" y1="447.20" x2="449.97" y2="449.20" stroke="#000" stroke-width="0.9"/>
<line x1="459.49" y1="447.20" x2="459.49" y2="449.20" stroke="#000" stroke-width="0.9"/>
<line x1="466.24" y1="447.20" x2="466.24" y2="449.20" stroke="#000" stroke-width="0.9"/>
<line x1="471.48" y1="447.20" x2="471.48" y2="449.20" stroke="#000" stroke-width="0.9"/>
<line x1="475.76" y1="447.20" x2="475.76" y2="449.20" stroke="#000" stroke-width="0.9"/>
<line x1="479.38" y1="447.20" x2="479.38" y2="449.20" stroke="#000" stroke-width="0.9"/>
<line x1="482.51" y1="447.20" x2="482.51" y2="449.20" stroke="#000" stroke-width="0.9"/>
<line x1="485.28" y1="447.20" x2="485.28" y2="449.20" stroke="#000" stroke-width="0.9"/>
<line x1="487.75" y1="447.20" x2="487.75" y2="450.20" stroke="#000" stroke-width="1.7"/>
<line x1="504.02" y1="447.20" x2="504.02" y2="449.20" stroke="#000" stroke-width="0.9"/>
<line x1="513.54" y1="447.20" x2="513.54" y2="449.20" stroke="#000" stroke-width="0.9"/>
<line x1="520.29" y1="447.20" x2="520.29" y2="449.20" stroke="#000" stroke-width="0.9"/>
<polyline points="346.2,313.2 362.4,313.4 371.9,313.7 378.7,313.7 383.9,313.6 388.2,313.4 391.8,313.5 395.0,313.4 397.7,313.1 400.2,313.3 402.4,313.6 404.5,313.4 406.4,313.3 408.1,313.2 409.7,313.4 411.2,313.3 412.7,313.4 414.0,313.5 415.3,312.9 416.5,313.4 417.6,313.1 418.7,313.2 419.8,313.2 420.8,313.6 421.7,313.5 422.6,313.5 423.5,313.3 424.4,313.1 425.2,313.3 426.0,313.4 426.8,313.4 427.5,313.5 428.2,313.3 428.9,313.8 429.6,313.5 430.3,313.8 430.9,313.4 431.5,313.4 432.1,313.2 432.7,313.6 433.3,313.6 433.9,313.4 434.4,313.5 435.0,313.3 435.5,313.3 436.0,313.3 436.5,313.0 437.0,313.2 437.5,313.4 438.0,313.4 438.4,313.6 438.9,313.5 439.3,313.5 439.8,313.4 440.2,312.9 440.6,313.4 441.1,313.2 441.5,313.5 441.9,313.3 442.3,313.3 442.6,313.3 443.0,313.3 443.4,313.0 443.8,313.1 444.1,313.6 444.5,313.5 444.8,313.3 445.2,313.3 445.5,313.3 445.9,314.0 446.2,313.5 446.5,313.4 446.9,313.3 447.2,312.9 447.5,313.4 447.8,313.7 448.1,313.6 448.4,313.5 448.7,313.3 449.0,313.2 449.3,313.4 449.6,313.3 449.9,313.2 450.2,313.7 450.4,313.2 450.7,313.3 451.0,312.9 451.2,313.7 451.5,313.4 451.8,313.4 452.0,313.5 452.3,313.2 452.5,313.3 452.8,313.5 453.0,313.2 453.3,313.5 453.5,313.6 453.8,313.5 454.0,313.7 454.3,313.6 454.5,313.7 454.7,313.5 454.9,313.5 455.2,313.2 455.4,313.4 455.6,313.3 455.8,313.4 456.1,313.2 456.3,313.5 456.5,313.9 456.7,313.2 456.9,313.5 457.1,313.5 457.3,313.3 457.5,313.3 457.7,313.3 457.9,313.5 458.1,313.3 458.3,313.9 458.5,313.6 458.7,313.6 458.9,313.8 459.1,313.7 459.3,313.4 459.5,313.5 459.7,313.4 459.9,313.5 460.0,313.6 460.2,313.0 460.4,313.1 460.6,313.3 460.8,313.5 460.9,313.3 461.1,313.4 461.3,313.6 461.5,313.6 461.6,313.4 461.8,313.4 462.0,313.1 462.1,313.5 462.3,313.5 462.5,313.3 462.6,313.6 462.8,313.4 463.0,313.4 463.1,313.2 463.3,313.7 463.5,313.3 463.6,313.6 463.8,313.5 463.9,313.4 464.1,313.5 464.2,313.5 464.4,313.5 464.5,313.6 464.7,313.4 464.8,313.7 465.0,313.6 465.1,313.3 465.3,313.6 465.4,313.5 465.6,313.7 465.7,313.1 465.9,313.6 466.0,313.1 466.1,313.5 466.3,314.2 466.4,313.7 466.6,313.8 466.7,313.5 466.8,313.4 467.0,313.6 467.1,313.7 467.3,313.6 467.4,313.5 467.5,313.5 467.7,313.6 467.8,314.0 467.9,313.6 468.0,313.6 468.2,313.6 468.3,313.5 468.4,313.4 468.6,313.7 468.7,314.0 468.8,313.8 468.9,313.4 469.1,314.0 469.2,313.8 469.3,314.1 469.4,313.7 469.6,313.4 469.7,313.8 469.8,313.7 469.9,313.5 470.0,313.6 470.2,313.7 470.3,313.6 470.4,313.9 470.5,313.8 470.6,313.7 470.8,313.7 470.9,313.9 471.0,313.9 471.1,313.5 471.2,313.8 471.3,314.1 471.4,313.9 471.6,313.6 471.7,314.1 471.8,314.3 471.9,313.8 472.0,313.4 472.1,313.5 472.2,314.2 472.3,313.8 472.4,314.0 472.5,314.0 472.7,313.9 472.8,314.2 472.9,313.9 473.0,314.0 473.1,313.9 473.2,313.9 473.3,314.4 473.4,313.7 473.5,313.6 473.6,314.1 473.7,313.6 473.8,313.9 473.9,313.7 474.0,314.1 474.1,313.9 474.2,314.1 474.3,313.8 474.4,313.9 474.5,313.5 474.6,314.1 474.7,314.0 474.8,313.9 474.9,313.9 475.0,313.9 475.1,313.9 475.2,314.3 475.3,313.8 475.4,313.9 475.5,314.1 475.6,314.0 475.7,313.8 475.8,314.3 475.9,314.3 475.9,313.9 476.0,314.3 476.1,313.7 476.2,314.3 476.3,313.7 476.4,314.1 476.5,314.0 476.6,313.9 476.7,314.1 476.8,313.8 476.9,313.9 476.9,313.8 477.0,314.3 477.1,313.9 477.2,314.1 477.3,314.0 477.4,314.2 477.5,313.8 477.6,313.9 477.7,313.9 477.7,314.1 477.8,313.9 477.9,314.1 478.0,314.2 478.1,314.3 478.2,314.2 478.3,314.3 478.3,314.0 478.4,314.0 478.5,313.9 478.6,313.9 478.7,313.8 478.8,314.2 478.8,314.1 478.9,313.7 479.0,314.1 479.1,313.9 479.2,313.9 479.2,314.0 479.3,314.3 479.4,314.1 479.5,313.7 479.6,314.2 479.6,313.9 479.7,314.4 479.8,314.0 479.9,314.1 480.0,314.1 480.0,314.0 480.1,314.0 480.2,314.1 480.3,314.6 480.3,314.2 480.4,314.2 480.5,314.2 480.6,314.2 480.7,314.2 480.7,314.4 480.8,313.6 480.9,314.0 481.0,314.0 481.0,314.3 481.1,314.0 481.2,314.4 481.3,314.4 481.3,314.1 481.4,314.3 481.5,314.1 481.6,314.3 481.6,314.3 481.7,314.4 481.8,314.4 481.8,314.0 481.9,314.5 482.0,314.2 482.1,314.4 482.1,314.2 482.2,314.4 482.3,314.0 482.3,314.5 482.4,314.0 482.5,314.2 482.6,314.3 482.6,313.9 482.7,314.3 482.8,314.2 482.8,314.4 482.9,314.2 483.0,314.0 483.0,314.0 483.1,314.1 483.2,314.3 483.3,314.2 483.3,314.4 483.4,314.6 483.5,314.2 483.5,314.2 483.6,314.3 483.7,314.4 483.7,313.8 483.8,314.1 483.9,314.3 483.9,314.4 484.0,314.2 484.1,314.1 484.1,314.7 484.2,313.7 484.3,314.6 484.3,314.1 484.4,314.2 484.4,314.3 484.5,314.4 484.6,314.1 484.6,314.0 484.7,314.4 484.8,314.5 484.8,314.2 484.9,314.7 485.0,314.0 485.0,314.5 485.1,314.4 485.2,314.6 485.2,314.1 485.3,314.4 485.3,314.3 485.4,313.9 485.5,314.2 485.5,314.0 485.6,314.2 485.6,314.4 485.7,314.3 485.8,314.7 485.8,314.5 485.9,314.2 486.0,314.3 486.0,314.4 486.1,314.2 486.1,314.5 486.2,314.5 486.3,314.5 486.3,314.4 486.4,314.4 486.4,314.1 486.5,314.4 486.6,314.3 486.6,314.4 486.7,314.5 486.7,314.2 486.8,314.3 486.9,314.2 486.9,314.2 487.0,314.0 487.0,314.2 487.1,314.5 487.1,313.9 487.2,314.5 487.3,314.5 487.3,314.6 487.4,314.3 487.4,314.3 487.5,314.6 487.5,314.6 487.6,314.7 487.7,314.3 487.7,314.3" fill="none" stroke="#000" stroke-width="1.3" stroke-opacity="1" stroke-linejoin="round" stroke-linecap="round" />
<path d="M346.2 313.2h0M362.4 313.4h0M371.9 313.7h0M378.7 313.7h0M383.9 313.6h0M388.2 313.4h0M391.8 313.5h0M395.0 313.4h0M397.7 313.1h0M400.2 313.3h0M402.4 313.6h0M404.5 313.4h0M406.4 313.3h0M408.1 313.2h0M409.7 313.4h0M411.2 313.3h0M412.7 313.4h0M414.0 313.5h0M415.3 312.9h0M416.5 313.4h0M417.6 313.1h0M418.7 313.2h0M419.8 313.2h0M420.8 313.6h0M421.7 313.5h0M422.6 313.5h0M423.5 313.3h0M424.4 313.1h0M425.2 313.3h0M426.0 313.4h0M426.8 313.4h0M427.5 313.5h0M428.2 313.3h0M428.9 313.8h0M429.6 313.5h0M430.3 313.8h0M430.9 313.4h0M431.5 313.4h0M432.1 313.2h0M432.7 313.6h0M433.3 313.6h0M433.9 313.4h0M434.4 313.5h0M435.0 313.3h0M435.5 313.3h0M436.0 313.3h0M436.5 313.0h0M437.0 313.2h0M437.5 313.4h0M438.0 313.4h0M438.4 313.6h0M438.9 313.5h0M439.3 313.5h0M439.8 313.4h0M440.2 312.9h0M440.6 313.4h0M441.1 313.2h0M441.5 313.5h0M441.9 313.3h0M442.3 313.3h0M442.6 313.3h0M443.0 313.3h0M443.4 313.0h0M443.8 313.1h0M444.1 313.6h0M444.5 313.5h0M444.8 313.3h0M445.2 313.3h0M445.5 313.3h0M445.9 314.0h0M446.2 313.5h0M446.5 313.4h0M446.9 313.3h0M447.2 312.9h0M447.5 313.4h0M447.8 313.7h0M448.1 313.6h0M448.4 313.5h0M448.7 313.3h0M449.0 313.2h0M449.3 313.4h0M449.6 313.3h0M449.9 313.2h0M450.2 313.7h0M450.4 313.2h0M450.7 313.3h0M451.0 312.9h0M451.2 313.7h0M451.5 313.4h0M451.8 313.4h0M452.0 313.5h0M452.3 313.2h0M452.5 313.3h0M452.8 313.5h0M453.0 313.2h0M453.3 313.5h0M453.5 313.6h0M453.8 313.5h0M454.0 313.7h0M454.3 313.6h0M454.5 313.7h0M454.7 313.5h0M454.9 313.5h0M455.2 313.2h0M455.4 313.4h0M455.6 313.3h0M455.8 313.4h0M456.1 313.2h0M456.3 313.5h0M456.5 313.9h0M456.7 313.2h0M456.9 313.5h0M457.1 313.5h0M457.3 313.3h0M457.5 313.3h0M457.7 313.3h0M457.9 313.5h0M458.1 313.3h0M458.3 313.9h0M458.5 313.6h0M458.7 313.6h0M458.9 313.8h0M459.1 313.7h0M459.3 313.4h0M459.5 313.5h0M459.7 313.4h0M459.9 313.5h0M460.0 313.6h0M460.2 313.0h0M460.4 313.1h0M460.6 313.3h0M460.8 313.5h0M460.9 313.3h0M461.1 313.4h0M461.3 313.6h0M461.5 313.6h0M461.6 313.4h0M461.8 313.4h0M462.0 313.1h0M462.1 313.5h0M462.3 313.5h0M462.5 313.3h0M462.6 313.6h0M462.8 313.4h0M463.0 313.4h0M463.1 313.2h0M463.3 313.7h0M463.5 313.3h0M463.6 313.6h0M463.8 313.5h0M463.9 313.4h0M464.1 313.5h0M464.2 313.5h0M464.4 313.5h0M464.5 313.6h0M464.7 313.4h0M464.8 313.7h0M465.0 313.6h0M465.1 313.3h0M465.3 313.6h0M465.4 313.5h0M465.6 313.7h0M465.7 313.1h0M465.9 313.6h0M466.0 313.1h0M466.1 313.5h0M466.3 314.2h0M466.4 313.7h0M466.6 313.8h0M466.7 313.5h0M466.8 313.4h0M467.0 313.6h0M467.1 313.7h0M467.3 313.6h0M467.4 313.5h0M467.5 313.5h0M467.7 313.6h0M467.8 314.0h0M467.9 313.6h0M468.0 313.6h0M468.2 313.6h0M468.3 313.5h0M468.4 313.4h0M468.6 313.7h0M468.7 314.0h0M468.8 313.8h0M468.9 313.4h0M469.1 314.0h0M469.2 313.8h0M469.3 314.1h0M469.4 313.7h0M469.6 313.4h0M469.7 313.8h0M469.8 313.7h0M469.9 313.5h0M470.0 313.6h0M470.2 313.7h0M470.3 313.6h0M470.4 313.9h0M470.5 313.8h0M470.6 313.7h0M470.8 313.7h0M470.9 313.9h0M471.0 313.9h0M471.1 313.5h0M471.2 313.8h0M471.3 314.1h0M471.4 313.9h0M471.6 313.6h0M471.7 314.1h0M471.8 314.3h0M471.9 313.8h0M472.0 313.4h0M472.1 313.5h0M472.2 314.2h0M472.3 313.8h0M472.4 314.0h0M472.5 314.0h0M472.7 313.9h0M472.8 314.2h0M472.9 313.9h0M473.0 314.0h0M473.1 313.9h0M473.2 313.9h0M473.3 314.4h0M473.4 313.7h0M473.5 313.6h0M473.6 314.1h0M473.7 313.6h0M473.8 313.9h0M473.9 313.7h0M474.0 314.1h0M474.1 313.9h0M474.2 314.1h0M474.3 313.8h0M474.4 313.9h0M474.5 313.5h0M474.6 314.1h0M474.7 314.0h0M474.8 313.9h0M474.9 313.9h0M475.0 313.9h0M475.1 313.9h0M475.2 314.3h0M475.3 313.8h0M475.4 313.9h0M475.5 314.1h0M475.6 314.0h0M475.7 313.8h0M475.8 314.3h0M475.9 314.3h0M475.9 313.9h0M476.0 314.3h0M476.1 313.7h0M476.2 314.3h0M476.3 313.7h0M476.4 314.1h0M476.5 314.0h0M476.6 313.9h0M476.7 314.1h0M476.8 313.8h0M476.9 313.9h0M476.9 313.8h0M477.0 314.3h0M477.1 313.9h0M477.2 314.1h0M477.3 314.0h0M477.4 314.2h0M477.5 313.8h0M477.6 313.9h0M477.7 313.9h0M477.7 314.1h0M477.8 313.9h0M477.9 314.1h0M478.0 314.2h0M478.1 314.3h0M478.2 314.2h0M478.3 314.3h0M478.3 314.0h0M478.4 314.0h0M478.5 313.9h0M478.6 313.9h0M478.7 313.8h0M478.8 314.2h0M478.8 314.1h0M478.9 313.7h0M479.0 314.1h0M479.1 313.9h0M479.2 313.9h0M479.2 314.0h0M479.3 314.3h0M479.4 314.1h0M479.5 313.7h0M479.6 314.2h0M479.6 313.9h0M479.7 314.4h0M479.8 314.0h0M479.9 314.1h0M480.0 314.1h0M480.0 314.0h0M480.1 314.0h0M480.2 314.1h0M480.3 314.6h0M480.3 314.2h0M480.4 314.2h0M480.5 314.2h0M480.6 314.2h0M480.7 314.2h0M480.7 314.4h0M480.8 313.6h0M480.9 314.0h0M481.0 314.0h0M481.0 314.3h0M481.1 314.0h0M481.2 314.4h0M481.3 314.4h0M481.3 314.1h0M481.4 314.3h0M481.5 314.1h0M481.6 314.3h0M481.6 314.3h0M481.7 314.4h0M481.8 314.4h0M481.8 314.0h0M481.9 314.5h0M482.0 314.2h0M482.1 314.4h0M482.1 314.2h0M482.2 314.4h0M482.3 314.0h0M482.3 314.5h0M482.4 314.0h0M482.5 314.2h0M482.6 314.3h0M482.6 313.9h0M482.7 314.3h0M482.8 314.2h0M482.8 314.4h0M482.9 314.2h0M483.0 314.0h0M483.0 314.0h0M483.1 314.1h0M483.2 314.3h0M483.3 314.2h0M483.3 314.4h0M483.4 314.6h0M483.5 314.2h0M483.5 314.2h0M483.6 314.3h0M483.7 314.4h0M483.7 313.8h0M483.8 314.1h0M483.9 314.3h0M483.9 314.4h0M484.0 314.2h0M484.1 314.1h0M484.1 314.7h0M484.2 313.7h0M484.3 314.6h0M484.3 314.1h0M484.4 314.2h0M484.4 314.3h0M484.5 314.4h0M484.6 314.1h0M484.6 314.0h0M484.7 314.4h0M484.8 314.5h0M484.8 314.2h0M484.9 314.7h0M485.0 314.0h0M485.0 314.5h0M485.1 314.4h0M485.2 314.6h0M485.2 314.1h0M485.3 314.4h0M485.3 314.3h0M485.4 313.9h0M485.5 314.2h0M485.5 314.0h0M485.6 314.2h0M485.6 314.4h0M485.7 314.3h0M485.8 314.7h0M485.8 314.5h0M485.9 314.2h0M486.0 314.3h0M486.0 314.4h0M486.1 314.2h0M486.1 314.5h0M486.2 314.5h0M486.3 314.5h0M486.3 314.4h0M486.4 314.4h0M486.4 314.1h0M486.5 314.4h0M486.6 314.3h0M486.6 314.4h0M486.7 314.5h0M486.7 314.2h0M486.8 314.3h0M486.9 314.2h0M486.9 314.2h0M487.0 314.0h0M487.0 314.2h0M487.1 314.5h0M487.1 313.9h0M487.2 314.5h0M487.3 314.5h0M487.3 314.6h0M487.4 314.3h0M487.4 314.3h0M487.5 314.6h0M487.5 314.6h0M487.6 314.7h0M487.7 314.3h0M487.7 314.3h0" stroke="#000" stroke-width="3.20" stroke-linecap="square" fill="none"/>
<polyline points="346.2,404.5 362.4,404.2 371.9,404.3 378.7,404.6 383.9,404.5 388.2,404.2 391.8,404.4 395.0,404.3 397.7,404.5 400.2,404.4 402.4,404.2 404.5,404.7 406.4,404.3 408.1,404.3 409.7,404.2 411.2,404.3 412.7,404.2 414.0,404.4 415.3,404.4 416.5,404.6 417.6,404.5 418.7,404.2 419.8,404.2 420.8,404.2 421.7,404.5 422.6,404.2 423.5,404.6 424.4,404.4 425.2,404.3 426.0,404.4 426.8,404.7 427.5,404.3 428.2,404.3 428.9,404.1 429.6,404.0 430.3,404.2 430.9,404.6 431.5,404.4 432.1,404.2 432.7,403.8 433.3,404.5 433.9,404.4 434.4,403.9 435.0,404.3 435.5,404.1 436.0,404.5 436.5,404.4 437.0,404.2 437.5,403.9 438.0,404.3 438.4,404.8 438.9,404.4 439.3,404.2 439.8,404.5 440.2,404.2 440.6,404.6 441.1,404.0 441.5,404.2 441.9,404.6 442.3,404.6 442.6,404.4 443.0,404.0 443.4,404.3 443.8,404.5 444.1,404.2 444.5,404.3 444.8,404.5 445.2,404.2 445.5,404.4 445.9,404.3 446.2,404.1 446.5,404.0 446.9,404.2 447.2,404.1 447.5,404.5 447.8,404.3 448.1,403.9 448.4,404.6 448.7,404.8 449.0,404.2 449.3,404.4 449.6,404.3 449.9,404.5 450.2,404.3 450.4,404.4 450.7,404.3 451.0,404.2 451.2,404.2 451.5,404.1 451.8,404.1 452.0,404.2 452.3,404.8 452.5,404.4 452.8,404.6 453.0,403.9 453.3,404.2 453.5,404.4 453.8,404.5 454.0,404.3 454.3,404.1 454.5,403.9 454.7,404.2 454.9,403.9 455.2,404.2 455.4,404.1 455.6,404.0 455.8,404.0 456.1,403.9 456.3,403.9 456.5,404.2 456.7,404.0 456.9,404.0 457.1,404.3 457.3,404.2 457.5,404.2 457.7,403.8 457.9,404.3 458.1,404.2 458.3,403.9 458.5,404.0 458.7,404.3 458.9,404.3 459.1,404.0 459.3,403.9 459.5,404.3 459.7,404.0 459.9,404.2 460.0,404.1 460.2,404.0 460.4,404.0 460.6,404.4 460.8,404.0 460.9,404.1 461.1,403.9 461.3,404.5 461.5,404.1 461.6,403.8 461.8,404.0 462.0,403.7 462.1,404.0 462.3,403.8 462.5,404.3 462.6,404.3 462.8,404.5 463.0,404.0 463.1,403.8 463.3,403.6 463.5,404.1 463.6,403.9 463.8,404.3 463.9,404.4 464.1,403.7 464.2,404.0 464.4,404.3 464.5,403.7 464.7,403.7 464.8,404.2 465.0,404.1 465.1,403.6 465.3,404.1 465.4,403.9 465.6,404.0 465.7,404.0 465.9,404.3 466.0,404.1 466.1,403.8 466.3,404.2 466.4,404.1 466.6,404.0 466.7,403.8 466.8,403.8 467.0,403.9 467.1,404.2 467.3,404.0 467.4,404.0 467.5,404.0 467.7,404.0 467.8,403.9 467.9,403.9 468.0,403.5 468.2,403.9 468.3,404.1 468.4,403.9 468.6,404.2 468.7,404.2 468.8,403.8 468.9,403.6 469.1,403.9 469.2,403.6 469.3,404.0 469.4,403.8 469.6,404.0 469.7,403.8 469.8,403.7 469.9,404.2 470.0,403.8 470.2,403.9 470.3,403.9 470.4,403.8 470.5,403.8 470.6,403.6 470.8,403.8 470.9,403.9 471.0,403.6 471.1,403.5 471.2,403.7 471.3,403.9 471.4,404.0 471.6,403.9 471.7,403.6 471.8,403.9 471.9,403.8 472.0,404.0 472.1,403.9 472.2,403.6 472.3,403.8 472.4,403.8 472.5,404.0 472.7,404.2 472.8,403.5 472.9,403.7 473.0,403.7 473.1,403.7 473.2,403.7 473.3,404.1 473.4,403.9 473.5,403.8 473.6,403.9 473.7,403.8 473.8,403.7 473.9,403.8 474.0,403.9 474.1,404.0 474.2,403.6 474.3,403.8 474.4,403.8 474.5,403.8 474.6,403.7 474.7,403.7 474.8,403.4 474.9,403.6 475.0,403.6 475.1,403.6 475.2,403.8 475.3,403.7 475.4,403.6 475.5,403.6 475.6,403.8 475.7,403.4 475.8,404.0 475.9,403.5 475.9,403.6 476.0,403.7 476.1,403.7 476.2,403.8 476.3,403.3 476.4,403.7 476.5,403.5 476.6,404.0 476.7,403.3 476.8,403.7 476.9,403.8 476.9,403.7 477.0,403.7 477.1,403.7 477.2,403.8 477.3,403.9 477.4,403.7 477.5,403.9 477.6,403.7 477.7,403.9 477.7,403.4 477.8,404.0 477.9,403.8 478.0,403.8 478.1,404.0 478.2,403.5 478.3,403.5 478.3,403.2 478.4,403.9 478.5,403.8 478.6,404.1 478.7,403.7 478.8,403.7 478.8,403.7 478.9,403.7 479.0,403.7 479.1,403.5 479.2,403.5 479.2,403.6 479.3,403.4 479.4,403.9 479.5,403.5 479.6,403.6 479.6,403.6 479.7,403.5 479.8,403.9 479.9,403.7 480.0,403.8 480.0,403.4 480.1,403.5 480.2,403.2 480.3,403.9 480.3,403.5 480.4,403.7 480.5,403.9 480.6,403.3 480.7,403.8 480.7,403.6 480.8,403.7 480.9,403.7 481.0,403.7 481.0,403.6 481.1,403.3 481.2,403.4 481.3,403.6 481.3,403.6 481.4,403.4 481.5,403.5 481.6,403.6 481.6,403.8 481.7,403.6 481.8,403.5 481.8,403.6 481.9,403.4 482.0,403.7 482.1,403.3 482.1,403.7 482.2,403.4 482.3,403.8 482.3,403.5 482.4,403.5 482.5,403.6 482.6,403.5 482.6,403.6 482.7,403.9 482.8,403.7 482.8,403.7 482.9,403.2 483.0,403.8 483.0,403.7 483.1,403.5 483.2,403.3 483.3,403.3 483.3,403.4 483.4,403.5 483.5,403.6 483.5,403.6 483.6,403.6 483.7,403.6 483.7,403.5 483.8,403.3 483.9,404.0 483.9,403.7 484.0,403.7 484.1,403.5 484.1,403.3 484.2,403.8 484.3,403.4 484.3,403.3 484.4,403.7 484.4,403.8 484.5,403.5 484.6,403.6 484.6,403.7 484.7,403.6 484.8,403.5 484.8,403.7 484.9,403.7 485.0,403.4 485.0,403.5 485.1,403.6 485.2,403.7 485.2,403.6 485.3,403.4 485.3,403.6 485.4,403.3 485.5,403.5 485.5,403.7 485.6,403.5 485.6,403.6 485.7,403.6 485.8,403.5 485.8,403.3 485.9,403.3 486.0,403.7 486.0,403.5 486.1,403.2 486.1,403.8 486.2,403.4 486.3,403.2 486.3,403.9 486.4,403.6 486.4,403.5 486.5,403.6 486.6,403.6 486.6,403.4 486.7,403.6 486.7,403.4 486.8,403.3 486.9,403.2 486.9,403.5 487.0,403.9 487.0,403.3 487.1,403.3 487.1,403.6 487.2,403.9 487.3,403.4 487.3,403.5 487.4,403.4 487.4,403.4 487.5,403.7 487.5,403.4 487.6,403.7 487.7,403.6 487.7,403.4" fill="none" stroke="#ff0a0a" stroke-width="1.3" stroke-opacity="1" stroke-linejoin="round" stroke-linecap="round" />
<path d="M346.2 404.5h0M362.4 404.2h0M371.9 404.3h0M378.7 404.6h0M383.9 404.5h0M388.2 404.2h0M391.8 404.4h0M395.0 404.3h0M397.7 404.5h0M400.2 404.4h0M402.4 404.2h0M404.5 404.7h0M406.4 404.3h0M408.1 404.3h0M409.7 404.2h0M411.2 404.3h0M412.7 404.2h0M414.0 404.4h0M415.3 404.4h0M416.5 404.6h0M417.6 404.5h0M418.7 404.2h0M419.8 404.2h0M420.8 404.2h0M421.7 404.5h0M422.6 404.2h0M423.5 404.6h0M424.4 404.4h0M425.2 404.3h0M426.0 404.4h0M426.8 404.7h0M427.5 404.3h0M428.2 404.3h0M428.9 404.1h0M429.6 404.0h0M430.3 404.2h0M430.9 404.6h0M431.5 404.4h0M432.1 404.2h0M432.7 403.8h0M433.3 404.5h0M433.9 404.4h0M434.4 403.9h0M435.0 404.3h0M435.5 404.1h0M436.0 404.5h0M436.5 404.4h0M437.0 404.2h0M437.5 403.9h0M438.0 404.3h0M438.4 404.8h0M438.9 404.4h0M439.3 404.2h0M439.8 404.5h0M440.2 404.2h0M440.6 404.6h0M441.1 404.0h0M441.5 404.2h0M441.9 404.6h0M442.3 404.6h0M442.6 404.4h0M443.0 404.0h0M443.4 404.3h0M443.8 404.5h0M444.1 404.2h0M444.5 404.3h0M444.8 404.5h0M445.2 404.2h0M445.5 404.4h0M445.9 404.3h0M446.2 404.1h0M446.5 404.0h0M446.9 404.2h0M447.2 404.1h0M447.5 404.5h0M447.8 404.3h0M448.1 403.9h0M448.4 404.6h0M448.7 404.8h0M449.0 404.2h0M449.3 404.4h0M449.6 404.3h0M449.9 404.5h0M450.2 404.3h0M450.4 404.4h0M450.7 404.3h0M451.0 404.2h0M451.2 404.2h0M451.5 404.1h0M451.8 404.1h0M452.0 404.2h0M452.3 404.8h0M452.5 404.4h0M452.8 404.6h0M453.0 403.9h0M453.3 404.2h0M453.5 404.4h0M453.8 404.5h0M454.0 404.3h0M454.3 404.1h0M454.5 403.9h0M454.7 404.2h0M454.9 403.9h0M455.2 404.2h0M455.4 404.1h0M455.6 404.0h0M455.8 404.0h0M456.1 403.9h0M456.3 403.9h0M456.5 404.2h0M456.7 404.0h0M456.9 404.0h0M457.1 404.3h0M457.3 404.2h0M457.5 404.2h0M457.7 403.8h0M457.9 404.3h0M458.1 404.2h0M458.3 403.9h0M458.5 404.0h0M458.7 404.3h0M458.9 404.3h0M459.1 404.0h0M459.3 403.9h0M459.5 404.3h0M459.7 404.0h0M459.9 404.2h0M460.0 404.1h0M460.2 404.0h0M460.4 404.0h0M460.6 404.4h0M460.8 404.0h0M460.9 404.1h0M461.1 403.9h0M461.3 404.5h0M461.5 404.1h0M461.6 403.8h0M461.8 404.0h0M462.0 403.7h0M462.1 404.0h0M462.3 403.8h0M462.5 404.3h0M462.6 404.3h0M462.8 404.5h0M463.0 404.0h0M463.1 403.8h0M463.3 403.6h0M463.5 404.1h0M463.6 403.9h0M463.8 404.3h0M463.9 404.4h0M464.1 403.7h0M464.2 404.0h0M464.4 404.3h0M464.5 403.7h0M464.7 403.7h0M464.8 404.2h0M465.0 404.1h0M465.1 403.6h0M465.3 404.1h0M465.4 403.9h0M465.6 404.0h0M465.7 404.0h0M465.9 404.3h0M466.0 404.1h0M466.1 403.8h0M466.3 404.2h0M466.4 404.1h0M466.6 404.0h0M466.7 403.8h0M466.8 403.8h0M467.0 403.9h0M467.1 404.2h0M467.3 404.0h0M467.4 404.0h0M467.5 404.0h0M467.7 404.0h0M467.8 403.9h0M467.9 403.9h0M468.0 403.5h0M468.2 403.9h0M468.3 404.1h0M468.4 403.9h0M468.6 404.2h0M468.7 404.2h0M468.8 403.8h0M468.9 403.6h0M469.1 403.9h0M469.2 403.6h0M469.3 404.0h0M469.4 403.8h0M469.6 404.0h0M469.7 403.8h0M469.8 403.7h0M469.9 404.2h0M470.0 403.8h0M470.2 403.9h0M470.3 403.9h0M470.4 403.8h0M470.5 403.8h0M470.6 403.6h0M470.8 403.8h0M470.9 403.9h0M471.0 403.6h0M471.1 403.5h0M471.2 403.7h0M471.3 403.9h0M471.4 404.0h0M471.6 403.9h0M471.7 403.6h0M471.8 403.9h0M471.9 403.8h0M472.0 404.0h0M472.1 403.9h0M472.2 403.6h0M472.3 403.8h0M472.4 403.8h0M472.5 404.0h0M472.7 404.2h0M472.8 403.5h0M472.9 403.7h0M473.0 403.7h0M473.1 403.7h0M473.2 403.7h0M473.3 404.1h0M473.4 403.9h0M473.5 403.8h0M473.6 403.9h0M473.7 403.8h0M473.8 403.7h0M473.9 403.8h0M474.0 403.9h0M474.1 404.0h0M474.2 403.6h0M474.3 403.8h0M474.4 403.8h0M474.5 403.8h0M474.6 403.7h0M474.7 403.7h0M474.8 403.4h0M474.9 403.6h0M475.0 403.6h0M475.1 403.6h0M475.2 403.8h0M475.3 403.7h0M475.4 403.6h0M475.5 403.6h0M475.6 403.8h0M475.7 403.4h0M475.8 404.0h0M475.9 403.5h0M475.9 403.6h0M476.0 403.7h0M476.1 403.7h0M476.2 403.8h0M476.3 403.3h0M476.4 403.7h0M476.5 403.5h0M476.6 404.0h0M476.7 403.3h0M476.8 403.7h0M476.9 403.8h0M476.9 403.7h0M477.0 403.7h0M477.1 403.7h0M477.2 403.8h0M477.3 403.9h0M477.4 403.7h0M477.5 403.9h0M477.6 403.7h0M477.7 403.9h0M477.7 403.4h0M477.8 404.0h0M477.9 403.8h0M478.0 403.8h0M478.1 404.0h0M478.2 403.5h0M478.3 403.5h0M478.3 403.2h0M478.4 403.9h0M478.5 403.8h0M478.6 404.1h0M478.7 403.7h0M478.8 403.7h0M478.8 403.7h0M478.9 403.7h0M479.0 403.7h0M479.1 403.5h0M479.2 403.5h0M479.2 403.6h0M479.3 403.4h0M479.4 403.9h0M479.5 403.5h0M479.6 403.6h0M479.6 403.6h0M479.7 403.5h0M479.8 403.9h0M479.9 403.7h0M480.0 403.8h0M480.0 403.4h0M480.1 403.5h0M480.2 403.2h0M480.3 403.9h0M480.3 403.5h0M480.4 403.7h0M480.5 403.9h0M480.6 403.3h0M480.7 403.8h0M480.7 403.6h0M480.8 403.7h0M480.9 403.7h0M481.0 403.7h0M481.0 403.6h0M481.1 403.3h0M481.2 403.4h0M481.3 403.6h0M481.3 403.6h0M481.4 403.4h0M481.5 403.5h0M481.6 403.6h0M481.6 403.8h0M481.7 403.6h0M481.8 403.5h0M481.8 403.6h0M481.9 403.4h0M482.0 403.7h0M482.1 403.3h0M482.1 403.7h0M482.2 403.4h0M482.3 403.8h0M482.3 403.5h0M482.4 403.5h0M482.5 403.6h0M482.6 403.5h0M482.6 403.6h0M482.7 403.9h0M482.8 403.7h0M482.8 403.7h0M482.9 403.2h0M483.0 403.8h0M483.0 403.7h0M483.1 403.5h0M483.2 403.3h0M483.3 403.3h0M483.3 403.4h0M483.4 403.5h0M483.5 403.6h0M483.5 403.6h0M483.6 403.6h0M483.7 403.6h0M483.7 403.5h0M483.8 403.3h0M483.9 404.0h0M483.9 403.7h0M484.0 403.7h0M484.1 403.5h0M484.1 403.3h0M484.2 403.8h0M484.3 403.4h0M484.3 403.3h0M484.4 403.7h0M484.4 403.8h0M484.5 403.5h0M484.6 403.6h0M484.6 403.7h0M484.7 403.6h0M484.8 403.5h0M484.8 403.7h0M484.9 403.7h0M485.0 403.4h0M485.0 403.5h0M485.1 403.6h0M485.2 403.7h0M485.2 403.6h0M485.3 403.4h0M485.3 403.6h0M485.4 403.3h0M485.5 403.5h0M485.5 403.7h0M485.6 403.5h0M485.6 403.6h0M485.7 403.6h0M485.8 403.5h0M485.8 403.3h0M485.9 403.3h0M486.0 403.7h0M486.0 403.5h0M486.1 403.2h0M486.1 403.8h0M486.2 403.4h0M486.3 403.2h0M486.3 403.9h0M486.4 403.6h0M486.4 403.5h0M486.5 403.6h0M486.6 403.6h0M486.6 403.4h0M486.7 403.6h0M486.7 403.4h0M486.8 403.3h0M486.9 403.2h0M486.9 403.5h0M487.0 403.9h0M487.0 403.3h0M487.1 403.3h0M487.1 403.6h0M487.2 403.9h0M487.3 403.4h0M487.3 403.5h0M487.4 403.4h0M487.4 403.4h0M487.5 403.7h0M487.5 403.4h0M487.6 403.7h0M487.7 403.6h0M487.7 403.4h0" stroke="#ff0a0a" stroke-width="3.40" stroke-linecap="round" fill="none"/>
<path d="M478,403 C480,400 482,397 484,399 C486,401 488,402 489,404" fill="#ff0a0a" stroke="#ff0a0a" stroke-width="2"/>
<line x1="421.90" y1="319.50" x2="421.90" y2="398.00" stroke="#2828ff" stroke-width="1.1"/>
<path d="M421.9,315.8 l-2.4,5.2 l4.8,0 z" fill="#2828ff"/>
<path d="M421.9,401.6 l-2.4,-5.2 l4.8,0 z" fill="#2828ff"/>
<rect x="326.00" y="262.00" width="198.60" height="185.20" fill="none" stroke="#000" stroke-width="2.2"/>
<text x="318.80" y="452.55" font-size="15.5" text-anchor="end" font-weight="bold">10<tspan font-size="10.0" dy="-6.24">2</tspan></text>
<text x="318.80" y="402.52" font-size="15.5" text-anchor="end" font-weight="bold">10<tspan font-size="10.0" dy="-6.24">3</tspan></text>
<text x="318.80" y="352.48" font-size="15.5" text-anchor="end" font-weight="bold">10<tspan font-size="10.0" dy="-6.24">4</tspan></text>
<text x="318.80" y="302.45" font-size="15.5" text-anchor="end" font-weight="bold">10<tspan font-size="10.0" dy="-6.24">5</tspan></text>
<text x="325.90" y="469.03" font-size="15.4" text-anchor="middle" font-weight="bold">10<tspan font-size="9.8" dy="-7.21">1</tspan></text>
<text x="379.95" y="469.03" font-size="15.4" text-anchor="middle" font-weight="bold">10<tspan font-size="9.8" dy="-7.21">2</tspan></text>
<text x="434.00" y="469.03" font-size="15.4" text-anchor="middle" font-weight="bold">10<tspan font-size="9.8" dy="-7.21">3</tspan></text>
<text x="488.05" y="469.03" font-size="15.4" text-anchor="middle" font-weight="bold">10<tspan font-size="9.8" dy="-7.21">4</tspan></text>
<text id="pa" x="8.59" y="30.85" font-size="17.86" font-weight="bold" fill="#000">(a)</text>
<text id="pb" x="274.60" y="28.95" font-size="18.93" font-weight="bold" fill="#000">(b)</text>
<text id="pc" x="12.55" y="278.55" font-size="18.93" font-weight="bold" fill="#000">(c)</text>
<text id="pd" x="274.40" y="278.50" font-size="18.60" font-weight="bold" fill="#000">(d)</text>
<text id="tan" x="67.80" y="34.25" font-size="11.91" font-weight="normal" fill="#000"><tspan stroke="#000" stroke-width="0.35">TaN/HfO<tspan font-size="7.6" dy="3">2</tspan><tspan dy="-3">/Al</tspan><tspan font-size="7.6" dy="3">2</tspan><tspan dy="-3">O</tspan><tspan font-size="7.6" dy="3">3</tspan><tspan dy="-3">/HfO</tspan><tspan font-size="7.6" dy="3">2</tspan><tspan dy="-3">/ITO</tspan></tspan></text>
<text id="forming" x="68.75" y="150.50" font-size="11.89" font-weight="bold" fill="#000">Forming</text>
<text id="first" x="215.25" y="89.90" font-size="11.29" font-weight="bold" fill="#000">First</text>
<text id="reseta" x="216.25" y="104.30" font-size="11.39" font-weight="bold" fill="#000">RESET</text>
<text id="set" x="369.40" y="110.50" font-size="12.83" font-weight="bold" fill="#000">SET</text>
<text id="resetb" x="471.60" y="117.00" font-size="12.21" font-weight="bold" fill="#000">RESET</text>
<text id="va" x="120.10" y="243.40" font-size="16.04" font-weight="bold" fill="#000">Voltage (V)</text>
<text id="vb" x="387.50" y="244.10" font-size="16.04" font-weight="bold" fill="#000">Voltage (V)</text>
<text id="ca" transform="translate(20.01,115.80) rotate(-90)" font-size="15.64" text-anchor="middle" font-weight="bold" fill="#000">Current (A)</text>
<text id="cb" transform="translate(288.91,116.75) rotate(-90)" font-size="15.89" text-anchor="middle" font-weight="bold" fill="#000">Current (A)</text>
<text id="rc" transform="translate(25.86,354.10) rotate(-90)" font-size="15.60" text-anchor="middle" font-weight="bold" fill="#000">Resistance (Ω)</text>
<text id="rd" transform="translate(290.26,367.30) rotate(-90)" font-size="15.60" text-anchor="middle" font-weight="bold" fill="#000">Resistance (Ω)</text>
<text id="hrsc" x="65.95" y="283.30" font-size="15.75" font-weight="bold" fill="#000">HRS</text>
<text id="hrsd" x="352.95" y="292.85" font-size="15.54" font-weight="bold" fill="#000">HRS</text>
<text id="lrsc" x="70.25" y="435.55" font-size="15.92" font-weight="bold" fill="#ff0000">LRS</text>
<text id="lrsd" x="353.05" y="431.95" font-size="15.93" font-weight="bold" fill="#ff0000">LRS</text>
<text id="readc" x="158.60" y="439.90" font-size="15.94" font-weight="bold" fill="#1414f0">Read @ 0.1V</text>
<text id="readd" x="419.30" y="438.65" font-size="15.82" font-weight="bold" fill="#1414f0">Read @ 0.1 V</text>
<text id="ionc" x="127.60" y="353.60" font-size="14.56" font-weight="bold" fill="#000">I<tspan font-size="0.76em" dy="0.368em">on</tspan><tspan dy="-0.28em">/I</tspan><tspan font-size="0.76em" dy="0.368em">off</tspan><tspan dy="-0.28em"> &gt;10</tspan></text>
<text id="iond" x="426.70" y="364.50" font-size="13.43" font-weight="bold" fill="#000">I<tspan font-size="0.76em" dy="0.368em">on</tspan><tspan dy="-0.28em">/I</tspan><tspan font-size="0.76em" dy="0.368em">off</tspan><tspan dy="-0.28em"> &gt; 10</tspan></text>
<text id="nc" x="95.50" y="488.60" font-size="15.63" font-weight="bold" fill="#000">Number of cycles</text>
<text id="rt" x="358.55" y="490.20" font-size="15.84" font-weight="bold" fill="#000">Retention time (s)</text>
</svg>
</body></html>
